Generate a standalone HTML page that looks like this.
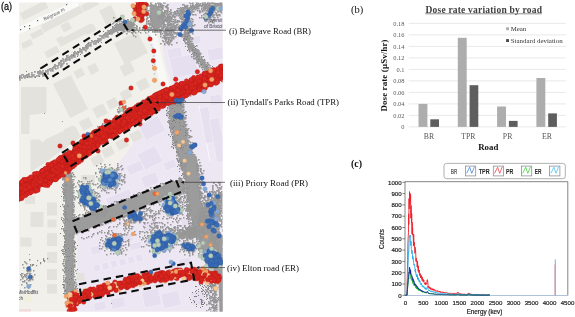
<!DOCTYPE html>
<html><head><meta charset="utf-8"><title>Figure</title><style>html,body{margin:0;padding:0;background:#fff}svg{display:block}</style></head><body>
<svg width="575" height="317" viewBox="0 0 575 317">
<rect width="575" height="317" fill="#fff"/>
<style>.r{fill:#d9251f;stroke:#b51a17}.b{fill:#3a6cb5;stroke:#2a569c}.m{fill:#5b89c6;stroke:#3f6fb0}.o{fill:#f2a36a;stroke:#dd874a}.p{fill:#f8c994;stroke:#e8ad72}.g{fill:#b8ccba;stroke:#9db3a3}.l{fill:#86a8d2;stroke:#6a8fc0}</style>
<defs><clipPath id="mc"><rect x="19" y="2.5" width="203.5" height="309.0"/></clipPath></defs>
<g clip-path="url(#mc)">
<rect x="18" y="2" width="206" height="311" fill="#f1f0eb"/>
<path d="M161 2L224 2L224 313L77 313L77 236L98 192L135 141L150 113L178 98L167 70L161 40Z" fill="#ece7f3"/>
<path d="M18 31L78 3" fill="none" stroke="#fafaf8" stroke-width="6.5" stroke-linecap="butt" stroke-linejoin="round"/>
<path d="M150 2L152 30L158 60L166 90" fill="none" stroke="#f8f8f6" stroke-width="8" stroke-linecap="butt" stroke-linejoin="round"/>
<path d="M199 106L210 161" fill="none" stroke="#f8f6fb" stroke-width="1.2" stroke-linecap="butt" stroke-linejoin="round"/>
<rect x="20" y="6.5" width="28" height="8" fill="#e3e2dc" transform="rotate(-27 34 10.5)"/>
<rect x="40" y="15" width="44" height="8" fill="#e3e2dc" transform="rotate(-27 62 19)"/>
<rect x="61.5" y="23" width="9" height="8" fill="#e3e2dc" transform="rotate(-27 66 27)"/>
<rect x="30.5" y="31" width="13" height="6" fill="#e3e2dc" transform="rotate(-27 37 34)"/>
<rect x="21.5" y="41" width="11" height="6" fill="#e3e2dc" transform="rotate(-27 27 44)"/>
<rect x="56.5" y="37" width="7" height="4" fill="#e3e2dc" transform="rotate(-27 60 39)"/>
<rect x="57" y="31.5" width="38" height="7" fill="#e3e2dc" transform="rotate(-27 76 35)"/>
<rect x="84.5" y="26" width="11" height="7" fill="#e3e2dc" transform="rotate(-27 90 29.5)"/>
<rect x="81.5" y="1.5" width="17" height="7" fill="#e3e2dc" transform="rotate(-27 90 5)"/>
<rect x="102" y="7" width="13" height="16" fill="#e3e2dc" transform="rotate(-27 108.5 15)"/>
<rect x="45" y="48.5" width="14" height="7" fill="#e3e2dc" transform="rotate(-27 52 52)"/>
<rect x="118" y="36" width="26" height="24" fill="#e3e2dc" transform="rotate(-27 131 48)"/>
<rect x="60.5" y="77.5" width="20" height="38" fill="#e3e2dc" transform="rotate(-27 70.5 96.5)"/>
<rect x="94" y="105.5" width="12" height="11" fill="#e3e2dc" transform="rotate(-27 100 111)"/>
<rect x="107.6" y="98.9" width="10" height="9" fill="#e3e2dc" transform="rotate(-27 112.6 103.4)"/>
<rect x="121" y="90.1" width="10" height="9" fill="#e3e2dc" transform="rotate(-27 126 94.6)"/>
<rect x="137.4" y="79.5" width="11" height="10" fill="#e3e2dc" transform="rotate(-27 142.9 84.5)"/>
<rect x="121.2" y="63.4" width="12" height="11" fill="#e3e2dc" transform="rotate(-27 127.2 68.9)"/>
<rect x="74.8" y="69.2" width="9" height="8" fill="#e3e2dc" transform="rotate(-27 79.3 73.2)"/>
<rect x="88.7" y="64.4" width="9" height="9" fill="#e3e2dc" transform="rotate(-27 93.2 68.9)"/>
<rect x="80.5" y="119" width="11" height="10" fill="#e3e2dc" transform="rotate(-27 86 124)"/>
<rect x="102.5" y="147.5" width="11" height="9" fill="#e3e2dc" transform="rotate(-27 108 152)"/>
<rect x="116.5" y="139.5" width="11" height="9" fill="#e3e2dc" transform="rotate(-27 122 144)"/>
<rect x="130.5" y="131.5" width="11" height="9" fill="#e3e2dc" transform="rotate(-27 136 136)"/>
<rect x="91.5" y="155.5" width="11" height="9" fill="#e3e2dc" transform="rotate(-27 97 160)"/>
<rect x="65" y="127" width="10" height="8" fill="#e3e2dc" transform="rotate(-27 70 131)"/>
<rect x="47" y="202.5" width="10" height="13" fill="#e3e2dc"/>
<rect x="47.5" y="219.5" width="9" height="8" fill="#e3e2dc"/>
<rect x="47" y="233" width="10" height="13" fill="#e3e2dc"/>
<rect x="47" y="252" width="10" height="11" fill="#e3e2dc"/>
<rect x="47" y="269" width="10" height="11" fill="#e3e2dc"/>
<rect x="47" y="284.2" width="10" height="9.5" fill="#e3e2dc"/>
<rect x="30.5" y="212" width="13" height="15" fill="#e3e2dc"/>
<rect x="20.5" y="237.5" width="11" height="9" fill="#e3e2dc"/>
<rect x="81" y="175" width="14" height="10" fill="#e3e2dc"/>
<rect x="79.5" y="288" width="9" height="8" fill="#e3e2dc"/>
<rect x="25" y="196" width="10" height="8" fill="#e3e2dc"/>
<rect x="18" y="309" width="13" height="4" fill="#f1dcdc"/><rect x="22.7" y="294.4" width="9.5" height="7.4" fill="#f1f0de"/>
<path d="M21 87L46.5 87L46.5 113L29.5 115L29.5 134L21 134ZM30.5 139.5L39.5 139.5L42.5 142.5L47 138.5L75 126L81 137L40 166L30.5 172Z" fill="#e3e2dc"/>
<rect x="168" y="48" width="14" height="12" fill="#e5dff0" transform="rotate(-10 175 54)" stroke="#f4f1f8" stroke-width="0.5"/>
<rect x="171" y="56" width="26" height="20" fill="#e5dff0" transform="rotate(-12 184 66)" stroke="#f4f1f8" stroke-width="0.5"/>
<rect x="208" y="48" width="16" height="12" fill="#e5dff0" transform="rotate(-10 216 54)" stroke="#f4f1f8" stroke-width="0.5"/>
<rect x="191" y="36" width="10" height="8" fill="#e5dff0" transform="rotate(-10 196 40)" stroke="#f4f1f8" stroke-width="0.5"/>
<rect x="141" y="119.5" width="22" height="17" fill="#e5dff0" transform="rotate(-27 152 128)" stroke="#f4f1f8" stroke-width="0.5"/>
<rect x="140" y="149" width="20" height="18" fill="#e5dff0" transform="rotate(-27 150 158)" stroke="#f4f1f8" stroke-width="0.5"/>
<rect x="202.5" y="107" width="9" height="36" fill="#e5dff0" transform="rotate(-10 207 125)" stroke="#f4f1f8" stroke-width="0.5"/>
<rect x="213" y="118" width="10" height="44" fill="#e5dff0" transform="rotate(-10 218 140)" stroke="#f4f1f8" stroke-width="0.5"/>
<rect x="210" y="95" width="12" height="10" fill="#e5dff0" transform="rotate(-10 216 100)" stroke="#f4f1f8" stroke-width="0.5"/>
<rect x="107" y="193" width="26" height="14" fill="#e5dff0" transform="rotate(-22 120 200)" stroke="#f4f1f8" stroke-width="0.5"/>
<rect x="142" y="174" width="16" height="12" fill="#e5dff0" transform="rotate(-22 150 180)" stroke="#f4f1f8" stroke-width="0.5"/>
<rect x="127" y="163" width="16" height="10" fill="#e5dff0" transform="rotate(-22 135 168)" stroke="#f4f1f8" stroke-width="0.5"/>
<rect x="164" y="161" width="12" height="8" fill="#e5dff0" transform="rotate(-22 170 165)" stroke="#f4f1f8" stroke-width="0.5"/>
<rect x="99" y="217.5" width="12" height="9" fill="#e5dff0" transform="rotate(-22 105 222)" stroke="#f4f1f8" stroke-width="0.5"/>
<rect x="93.8" y="264.5" width="6.5" height="7" fill="#e5dff0" transform="rotate(-14 97 268)" stroke="#f4f1f8" stroke-width="0.5"/>
<rect x="102.2" y="262.5" width="6.5" height="7" fill="#e5dff0" transform="rotate(-14 105.5 266)" stroke="#f4f1f8" stroke-width="0.5"/>
<rect x="110.8" y="260.5" width="6.5" height="7" fill="#e5dff0" transform="rotate(-14 114 264)" stroke="#f4f1f8" stroke-width="0.5"/>
<rect x="119.2" y="258.5" width="6.5" height="7" fill="#e5dff0" transform="rotate(-14 122.5 262)" stroke="#f4f1f8" stroke-width="0.5"/>
<rect x="127.8" y="256.5" width="6.5" height="7" fill="#e5dff0" transform="rotate(-14 131 260)" stroke="#f4f1f8" stroke-width="0.5"/>
<rect x="136.2" y="254.5" width="6.5" height="7" fill="#e5dff0" transform="rotate(-14 139.5 258)" stroke="#f4f1f8" stroke-width="0.5"/>
<rect x="130" y="242.5" width="12" height="7" fill="#e5dff0" transform="rotate(-14 136 246)" stroke="#f4f1f8" stroke-width="0.5"/>
<rect x="144" y="239.5" width="12" height="7" fill="#e5dff0" transform="rotate(-14 150 243)" stroke="#f4f1f8" stroke-width="0.5"/>
<rect x="91" y="246" width="10" height="8" fill="#e5dff0" transform="rotate(-14 96 250)" stroke="#f4f1f8" stroke-width="0.5"/>
<rect x="143" y="289.5" width="17" height="17" fill="#e5dff0" transform="rotate(-12 151.5 298)" stroke="#f4f1f8" stroke-width="0.5"/>
<rect x="162" y="292" width="18" height="15" fill="#e5dff0" transform="rotate(-12 171 299.5)" stroke="#f4f1f8" stroke-width="0.5"/>
<rect x="191" y="291" width="14" height="14" fill="#e5dff0" transform="rotate(-12 198 298)" stroke="#f4f1f8" stroke-width="0.5"/>
<rect x="111" y="298" width="14" height="10" fill="#e5dff0" transform="rotate(-12 118 303)" stroke="#f4f1f8" stroke-width="0.5"/>
<rect x="94" y="302" width="12" height="8" fill="#e5dff0" transform="rotate(-12 100 306)" stroke="#f4f1f8" stroke-width="0.5"/>
<rect x="142" y="221" width="16" height="10" fill="#e5dff0" transform="rotate(-20 150 226)" stroke="#f4f1f8" stroke-width="0.5"/>
<rect x="181" y="218" width="10" height="8" fill="#e5dff0" transform="rotate(-20 186 222)" stroke="#f4f1f8" stroke-width="0.5"/>
<rect x="123" y="234" width="10" height="8" fill="#e5dff0" transform="rotate(-20 128 238)" stroke="#f4f1f8" stroke-width="0.5"/>
<rect x="179" y="258" width="12" height="8" fill="#e5dff0" transform="rotate(-12 185 262)" stroke="#f4f1f8" stroke-width="0.5"/>
<path fill="#9e9e9e" d="M66 55h1.8v1.8h-1.8zM69 56h1.8v1.8h-1.8zM73 53h1.8v1.8h-1.8zM74 53h1.8v1.8h-1.8zM87 46h1.8v1.8h-1.8zM52 67h1.8v1.8h-1.8zM27 76h1.8v1.8h-1.8zM21 74h1.8v1.8h-1.8zM125 25h1.8v1.8h-1.8zM85 46h1.8v1.8h-1.8zM36 75h1.8v1.8h-1.8zM23 76h1.8v1.8h-1.8zM39 73h1.8v1.8h-1.8zM69 57h1.8v1.8h-1.8zM67 59h1.8v1.8h-1.8zM87 44h1.8v1.8h-1.8zM73 54h1.8v1.8h-1.8zM49 68h1.8v1.8h-1.8zM127 24h1.8v1.8h-1.8zM95 40h1.8v1.8h-1.8zM54 67h1.8v1.8h-1.8zM25 76h1.8v1.8h-1.8zM100 35h1.8v1.8h-1.8zM62 63h1.8v1.8h-1.8zM122 24h1.8v1.8h-1.8zM42 72h1.8v1.8h-1.8zM116 27h1.8v1.8h-1.8zM25 76h1.8v1.8h-1.8zM87 46h1.8v1.8h-1.8zM27 74h1.8v1.8h-1.8zM57 67h1.8v1.8h-1.8zM31 74h1.8v1.8h-1.8zM46 71h1.8v1.8h-1.8zM104 35h1.8v1.8h-1.8zM38 72h1.8v1.8h-1.8zM39 72h1.8v1.8h-1.8zM98 40h1.8v1.8h-1.8zM31 76h1.8v1.8h-1.8zM65 60h1.8v1.8h-1.8zM123 25h1.8v1.8h-1.8zM104 33h1.8v1.8h-1.8zM43 75h1.8v1.8h-1.8zM63 62h1.8v1.8h-1.8zM28 73h1.8v1.8h-1.8zM125 23h1.8v1.8h-1.8zM102 37h1.8v1.8h-1.8zM55 65h1.8v1.8h-1.8zM27 75h1.8v1.8h-1.8zM82 49h1.8v1.8h-1.8zM61 64h1.8v1.8h-1.8zM69 59h1.8v1.8h-1.8zM81 49h1.8v1.8h-1.8zM112 30h1.8v1.8h-1.8zM117 28h1.8v1.8h-1.8zM107 33h1.8v1.8h-1.8zM99 39h1.8v1.8h-1.8zM120 27h1.8v1.8h-1.8zM114 30h1.8v1.8h-1.8zM65 60h1.8v1.8h-1.8zM122 24h1.8v1.8h-1.8zM45 70h1.8v1.8h-1.8zM107 32h1.8v1.8h-1.8zM83 48h1.8v1.8h-1.8zM97 40h1.8v1.8h-1.8zM25 75h1.8v1.8h-1.8zM111 33h1.8v1.8h-1.8zM85 46h1.8v1.8h-1.8zM42 75h1.8v1.8h-1.8zM18 76h1.8v1.8h-1.8zM24 77h1.8v1.8h-1.8zM38 72h1.8v1.8h-1.8zM32 75h1.8v1.8h-1.8zM60 66h1.8v1.8h-1.8zM88 42h1.8v1.8h-1.8zM93 41h1.8v1.8h-1.8zM20 76h1.8v1.8h-1.8zM19 78h1.8v1.8h-1.8zM121 23h1.8v1.8h-1.8zM19 75h1.8v1.8h-1.8zM97 38h1.8v1.8h-1.8zM54 67h1.8v1.8h-1.8zM78 51h1.8v1.8h-1.8zM99 40h1.8v1.8h-1.8zM94 40h1.8v1.8h-1.8zM105 36h1.8v1.8h-1.8zM92 41h1.8v1.8h-1.8zM116 29h1.8v1.8h-1.8zM103 34h1.8v1.8h-1.8zM110 29h1.8v1.8h-1.8zM60 61h1.8v1.8h-1.8zM82 48h1.8v1.8h-1.8zM88 45h1.8v1.8h-1.8zM126 24h1.8v1.8h-1.8zM60 60h1.8v1.8h-1.8zM97 38h1.8v1.8h-1.8zM108 31h1.8v1.8h-1.8zM26 75h1.8v1.8h-1.8zM84 47h1.8v1.8h-1.8zM71 56h1.8v1.8h-1.8zM74 56h1.8v1.8h-1.8zM86 48h1.8v1.8h-1.8zM17 76h1.8v1.8h-1.8zM52 67h1.8v1.8h-1.8zM37 72h1.8v1.8h-1.8zM115 27h1.8v1.8h-1.8zM114 27h1.8v1.8h-1.8zM55 65h1.8v1.8h-1.8zM65 58h1.8v1.8h-1.8zM107 36h1.8v1.8h-1.8zM60 61h1.8v1.8h-1.8zM82 49h1.8v1.8h-1.8zM73 55h1.8v1.8h-1.8zM109 33h1.8v1.8h-1.8zM120 23h1.8v1.8h-1.8zM50 70h1.8v1.8h-1.8zM50 70h1.8v1.8h-1.8zM42 70h1.8v1.8h-1.8zM73 56h1.8v1.8h-1.8zM55 68h1.8v1.8h-1.8zM67 55h1.8v1.8h-1.8zM20 76h1.8v1.8h-1.8zM95 40h1.8v1.8h-1.8zM80 49h1.8v1.8h-1.8zM19 79h1.8v1.8h-1.8zM33 74h1.8v1.8h-1.8zM108 33h1.8v1.8h-1.8zM45 71h1.8v1.8h-1.8zM87 46h1.8v1.8h-1.8zM67 57h1.8v1.8h-1.8zM105 33h1.8v1.8h-1.8zM121 24h1.8v1.8h-1.8zM70 55h1.8v1.8h-1.8zM38 75h1.8v1.8h-1.8zM96 40h1.8v1.8h-1.8zM38 73h1.8v1.8h-1.8zM95 42h1.8v1.8h-1.8zM74 51h1.8v1.8h-1.8zM61 60h1.8v1.8h-1.8zM104 35h1.8v1.8h-1.8zM119 26h1.8v1.8h-1.8zM97 41h1.8v1.8h-1.8zM87 47h1.8v1.8h-1.8zM116 26h1.8v1.8h-1.8zM114 30h1.8v1.8h-1.8zM105 36h1.8v1.8h-1.8zM89 44h1.8v1.8h-1.8zM41 72h1.8v1.8h-1.8zM87 43h1.8v1.8h-1.8zM96 41h1.8v1.8h-1.8zM125 26h1.8v1.8h-1.8zM122 21h1.8v1.8h-1.8zM54 66h1.8v1.8h-1.8zM117 28h1.8v1.8h-1.8zM26 74h1.8v1.8h-1.8zM66 56h1.8v1.8h-1.8zM71 54h1.8v1.8h-1.8zM20 76h1.8v1.8h-1.8zM104 34h1.8v1.8h-1.8zM37 72h1.8v1.8h-1.8zM34 76h1.8v1.8h-1.8zM34 71h1.8v1.8h-1.8zM109 32h1.8v1.8h-1.8zM94 43h1.8v1.8h-1.8zM120 24h1.8v1.8h-1.8zM27 75h1.8v1.8h-1.8zM52 70h1.8v1.8h-1.8zM97 38h1.8v1.8h-1.8zM108 30h1.8v1.8h-1.8zM79 50h1.8v1.8h-1.8zM110 33h1.8v1.8h-1.8zM116 29h1.8v1.8h-1.8zM124 26h1.8v1.8h-1.8zM75 52h1.8v1.8h-1.8zM77 52h1.8v1.8h-1.8zM73 54h1.8v1.8h-1.8zM123 24h1.8v1.8h-1.8zM74 51h1.8v1.8h-1.8zM80 51h1.8v1.8h-1.8zM72 55h1.8v1.8h-1.8zM77 51h1.8v1.8h-1.8zM66 63h1.8v1.8h-1.8zM48 69h1.8v1.8h-1.8zM71 57h1.8v1.8h-1.8zM107 34h1.8v1.8h-1.8zM115 27h1.8v1.8h-1.8zM40 73h1.8v1.8h-1.8zM86 47h1.8v1.8h-1.8zM102 36h1.8v1.8h-1.8zM19 77h1.8v1.8h-1.8zM93 43h1.8v1.8h-1.8zM54 65h1.8v1.8h-1.8zM29 76h1.8v1.8h-1.8zM98 40h1.8v1.8h-1.8zM47 71h1.8v1.8h-1.8zM40 71h1.8v1.8h-1.8zM60 62h1.8v1.8h-1.8zM63 59h1.8v1.8h-1.8zM41 72h1.8v1.8h-1.8zM86 45h1.8v1.8h-1.8zM109 30h1.8v1.8h-1.8zM85 47h1.8v1.8h-1.8zM98 38h1.8v1.8h-1.8zM106 35h1.8v1.8h-1.8zM53 66h1.8v1.8h-1.8zM118 27h1.8v1.8h-1.8zM113 27h1.8v1.8h-1.8zM45 71h1.8v1.8h-1.8zM28 74h1.8v1.8h-1.8zM107 30h1.8v1.8h-1.8zM32 75h1.8v1.8h-1.8zM63 61h1.8v1.8h-1.8zM41 72h1.8v1.8h-1.8zM91 40h1.8v1.8h-1.8zM73 52h1.8v1.8h-1.8zM99 35h1.8v1.8h-1.8zM39 73h1.8v1.8h-1.8zM25 76h1.8v1.8h-1.8zM79 51h1.8v1.8h-1.8zM74 53h1.8v1.8h-1.8zM39 73h1.8v1.8h-1.8zM42 74h1.8v1.8h-1.8zM117 24h1.8v1.8h-1.8zM24 77h1.8v1.8h-1.8zM101 36h1.8v1.8h-1.8zM54 64h1.8v1.8h-1.8zM66 59h1.8v1.8h-1.8zM85 50h1.8v1.8h-1.8zM109 32h1.8v1.8h-1.8zM38 71h1.8v1.8h-1.8zM63 61h1.8v1.8h-1.8zM40 73h1.8v1.8h-1.8zM18 78h1.8v1.8h-1.8zM115 29h1.8v1.8h-1.8zM110 29h1.8v1.8h-1.8zM86 44h1.8v1.8h-1.8zM74 55h1.8v1.8h-1.8zM124 23h1.8v1.8h-1.8zM116 26h1.8v1.8h-1.8zM99 39h1.8v1.8h-1.8zM62 58h1.8v1.8h-1.8zM116 30h1.8v1.8h-1.8zM100 35h1.8v1.8h-1.8zM100 35h1.8v1.8h-1.8zM25 76h1.8v1.8h-1.8zM56 65h1.8v1.8h-1.8zM58 64h1.8v1.8h-1.8zM87 45h1.8v1.8h-1.8zM120 25h1.8v1.8h-1.8zM90 42h1.8v1.8h-1.8zM81 51h1.8v1.8h-1.8zM77 53h1.8v1.8h-1.8zM95 42h1.8v1.8h-1.8zM125 25h1.8v1.8h-1.8zM98 39h1.8v1.8h-1.8zM47 70h1.8v1.8h-1.8zM40 73h1.8v1.8h-1.8zM60 63h1.8v1.8h-1.8zM116 28h1.8v1.8h-1.8zM79 51h1.8v1.8h-1.8zM125 22h1.8v1.8h-1.8zM88 45h1.8v1.8h-1.8zM83 47h1.8v1.8h-1.8zM99 35h1.8v1.8h-1.8zM71 57h1.8v1.8h-1.8zM37 71h1.8v1.8h-1.8zM23 75h1.8v1.8h-1.8zM119 24h1.8v1.8h-1.8zM84 49h1.8v1.8h-1.8zM59 63h1.8v1.8h-1.8zM81 52h1.8v1.8h-1.8zM50 68h1.8v1.8h-1.8zM18 75h1.8v1.8h-1.8zM46 71h1.8v1.8h-1.8zM100 38h1.8v1.8h-1.8zM62 63h1.8v1.8h-1.8zM22 74h1.8v1.8h-1.8zM125 23h1.8v1.8h-1.8zM116 27h1.8v1.8h-1.8zM65 58h1.8v1.8h-1.8zM76 53h1.8v1.8h-1.8zM119 25h1.8v1.8h-1.8zM123 22h1.8v1.8h-1.8zM106 33h1.8v1.8h-1.8zM86 46h1.8v1.8h-1.8zM68 57h1.8v1.8h-1.8zM76 53h1.8v1.8h-1.8zM31 72h1.8v1.8h-1.8zM69 58h1.8v1.8h-1.8zM47 69h1.8v1.8h-1.8zM102 35h1.8v1.8h-1.8zM77 54h1.8v1.8h-1.8zM45 71h1.8v1.8h-1.8zM30 76h1.8v1.8h-1.8zM85 45h1.8v1.8h-1.8zM58 63h1.8v1.8h-1.8zM81 52h1.8v1.8h-1.8zM82 47h1.8v1.8h-1.8zM39 71h1.8v1.8h-1.8zM47 73h1.8v1.8h-1.8zM113 29h1.8v1.8h-1.8zM21 77h1.8v1.8h-1.8zM65 60h1.8v1.8h-1.8zM87 47h1.8v1.8h-1.8zM25 76h1.8v1.8h-1.8zM27 74h1.8v1.8h-1.8zM86 44h1.8v1.8h-1.8zM59 62h1.8v1.8h-1.8zM57 65h1.8v1.8h-1.8zM99 38h1.8v1.8h-1.8zM31 74h1.8v1.8h-1.8zM105 32h1.8v1.8h-1.8zM42 70h1.8v1.8h-1.8zM65 59h1.8v1.8h-1.8zM61 65h1.8v1.8h-1.8zM90 45h1.8v1.8h-1.8zM78 51h1.8v1.8h-1.8zM100 39h1.8v1.8h-1.8zM59 62h1.8v1.8h-1.8zM28 75h1.8v1.8h-1.8zM26 75h1.8v1.8h-1.8zM79 48h1.8v1.8h-1.8zM52 68h1.8v1.8h-1.8zM103 37h1.8v1.8h-1.8zM90 44h1.8v1.8h-1.8zM26 74h1.8v1.8h-1.8zM95 43h1.8v1.8h-1.8zM51 69h1.8v1.8h-1.8zM97 40h1.8v1.8h-1.8zM60 65h1.8v1.8h-1.8zM81 51h1.8v1.8h-1.8zM119 29h1.8v1.8h-1.8zM66 57h1.8v1.8h-1.8zM105 34h1.8v1.8h-1.8zM63 62h1.8v1.8h-1.8zM119 27h1.8v1.8h-1.8zM58 63h1.8v1.8h-1.8zM58 62h1.8v1.8h-1.8zM62 63h1.8v1.8h-1.8zM39 70h1.8v1.8h-1.8zM77 51h1.8v1.8h-1.8z"/>
<path fill="#7d7d7d" d="M109 33h1.0v1.0h-1.0zM39 76h1.0v1.0h-1.0zM112 28h1.0v1.0h-1.0zM19 77h1.0v1.0h-1.0zM78 52h1.0v1.0h-1.0zM124 26h1.0v1.0h-1.0zM103 31h1.0v1.0h-1.0zM80 54h1.0v1.0h-1.0zM26 71h1.0v1.0h-1.0zM101 42h1.0v1.0h-1.0zM27 77h1.0v1.0h-1.0zM35 77h1.0v1.0h-1.0zM88 43h1.0v1.0h-1.0zM44 74h1.0v1.0h-1.0zM77 56h1.0v1.0h-1.0zM61 60h1.0v1.0h-1.0zM124 26h1.0v1.0h-1.0zM73 55h1.0v1.0h-1.0zM98 42h1.0v1.0h-1.0zM117 27h1.0v1.0h-1.0z"/>
<path fill="#969696" d="M125 21h1.6v1.6h-1.6zM127 20h1.6v1.6h-1.6zM127 19h1.6v1.6h-1.6zM128 24h1.6v1.6h-1.6zM115 24h1.6v1.6h-1.6zM124 22h1.6v1.6h-1.6zM120 26h1.6v1.6h-1.6zM121 17h1.6v1.6h-1.6zM120 27h1.6v1.6h-1.6zM124 29h1.6v1.6h-1.6zM119 33h1.6v1.6h-1.6zM126 26h1.6v1.6h-1.6zM127 29h1.6v1.6h-1.6zM123 23h1.6v1.6h-1.6zM127 27h1.6v1.6h-1.6zM114 21h1.6v1.6h-1.6zM124 26h1.6v1.6h-1.6zM123 27h1.6v1.6h-1.6zM123 31h1.6v1.6h-1.6zM120 24h1.6v1.6h-1.6zM124 28h1.6v1.6h-1.6zM126 30h1.6v1.6h-1.6zM120 29h1.6v1.6h-1.6zM124 22h1.6v1.6h-1.6zM122 32h1.6v1.6h-1.6zM126 24h1.6v1.6h-1.6zM112 23h1.6v1.6h-1.6zM119 25h1.6v1.6h-1.6zM132 28h1.6v1.6h-1.6zM124 22h1.6v1.6h-1.6zM117 24h1.6v1.6h-1.6zM120 33h1.6v1.6h-1.6zM120 23h1.6v1.6h-1.6zM127 25h1.6v1.6h-1.6zM117 30h1.6v1.6h-1.6zM121 21h1.6v1.6h-1.6zM124 27h1.6v1.6h-1.6zM121 28h1.6v1.6h-1.6zM126 22h1.6v1.6h-1.6zM113 17h1.6v1.6h-1.6zM122 30h1.6v1.6h-1.6zM127 30h1.6v1.6h-1.6zM131 25h1.6v1.6h-1.6zM127 20h1.6v1.6h-1.6zM125 27h1.6v1.6h-1.6zM122 24h1.6v1.6h-1.6zM117 26h1.6v1.6h-1.6zM128 24h1.6v1.6h-1.6zM125 23h1.6v1.6h-1.6zM123 22h1.6v1.6h-1.6zM124 24h1.6v1.6h-1.6zM124 23h1.6v1.6h-1.6zM117 24h1.6v1.6h-1.6zM127 31h1.6v1.6h-1.6zM121 28h1.6v1.6h-1.6zM126 27h1.6v1.6h-1.6zM115 26h1.6v1.6h-1.6zM118 29h1.6v1.6h-1.6zM126 27h1.6v1.6h-1.6zM112 27h1.6v1.6h-1.6zM125 21h1.6v1.6h-1.6zM127 25h1.6v1.6h-1.6zM121 23h1.6v1.6h-1.6zM118 24h1.6v1.6h-1.6zM132 26h1.6v1.6h-1.6zM123 23h1.6v1.6h-1.6zM119 23h1.6v1.6h-1.6zM118 28h1.6v1.6h-1.6zM121 28h1.6v1.6h-1.6zM117 28h1.6v1.6h-1.6zM122 28h1.6v1.6h-1.6zM122 22h1.6v1.6h-1.6zM128 24h1.6v1.6h-1.6zM122 22h1.6v1.6h-1.6zM123 24h1.6v1.6h-1.6zM123 26h1.6v1.6h-1.6zM119 20h1.6v1.6h-1.6zM124 28h1.6v1.6h-1.6zM125 21h1.6v1.6h-1.6zM125 27h1.6v1.6h-1.6zM123 27h1.6v1.6h-1.6zM121 26h1.6v1.6h-1.6zM126 23h1.6v1.6h-1.6zM116 25h1.6v1.6h-1.6zM123 19h1.6v1.6h-1.6zM119 27h1.6v1.6h-1.6zM122 26h1.6v1.6h-1.6zM117 28h1.6v1.6h-1.6zM130 25h1.6v1.6h-1.6zM119 21h1.6v1.6h-1.6zM126 26h1.6v1.6h-1.6zM119 29h1.6v1.6h-1.6zM126 27h1.6v1.6h-1.6zM114 25h1.6v1.6h-1.6zM125 21h1.6v1.6h-1.6zM126 30h1.6v1.6h-1.6zM127 23h1.6v1.6h-1.6zM119 28h1.6v1.6h-1.6zM127 30h1.6v1.6h-1.6zM128 25h1.6v1.6h-1.6zM120 19h1.6v1.6h-1.6zM126 33h1.6v1.6h-1.6zM120 24h1.6v1.6h-1.6zM125 27h1.6v1.6h-1.6zM116 23h1.6v1.6h-1.6zM117 32h1.6v1.6h-1.6zM119 28h1.6v1.6h-1.6zM131 32h1.6v1.6h-1.6zM129 31h1.6v1.6h-1.6zM117 24h1.6v1.6h-1.6zM119 24h1.6v1.6h-1.6zM132 19h1.6v1.6h-1.6zM125 21h1.6v1.6h-1.6zM128 30h1.6v1.6h-1.6zM120 32h1.6v1.6h-1.6zM123 30h1.6v1.6h-1.6zM124 23h1.6v1.6h-1.6zM120 25h1.6v1.6h-1.6zM125 26h1.6v1.6h-1.6zM132 25h1.6v1.6h-1.6zM120 23h1.6v1.6h-1.6zM119 20h1.6v1.6h-1.6zM118 28h1.6v1.6h-1.6zM122 25h1.6v1.6h-1.6zM124 29h1.6v1.6h-1.6zM125 28h1.6v1.6h-1.6zM120 24h1.6v1.6h-1.6zM119 25h1.6v1.6h-1.6zM119 24h1.6v1.6h-1.6zM121 24h1.6v1.6h-1.6zM121 23h1.6v1.6h-1.6zM128 24h1.6v1.6h-1.6zM118 26h1.6v1.6h-1.6zM117 21h1.6v1.6h-1.6zM123 19h1.6v1.6h-1.6zM112 26h1.6v1.6h-1.6zM127 19h1.6v1.6h-1.6zM118 27h1.6v1.6h-1.6zM113 22h1.6v1.6h-1.6zM117 25h1.6v1.6h-1.6zM113 28h1.6v1.6h-1.6zM122 26h1.6v1.6h-1.6zM121 18h1.6v1.6h-1.6zM122 21h1.6v1.6h-1.6zM122 22h1.6v1.6h-1.6zM121 24h1.6v1.6h-1.6zM126 28h1.6v1.6h-1.6zM118 25h1.6v1.6h-1.6zM129 27h1.6v1.6h-1.6zM119 25h1.6v1.6h-1.6zM121 28h1.6v1.6h-1.6zM122 27h1.6v1.6h-1.6zM132 20h1.6v1.6h-1.6zM118 19h1.6v1.6h-1.6zM115 28h1.6v1.6h-1.6zM124 31h1.6v1.6h-1.6zM113 22h1.6v1.6h-1.6zM129 29h1.6v1.6h-1.6zM126 28h1.6v1.6h-1.6zM122 25h1.6v1.6h-1.6zM122 28h1.6v1.6h-1.6zM121 26h1.6v1.6h-1.6zM129 21h1.6v1.6h-1.6zM119 27h1.6v1.6h-1.6zM121 25h1.6v1.6h-1.6zM132 27h1.6v1.6h-1.6zM120 29h1.6v1.6h-1.6zM132 21h1.6v1.6h-1.6zM119 26h1.6v1.6h-1.6zM119 33h1.6v1.6h-1.6z"/>
<path d="M112 31.4L127.5 22.6" fill="none" stroke="#9c9c9c" stroke-width="5" stroke-linecap="round" stroke-linejoin="round"/>
<path d="M122 28L131 24" fill="none" stroke="#9c9c9c" stroke-width="6.5" stroke-linecap="round" stroke-linejoin="round"/>
<path fill="#969696" d="M131 23h1.6v1.6h-1.6zM131 22h1.6v1.6h-1.6zM127 24h1.6v1.6h-1.6zM136 19h1.6v1.6h-1.6zM130 28h1.6v1.6h-1.6zM131 29h1.6v1.6h-1.6zM131 25h1.6v1.6h-1.6zM129 22h1.6v1.6h-1.6zM134 21h1.6v1.6h-1.6zM129 23h1.6v1.6h-1.6zM127 19h1.6v1.6h-1.6zM128 25h1.6v1.6h-1.6zM130 26h1.6v1.6h-1.6zM129 23h1.6v1.6h-1.6zM130 26h1.6v1.6h-1.6zM126 20h1.6v1.6h-1.6zM126 27h1.6v1.6h-1.6zM132 22h1.6v1.6h-1.6zM130 26h1.6v1.6h-1.6zM133 23h1.6v1.6h-1.6zM128 28h1.6v1.6h-1.6zM136 28h1.6v1.6h-1.6zM126 25h1.6v1.6h-1.6zM128 24h1.6v1.6h-1.6zM127 23h1.6v1.6h-1.6zM129 29h1.6v1.6h-1.6zM131 25h1.6v1.6h-1.6zM129 22h1.6v1.6h-1.6zM129 27h1.6v1.6h-1.6zM132 29h1.6v1.6h-1.6zM130 24h1.6v1.6h-1.6zM124 25h1.6v1.6h-1.6zM124 28h1.6v1.6h-1.6zM127 24h1.6v1.6h-1.6zM125 23h1.6v1.6h-1.6zM126 27h1.6v1.6h-1.6zM130 21h1.6v1.6h-1.6zM123 24h1.6v1.6h-1.6zM128 21h1.6v1.6h-1.6zM131 24h1.6v1.6h-1.6zM130 23h1.6v1.6h-1.6zM127 23h1.6v1.6h-1.6zM124 26h1.6v1.6h-1.6zM130 20h1.6v1.6h-1.6zM130 27h1.6v1.6h-1.6zM130 27h1.6v1.6h-1.6zM128 24h1.6v1.6h-1.6zM125 22h1.6v1.6h-1.6zM124 22h1.6v1.6h-1.6zM130 25h1.6v1.6h-1.6zM133 25h1.6v1.6h-1.6zM126 25h1.6v1.6h-1.6zM129 29h1.6v1.6h-1.6zM135 27h1.6v1.6h-1.6zM126 23h1.6v1.6h-1.6zM130 22h1.6v1.6h-1.6zM131 26h1.6v1.6h-1.6zM132 25h1.6v1.6h-1.6zM127 22h1.6v1.6h-1.6zM129 28h1.6v1.6h-1.6zM134 27h1.6v1.6h-1.6zM130 26h1.6v1.6h-1.6zM132 27h1.6v1.6h-1.6zM132 20h1.6v1.6h-1.6zM132 25h1.6v1.6h-1.6zM128 26h1.6v1.6h-1.6zM130 24h1.6v1.6h-1.6zM124 24h1.6v1.6h-1.6zM131 24h1.6v1.6h-1.6zM124 25h1.6v1.6h-1.6zM131 25h1.6v1.6h-1.6zM130 23h1.6v1.6h-1.6zM127 26h1.6v1.6h-1.6zM128 25h1.6v1.6h-1.6zM136 26h1.6v1.6h-1.6zM130 20h1.6v1.6h-1.6zM129 26h1.6v1.6h-1.6zM127 24h1.6v1.6h-1.6zM123 26h1.6v1.6h-1.6zM127 26h1.6v1.6h-1.6zM133 24h1.6v1.6h-1.6zM132 25h1.6v1.6h-1.6zM129 23h1.6v1.6h-1.6zM127 27h1.6v1.6h-1.6zM132 22h1.6v1.6h-1.6zM132 22h1.6v1.6h-1.6zM125 27h1.6v1.6h-1.6zM125 27h1.6v1.6h-1.6zM130 26h1.6v1.6h-1.6zM131 27h1.6v1.6h-1.6zM130 26h1.6v1.6h-1.6zM130 27h1.6v1.6h-1.6zM128 27h1.6v1.6h-1.6zM134 24h1.6v1.6h-1.6zM131 23h1.6v1.6h-1.6zM128 25h1.6v1.6h-1.6zM128 22h1.6v1.6h-1.6zM129 25h1.6v1.6h-1.6zM130 26h1.6v1.6h-1.6zM124 28h1.6v1.6h-1.6zM129 22h1.6v1.6h-1.6zM128 25h1.6v1.6h-1.6zM132 23h1.6v1.6h-1.6zM130 20h1.6v1.6h-1.6zM130 24h1.6v1.6h-1.6zM128 26h1.6v1.6h-1.6zM135 27h1.6v1.6h-1.6zM127 28h1.6v1.6h-1.6zM128 24h1.6v1.6h-1.6zM127 25h1.6v1.6h-1.6z"/>
<path fill="#969696" d="M159 16h1.7v1.7h-1.7zM155 14h1.7v1.7h-1.7zM154 22h1.7v1.7h-1.7zM154 14h1.7v1.7h-1.7zM155 10h1.7v1.7h-1.7zM155 5h1.7v1.7h-1.7zM158 19h1.7v1.7h-1.7zM155 26h1.7v1.7h-1.7zM152 19h1.7v1.7h-1.7zM158 11h1.7v1.7h-1.7zM155 21h1.7v1.7h-1.7zM156 17h1.7v1.7h-1.7zM163 17h1.7v1.7h-1.7zM148 10h1.7v1.7h-1.7zM160 14h1.7v1.7h-1.7zM151 1h1.7v1.7h-1.7zM158 26h1.7v1.7h-1.7zM150 0h1.7v1.7h-1.7zM159 11h1.7v1.7h-1.7zM155 13h1.7v1.7h-1.7zM152 18h1.7v1.7h-1.7zM161 18h1.7v1.7h-1.7zM153 22h1.7v1.7h-1.7zM156 19h1.7v1.7h-1.7zM152 20h1.7v1.7h-1.7zM160 24h1.7v1.7h-1.7zM156 18h1.7v1.7h-1.7zM153 21h1.7v1.7h-1.7zM160 23h1.7v1.7h-1.7zM154 7h1.7v1.7h-1.7zM156 14h1.7v1.7h-1.7zM153 19h1.7v1.7h-1.7zM161 18h1.7v1.7h-1.7zM161 18h1.7v1.7h-1.7zM152 11h1.7v1.7h-1.7zM154 20h1.7v1.7h-1.7zM161 16h1.7v1.7h-1.7zM161 9h1.7v1.7h-1.7zM156 26h1.7v1.7h-1.7zM158 22h1.7v1.7h-1.7zM147 4h1.7v1.7h-1.7zM152 22h1.7v1.7h-1.7zM164 11h1.7v1.7h-1.7zM151 8h1.7v1.7h-1.7zM152 19h1.7v1.7h-1.7zM155 28h1.7v1.7h-1.7zM160 10h1.7v1.7h-1.7zM157 14h1.7v1.7h-1.7zM160 21h1.7v1.7h-1.7zM155 21h1.7v1.7h-1.7zM159 15h1.7v1.7h-1.7zM157 20h1.7v1.7h-1.7zM155 11h1.7v1.7h-1.7zM162 15h1.7v1.7h-1.7zM153 18h1.7v1.7h-1.7zM149 16h1.7v1.7h-1.7zM150 12h1.7v1.7h-1.7zM148 10h1.7v1.7h-1.7zM160 14h1.7v1.7h-1.7zM150 27h1.7v1.7h-1.7zM153 25h1.7v1.7h-1.7zM154 5h1.7v1.7h-1.7zM165 12h1.7v1.7h-1.7zM160 23h1.7v1.7h-1.7zM150 16h1.7v1.7h-1.7zM153 19h1.7v1.7h-1.7zM156 6h1.7v1.7h-1.7zM156 20h1.7v1.7h-1.7zM155 19h1.7v1.7h-1.7zM154 15h1.7v1.7h-1.7zM158 16h1.7v1.7h-1.7zM162 22h1.7v1.7h-1.7zM160 20h1.7v1.7h-1.7zM157 7h1.7v1.7h-1.7zM161 27h1.7v1.7h-1.7zM157 13h1.7v1.7h-1.7zM156 23h1.7v1.7h-1.7zM158 8h1.7v1.7h-1.7zM155 10h1.7v1.7h-1.7zM155 9h1.7v1.7h-1.7zM152 25h1.7v1.7h-1.7zM161 4h1.7v1.7h-1.7zM152 12h1.7v1.7h-1.7zM154 6h1.7v1.7h-1.7zM160 4h1.7v1.7h-1.7zM159 20h1.7v1.7h-1.7zM154 11h1.7v1.7h-1.7zM156 16h1.7v1.7h-1.7zM146 7h1.7v1.7h-1.7zM159 14h1.7v1.7h-1.7zM154 8h1.7v1.7h-1.7zM153 10h1.7v1.7h-1.7zM167 7h1.7v1.7h-1.7zM163 18h1.7v1.7h-1.7zM157 17h1.7v1.7h-1.7zM154 26h1.7v1.7h-1.7zM159 15h1.7v1.7h-1.7zM156 17h1.7v1.7h-1.7zM151 13h1.7v1.7h-1.7zM153 19h1.7v1.7h-1.7zM159 2h1.7v1.7h-1.7zM155 22h1.7v1.7h-1.7zM150 7h1.7v1.7h-1.7zM161 14h1.7v1.7h-1.7zM154 7h1.7v1.7h-1.7zM157 11h1.7v1.7h-1.7zM157 18h1.7v1.7h-1.7zM159 13h1.7v1.7h-1.7zM154 15h1.7v1.7h-1.7zM156 16h1.7v1.7h-1.7zM154 14h1.7v1.7h-1.7zM153 11h1.7v1.7h-1.7zM157 23h1.7v1.7h-1.7zM154 19h1.7v1.7h-1.7zM158 16h1.7v1.7h-1.7zM159 11h1.7v1.7h-1.7zM159 17h1.7v1.7h-1.7zM146 18h1.7v1.7h-1.7zM159 29h1.7v1.7h-1.7zM151 16h1.7v1.7h-1.7zM158 9h1.7v1.7h-1.7zM162 18h1.7v1.7h-1.7zM152 7h1.7v1.7h-1.7zM154 31h1.7v1.7h-1.7zM166 0h1.7v1.7h-1.7zM148 20h1.7v1.7h-1.7zM156 11h1.7v1.7h-1.7zM159 16h1.7v1.7h-1.7zM158 17h1.7v1.7h-1.7zM151 24h1.7v1.7h-1.7zM154 23h1.7v1.7h-1.7zM159 15h1.7v1.7h-1.7zM157 15h1.7v1.7h-1.7zM148 13h1.7v1.7h-1.7zM158 4h1.7v1.7h-1.7zM149 23h1.7v1.7h-1.7zM160 5h1.7v1.7h-1.7zM158 15h1.7v1.7h-1.7zM161 13h1.7v1.7h-1.7zM155 10h1.7v1.7h-1.7zM157 14h1.7v1.7h-1.7zM153 13h1.7v1.7h-1.7zM153 19h1.7v1.7h-1.7zM151 4h1.7v1.7h-1.7zM152 23h1.7v1.7h-1.7zM154 20h1.7v1.7h-1.7zM160 12h1.7v1.7h-1.7zM160 19h1.7v1.7h-1.7zM156 10h1.7v1.7h-1.7zM156 6h1.7v1.7h-1.7zM155 11h1.7v1.7h-1.7zM158 18h1.7v1.7h-1.7zM153 21h1.7v1.7h-1.7zM162 16h1.7v1.7h-1.7zM153 19h1.7v1.7h-1.7zM146 11h1.7v1.7h-1.7zM159 29h1.7v1.7h-1.7zM153 26h1.7v1.7h-1.7zM167 28h1.7v1.7h-1.7zM146 23h1.7v1.7h-1.7zM157 22h1.7v1.7h-1.7zM155 11h1.7v1.7h-1.7zM155 26h1.7v1.7h-1.7zM160 13h1.7v1.7h-1.7zM158 21h1.7v1.7h-1.7zM159 15h1.7v1.7h-1.7zM153 10h1.7v1.7h-1.7zM154 11h1.7v1.7h-1.7zM149 5h1.7v1.7h-1.7zM160 7h1.7v1.7h-1.7zM150 15h1.7v1.7h-1.7zM163 24h1.7v1.7h-1.7zM154 8h1.7v1.7h-1.7zM154 9h1.7v1.7h-1.7zM154 19h1.7v1.7h-1.7zM151 10h1.7v1.7h-1.7zM155 15h1.7v1.7h-1.7zM153 10h1.7v1.7h-1.7zM151 10h1.7v1.7h-1.7zM159 13h1.7v1.7h-1.7zM146 19h1.7v1.7h-1.7zM156 9h1.7v1.7h-1.7zM155 0h1.7v1.7h-1.7zM148 23h1.7v1.7h-1.7zM166 30h1.7v1.7h-1.7zM153 15h1.7v1.7h-1.7zM160 7h1.7v1.7h-1.7zM164 10h1.7v1.7h-1.7zM158 7h1.7v1.7h-1.7zM158 15h1.7v1.7h-1.7zM161 7h1.7v1.7h-1.7zM156 28h1.7v1.7h-1.7zM150 18h1.7v1.7h-1.7zM158 12h1.7v1.7h-1.7zM155 25h1.7v1.7h-1.7zM162 19h1.7v1.7h-1.7zM157 7h1.7v1.7h-1.7zM157 28h1.7v1.7h-1.7zM161 6h1.7v1.7h-1.7zM146 11h1.7v1.7h-1.7zM157 11h1.7v1.7h-1.7zM155 18h1.7v1.7h-1.7zM160 17h1.7v1.7h-1.7zM162 5h1.7v1.7h-1.7zM158 18h1.7v1.7h-1.7zM149 24h1.7v1.7h-1.7zM148 5h1.7v1.7h-1.7zM167 24h1.7v1.7h-1.7zM158 25h1.7v1.7h-1.7zM162 7h1.7v1.7h-1.7zM158 25h1.7v1.7h-1.7zM155 16h1.7v1.7h-1.7zM154 20h1.7v1.7h-1.7zM153 11h1.7v1.7h-1.7zM150 9h1.7v1.7h-1.7zM157 18h1.7v1.7h-1.7zM154 8h1.7v1.7h-1.7zM158 18h1.7v1.7h-1.7zM162 12h1.7v1.7h-1.7zM154 19h1.7v1.7h-1.7zM164 15h1.7v1.7h-1.7zM156 9h1.7v1.7h-1.7zM154 22h1.7v1.7h-1.7zM160 23h1.7v1.7h-1.7zM148 21h1.7v1.7h-1.7zM152 19h1.7v1.7h-1.7zM146 14h1.7v1.7h-1.7zM152 24h1.7v1.7h-1.7zM157 24h1.7v1.7h-1.7zM154 29h1.7v1.7h-1.7zM154 29h1.7v1.7h-1.7zM154 8h1.7v1.7h-1.7zM160 12h1.7v1.7h-1.7zM156 6h1.7v1.7h-1.7zM154 16h1.7v1.7h-1.7zM153 18h1.7v1.7h-1.7zM146 21h1.7v1.7h-1.7zM154 26h1.7v1.7h-1.7zM154 11h1.7v1.7h-1.7zM154 17h1.7v1.7h-1.7zM159 12h1.7v1.7h-1.7zM152 18h1.7v1.7h-1.7zM160 3h1.7v1.7h-1.7zM151 10h1.7v1.7h-1.7zM164 24h1.7v1.7h-1.7zM160 19h1.7v1.7h-1.7zM151 23h1.7v1.7h-1.7zM154 10h1.7v1.7h-1.7zM166 5h1.7v1.7h-1.7zM163 17h1.7v1.7h-1.7zM152 16h1.7v1.7h-1.7zM152 16h1.7v1.7h-1.7zM153 7h1.7v1.7h-1.7zM167 12h1.7v1.7h-1.7zM161 15h1.7v1.7h-1.7zM159 6h1.7v1.7h-1.7zM151 0h1.7v1.7h-1.7zM161 18h1.7v1.7h-1.7zM150 21h1.7v1.7h-1.7zM159 31h1.7v1.7h-1.7zM157 22h1.7v1.7h-1.7zM159 21h1.7v1.7h-1.7zM156 12h1.7v1.7h-1.7zM160 24h1.7v1.7h-1.7zM150 7h1.7v1.7h-1.7zM156 28h1.7v1.7h-1.7zM155 3h1.7v1.7h-1.7zM160 21h1.7v1.7h-1.7zM166 17h1.7v1.7h-1.7zM166 10h1.7v1.7h-1.7zM161 16h1.7v1.7h-1.7zM150 13h1.7v1.7h-1.7zM163 23h1.7v1.7h-1.7zM154 23h1.7v1.7h-1.7zM161 22h1.7v1.7h-1.7zM158 17h1.7v1.7h-1.7zM152 15h1.7v1.7h-1.7zM157 10h1.7v1.7h-1.7zM155 16h1.7v1.7h-1.7zM157 23h1.7v1.7h-1.7zM151 12h1.7v1.7h-1.7zM157 13h1.7v1.7h-1.7zM158 12h1.7v1.7h-1.7zM162 14h1.7v1.7h-1.7zM151 20h1.7v1.7h-1.7zM164 2h1.7v1.7h-1.7zM156 16h1.7v1.7h-1.7zM161 26h1.7v1.7h-1.7zM155 4h1.7v1.7h-1.7zM159 22h1.7v1.7h-1.7zM158 16h1.7v1.7h-1.7zM152 31h1.7v1.7h-1.7zM150 5h1.7v1.7h-1.7zM161 17h1.7v1.7h-1.7zM159 18h1.7v1.7h-1.7zM164 25h1.7v1.7h-1.7zM154 22h1.7v1.7h-1.7zM150 3h1.7v1.7h-1.7zM162 12h1.7v1.7h-1.7zM146 15h1.7v1.7h-1.7zM153 19h1.7v1.7h-1.7zM156 10h1.7v1.7h-1.7zM153 21h1.7v1.7h-1.7zM152 16h1.7v1.7h-1.7zM151 18h1.7v1.7h-1.7zM165 19h1.7v1.7h-1.7zM162 18h1.7v1.7h-1.7zM152 13h1.7v1.7h-1.7zM157 18h1.7v1.7h-1.7zM153 20h1.7v1.7h-1.7zM153 16h1.7v1.7h-1.7zM156 7h1.7v1.7h-1.7zM161 16h1.7v1.7h-1.7zM157 15h1.7v1.7h-1.7zM146 5h1.7v1.7h-1.7zM152 22h1.7v1.7h-1.7zM153 19h1.7v1.7h-1.7zM151 9h1.7v1.7h-1.7zM154 23h1.7v1.7h-1.7zM148 14h1.7v1.7h-1.7zM158 16h1.7v1.7h-1.7zM156 21h1.7v1.7h-1.7zM158 8h1.7v1.7h-1.7zM159 10h1.7v1.7h-1.7zM155 25h1.7v1.7h-1.7zM167 25h1.7v1.7h-1.7zM158 10h1.7v1.7h-1.7zM153 27h1.7v1.7h-1.7zM158 5h1.7v1.7h-1.7zM164 19h1.7v1.7h-1.7zM163 18h1.7v1.7h-1.7zM146 10h1.7v1.7h-1.7zM155 14h1.7v1.7h-1.7zM164 10h1.7v1.7h-1.7zM156 15h1.7v1.7h-1.7zM156 8h1.7v1.7h-1.7zM150 0h1.7v1.7h-1.7zM158 14h1.7v1.7h-1.7zM157 8h1.7v1.7h-1.7zM156 8h1.7v1.7h-1.7zM151 18h1.7v1.7h-1.7zM159 19h1.7v1.7h-1.7zM156 12h1.7v1.7h-1.7zM163 24h1.7v1.7h-1.7zM153 8h1.7v1.7h-1.7zM158 17h1.7v1.7h-1.7zM152 31h1.7v1.7h-1.7zM146 9h1.7v1.7h-1.7zM157 22h1.7v1.7h-1.7zM147 12h1.7v1.7h-1.7zM163 25h1.7v1.7h-1.7zM155 15h1.7v1.7h-1.7zM152 18h1.7v1.7h-1.7zM151 1h1.7v1.7h-1.7zM149 16h1.7v1.7h-1.7zM150 23h1.7v1.7h-1.7zM162 22h1.7v1.7h-1.7zM159 23h1.7v1.7h-1.7zM157 21h1.7v1.7h-1.7zM158 21h1.7v1.7h-1.7zM151 11h1.7v1.7h-1.7zM151 21h1.7v1.7h-1.7zM159 10h1.7v1.7h-1.7zM151 11h1.7v1.7h-1.7zM160 14h1.7v1.7h-1.7zM155 10h1.7v1.7h-1.7zM156 26h1.7v1.7h-1.7zM153 13h1.7v1.7h-1.7zM164 20h1.7v1.7h-1.7zM151 23h1.7v1.7h-1.7zM150 19h1.7v1.7h-1.7zM146 8h1.7v1.7h-1.7zM161 11h1.7v1.7h-1.7zM153 16h1.7v1.7h-1.7zM156 12h1.7v1.7h-1.7zM153 28h1.7v1.7h-1.7zM163 18h1.7v1.7h-1.7zM151 11h1.7v1.7h-1.7zM155 19h1.7v1.7h-1.7zM164 12h1.7v1.7h-1.7zM157 12h1.7v1.7h-1.7zM157 10h1.7v1.7h-1.7zM158 23h1.7v1.7h-1.7zM154 13h1.7v1.7h-1.7zM157 6h1.7v1.7h-1.7zM165 6h1.7v1.7h-1.7zM154 9h1.7v1.7h-1.7zM163 12h1.7v1.7h-1.7zM154 29h1.7v1.7h-1.7zM156 10h1.7v1.7h-1.7zM156 17h1.7v1.7h-1.7zM153 14h1.7v1.7h-1.7zM155 20h1.7v1.7h-1.7zM160 21h1.7v1.7h-1.7zM156 21h1.7v1.7h-1.7zM155 23h1.7v1.7h-1.7zM158 12h1.7v1.7h-1.7zM162 5h1.7v1.7h-1.7zM152 10h1.7v1.7h-1.7zM156 7h1.7v1.7h-1.7zM150 2h1.7v1.7h-1.7zM157 10h1.7v1.7h-1.7zM167 21h1.7v1.7h-1.7zM151 25h1.7v1.7h-1.7zM157 23h1.7v1.7h-1.7zM151 23h1.7v1.7h-1.7zM161 12h1.7v1.7h-1.7zM152 13h1.7v1.7h-1.7zM157 31h1.7v1.7h-1.7zM165 26h1.7v1.7h-1.7zM155 13h1.7v1.7h-1.7zM158 13h1.7v1.7h-1.7zM154 14h1.7v1.7h-1.7zM160 15h1.7v1.7h-1.7zM157 13h1.7v1.7h-1.7zM155 13h1.7v1.7h-1.7zM162 17h1.7v1.7h-1.7zM163 14h1.7v1.7h-1.7zM161 5h1.7v1.7h-1.7zM154 15h1.7v1.7h-1.7zM153 14h1.7v1.7h-1.7zM152 14h1.7v1.7h-1.7zM153 15h1.7v1.7h-1.7zM155 8h1.7v1.7h-1.7zM154 15h1.7v1.7h-1.7zM150 16h1.7v1.7h-1.7zM162 14h1.7v1.7h-1.7zM159 20h1.7v1.7h-1.7zM152 25h1.7v1.7h-1.7zM167 8h1.7v1.7h-1.7zM167 10h1.7v1.7h-1.7zM163 2h1.7v1.7h-1.7zM162 16h1.7v1.7h-1.7zM150 9h1.7v1.7h-1.7zM151 9h1.7v1.7h-1.7zM158 14h1.7v1.7h-1.7zM146 13h1.7v1.7h-1.7zM158 16h1.7v1.7h-1.7zM164 2h1.7v1.7h-1.7zM157 15h1.7v1.7h-1.7zM160 6h1.7v1.7h-1.7zM150 14h1.7v1.7h-1.7zM157 2h1.7v1.7h-1.7zM158 15h1.7v1.7h-1.7zM160 0h1.7v1.7h-1.7zM159 9h1.7v1.7h-1.7zM154 21h1.7v1.7h-1.7zM164 16h1.7v1.7h-1.7zM156 24h1.7v1.7h-1.7zM152 14h1.7v1.7h-1.7zM154 8h1.7v1.7h-1.7zM157 30h1.7v1.7h-1.7zM157 19h1.7v1.7h-1.7zM156 23h1.7v1.7h-1.7zM157 9h1.7v1.7h-1.7zM157 25h1.7v1.7h-1.7zM156 24h1.7v1.7h-1.7zM156 29h1.7v1.7h-1.7zM158 20h1.7v1.7h-1.7zM155 21h1.7v1.7h-1.7zM155 5h1.7v1.7h-1.7zM158 7h1.7v1.7h-1.7zM163 21h1.7v1.7h-1.7zM156 20h1.7v1.7h-1.7zM146 26h1.7v1.7h-1.7zM153 20h1.7v1.7h-1.7zM167 4h1.7v1.7h-1.7zM154 18h1.7v1.7h-1.7zM158 3h1.7v1.7h-1.7zM152 26h1.7v1.7h-1.7zM153 19h1.7v1.7h-1.7zM150 9h1.7v1.7h-1.7zM147 17h1.7v1.7h-1.7zM162 16h1.7v1.7h-1.7zM155 17h1.7v1.7h-1.7zM158 13h1.7v1.7h-1.7zM159 29h1.7v1.7h-1.7zM167 11h1.7v1.7h-1.7zM150 29h1.7v1.7h-1.7zM161 24h1.7v1.7h-1.7zM159 14h1.7v1.7h-1.7zM161 23h1.7v1.7h-1.7zM162 8h1.7v1.7h-1.7zM161 13h1.7v1.7h-1.7zM154 18h1.7v1.7h-1.7zM155 31h1.7v1.7h-1.7zM159 17h1.7v1.7h-1.7zM155 17h1.7v1.7h-1.7zM155 19h1.7v1.7h-1.7zM160 21h1.7v1.7h-1.7zM150 13h1.7v1.7h-1.7zM157 7h1.7v1.7h-1.7zM158 14h1.7v1.7h-1.7zM156 18h1.7v1.7h-1.7zM153 26h1.7v1.7h-1.7zM161 11h1.7v1.7h-1.7zM158 20h1.7v1.7h-1.7zM153 13h1.7v1.7h-1.7zM160 0h1.7v1.7h-1.7zM150 18h1.7v1.7h-1.7zM159 9h1.7v1.7h-1.7zM160 31h1.7v1.7h-1.7zM157 15h1.7v1.7h-1.7zM157 8h1.7v1.7h-1.7zM159 16h1.7v1.7h-1.7zM160 25h1.7v1.7h-1.7zM156 17h1.7v1.7h-1.7zM158 27h1.7v1.7h-1.7zM149 15h1.7v1.7h-1.7zM153 16h1.7v1.7h-1.7zM160 16h1.7v1.7h-1.7zM160 17h1.7v1.7h-1.7zM153 11h1.7v1.7h-1.7zM150 17h1.7v1.7h-1.7zM154 21h1.7v1.7h-1.7zM161 9h1.7v1.7h-1.7zM151 19h1.7v1.7h-1.7zM152 17h1.7v1.7h-1.7zM159 13h1.7v1.7h-1.7zM165 10h1.7v1.7h-1.7z"/>
<path d="M154 9L158 24" fill="none" stroke="#9c9c9c" stroke-width="9" stroke-linecap="round" stroke-linejoin="round"/>
<path fill="#969696" d="M170 32h1.6v1.6h-1.6zM160 33h1.6v1.6h-1.6zM168 37h1.6v1.6h-1.6zM168 31h1.6v1.6h-1.6zM166 33h1.6v1.6h-1.6zM171 33h1.6v1.6h-1.6zM173 38h1.6v1.6h-1.6zM166 39h1.6v1.6h-1.6zM160 34h1.6v1.6h-1.6zM165 34h1.6v1.6h-1.6zM172 34h1.6v1.6h-1.6zM168 40h1.6v1.6h-1.6zM166 31h1.6v1.6h-1.6zM172 37h1.6v1.6h-1.6zM163 35h1.6v1.6h-1.6zM171 34h1.6v1.6h-1.6zM167 35h1.6v1.6h-1.6zM169 31h1.6v1.6h-1.6zM171 27h1.6v1.6h-1.6zM168 44h1.6v1.6h-1.6zM165 34h1.6v1.6h-1.6zM160 31h1.6v1.6h-1.6zM164 35h1.6v1.6h-1.6zM167 43h1.6v1.6h-1.6zM165 34h1.6v1.6h-1.6zM169 37h1.6v1.6h-1.6zM171 27h1.6v1.6h-1.6zM176 33h1.6v1.6h-1.6zM166 27h1.6v1.6h-1.6zM167 26h1.6v1.6h-1.6zM169 32h1.6v1.6h-1.6zM169 31h1.6v1.6h-1.6zM168 44h1.6v1.6h-1.6zM172 35h1.6v1.6h-1.6zM165 41h1.6v1.6h-1.6zM162 28h1.6v1.6h-1.6zM173 32h1.6v1.6h-1.6zM173 37h1.6v1.6h-1.6zM176 42h1.6v1.6h-1.6zM170 31h1.6v1.6h-1.6zM170 41h1.6v1.6h-1.6zM169 24h1.6v1.6h-1.6zM167 33h1.6v1.6h-1.6zM168 33h1.6v1.6h-1.6zM172 29h1.6v1.6h-1.6zM170 25h1.6v1.6h-1.6zM161 30h1.6v1.6h-1.6zM166 30h1.6v1.6h-1.6zM166 37h1.6v1.6h-1.6zM170 35h1.6v1.6h-1.6zM169 31h1.6v1.6h-1.6zM165 28h1.6v1.6h-1.6zM167 29h1.6v1.6h-1.6zM167 37h1.6v1.6h-1.6zM170 40h1.6v1.6h-1.6zM165 24h1.6v1.6h-1.6zM164 43h1.6v1.6h-1.6zM171 32h1.6v1.6h-1.6zM173 32h1.6v1.6h-1.6zM174 32h1.6v1.6h-1.6zM167 37h1.6v1.6h-1.6zM164 33h1.6v1.6h-1.6zM175 36h1.6v1.6h-1.6zM164 33h1.6v1.6h-1.6zM168 31h1.6v1.6h-1.6zM170 40h1.6v1.6h-1.6zM168 38h1.6v1.6h-1.6zM169 35h1.6v1.6h-1.6zM166 39h1.6v1.6h-1.6zM173 32h1.6v1.6h-1.6zM165 37h1.6v1.6h-1.6zM169 39h1.6v1.6h-1.6zM170 34h1.6v1.6h-1.6zM163 37h1.6v1.6h-1.6zM169 28h1.6v1.6h-1.6zM163 26h1.6v1.6h-1.6zM170 32h1.6v1.6h-1.6zM160 30h1.6v1.6h-1.6zM166 34h1.6v1.6h-1.6zM168 33h1.6v1.6h-1.6zM171 39h1.6v1.6h-1.6zM167 41h1.6v1.6h-1.6zM168 30h1.6v1.6h-1.6zM169 28h1.6v1.6h-1.6zM167 29h1.6v1.6h-1.6zM167 35h1.6v1.6h-1.6zM160 36h1.6v1.6h-1.6zM169 33h1.6v1.6h-1.6zM171 36h1.6v1.6h-1.6zM167 30h1.6v1.6h-1.6zM171 38h1.6v1.6h-1.6zM163 31h1.6v1.6h-1.6zM164 38h1.6v1.6h-1.6zM166 29h1.6v1.6h-1.6zM173 36h1.6v1.6h-1.6zM169 35h1.6v1.6h-1.6zM168 34h1.6v1.6h-1.6zM171 36h1.6v1.6h-1.6zM167 35h1.6v1.6h-1.6zM175 32h1.6v1.6h-1.6zM164 35h1.6v1.6h-1.6zM164 44h1.6v1.6h-1.6zM170 37h1.6v1.6h-1.6zM169 43h1.6v1.6h-1.6zM165 34h1.6v1.6h-1.6zM162 40h1.6v1.6h-1.6zM168 42h1.6v1.6h-1.6zM167 29h1.6v1.6h-1.6zM166 38h1.6v1.6h-1.6zM165 35h1.6v1.6h-1.6zM166 31h1.6v1.6h-1.6zM166 42h1.6v1.6h-1.6zM164 36h1.6v1.6h-1.6zM171 31h1.6v1.6h-1.6zM163 41h1.6v1.6h-1.6zM174 33h1.6v1.6h-1.6zM164 38h1.6v1.6h-1.6zM168 30h1.6v1.6h-1.6zM167 24h1.6v1.6h-1.6zM165 29h1.6v1.6h-1.6zM164 37h1.6v1.6h-1.6zM169 42h1.6v1.6h-1.6zM160 31h1.6v1.6h-1.6zM165 40h1.6v1.6h-1.6zM172 35h1.6v1.6h-1.6zM168 31h1.6v1.6h-1.6zM166 32h1.6v1.6h-1.6zM160 43h1.6v1.6h-1.6zM171 44h1.6v1.6h-1.6zM173 36h1.6v1.6h-1.6zM171 26h1.6v1.6h-1.6zM165 38h1.6v1.6h-1.6zM167 27h1.6v1.6h-1.6zM168 28h1.6v1.6h-1.6zM168 41h1.6v1.6h-1.6zM164 32h1.6v1.6h-1.6zM170 34h1.6v1.6h-1.6zM169 30h1.6v1.6h-1.6zM167 24h1.6v1.6h-1.6zM168 40h1.6v1.6h-1.6zM164 33h1.6v1.6h-1.6zM171 40h1.6v1.6h-1.6zM172 30h1.6v1.6h-1.6zM167 42h1.6v1.6h-1.6zM166 35h1.6v1.6h-1.6zM165 31h1.6v1.6h-1.6zM160 32h1.6v1.6h-1.6zM160 29h1.6v1.6h-1.6zM165 40h1.6v1.6h-1.6zM171 36h1.6v1.6h-1.6zM166 28h1.6v1.6h-1.6zM170 30h1.6v1.6h-1.6zM168 38h1.6v1.6h-1.6zM167 34h1.6v1.6h-1.6zM165 39h1.6v1.6h-1.6zM170 37h1.6v1.6h-1.6zM174 27h1.6v1.6h-1.6zM168 37h1.6v1.6h-1.6zM169 35h1.6v1.6h-1.6zM170 27h1.6v1.6h-1.6zM168 39h1.6v1.6h-1.6zM168 33h1.6v1.6h-1.6zM171 26h1.6v1.6h-1.6zM170 41h1.6v1.6h-1.6zM167 30h1.6v1.6h-1.6zM170 32h1.6v1.6h-1.6zM165 35h1.6v1.6h-1.6zM162 37h1.6v1.6h-1.6zM164 32h1.6v1.6h-1.6zM171 34h1.6v1.6h-1.6z"/>
<path fill="#969696" d="M173 31h1.6v1.6h-1.6zM178 34h1.6v1.6h-1.6zM170 29h1.6v1.6h-1.6zM165 28h1.6v1.6h-1.6zM177 22h1.6v1.6h-1.6zM174 28h1.6v1.6h-1.6zM171 23h1.6v1.6h-1.6zM178 20h1.6v1.6h-1.6zM173 29h1.6v1.6h-1.6zM173 32h1.6v1.6h-1.6zM178 27h1.6v1.6h-1.6zM179 28h1.6v1.6h-1.6zM167 24h1.6v1.6h-1.6zM173 26h1.6v1.6h-1.6zM165 34h1.6v1.6h-1.6zM166 21h1.6v1.6h-1.6zM174 26h1.6v1.6h-1.6zM178 26h1.6v1.6h-1.6zM174 28h1.6v1.6h-1.6zM169 20h1.6v1.6h-1.6zM170 29h1.6v1.6h-1.6zM171 30h1.6v1.6h-1.6zM170 28h1.6v1.6h-1.6zM172 29h1.6v1.6h-1.6zM172 26h1.6v1.6h-1.6zM170 30h1.6v1.6h-1.6zM172 27h1.6v1.6h-1.6zM175 21h1.6v1.6h-1.6zM169 25h1.6v1.6h-1.6zM177 21h1.6v1.6h-1.6zM168 21h1.6v1.6h-1.6zM171 21h1.6v1.6h-1.6zM169 27h1.6v1.6h-1.6zM168 25h1.6v1.6h-1.6zM167 24h1.6v1.6h-1.6zM174 17h1.6v1.6h-1.6zM172 26h1.6v1.6h-1.6zM172 26h1.6v1.6h-1.6zM174 20h1.6v1.6h-1.6zM172 28h1.6v1.6h-1.6zM177 20h1.6v1.6h-1.6zM170 20h1.6v1.6h-1.6zM172 21h1.6v1.6h-1.6zM168 28h1.6v1.6h-1.6zM181 17h1.6v1.6h-1.6zM179 21h1.6v1.6h-1.6zM175 27h1.6v1.6h-1.6zM177 24h1.6v1.6h-1.6zM169 25h1.6v1.6h-1.6zM175 22h1.6v1.6h-1.6zM174 25h1.6v1.6h-1.6zM173 25h1.6v1.6h-1.6zM175 28h1.6v1.6h-1.6zM171 24h1.6v1.6h-1.6zM163 22h1.6v1.6h-1.6zM166 28h1.6v1.6h-1.6zM168 22h1.6v1.6h-1.6zM174 29h1.6v1.6h-1.6zM177 22h1.6v1.6h-1.6zM173 29h1.6v1.6h-1.6zM169 24h1.6v1.6h-1.6zM167 23h1.6v1.6h-1.6zM175 26h1.6v1.6h-1.6zM171 23h1.6v1.6h-1.6zM178 28h1.6v1.6h-1.6zM167 34h1.6v1.6h-1.6zM170 25h1.6v1.6h-1.6zM170 23h1.6v1.6h-1.6zM175 19h1.6v1.6h-1.6zM172 24h1.6v1.6h-1.6zM179 27h1.6v1.6h-1.6zM174 27h1.6v1.6h-1.6zM175 26h1.6v1.6h-1.6zM163 27h1.6v1.6h-1.6zM171 28h1.6v1.6h-1.6zM173 23h1.6v1.6h-1.6zM169 21h1.6v1.6h-1.6zM173 25h1.6v1.6h-1.6zM169 24h1.6v1.6h-1.6zM174 22h1.6v1.6h-1.6z"/>
<path fill="#969696" d="M166 13h1.6v1.6h-1.6zM157 17h1.6v1.6h-1.6zM166 20h1.6v1.6h-1.6zM171 12h1.6v1.6h-1.6zM169 17h1.6v1.6h-1.6zM166 20h1.6v1.6h-1.6zM170 10h1.6v1.6h-1.6zM172 15h1.6v1.6h-1.6zM163 13h1.6v1.6h-1.6zM165 10h1.6v1.6h-1.6zM171 18h1.6v1.6h-1.6zM163 20h1.6v1.6h-1.6zM167 17h1.6v1.6h-1.6zM170 16h1.6v1.6h-1.6zM165 19h1.6v1.6h-1.6zM159 10h1.6v1.6h-1.6zM168 22h1.6v1.6h-1.6zM159 16h1.6v1.6h-1.6zM163 15h1.6v1.6h-1.6zM169 24h1.6v1.6h-1.6zM173 21h1.6v1.6h-1.6zM169 17h1.6v1.6h-1.6zM159 18h1.6v1.6h-1.6zM161 11h1.6v1.6h-1.6zM167 8h1.6v1.6h-1.6zM173 19h1.6v1.6h-1.6zM168 19h1.6v1.6h-1.6zM167 16h1.6v1.6h-1.6zM169 13h1.6v1.6h-1.6zM167 17h1.6v1.6h-1.6zM169 11h1.6v1.6h-1.6zM167 16h1.6v1.6h-1.6zM169 19h1.6v1.6h-1.6zM167 18h1.6v1.6h-1.6zM168 23h1.6v1.6h-1.6zM167 19h1.6v1.6h-1.6zM162 15h1.6v1.6h-1.6zM169 21h1.6v1.6h-1.6zM162 16h1.6v1.6h-1.6zM165 16h1.6v1.6h-1.6zM164 14h1.6v1.6h-1.6zM166 17h1.6v1.6h-1.6zM170 12h1.6v1.6h-1.6zM162 20h1.6v1.6h-1.6zM168 15h1.6v1.6h-1.6zM162 21h1.6v1.6h-1.6zM162 22h1.6v1.6h-1.6zM167 15h1.6v1.6h-1.6zM165 20h1.6v1.6h-1.6zM166 7h1.6v1.6h-1.6zM163 5h1.6v1.6h-1.6zM168 21h1.6v1.6h-1.6zM170 9h1.6v1.6h-1.6zM175 25h1.6v1.6h-1.6zM166 6h1.6v1.6h-1.6zM163 21h1.6v1.6h-1.6zM174 13h1.6v1.6h-1.6zM159 11h1.6v1.6h-1.6zM174 16h1.6v1.6h-1.6zM161 6h1.6v1.6h-1.6z"/>
<path fill="#969696" d="M167 16h1.6v1.6h-1.6zM169 18h1.6v1.6h-1.6zM183 11h1.6v1.6h-1.6zM172 16h1.6v1.6h-1.6zM171 14h1.6v1.6h-1.6zM174 12h1.6v1.6h-1.6zM184 10h1.6v1.6h-1.6zM173 14h1.6v1.6h-1.6zM181 11h1.6v1.6h-1.6zM171 19h1.6v1.6h-1.6zM177 11h1.6v1.6h-1.6zM165 19h1.6v1.6h-1.6zM165 19h1.6v1.6h-1.6zM187 8h1.6v1.6h-1.6zM180 13h1.6v1.6h-1.6zM171 17h1.6v1.6h-1.6zM175 12h1.6v1.6h-1.6zM184 5h1.6v1.6h-1.6zM174 13h1.6v1.6h-1.6zM173 16h1.6v1.6h-1.6zM180 7h1.6v1.6h-1.6zM169 18h1.6v1.6h-1.6zM183 10h1.6v1.6h-1.6zM178 11h1.6v1.6h-1.6zM170 18h1.6v1.6h-1.6zM169 17h1.6v1.6h-1.6zM180 7h1.6v1.6h-1.6zM186 6h1.6v1.6h-1.6zM167 19h1.6v1.6h-1.6zM175 13h1.6v1.6h-1.6zM183 8h1.6v1.6h-1.6zM183 7h1.6v1.6h-1.6zM174 16h1.6v1.6h-1.6zM167 20h1.6v1.6h-1.6zM171 17h1.6v1.6h-1.6zM167 18h1.6v1.6h-1.6zM177 13h1.6v1.6h-1.6zM184 10h1.6v1.6h-1.6zM174 16h1.6v1.6h-1.6zM182 11h1.6v1.6h-1.6zM184 6h1.6v1.6h-1.6zM184 8h1.6v1.6h-1.6zM180 12h1.6v1.6h-1.6zM182 9h1.6v1.6h-1.6zM179 10h1.6v1.6h-1.6zM175 13h1.6v1.6h-1.6zM170 14h1.6v1.6h-1.6zM175 11h1.6v1.6h-1.6zM167 20h1.6v1.6h-1.6zM180 12h1.6v1.6h-1.6zM187 8h1.6v1.6h-1.6zM174 12h1.6v1.6h-1.6zM176 13h1.6v1.6h-1.6zM185 6h1.6v1.6h-1.6zM174 11h1.6v1.6h-1.6zM173 15h1.6v1.6h-1.6zM188 9h1.6v1.6h-1.6zM167 19h1.6v1.6h-1.6zM180 11h1.6v1.6h-1.6zM175 14h1.6v1.6h-1.6zM178 11h1.6v1.6h-1.6zM170 13h1.6v1.6h-1.6zM173 15h1.6v1.6h-1.6zM165 18h1.6v1.6h-1.6zM184 7h1.6v1.6h-1.6zM168 17h1.6v1.6h-1.6zM185 8h1.6v1.6h-1.6zM179 10h1.6v1.6h-1.6zM168 14h1.6v1.6h-1.6zM167 19h1.6v1.6h-1.6zM186 7h1.6v1.6h-1.6zM182 10h1.6v1.6h-1.6zM169 20h1.6v1.6h-1.6zM175 13h1.6v1.6h-1.6zM185 8h1.6v1.6h-1.6zM165 18h1.6v1.6h-1.6zM177 10h1.6v1.6h-1.6zM185 8h1.6v1.6h-1.6zM169 16h1.6v1.6h-1.6zM185 7h1.6v1.6h-1.6zM186 7h1.6v1.6h-1.6zM180 9h1.6v1.6h-1.6zM185 8h1.6v1.6h-1.6zM175 12h1.6v1.6h-1.6zM166 14h1.6v1.6h-1.6zM184 7h1.6v1.6h-1.6zM170 14h1.6v1.6h-1.6zM168 16h1.6v1.6h-1.6zM181 10h1.6v1.6h-1.6zM173 12h1.6v1.6h-1.6z"/>
<path fill="#969696" d="M208 5h1.6v1.6h-1.6zM181 8h1.6v1.6h-1.6zM182 13h1.6v1.6h-1.6zM199 10h1.6v1.6h-1.6zM206 4h1.6v1.6h-1.6zM185 11h1.6v1.6h-1.6zM221 3h1.6v1.6h-1.6zM208 4h1.6v1.6h-1.6zM203 2h1.6v1.6h-1.6zM204 2h1.6v1.6h-1.6zM217 7h1.6v1.6h-1.6zM206 5h1.6v1.6h-1.6zM193 5h1.6v1.6h-1.6zM206 6h1.6v1.6h-1.6zM192 4h1.6v1.6h-1.6zM213 9h1.6v1.6h-1.6zM207 6h1.6v1.6h-1.6zM205 3h1.6v1.6h-1.6zM187 8h1.6v1.6h-1.6zM213 6h1.6v1.6h-1.6zM218 4h1.6v1.6h-1.6zM183 13h1.6v1.6h-1.6zM182 7h1.6v1.6h-1.6zM179 8h1.6v1.6h-1.6zM188 8h1.6v1.6h-1.6zM216 3h1.6v1.6h-1.6zM192 5h1.6v1.6h-1.6zM189 7h1.6v1.6h-1.6zM195 6h1.6v1.6h-1.6zM180 16h1.6v1.6h-1.6zM205 6h1.6v1.6h-1.6zM184 7h1.6v1.6h-1.6zM184 14h1.6v1.6h-1.6zM204 7h1.6v1.6h-1.6zM176 10h1.6v1.6h-1.6zM191 8h1.6v1.6h-1.6zM178 11h1.6v1.6h-1.6zM221 5h1.6v1.6h-1.6zM193 11h1.6v1.6h-1.6zM202 3h1.6v1.6h-1.6zM183 11h1.6v1.6h-1.6zM201 5h1.6v1.6h-1.6zM182 13h1.6v1.6h-1.6zM184 11h1.6v1.6h-1.6zM222 0h1.6v1.6h-1.6zM220 2h1.6v1.6h-1.6zM211 3h1.6v1.6h-1.6zM212 3h1.6v1.6h-1.6zM207 7h1.6v1.6h-1.6zM195 9h1.6v1.6h-1.6zM200 5h1.6v1.6h-1.6zM202 2h1.6v1.6h-1.6zM212 5h1.6v1.6h-1.6zM183 9h1.6v1.6h-1.6zM181 15h1.6v1.6h-1.6zM191 12h1.6v1.6h-1.6zM196 3h1.6v1.6h-1.6zM189 8h1.6v1.6h-1.6zM212 2h1.6v1.6h-1.6zM213 9h1.6v1.6h-1.6zM177 12h1.6v1.6h-1.6zM217 4h1.6v1.6h-1.6zM180 11h1.6v1.6h-1.6zM204 10h1.6v1.6h-1.6zM207 2h1.6v1.6h-1.6zM186 10h1.6v1.6h-1.6zM197 6h1.6v1.6h-1.6zM183 14h1.6v1.6h-1.6zM183 11h1.6v1.6h-1.6zM203 8h1.6v1.6h-1.6zM179 17h1.6v1.6h-1.6zM193 6h1.6v1.6h-1.6zM185 13h1.6v1.6h-1.6zM182 4h1.6v1.6h-1.6zM211 7h1.6v1.6h-1.6zM183 4h1.6v1.6h-1.6zM183 12h1.6v1.6h-1.6zM218 6h1.6v1.6h-1.6zM218 3h1.6v1.6h-1.6zM192 7h1.6v1.6h-1.6zM186 6h1.6v1.6h-1.6zM212 2h1.6v1.6h-1.6zM196 4h1.6v1.6h-1.6zM193 7h1.6v1.6h-1.6zM197 5h1.6v1.6h-1.6zM190 3h1.6v1.6h-1.6zM202 6h1.6v1.6h-1.6zM194 7h1.6v1.6h-1.6zM193 8h1.6v1.6h-1.6zM196 7h1.6v1.6h-1.6zM220 5h1.6v1.6h-1.6zM190 7h1.6v1.6h-1.6zM193 6h1.6v1.6h-1.6zM203 7h1.6v1.6h-1.6zM215 3h1.6v1.6h-1.6zM182 12h1.6v1.6h-1.6zM178 13h1.6v1.6h-1.6zM209 3h1.6v1.6h-1.6zM213 6h1.6v1.6h-1.6zM191 8h1.6v1.6h-1.6zM211 5h1.6v1.6h-1.6zM196 4h1.6v1.6h-1.6zM192 2h1.6v1.6h-1.6zM188 8h1.6v1.6h-1.6zM214 8h1.6v1.6h-1.6zM220 3h1.6v1.6h-1.6zM220 8h1.6v1.6h-1.6zM189 15h1.6v1.6h-1.6zM213 6h1.6v1.6h-1.6zM197 8h1.6v1.6h-1.6zM215 4h1.6v1.6h-1.6zM217 3h1.6v1.6h-1.6zM216 4h1.6v1.6h-1.6zM189 7h1.6v1.6h-1.6zM189 2h1.6v1.6h-1.6zM204 8h1.6v1.6h-1.6zM214 6h1.6v1.6h-1.6zM210 6h1.6v1.6h-1.6zM192 7h1.6v1.6h-1.6zM180 13h1.6v1.6h-1.6zM195 4h1.6v1.6h-1.6zM202 5h1.6v1.6h-1.6zM190 11h1.6v1.6h-1.6zM191 7h1.6v1.6h-1.6zM198 5h1.6v1.6h-1.6zM180 13h1.6v1.6h-1.6zM190 7h1.6v1.6h-1.6zM179 14h1.6v1.6h-1.6zM199 11h1.6v1.6h-1.6zM193 7h1.6v1.6h-1.6zM196 6h1.6v1.6h-1.6zM181 11h1.6v1.6h-1.6zM212 2h1.6v1.6h-1.6zM192 6h1.6v1.6h-1.6zM210 0h1.6v1.6h-1.6zM215 5h1.6v1.6h-1.6zM217 4h1.6v1.6h-1.6zM197 2h1.6v1.6h-1.6zM200 3h1.6v1.6h-1.6zM214 3h1.6v1.6h-1.6zM216 9h1.6v1.6h-1.6zM204 7h1.6v1.6h-1.6zM204 6h1.6v1.6h-1.6zM198 6h1.6v1.6h-1.6zM193 8h1.6v1.6h-1.6zM202 5h1.6v1.6h-1.6zM183 10h1.6v1.6h-1.6zM210 2h1.6v1.6h-1.6zM190 7h1.6v1.6h-1.6zM186 8h1.6v1.6h-1.6zM210 8h1.6v1.6h-1.6zM187 5h1.6v1.6h-1.6zM180 11h1.6v1.6h-1.6zM178 8h1.6v1.6h-1.6zM219 4h1.6v1.6h-1.6zM198 6h1.6v1.6h-1.6zM192 11h1.6v1.6h-1.6zM219 8h1.6v1.6h-1.6zM182 9h1.6v1.6h-1.6zM207 6h1.6v1.6h-1.6zM181 10h1.6v1.6h-1.6zM198 8h1.6v1.6h-1.6zM195 1h1.6v1.6h-1.6zM219 1h1.6v1.6h-1.6zM218 5h1.6v1.6h-1.6zM187 7h1.6v1.6h-1.6zM197 4h1.6v1.6h-1.6zM192 4h1.6v1.6h-1.6zM222 4h1.6v1.6h-1.6zM181 12h1.6v1.6h-1.6zM186 8h1.6v1.6h-1.6zM177 8h1.6v1.6h-1.6zM187 8h1.6v1.6h-1.6zM218 9h1.6v1.6h-1.6zM191 12h1.6v1.6h-1.6zM221 8h1.6v1.6h-1.6zM209 1h1.6v1.6h-1.6zM211 6h1.6v1.6h-1.6zM199 5h1.6v1.6h-1.6zM207 8h1.6v1.6h-1.6zM191 6h1.6v1.6h-1.6zM221 3h1.6v1.6h-1.6zM186 10h1.6v1.6h-1.6zM220 11h1.6v1.6h-1.6zM219 7h1.6v1.6h-1.6zM214 1h1.6v1.6h-1.6zM203 9h1.6v1.6h-1.6zM215 6h1.6v1.6h-1.6zM215 5h1.6v1.6h-1.6zM210 5h1.6v1.6h-1.6zM199 12h1.6v1.6h-1.6zM196 2h1.6v1.6h-1.6zM207 3h1.6v1.6h-1.6zM192 3h1.6v1.6h-1.6zM206 10h1.6v1.6h-1.6zM209 7h1.6v1.6h-1.6zM213 3h1.6v1.6h-1.6zM197 7h1.6v1.6h-1.6zM207 4h1.6v1.6h-1.6zM177 13h1.6v1.6h-1.6zM194 7h1.6v1.6h-1.6zM187 10h1.6v1.6h-1.6zM195 5h1.6v1.6h-1.6zM207 0h1.6v1.6h-1.6zM179 15h1.6v1.6h-1.6zM210 2h1.6v1.6h-1.6zM204 4h1.6v1.6h-1.6zM181 13h1.6v1.6h-1.6zM207 9h1.6v1.6h-1.6zM218 6h1.6v1.6h-1.6zM207 1h1.6v1.6h-1.6zM220 1h1.6v1.6h-1.6zM214 7h1.6v1.6h-1.6zM178 13h1.6v1.6h-1.6zM204 2h1.6v1.6h-1.6zM204 1h1.6v1.6h-1.6zM193 11h1.6v1.6h-1.6zM205 5h1.6v1.6h-1.6zM221 0h1.6v1.6h-1.6zM211 2h1.6v1.6h-1.6zM221 -1h1.6v1.6h-1.6zM194 8h1.6v1.6h-1.6zM177 12h1.6v1.6h-1.6zM222 6h1.6v1.6h-1.6zM194 6h1.6v1.6h-1.6zM183 15h1.6v1.6h-1.6zM190 6h1.6v1.6h-1.6zM204 6h1.6v1.6h-1.6zM196 7h1.6v1.6h-1.6zM221 2h1.6v1.6h-1.6zM185 8h1.6v1.6h-1.6zM178 13h1.6v1.6h-1.6zM190 9h1.6v1.6h-1.6zM198 5h1.6v1.6h-1.6zM200 5h1.6v1.6h-1.6zM181 15h1.6v1.6h-1.6zM192 6h1.6v1.6h-1.6zM212 9h1.6v1.6h-1.6zM208 1h1.6v1.6h-1.6zM210 2h1.6v1.6h-1.6zM181 15h1.6v1.6h-1.6zM215 8h1.6v1.6h-1.6zM222 4h1.6v1.6h-1.6zM202 4h1.6v1.6h-1.6zM205 4h1.6v1.6h-1.6zM221 3h1.6v1.6h-1.6zM199 5h1.6v1.6h-1.6zM195 14h1.6v1.6h-1.6zM180 11h1.6v1.6h-1.6zM186 7h1.6v1.6h-1.6zM190 5h1.6v1.6h-1.6zM207 4h1.6v1.6h-1.6zM218 10h1.6v1.6h-1.6zM219 4h1.6v1.6h-1.6zM188 8h1.6v1.6h-1.6zM203 4h1.6v1.6h-1.6zM183 16h1.6v1.6h-1.6zM184 14h1.6v1.6h-1.6zM209 5h1.6v1.6h-1.6zM213 5h1.6v1.6h-1.6zM181 15h1.6v1.6h-1.6zM198 3h1.6v1.6h-1.6zM197 10h1.6v1.6h-1.6zM179 13h1.6v1.6h-1.6zM201 9h1.6v1.6h-1.6zM181 9h1.6v1.6h-1.6zM209 4h1.6v1.6h-1.6zM211 3h1.6v1.6h-1.6zM202 3h1.6v1.6h-1.6zM189 9h1.6v1.6h-1.6zM190 9h1.6v1.6h-1.6zM211 3h1.6v1.6h-1.6zM193 7h1.6v1.6h-1.6zM221 4h1.6v1.6h-1.6zM211 8h1.6v1.6h-1.6zM180 12h1.6v1.6h-1.6zM185 13h1.6v1.6h-1.6zM205 6h1.6v1.6h-1.6zM220 4h1.6v1.6h-1.6zM187 10h1.6v1.6h-1.6zM185 13h1.6v1.6h-1.6zM195 7h1.6v1.6h-1.6zM193 9h1.6v1.6h-1.6zM214 4h1.6v1.6h-1.6zM201 6h1.6v1.6h-1.6zM204 6h1.6v1.6h-1.6zM217 8h1.6v1.6h-1.6zM187 9h1.6v1.6h-1.6zM208 7h1.6v1.6h-1.6zM186 5h1.6v1.6h-1.6zM186 15h1.6v1.6h-1.6zM219 3h1.6v1.6h-1.6zM201 8h1.6v1.6h-1.6zM218 5h1.6v1.6h-1.6zM180 12h1.6v1.6h-1.6zM217 5h1.6v1.6h-1.6zM192 9h1.6v1.6h-1.6zM186 10h1.6v1.6h-1.6zM196 4h1.6v1.6h-1.6zM180 9h1.6v1.6h-1.6z"/>
<path fill="#969696" d="M184 23h1.6v1.6h-1.6zM178 27h1.6v1.6h-1.6zM185 34h1.6v1.6h-1.6zM185 29h1.6v1.6h-1.6zM185 23h1.6v1.6h-1.6zM181 21h1.6v1.6h-1.6zM183 10h1.6v1.6h-1.6zM184 19h1.6v1.6h-1.6zM187 30h1.6v1.6h-1.6zM184 31h1.6v1.6h-1.6zM190 28h1.6v1.6h-1.6zM184 24h1.6v1.6h-1.6zM192 33h1.6v1.6h-1.6zM190 13h1.6v1.6h-1.6zM176 34h1.6v1.6h-1.6zM188 32h1.6v1.6h-1.6zM188 22h1.6v1.6h-1.6zM187 23h1.6v1.6h-1.6zM191 29h1.6v1.6h-1.6zM182 19h1.6v1.6h-1.6zM190 29h1.6v1.6h-1.6zM187 26h1.6v1.6h-1.6zM180 18h1.6v1.6h-1.6zM188 13h1.6v1.6h-1.6zM187 27h1.6v1.6h-1.6zM188 29h1.6v1.6h-1.6zM193 25h1.6v1.6h-1.6zM182 13h1.6v1.6h-1.6zM176 24h1.6v1.6h-1.6zM189 13h1.6v1.6h-1.6zM186 19h1.6v1.6h-1.6zM184 25h1.6v1.6h-1.6zM186 16h1.6v1.6h-1.6zM188 23h1.6v1.6h-1.6zM178 28h1.6v1.6h-1.6zM192 21h1.6v1.6h-1.6zM192 14h1.6v1.6h-1.6zM184 31h1.6v1.6h-1.6zM191 27h1.6v1.6h-1.6zM190 21h1.6v1.6h-1.6zM188 29h1.6v1.6h-1.6zM189 26h1.6v1.6h-1.6zM189 26h1.6v1.6h-1.6zM188 14h1.6v1.6h-1.6zM188 18h1.6v1.6h-1.6zM184 24h1.6v1.6h-1.6zM186 16h1.6v1.6h-1.6zM183 25h1.6v1.6h-1.6zM184 24h1.6v1.6h-1.6zM186 25h1.6v1.6h-1.6zM183 25h1.6v1.6h-1.6zM188 16h1.6v1.6h-1.6zM189 18h1.6v1.6h-1.6zM187 27h1.6v1.6h-1.6zM188 16h1.6v1.6h-1.6zM182 16h1.6v1.6h-1.6zM188 24h1.6v1.6h-1.6zM178 28h1.6v1.6h-1.6zM190 20h1.6v1.6h-1.6zM185 25h1.6v1.6h-1.6zM181 21h1.6v1.6h-1.6zM188 21h1.6v1.6h-1.6zM185 24h1.6v1.6h-1.6zM192 25h1.6v1.6h-1.6zM187 21h1.6v1.6h-1.6zM190 24h1.6v1.6h-1.6zM185 31h1.6v1.6h-1.6zM191 18h1.6v1.6h-1.6zM184 31h1.6v1.6h-1.6zM184 33h1.6v1.6h-1.6zM185 35h1.6v1.6h-1.6zM182 12h1.6v1.6h-1.6zM180 35h1.6v1.6h-1.6zM183 21h1.6v1.6h-1.6zM183 19h1.6v1.6h-1.6zM186 24h1.6v1.6h-1.6zM183 20h1.6v1.6h-1.6zM191 29h1.6v1.6h-1.6zM189 31h1.6v1.6h-1.6zM185 29h1.6v1.6h-1.6zM192 19h1.6v1.6h-1.6zM191 10h1.6v1.6h-1.6zM178 15h1.6v1.6h-1.6zM181 18h1.6v1.6h-1.6zM183 28h1.6v1.6h-1.6zM182 21h1.6v1.6h-1.6zM180 14h1.6v1.6h-1.6zM185 19h1.6v1.6h-1.6zM189 24h1.6v1.6h-1.6zM178 28h1.6v1.6h-1.6zM181 21h1.6v1.6h-1.6zM181 19h1.6v1.6h-1.6zM183 16h1.6v1.6h-1.6zM182 22h1.6v1.6h-1.6zM188 28h1.6v1.6h-1.6zM193 14h1.6v1.6h-1.6zM184 31h1.6v1.6h-1.6zM181 22h1.6v1.6h-1.6zM188 33h1.6v1.6h-1.6zM188 25h1.6v1.6h-1.6zM185 27h1.6v1.6h-1.6zM186 25h1.6v1.6h-1.6zM183 23h1.6v1.6h-1.6zM182 17h1.6v1.6h-1.6zM182 18h1.6v1.6h-1.6zM183 20h1.6v1.6h-1.6zM179 25h1.6v1.6h-1.6zM187 33h1.6v1.6h-1.6zM176 15h1.6v1.6h-1.6zM181 18h1.6v1.6h-1.6zM186 18h1.6v1.6h-1.6zM182 28h1.6v1.6h-1.6zM185 14h1.6v1.6h-1.6zM189 36h1.6v1.6h-1.6zM190 22h1.6v1.6h-1.6zM191 23h1.6v1.6h-1.6zM184 25h1.6v1.6h-1.6zM191 24h1.6v1.6h-1.6zM184 15h1.6v1.6h-1.6zM186 17h1.6v1.6h-1.6zM185 15h1.6v1.6h-1.6zM182 18h1.6v1.6h-1.6zM183 17h1.6v1.6h-1.6zM190 28h1.6v1.6h-1.6zM184 17h1.6v1.6h-1.6zM190 22h1.6v1.6h-1.6zM188 29h1.6v1.6h-1.6zM184 26h1.6v1.6h-1.6zM187 21h1.6v1.6h-1.6zM185 20h1.6v1.6h-1.6zM176 21h1.6v1.6h-1.6zM192 29h1.6v1.6h-1.6zM194 24h1.6v1.6h-1.6zM189 20h1.6v1.6h-1.6zM182 18h1.6v1.6h-1.6zM187 28h1.6v1.6h-1.6zM178 28h1.6v1.6h-1.6zM189 28h1.6v1.6h-1.6zM180 25h1.6v1.6h-1.6zM187 15h1.6v1.6h-1.6zM181 36h1.6v1.6h-1.6zM183 20h1.6v1.6h-1.6zM178 20h1.6v1.6h-1.6zM191 26h1.6v1.6h-1.6zM182 24h1.6v1.6h-1.6zM187 27h1.6v1.6h-1.6zM181 26h1.6v1.6h-1.6zM183 20h1.6v1.6h-1.6zM182 19h1.6v1.6h-1.6zM187 13h1.6v1.6h-1.6z"/>
<path fill="#969696" d="M213 22h1.6v1.6h-1.6zM206 10h1.6v1.6h-1.6zM211 19h1.6v1.6h-1.6zM203 14h1.6v1.6h-1.6zM211 21h1.6v1.6h-1.6zM210 21h1.6v1.6h-1.6zM206 13h1.6v1.6h-1.6zM205 8h1.6v1.6h-1.6zM204 9h1.6v1.6h-1.6zM221 9h1.6v1.6h-1.6zM224 19h1.6v1.6h-1.6zM213 11h1.6v1.6h-1.6zM213 8h1.6v1.6h-1.6zM215 12h1.6v1.6h-1.6zM200 11h1.6v1.6h-1.6zM215 12h1.6v1.6h-1.6zM213 11h1.6v1.6h-1.6zM208 17h1.6v1.6h-1.6zM220 10h1.6v1.6h-1.6zM216 6h1.6v1.6h-1.6zM219 7h1.6v1.6h-1.6zM212 16h1.6v1.6h-1.6zM208 12h1.6v1.6h-1.6zM217 9h1.6v1.6h-1.6zM213 17h1.6v1.6h-1.6zM213 7h1.6v1.6h-1.6zM209 10h1.6v1.6h-1.6zM211 14h1.6v1.6h-1.6zM202 11h1.6v1.6h-1.6zM213 19h1.6v1.6h-1.6zM203 7h1.6v1.6h-1.6zM217 11h1.6v1.6h-1.6zM218 11h1.6v1.6h-1.6zM207 11h1.6v1.6h-1.6zM219 15h1.6v1.6h-1.6zM212 12h1.6v1.6h-1.6zM218 14h1.6v1.6h-1.6zM213 15h1.6v1.6h-1.6zM212 6h1.6v1.6h-1.6zM217 17h1.6v1.6h-1.6zM220 11h1.6v1.6h-1.6zM204 13h1.6v1.6h-1.6zM208 2h1.6v1.6h-1.6zM212 8h1.6v1.6h-1.6zM212 9h1.6v1.6h-1.6zM216 15h1.6v1.6h-1.6zM214 17h1.6v1.6h-1.6zM208 22h1.6v1.6h-1.6zM201 15h1.6v1.6h-1.6zM217 9h1.6v1.6h-1.6zM212 5h1.6v1.6h-1.6zM209 13h1.6v1.6h-1.6zM204 2h1.6v1.6h-1.6zM209 7h1.6v1.6h-1.6zM206 10h1.6v1.6h-1.6zM203 17h1.6v1.6h-1.6zM218 11h1.6v1.6h-1.6zM208 11h1.6v1.6h-1.6zM211 7h1.6v1.6h-1.6zM207 13h1.6v1.6h-1.6zM206 8h1.6v1.6h-1.6zM209 6h1.6v1.6h-1.6zM213 5h1.6v1.6h-1.6zM217 15h1.6v1.6h-1.6zM211 15h1.6v1.6h-1.6zM218 9h1.6v1.6h-1.6zM211 8h1.6v1.6h-1.6zM209 9h1.6v1.6h-1.6zM212 14h1.6v1.6h-1.6zM224 13h1.6v1.6h-1.6zM217 10h1.6v1.6h-1.6zM221 12h1.6v1.6h-1.6zM210 10h1.6v1.6h-1.6zM211 9h1.6v1.6h-1.6zM212 20h1.6v1.6h-1.6zM212 8h1.6v1.6h-1.6zM200 11h1.6v1.6h-1.6zM205 8h1.6v1.6h-1.6zM212 13h1.6v1.6h-1.6zM214 17h1.6v1.6h-1.6zM206 8h1.6v1.6h-1.6zM206 6h1.6v1.6h-1.6zM207 7h1.6v1.6h-1.6zM215 6h1.6v1.6h-1.6zM224 1h1.6v1.6h-1.6zM216 4h1.6v1.6h-1.6zM208 5h1.6v1.6h-1.6zM211 14h1.6v1.6h-1.6zM209 8h1.6v1.6h-1.6zM205 7h1.6v1.6h-1.6zM206 8h1.6v1.6h-1.6zM212 15h1.6v1.6h-1.6zM207 1h1.6v1.6h-1.6zM209 15h1.6v1.6h-1.6zM205 13h1.6v1.6h-1.6zM204 5h1.6v1.6h-1.6zM212 2h1.6v1.6h-1.6zM209 0h1.6v1.6h-1.6zM205 13h1.6v1.6h-1.6zM208 8h1.6v1.6h-1.6zM214 7h1.6v1.6h-1.6zM204 9h1.6v1.6h-1.6zM211 12h1.6v1.6h-1.6zM210 17h1.6v1.6h-1.6zM214 10h1.6v1.6h-1.6zM224 4h1.6v1.6h-1.6zM212 7h1.6v1.6h-1.6zM223 12h1.6v1.6h-1.6zM216 13h1.6v1.6h-1.6zM220 8h1.6v1.6h-1.6zM216 3h1.6v1.6h-1.6zM214 17h1.6v1.6h-1.6zM216 14h1.6v1.6h-1.6zM200 11h1.6v1.6h-1.6zM209 18h1.6v1.6h-1.6zM214 14h1.6v1.6h-1.6zM219 14h1.6v1.6h-1.6zM203 7h1.6v1.6h-1.6zM199 17h1.6v1.6h-1.6zM210 5h1.6v1.6h-1.6zM214 9h1.6v1.6h-1.6zM209 17h1.6v1.6h-1.6zM199 4h1.6v1.6h-1.6zM210 10h1.6v1.6h-1.6zM218 9h1.6v1.6h-1.6zM214 19h1.6v1.6h-1.6zM203 4h1.6v1.6h-1.6zM207 10h1.6v1.6h-1.6zM205 12h1.6v1.6h-1.6zM206 16h1.6v1.6h-1.6zM214 14h1.6v1.6h-1.6zM212 12h1.6v1.6h-1.6zM202 10h1.6v1.6h-1.6zM201 17h1.6v1.6h-1.6zM204 7h1.6v1.6h-1.6zM208 22h1.6v1.6h-1.6zM205 19h1.6v1.6h-1.6zM212 22h1.6v1.6h-1.6zM210 8h1.6v1.6h-1.6zM211 8h1.6v1.6h-1.6z"/>
<path fill="#969696" d="M149 27h1.4v1.4h-1.4zM148 31h1.4v1.4h-1.4zM139 28h1.4v1.4h-1.4zM168 30h1.4v1.4h-1.4zM148 29h1.4v1.4h-1.4zM176 26h1.4v1.4h-1.4zM172 28h1.4v1.4h-1.4zM173 24h1.4v1.4h-1.4zM174 26h1.4v1.4h-1.4zM134 31h1.4v1.4h-1.4zM148 27h1.4v1.4h-1.4zM132 33h1.4v1.4h-1.4zM166 32h1.4v1.4h-1.4zM154 31h1.4v1.4h-1.4zM170 28h1.4v1.4h-1.4zM162 28h1.4v1.4h-1.4zM142 27h1.4v1.4h-1.4zM175 27h1.4v1.4h-1.4zM152 29h1.4v1.4h-1.4zM175 32h1.4v1.4h-1.4zM147 29h1.4v1.4h-1.4zM162 33h1.4v1.4h-1.4zM175 32h1.4v1.4h-1.4zM165 31h1.4v1.4h-1.4zM154 28h1.4v1.4h-1.4zM136 25h1.4v1.4h-1.4zM134 30h1.4v1.4h-1.4zM140 32h1.4v1.4h-1.4zM144 30h1.4v1.4h-1.4zM155 30h1.4v1.4h-1.4zM166 30h1.4v1.4h-1.4zM165 30h1.4v1.4h-1.4zM135 32h1.4v1.4h-1.4zM145 32h1.4v1.4h-1.4zM167 26h1.4v1.4h-1.4zM149 29h1.4v1.4h-1.4zM133 31h1.4v1.4h-1.4zM169 27h1.4v1.4h-1.4zM136 26h1.4v1.4h-1.4zM138 31h1.4v1.4h-1.4zM135 36h1.4v1.4h-1.4zM177 27h1.4v1.4h-1.4zM156 29h1.4v1.4h-1.4zM153 25h1.4v1.4h-1.4zM139 27h1.4v1.4h-1.4zM163 27h1.4v1.4h-1.4zM133 29h1.4v1.4h-1.4zM166 31h1.4v1.4h-1.4zM153 28h1.4v1.4h-1.4zM155 34h1.4v1.4h-1.4zM145 29h1.4v1.4h-1.4zM134 29h1.4v1.4h-1.4zM133 35h1.4v1.4h-1.4zM156 28h1.4v1.4h-1.4zM175 25h1.4v1.4h-1.4zM136 28h1.4v1.4h-1.4zM151 27h1.4v1.4h-1.4zM161 27h1.4v1.4h-1.4zM147 28h1.4v1.4h-1.4zM154 28h1.4v1.4h-1.4zM151 28h1.4v1.4h-1.4zM142 29h1.4v1.4h-1.4zM164 31h1.4v1.4h-1.4zM177 32h1.4v1.4h-1.4zM159 29h1.4v1.4h-1.4zM176 24h1.4v1.4h-1.4zM149 25h1.4v1.4h-1.4zM132 32h1.4v1.4h-1.4zM153 29h1.4v1.4h-1.4zM165 33h1.4v1.4h-1.4z"/>
<path d="M185 33L190.5 45L198.5 58L206 66.5L211 74" fill="none" stroke="#9c9c9c" stroke-width="3" stroke-linecap="round" stroke-linejoin="round"/>
<path fill="#969696" d="M204 69h1.6v1.6h-1.6zM207 71h1.6v1.6h-1.6zM192 44h1.6v1.6h-1.6zM187 42h1.6v1.6h-1.6zM198 53h1.6v1.6h-1.6zM195 48h1.6v1.6h-1.6zM196 52h1.6v1.6h-1.6zM197 51h1.6v1.6h-1.6zM193 53h1.6v1.6h-1.6zM187 33h1.6v1.6h-1.6zM199 61h1.6v1.6h-1.6zM211 68h1.6v1.6h-1.6zM205 72h1.6v1.6h-1.6zM206 64h1.6v1.6h-1.6zM191 44h1.6v1.6h-1.6zM184 39h1.6v1.6h-1.6zM189 39h1.6v1.6h-1.6zM193 47h1.6v1.6h-1.6zM197 61h1.6v1.6h-1.6zM201 57h1.6v1.6h-1.6zM188 44h1.6v1.6h-1.6zM205 62h1.6v1.6h-1.6zM202 69h1.6v1.6h-1.6zM202 64h1.6v1.6h-1.6zM202 63h1.6v1.6h-1.6zM205 68h1.6v1.6h-1.6zM210 68h1.6v1.6h-1.6zM195 58h1.6v1.6h-1.6zM198 53h1.6v1.6h-1.6zM198 60h1.6v1.6h-1.6zM199 56h1.6v1.6h-1.6zM203 71h1.6v1.6h-1.6zM202 66h1.6v1.6h-1.6zM211 70h1.6v1.6h-1.6zM184 41h1.6v1.6h-1.6zM208 73h1.6v1.6h-1.6zM193 58h1.6v1.6h-1.6zM202 59h1.6v1.6h-1.6zM207 62h1.6v1.6h-1.6zM181 35h1.6v1.6h-1.6zM207 65h1.6v1.6h-1.6zM196 50h1.6v1.6h-1.6zM187 32h1.6v1.6h-1.6zM187 36h1.6v1.6h-1.6zM191 41h1.6v1.6h-1.6zM194 54h1.6v1.6h-1.6zM187 41h1.6v1.6h-1.6zM185 43h1.6v1.6h-1.6zM204 66h1.6v1.6h-1.6zM192 43h1.6v1.6h-1.6zM190 37h1.6v1.6h-1.6zM207 72h1.6v1.6h-1.6zM190 48h1.6v1.6h-1.6zM192 49h1.6v1.6h-1.6zM192 44h1.6v1.6h-1.6zM198 55h1.6v1.6h-1.6zM195 51h1.6v1.6h-1.6zM189 46h1.6v1.6h-1.6zM189 35h1.6v1.6h-1.6zM197 51h1.6v1.6h-1.6zM206 73h1.6v1.6h-1.6zM198 53h1.6v1.6h-1.6zM201 57h1.6v1.6h-1.6zM191 50h1.6v1.6h-1.6zM191 44h1.6v1.6h-1.6zM184 36h1.6v1.6h-1.6zM209 69h1.6v1.6h-1.6zM191 41h1.6v1.6h-1.6zM196 45h1.6v1.6h-1.6zM182 34h1.6v1.6h-1.6zM208 64h1.6v1.6h-1.6zM184 36h1.6v1.6h-1.6zM186 42h1.6v1.6h-1.6zM189 49h1.6v1.6h-1.6zM190 37h1.6v1.6h-1.6zM194 49h1.6v1.6h-1.6zM193 54h1.6v1.6h-1.6zM211 70h1.6v1.6h-1.6zM185 37h1.6v1.6h-1.6zM183 36h1.6v1.6h-1.6zM192 38h1.6v1.6h-1.6zM191 43h1.6v1.6h-1.6zM199 56h1.6v1.6h-1.6zM186 33h1.6v1.6h-1.6zM208 67h1.6v1.6h-1.6zM194 58h1.6v1.6h-1.6zM199 55h1.6v1.6h-1.6zM188 44h1.6v1.6h-1.6zM199 56h1.6v1.6h-1.6zM189 45h1.6v1.6h-1.6zM211 70h1.6v1.6h-1.6zM189 40h1.6v1.6h-1.6zM204 68h1.6v1.6h-1.6zM196 52h1.6v1.6h-1.6zM201 64h1.6v1.6h-1.6zM203 67h1.6v1.6h-1.6zM207 70h1.6v1.6h-1.6zM201 65h1.6v1.6h-1.6zM203 67h1.6v1.6h-1.6zM183 34h1.6v1.6h-1.6zM199 52h1.6v1.6h-1.6zM200 64h1.6v1.6h-1.6zM201 65h1.6v1.6h-1.6zM199 61h1.6v1.6h-1.6zM196 56h1.6v1.6h-1.6zM199 56h1.6v1.6h-1.6zM200 63h1.6v1.6h-1.6zM198 59h1.6v1.6h-1.6zM193 55h1.6v1.6h-1.6zM189 51h1.6v1.6h-1.6zM184 37h1.6v1.6h-1.6zM194 55h1.6v1.6h-1.6zM209 73h1.6v1.6h-1.6zM198 50h1.6v1.6h-1.6zM211 72h1.6v1.6h-1.6zM211 68h1.6v1.6h-1.6zM199 57h1.6v1.6h-1.6zM210 67h1.6v1.6h-1.6zM187 35h1.6v1.6h-1.6zM201 65h1.6v1.6h-1.6zM193 56h1.6v1.6h-1.6zM212 71h1.6v1.6h-1.6zM205 67h1.6v1.6h-1.6zM199 66h1.6v1.6h-1.6zM192 45h1.6v1.6h-1.6zM196 60h1.6v1.6h-1.6zM189 38h1.6v1.6h-1.6zM190 41h1.6v1.6h-1.6zM207 74h1.6v1.6h-1.6zM184 37h1.6v1.6h-1.6zM191 37h1.6v1.6h-1.6zM209 70h1.6v1.6h-1.6zM195 57h1.6v1.6h-1.6zM191 45h1.6v1.6h-1.6zM201 56h1.6v1.6h-1.6zM188 35h1.6v1.6h-1.6zM187 34h1.6v1.6h-1.6zM189 39h1.6v1.6h-1.6zM187 31h1.6v1.6h-1.6zM209 69h1.6v1.6h-1.6zM194 55h1.6v1.6h-1.6zM209 65h1.6v1.6h-1.6zM210 71h1.6v1.6h-1.6zM212 72h1.6v1.6h-1.6zM183 34h1.6v1.6h-1.6zM199 56h1.6v1.6h-1.6zM187 46h1.6v1.6h-1.6zM203 61h1.6v1.6h-1.6zM208 74h1.6v1.6h-1.6zM184 37h1.6v1.6h-1.6zM205 71h1.6v1.6h-1.6zM188 49h1.6v1.6h-1.6zM197 53h1.6v1.6h-1.6zM191 41h1.6v1.6h-1.6zM190 48h1.6v1.6h-1.6zM203 67h1.6v1.6h-1.6zM187 43h1.6v1.6h-1.6zM187 44h1.6v1.6h-1.6zM190 41h1.6v1.6h-1.6zM186 42h1.6v1.6h-1.6zM187 33h1.6v1.6h-1.6zM205 62h1.6v1.6h-1.6zM202 60h1.6v1.6h-1.6zM189 47h1.6v1.6h-1.6zM207 66h1.6v1.6h-1.6zM191 47h1.6v1.6h-1.6zM190 47h1.6v1.6h-1.6zM208 67h1.6v1.6h-1.6zM195 49h1.6v1.6h-1.6zM183 39h1.6v1.6h-1.6zM192 45h1.6v1.6h-1.6zM190 47h1.6v1.6h-1.6zM188 34h1.6v1.6h-1.6zM185 38h1.6v1.6h-1.6zM207 67h1.6v1.6h-1.6zM187 36h1.6v1.6h-1.6zM199 61h1.6v1.6h-1.6zM207 71h1.6v1.6h-1.6zM188 48h1.6v1.6h-1.6zM209 69h1.6v1.6h-1.6zM194 49h1.6v1.6h-1.6zM193 45h1.6v1.6h-1.6zM205 64h1.6v1.6h-1.6zM207 63h1.6v1.6h-1.6zM184 35h1.6v1.6h-1.6zM204 71h1.6v1.6h-1.6zM197 49h1.6v1.6h-1.6zM191 47h1.6v1.6h-1.6zM193 52h1.6v1.6h-1.6zM203 67h1.6v1.6h-1.6zM199 54h1.6v1.6h-1.6zM186 42h1.6v1.6h-1.6zM205 70h1.6v1.6h-1.6zM208 71h1.6v1.6h-1.6zM200 62h1.6v1.6h-1.6zM212 69h1.6v1.6h-1.6zM211 72h1.6v1.6h-1.6zM183 34h1.6v1.6h-1.6zM201 67h1.6v1.6h-1.6zM207 63h1.6v1.6h-1.6zM199 65h1.6v1.6h-1.6zM198 60h1.6v1.6h-1.6zM185 42h1.6v1.6h-1.6zM203 60h1.6v1.6h-1.6zM205 68h1.6v1.6h-1.6zM183 38h1.6v1.6h-1.6zM187 34h1.6v1.6h-1.6zM187 36h1.6v1.6h-1.6zM188 33h1.6v1.6h-1.6zM196 62h1.6v1.6h-1.6zM205 71h1.6v1.6h-1.6zM197 59h1.6v1.6h-1.6zM191 39h1.6v1.6h-1.6zM188 34h1.6v1.6h-1.6zM193 53h1.6v1.6h-1.6zM203 61h1.6v1.6h-1.6zM191 44h1.6v1.6h-1.6zM201 64h1.6v1.6h-1.6zM203 62h1.6v1.6h-1.6zM191 50h1.6v1.6h-1.6zM197 62h1.6v1.6h-1.6zM191 43h1.6v1.6h-1.6zM198 55h1.6v1.6h-1.6zM207 70h1.6v1.6h-1.6zM203 65h1.6v1.6h-1.6zM192 50h1.6v1.6h-1.6zM196 62h1.6v1.6h-1.6zM182 36h1.6v1.6h-1.6zM201 57h1.6v1.6h-1.6zM189 39h1.6v1.6h-1.6zM206 71h1.6v1.6h-1.6zM210 68h1.6v1.6h-1.6zM204 66h1.6v1.6h-1.6zM211 71h1.6v1.6h-1.6zM182 35h1.6v1.6h-1.6zM210 70h1.6v1.6h-1.6zM194 54h1.6v1.6h-1.6zM192 44h1.6v1.6h-1.6zM205 68h1.6v1.6h-1.6zM197 53h1.6v1.6h-1.6zM204 62h1.6v1.6h-1.6zM206 64h1.6v1.6h-1.6zM204 67h1.6v1.6h-1.6zM197 52h1.6v1.6h-1.6zM200 53h1.6v1.6h-1.6zM213 71h1.6v1.6h-1.6zM198 55h1.6v1.6h-1.6zM186 39h1.6v1.6h-1.6zM207 73h1.6v1.6h-1.6zM193 46h1.6v1.6h-1.6zM212 70h1.6v1.6h-1.6zM210 69h1.6v1.6h-1.6zM183 34h1.6v1.6h-1.6zM188 47h1.6v1.6h-1.6zM209 70h1.6v1.6h-1.6zM203 71h1.6v1.6h-1.6zM207 71h1.6v1.6h-1.6zM185 38h1.6v1.6h-1.6zM190 41h1.6v1.6h-1.6zM210 68h1.6v1.6h-1.6zM202 67h1.6v1.6h-1.6zM195 50h1.6v1.6h-1.6zM206 69h1.6v1.6h-1.6zM199 53h1.6v1.6h-1.6zM205 68h1.6v1.6h-1.6zM203 61h1.6v1.6h-1.6zM187 41h1.6v1.6h-1.6zM201 59h1.6v1.6h-1.6zM198 51h1.6v1.6h-1.6zM184 33h1.6v1.6h-1.6zM200 63h1.6v1.6h-1.6zM195 49h1.6v1.6h-1.6zM210 69h1.6v1.6h-1.6zM189 32h1.6v1.6h-1.6zM186 32h1.6v1.6h-1.6zM196 49h1.6v1.6h-1.6zM194 58h1.6v1.6h-1.6zM186 33h1.6v1.6h-1.6zM187 35h1.6v1.6h-1.6zM184 34h1.6v1.6h-1.6zM188 37h1.6v1.6h-1.6zM201 64h1.6v1.6h-1.6zM192 51h1.6v1.6h-1.6zM194 53h1.6v1.6h-1.6zM198 63h1.6v1.6h-1.6zM192 51h1.6v1.6h-1.6zM205 67h1.6v1.6h-1.6zM188 45h1.6v1.6h-1.6zM196 60h1.6v1.6h-1.6zM191 49h1.6v1.6h-1.6zM197 53h1.6v1.6h-1.6zM198 55h1.6v1.6h-1.6zM205 64h1.6v1.6h-1.6zM191 56h1.6v1.6h-1.6zM192 44h1.6v1.6h-1.6zM185 39h1.6v1.6h-1.6zM192 53h1.6v1.6h-1.6zM193 54h1.6v1.6h-1.6zM198 54h1.6v1.6h-1.6zM197 61h1.6v1.6h-1.6zM204 68h1.6v1.6h-1.6zM185 32h1.6v1.6h-1.6zM194 54h1.6v1.6h-1.6zM201 64h1.6v1.6h-1.6zM198 53h1.6v1.6h-1.6zM200 63h1.6v1.6h-1.6zM196 59h1.6v1.6h-1.6zM196 54h1.6v1.6h-1.6zM188 46h1.6v1.6h-1.6zM198 61h1.6v1.6h-1.6zM206 72h1.6v1.6h-1.6zM198 60h1.6v1.6h-1.6zM202 59h1.6v1.6h-1.6zM204 60h1.6v1.6h-1.6zM204 69h1.6v1.6h-1.6zM192 44h1.6v1.6h-1.6zM184 36h1.6v1.6h-1.6zM207 74h1.6v1.6h-1.6zM196 59h1.6v1.6h-1.6zM201 65h1.6v1.6h-1.6zM189 50h1.6v1.6h-1.6zM194 55h1.6v1.6h-1.6zM206 71h1.6v1.6h-1.6zM203 61h1.6v1.6h-1.6zM185 37h1.6v1.6h-1.6zM196 57h1.6v1.6h-1.6zM184 40h1.6v1.6h-1.6zM201 58h1.6v1.6h-1.6zM192 50h1.6v1.6h-1.6zM186 32h1.6v1.6h-1.6z"/>
<path fill="#7d7d7d" d="M212 66h1.0v1.0h-1.0zM211 68h1.0v1.0h-1.0zM186 39h1.0v1.0h-1.0zM195 46h1.0v1.0h-1.0zM198 59h1.0v1.0h-1.0zM197 56h1.0v1.0h-1.0zM197 61h1.0v1.0h-1.0zM201 64h1.0v1.0h-1.0zM206 66h1.0v1.0h-1.0zM203 56h1.0v1.0h-1.0zM187 36h1.0v1.0h-1.0zM204 59h1.0v1.0h-1.0zM212 70h1.0v1.0h-1.0zM196 53h1.0v1.0h-1.0zM213 70h1.0v1.0h-1.0zM188 44h1.0v1.0h-1.0zM194 47h1.0v1.0h-1.0zM183 40h1.0v1.0h-1.0zM194 52h1.0v1.0h-1.0zM185 46h1.0v1.0h-1.0zM184 38h1.0v1.0h-1.0zM185 36h1.0v1.0h-1.0zM187 50h1.0v1.0h-1.0zM191 54h1.0v1.0h-1.0zM188 32h1.0v1.0h-1.0zM211 72h1.0v1.0h-1.0zM188 33h1.0v1.0h-1.0zM192 49h1.0v1.0h-1.0zM195 48h1.0v1.0h-1.0zM196 53h1.0v1.0h-1.0z"/>
<path d="M175.5 100L176.5 117L181 139L187 161L190.5 173" fill="none" stroke="#9c9c9c" stroke-width="13" stroke-linecap="round" stroke-linejoin="round"/>
<path fill="#969696" d="M183 112h1.5v1.5h-1.5zM178 155h1.5v1.5h-1.5zM183 107h1.5v1.5h-1.5zM196 164h1.5v1.5h-1.5zM169 115h1.5v1.5h-1.5zM196 171h1.5v1.5h-1.5zM187 130h1.5v1.5h-1.5zM186 134h1.5v1.5h-1.5zM195 166h1.5v1.5h-1.5zM182 170h1.5v1.5h-1.5zM170 123h1.5v1.5h-1.5zM190 149h1.5v1.5h-1.5zM174 137h1.5v1.5h-1.5zM191 149h1.5v1.5h-1.5zM170 128h1.5v1.5h-1.5zM185 115h1.5v1.5h-1.5zM167 121h1.5v1.5h-1.5zM186 129h1.5v1.5h-1.5zM185 130h1.5v1.5h-1.5zM183 114h1.5v1.5h-1.5zM178 154h1.5v1.5h-1.5zM174 140h1.5v1.5h-1.5zM171 124h1.5v1.5h-1.5zM188 144h1.5v1.5h-1.5zM172 136h1.5v1.5h-1.5zM183 173h1.5v1.5h-1.5zM185 124h1.5v1.5h-1.5zM195 167h1.5v1.5h-1.5zM171 127h1.5v1.5h-1.5zM174 143h1.5v1.5h-1.5zM177 159h1.5v1.5h-1.5zM186 134h1.5v1.5h-1.5zM173 136h1.5v1.5h-1.5zM171 125h1.5v1.5h-1.5zM192 152h1.5v1.5h-1.5zM195 161h1.5v1.5h-1.5zM183 109h1.5v1.5h-1.5zM172 131h1.5v1.5h-1.5zM175 145h1.5v1.5h-1.5zM180 166h1.5v1.5h-1.5zM183 106h1.5v1.5h-1.5zM165 100h1.5v1.5h-1.5zM168 122h1.5v1.5h-1.5zM170 120h1.5v1.5h-1.5zM187 130h1.5v1.5h-1.5zM171 128h1.5v1.5h-1.5zM167 101h1.5v1.5h-1.5zM184 117h1.5v1.5h-1.5zM177 160h1.5v1.5h-1.5zM169 124h1.5v1.5h-1.5zM177 148h1.5v1.5h-1.5zM186 134h1.5v1.5h-1.5zM182 115h1.5v1.5h-1.5zM176 148h1.5v1.5h-1.5zM186 136h1.5v1.5h-1.5zM190 145h1.5v1.5h-1.5zM185 117h1.5v1.5h-1.5zM172 136h1.5v1.5h-1.5zM167 107h1.5v1.5h-1.5zM170 120h1.5v1.5h-1.5zM191 151h1.5v1.5h-1.5zM197 168h1.5v1.5h-1.5zM191 153h1.5v1.5h-1.5zM193 162h1.5v1.5h-1.5zM173 143h1.5v1.5h-1.5zM169 114h1.5v1.5h-1.5zM191 136h1.5v1.5h-1.5zM192 152h1.5v1.5h-1.5zM191 150h1.5v1.5h-1.5zM183 114h1.5v1.5h-1.5zM191 154h1.5v1.5h-1.5zM178 161h1.5v1.5h-1.5zM180 164h1.5v1.5h-1.5zM176 149h1.5v1.5h-1.5zM188 135h1.5v1.5h-1.5zM194 158h1.5v1.5h-1.5zM186 131h1.5v1.5h-1.5zM182 168h1.5v1.5h-1.5zM187 139h1.5v1.5h-1.5zM192 155h1.5v1.5h-1.5zM185 121h1.5v1.5h-1.5zM182 115h1.5v1.5h-1.5zM169 110h1.5v1.5h-1.5zM170 131h1.5v1.5h-1.5zM178 160h1.5v1.5h-1.5zM171 132h1.5v1.5h-1.5zM182 105h1.5v1.5h-1.5zM179 161h1.5v1.5h-1.5zM182 103h1.5v1.5h-1.5zM191 148h1.5v1.5h-1.5zM184 124h1.5v1.5h-1.5zM192 152h1.5v1.5h-1.5zM193 161h1.5v1.5h-1.5zM169 126h1.5v1.5h-1.5zM183 172h1.5v1.5h-1.5zM177 154h1.5v1.5h-1.5zM179 161h1.5v1.5h-1.5zM192 157h1.5v1.5h-1.5zM198 170h1.5v1.5h-1.5zM183 173h1.5v1.5h-1.5zM185 133h1.5v1.5h-1.5zM185 130h1.5v1.5h-1.5zM173 138h1.5v1.5h-1.5zM186 137h1.5v1.5h-1.5zM194 164h1.5v1.5h-1.5zM181 164h1.5v1.5h-1.5zM180 162h1.5v1.5h-1.5zM194 154h1.5v1.5h-1.5zM191 150h1.5v1.5h-1.5zM185 111h1.5v1.5h-1.5zM183 110h1.5v1.5h-1.5zM197 164h1.5v1.5h-1.5zM188 135h1.5v1.5h-1.5zM173 135h1.5v1.5h-1.5zM166 104h1.5v1.5h-1.5zM185 126h1.5v1.5h-1.5zM168 113h1.5v1.5h-1.5zM170 125h1.5v1.5h-1.5zM184 100h1.5v1.5h-1.5zM167 112h1.5v1.5h-1.5zM175 147h1.5v1.5h-1.5zM173 138h1.5v1.5h-1.5zM169 104h1.5v1.5h-1.5zM180 160h1.5v1.5h-1.5zM194 166h1.5v1.5h-1.5zM192 142h1.5v1.5h-1.5zM193 162h1.5v1.5h-1.5zM179 165h1.5v1.5h-1.5zM193 154h1.5v1.5h-1.5zM172 132h1.5v1.5h-1.5zM185 125h1.5v1.5h-1.5zM176 155h1.5v1.5h-1.5zM190 136h1.5v1.5h-1.5zM172 133h1.5v1.5h-1.5zM178 161h1.5v1.5h-1.5zM184 112h1.5v1.5h-1.5zM172 140h1.5v1.5h-1.5zM193 154h1.5v1.5h-1.5zM169 106h1.5v1.5h-1.5zM167 102h1.5v1.5h-1.5zM172 128h1.5v1.5h-1.5zM168 103h1.5v1.5h-1.5zM169 118h1.5v1.5h-1.5zM182 103h1.5v1.5h-1.5zM196 165h1.5v1.5h-1.5zM177 152h1.5v1.5h-1.5zM175 142h1.5v1.5h-1.5zM182 111h1.5v1.5h-1.5zM193 158h1.5v1.5h-1.5zM185 126h1.5v1.5h-1.5zM169 118h1.5v1.5h-1.5zM189 135h1.5v1.5h-1.5zM196 168h1.5v1.5h-1.5zM169 113h1.5v1.5h-1.5zM190 150h1.5v1.5h-1.5zM187 133h1.5v1.5h-1.5zM182 112h1.5v1.5h-1.5zM178 164h1.5v1.5h-1.5zM169 123h1.5v1.5h-1.5zM177 148h1.5v1.5h-1.5zM195 169h1.5v1.5h-1.5zM180 163h1.5v1.5h-1.5zM174 141h1.5v1.5h-1.5zM195 165h1.5v1.5h-1.5zM168 105h1.5v1.5h-1.5zM171 126h1.5v1.5h-1.5zM189 148h1.5v1.5h-1.5zM168 111h1.5v1.5h-1.5zM168 111h1.5v1.5h-1.5zM179 159h1.5v1.5h-1.5zM167 115h1.5v1.5h-1.5zM176 145h1.5v1.5h-1.5zM182 107h1.5v1.5h-1.5zM171 123h1.5v1.5h-1.5zM174 145h1.5v1.5h-1.5zM196 169h1.5v1.5h-1.5zM178 156h1.5v1.5h-1.5zM184 112h1.5v1.5h-1.5zM171 128h1.5v1.5h-1.5zM167 101h1.5v1.5h-1.5zM182 107h1.5v1.5h-1.5zM193 161h1.5v1.5h-1.5zM182 113h1.5v1.5h-1.5zM181 165h1.5v1.5h-1.5zM190 144h1.5v1.5h-1.5zM174 139h1.5v1.5h-1.5zM185 118h1.5v1.5h-1.5zM167 101h1.5v1.5h-1.5zM183 120h1.5v1.5h-1.5zM185 128h1.5v1.5h-1.5zM170 115h1.5v1.5h-1.5zM182 106h1.5v1.5h-1.5zM175 142h1.5v1.5h-1.5zM182 173h1.5v1.5h-1.5zM166 110h1.5v1.5h-1.5zM179 168h1.5v1.5h-1.5zM187 132h1.5v1.5h-1.5zM169 121h1.5v1.5h-1.5zM189 146h1.5v1.5h-1.5zM182 102h1.5v1.5h-1.5zM194 159h1.5v1.5h-1.5zM185 117h1.5v1.5h-1.5zM171 127h1.5v1.5h-1.5zM187 134h1.5v1.5h-1.5zM182 107h1.5v1.5h-1.5zM193 161h1.5v1.5h-1.5zM193 145h1.5v1.5h-1.5zM189 144h1.5v1.5h-1.5zM177 158h1.5v1.5h-1.5zM197 167h1.5v1.5h-1.5zM177 149h1.5v1.5h-1.5zM195 168h1.5v1.5h-1.5zM170 121h1.5v1.5h-1.5zM167 108h1.5v1.5h-1.5zM186 130h1.5v1.5h-1.5zM183 118h1.5v1.5h-1.5zM184 123h1.5v1.5h-1.5zM194 165h1.5v1.5h-1.5zM187 129h1.5v1.5h-1.5zM168 134h1.5v1.5h-1.5zM182 117h1.5v1.5h-1.5zM170 124h1.5v1.5h-1.5zM184 124h1.5v1.5h-1.5zM173 140h1.5v1.5h-1.5zM184 118h1.5v1.5h-1.5zM181 104h1.5v1.5h-1.5zM167 101h1.5v1.5h-1.5zM195 168h1.5v1.5h-1.5zM196 169h1.5v1.5h-1.5zM169 121h1.5v1.5h-1.5zM190 150h1.5v1.5h-1.5zM190 145h1.5v1.5h-1.5zM196 167h1.5v1.5h-1.5zM169 122h1.5v1.5h-1.5zM190 142h1.5v1.5h-1.5zM171 124h1.5v1.5h-1.5zM190 145h1.5v1.5h-1.5zM186 124h1.5v1.5h-1.5zM186 132h1.5v1.5h-1.5zM187 141h1.5v1.5h-1.5zM190 130h1.5v1.5h-1.5zM169 104h1.5v1.5h-1.5zM170 127h1.5v1.5h-1.5zM200 168h1.5v1.5h-1.5zM191 151h1.5v1.5h-1.5zM172 138h1.5v1.5h-1.5zM168 103h1.5v1.5h-1.5zM176 158h1.5v1.5h-1.5zM183 104h1.5v1.5h-1.5zM179 158h1.5v1.5h-1.5zM177 150h1.5v1.5h-1.5zM182 114h1.5v1.5h-1.5zM181 166h1.5v1.5h-1.5zM173 137h1.5v1.5h-1.5zM170 121h1.5v1.5h-1.5zM166 113h1.5v1.5h-1.5zM192 155h1.5v1.5h-1.5zM168 117h1.5v1.5h-1.5zM195 162h1.5v1.5h-1.5zM175 144h1.5v1.5h-1.5zM194 163h1.5v1.5h-1.5zM181 168h1.5v1.5h-1.5zM184 122h1.5v1.5h-1.5zM182 174h1.5v1.5h-1.5zM169 120h1.5v1.5h-1.5zM170 130h1.5v1.5h-1.5zM189 145h1.5v1.5h-1.5zM192 155h1.5v1.5h-1.5zM183 100h1.5v1.5h-1.5zM177 160h1.5v1.5h-1.5zM182 106h1.5v1.5h-1.5zM168 100h1.5v1.5h-1.5zM183 101h1.5v1.5h-1.5zM186 134h1.5v1.5h-1.5zM183 109h1.5v1.5h-1.5zM182 110h1.5v1.5h-1.5zM175 142h1.5v1.5h-1.5zM168 120h1.5v1.5h-1.5zM189 136h1.5v1.5h-1.5zM172 133h1.5v1.5h-1.5zM169 108h1.5v1.5h-1.5zM191 155h1.5v1.5h-1.5zM169 122h1.5v1.5h-1.5zM178 153h1.5v1.5h-1.5zM190 149h1.5v1.5h-1.5zM192 157h1.5v1.5h-1.5zM188 128h1.5v1.5h-1.5zM175 141h1.5v1.5h-1.5zM183 172h1.5v1.5h-1.5zM172 137h1.5v1.5h-1.5zM174 137h1.5v1.5h-1.5zM182 102h1.5v1.5h-1.5zM177 151h1.5v1.5h-1.5zM182 116h1.5v1.5h-1.5zM169 127h1.5v1.5h-1.5zM191 153h1.5v1.5h-1.5zM169 108h1.5v1.5h-1.5zM176 146h1.5v1.5h-1.5zM183 120h1.5v1.5h-1.5zM192 157h1.5v1.5h-1.5zM194 165h1.5v1.5h-1.5zM191 152h1.5v1.5h-1.5zM171 134h1.5v1.5h-1.5zM189 141h1.5v1.5h-1.5zM174 141h1.5v1.5h-1.5zM191 147h1.5v1.5h-1.5zM172 128h1.5v1.5h-1.5zM179 159h1.5v1.5h-1.5zM191 147h1.5v1.5h-1.5zM170 129h1.5v1.5h-1.5zM195 156h1.5v1.5h-1.5zM186 135h1.5v1.5h-1.5zM192 158h1.5v1.5h-1.5zM170 124h1.5v1.5h-1.5zM181 166h1.5v1.5h-1.5zM174 143h1.5v1.5h-1.5zM169 102h1.5v1.5h-1.5zM186 129h1.5v1.5h-1.5zM181 166h1.5v1.5h-1.5zM186 135h1.5v1.5h-1.5zM182 173h1.5v1.5h-1.5zM184 121h1.5v1.5h-1.5zM188 137h1.5v1.5h-1.5zM172 128h1.5v1.5h-1.5zM175 144h1.5v1.5h-1.5zM191 152h1.5v1.5h-1.5zM183 122h1.5v1.5h-1.5zM181 106h1.5v1.5h-1.5zM183 116h1.5v1.5h-1.5zM181 101h1.5v1.5h-1.5zM176 149h1.5v1.5h-1.5zM190 152h1.5v1.5h-1.5zM176 152h1.5v1.5h-1.5zM168 100h1.5v1.5h-1.5zM194 157h1.5v1.5h-1.5zM190 153h1.5v1.5h-1.5zM180 163h1.5v1.5h-1.5zM197 168h1.5v1.5h-1.5zM170 121h1.5v1.5h-1.5zM187 135h1.5v1.5h-1.5zM193 157h1.5v1.5h-1.5zM189 145h1.5v1.5h-1.5zM186 133h1.5v1.5h-1.5zM173 139h1.5v1.5h-1.5zM174 142h1.5v1.5h-1.5zM183 173h1.5v1.5h-1.5zM171 129h1.5v1.5h-1.5zM169 115h1.5v1.5h-1.5zM186 128h1.5v1.5h-1.5zM183 119h1.5v1.5h-1.5zM171 146h1.5v1.5h-1.5zM195 160h1.5v1.5h-1.5zM191 154h1.5v1.5h-1.5zM197 166h1.5v1.5h-1.5zM185 118h1.5v1.5h-1.5zM182 166h1.5v1.5h-1.5zM189 137h1.5v1.5h-1.5zM169 111h1.5v1.5h-1.5zM176 152h1.5v1.5h-1.5zM195 164h1.5v1.5h-1.5zM180 164h1.5v1.5h-1.5zM172 136h1.5v1.5h-1.5zM183 110h1.5v1.5h-1.5zM172 142h1.5v1.5h-1.5zM170 124h1.5v1.5h-1.5zM195 157h1.5v1.5h-1.5zM190 149h1.5v1.5h-1.5zM186 135h1.5v1.5h-1.5zM182 167h1.5v1.5h-1.5zM180 165h1.5v1.5h-1.5zM180 160h1.5v1.5h-1.5zM188 140h1.5v1.5h-1.5zM182 169h1.5v1.5h-1.5zM198 168h1.5v1.5h-1.5zM168 120h1.5v1.5h-1.5zM179 159h1.5v1.5h-1.5zM189 146h1.5v1.5h-1.5zM196 170h1.5v1.5h-1.5zM183 172h1.5v1.5h-1.5zM169 123h1.5v1.5h-1.5z"/>
<path fill="#7d7d7d" d="M180 125h1.0v1.0h-1.0zM183 147h1.0v1.0h-1.0zM172 108h1.0v1.0h-1.0zM180 148h1.0v1.0h-1.0zM175 104h1.0v1.0h-1.0zM174 111h1.0v1.0h-1.0zM175 118h1.0v1.0h-1.0zM189 147h1.0v1.0h-1.0zM189 155h1.0v1.0h-1.0zM175 103h1.0v1.0h-1.0zM189 162h1.0v1.0h-1.0zM176 119h1.0v1.0h-1.0zM185 135h1.0v1.0h-1.0zM176 119h1.0v1.0h-1.0zM195 161h1.0v1.0h-1.0zM169 127h1.0v1.0h-1.0zM172 103h1.0v1.0h-1.0zM173 148h1.0v1.0h-1.0zM185 159h1.0v1.0h-1.0zM182 119h1.0v1.0h-1.0zM169 116h1.0v1.0h-1.0zM174 101h1.0v1.0h-1.0zM195 169h1.0v1.0h-1.0zM185 132h1.0v1.0h-1.0zM172 116h1.0v1.0h-1.0zM180 104h1.0v1.0h-1.0zM180 105h1.0v1.0h-1.0zM190 145h1.0v1.0h-1.0zM183 116h1.0v1.0h-1.0zM197 163h1.0v1.0h-1.0zM178 143h1.0v1.0h-1.0zM182 149h1.0v1.0h-1.0zM176 141h1.0v1.0h-1.0zM172 121h1.0v1.0h-1.0zM193 161h1.0v1.0h-1.0zM166 115h1.0v1.0h-1.0zM175 142h1.0v1.0h-1.0zM195 156h1.0v1.0h-1.0zM175 102h1.0v1.0h-1.0zM177 135h1.0v1.0h-1.0zM175 145h1.0v1.0h-1.0zM181 163h1.0v1.0h-1.0zM197 168h1.0v1.0h-1.0zM177 166h1.0v1.0h-1.0zM186 115h1.0v1.0h-1.0zM194 155h1.0v1.0h-1.0zM180 129h1.0v1.0h-1.0zM171 101h1.0v1.0h-1.0zM177 152h1.0v1.0h-1.0zM173 120h1.0v1.0h-1.0zM183 126h1.0v1.0h-1.0zM189 170h1.0v1.0h-1.0zM176 151h1.0v1.0h-1.0zM181 147h1.0v1.0h-1.0zM175 122h1.0v1.0h-1.0zM174 126h1.0v1.0h-1.0zM185 160h1.0v1.0h-1.0zM173 127h1.0v1.0h-1.0zM180 104h1.0v1.0h-1.0zM185 101h1.0v1.0h-1.0zM193 157h1.0v1.0h-1.0zM198 166h1.0v1.0h-1.0zM179 171h1.0v1.0h-1.0zM180 162h1.0v1.0h-1.0zM185 153h1.0v1.0h-1.0zM164 105h1.0v1.0h-1.0zM172 128h1.0v1.0h-1.0zM178 162h1.0v1.0h-1.0zM177 105h1.0v1.0h-1.0zM185 130h1.0v1.0h-1.0zM166 110h1.0v1.0h-1.0zM172 144h1.0v1.0h-1.0zM181 175h1.0v1.0h-1.0zM179 122h1.0v1.0h-1.0zM173 147h1.0v1.0h-1.0zM172 136h1.0v1.0h-1.0zM188 170h1.0v1.0h-1.0zM174 120h1.0v1.0h-1.0zM181 145h1.0v1.0h-1.0zM192 144h1.0v1.0h-1.0zM181 142h1.0v1.0h-1.0zM173 145h1.0v1.0h-1.0zM190 156h1.0v1.0h-1.0zM173 119h1.0v1.0h-1.0zM188 172h1.0v1.0h-1.0zM185 145h1.0v1.0h-1.0zM190 157h1.0v1.0h-1.0zM170 136h1.0v1.0h-1.0zM176 113h1.0v1.0h-1.0zM184 112h1.0v1.0h-1.0z"/>
<path fill="#969696" d="M195 92h1.5v1.5h-1.5zM197 89h1.5v1.5h-1.5zM190 91h1.5v1.5h-1.5zM187 91h1.5v1.5h-1.5zM191 93h1.5v1.5h-1.5zM197 89h1.5v1.5h-1.5zM195 88h1.5v1.5h-1.5zM198 90h1.5v1.5h-1.5zM196 89h1.5v1.5h-1.5zM184 88h1.5v1.5h-1.5zM184 92h1.5v1.5h-1.5zM199 90h1.5v1.5h-1.5zM197 89h1.5v1.5h-1.5zM195 87h1.5v1.5h-1.5zM185 89h1.5v1.5h-1.5zM186 92h1.5v1.5h-1.5zM191 91h1.5v1.5h-1.5zM186 91h1.5v1.5h-1.5zM195 89h1.5v1.5h-1.5zM192 93h1.5v1.5h-1.5zM193 90h1.5v1.5h-1.5zM190 89h1.5v1.5h-1.5zM191 92h1.5v1.5h-1.5zM195 91h1.5v1.5h-1.5zM198 87h1.5v1.5h-1.5zM188 93h1.5v1.5h-1.5zM189 90h1.5v1.5h-1.5zM186 89h1.5v1.5h-1.5zM190 88h1.5v1.5h-1.5zM193 93h1.5v1.5h-1.5zM197 86h1.5v1.5h-1.5zM194 91h1.5v1.5h-1.5zM194 88h1.5v1.5h-1.5zM197 89h1.5v1.5h-1.5zM187 90h1.5v1.5h-1.5zM193 88h1.5v1.5h-1.5zM194 88h1.5v1.5h-1.5zM197 90h1.5v1.5h-1.5zM188 92h1.5v1.5h-1.5zM191 91h1.5v1.5h-1.5zM190 87h1.5v1.5h-1.5zM190 91h1.5v1.5h-1.5zM193 92h1.5v1.5h-1.5zM192 93h1.5v1.5h-1.5zM184 90h1.5v1.5h-1.5zM191 90h1.5v1.5h-1.5zM199 88h1.5v1.5h-1.5zM190 95h1.5v1.5h-1.5zM185 90h1.5v1.5h-1.5zM186 94h1.5v1.5h-1.5zM187 89h1.5v1.5h-1.5zM196 91h1.5v1.5h-1.5zM190 90h1.5v1.5h-1.5zM188 95h1.5v1.5h-1.5zM196 90h1.5v1.5h-1.5zM195 91h1.5v1.5h-1.5zM190 91h1.5v1.5h-1.5zM196 89h1.5v1.5h-1.5zM199 89h1.5v1.5h-1.5zM196 91h1.5v1.5h-1.5zM190 92h1.5v1.5h-1.5zM184 91h1.5v1.5h-1.5zM192 93h1.5v1.5h-1.5zM197 91h1.5v1.5h-1.5zM197 90h1.5v1.5h-1.5zM193 90h1.5v1.5h-1.5zM191 91h1.5v1.5h-1.5zM190 92h1.5v1.5h-1.5zM185 92h1.5v1.5h-1.5zM192 93h1.5v1.5h-1.5z"/>
<path d="M67.5 173L69 190L69 210L69.5 250L70 296" fill="none" stroke="#9c9c9c" stroke-width="8" stroke-linecap="round" stroke-linejoin="round"/>
<path fill="#969696" d="M65 200h1.5v1.5h-1.5zM63 229h1.5v1.5h-1.5zM64 287h1.5v1.5h-1.5zM63 218h1.5v1.5h-1.5zM65 206h1.5v1.5h-1.5zM73 225h1.5v1.5h-1.5zM72 176h1.5v1.5h-1.5zM72 211h1.5v1.5h-1.5zM72 248h1.5v1.5h-1.5zM65 235h1.5v1.5h-1.5zM72 200h1.5v1.5h-1.5zM65 240h1.5v1.5h-1.5zM64 256h1.5v1.5h-1.5zM63 277h1.5v1.5h-1.5zM65 289h1.5v1.5h-1.5zM65 280h1.5v1.5h-1.5zM64 225h1.5v1.5h-1.5zM62 179h1.5v1.5h-1.5zM63 186h1.5v1.5h-1.5zM74 264h1.5v1.5h-1.5zM73 174h1.5v1.5h-1.5zM64 176h1.5v1.5h-1.5zM74 233h1.5v1.5h-1.5zM64 288h1.5v1.5h-1.5zM75 282h1.5v1.5h-1.5zM64 196h1.5v1.5h-1.5zM74 226h1.5v1.5h-1.5zM73 256h1.5v1.5h-1.5zM63 214h1.5v1.5h-1.5zM72 250h1.5v1.5h-1.5zM73 179h1.5v1.5h-1.5zM65 282h1.5v1.5h-1.5zM72 199h1.5v1.5h-1.5zM65 272h1.5v1.5h-1.5zM65 201h1.5v1.5h-1.5zM64 207h1.5v1.5h-1.5zM74 282h1.5v1.5h-1.5zM63 178h1.5v1.5h-1.5zM73 202h1.5v1.5h-1.5zM63 213h1.5v1.5h-1.5zM65 217h1.5v1.5h-1.5zM62 184h1.5v1.5h-1.5zM63 178h1.5v1.5h-1.5zM65 256h1.5v1.5h-1.5zM65 230h1.5v1.5h-1.5zM73 250h1.5v1.5h-1.5zM66 281h1.5v1.5h-1.5zM73 207h1.5v1.5h-1.5zM73 233h1.5v1.5h-1.5zM65 280h1.5v1.5h-1.5zM72 235h1.5v1.5h-1.5zM65 245h1.5v1.5h-1.5zM63 206h1.5v1.5h-1.5zM74 241h1.5v1.5h-1.5zM74 246h1.5v1.5h-1.5zM64 214h1.5v1.5h-1.5zM65 252h1.5v1.5h-1.5zM65 239h1.5v1.5h-1.5zM72 203h1.5v1.5h-1.5zM64 200h1.5v1.5h-1.5zM65 238h1.5v1.5h-1.5zM62 185h1.5v1.5h-1.5zM65 249h1.5v1.5h-1.5zM73 217h1.5v1.5h-1.5zM63 210h1.5v1.5h-1.5zM72 245h1.5v1.5h-1.5zM62 176h1.5v1.5h-1.5zM73 225h1.5v1.5h-1.5zM62 269h1.5v1.5h-1.5zM75 288h1.5v1.5h-1.5zM73 235h1.5v1.5h-1.5zM65 268h1.5v1.5h-1.5zM64 192h1.5v1.5h-1.5zM62 204h1.5v1.5h-1.5zM72 217h1.5v1.5h-1.5zM74 288h1.5v1.5h-1.5zM64 284h1.5v1.5h-1.5zM73 215h1.5v1.5h-1.5zM64 223h1.5v1.5h-1.5zM73 204h1.5v1.5h-1.5zM64 216h1.5v1.5h-1.5zM65 246h1.5v1.5h-1.5zM65 278h1.5v1.5h-1.5zM62 188h1.5v1.5h-1.5zM73 187h1.5v1.5h-1.5zM72 179h1.5v1.5h-1.5zM64 189h1.5v1.5h-1.5zM62 174h1.5v1.5h-1.5zM73 283h1.5v1.5h-1.5zM65 291h1.5v1.5h-1.5zM65 263h1.5v1.5h-1.5zM63 193h1.5v1.5h-1.5zM64 242h1.5v1.5h-1.5zM64 190h1.5v1.5h-1.5zM64 193h1.5v1.5h-1.5zM65 249h1.5v1.5h-1.5zM65 234h1.5v1.5h-1.5zM74 217h1.5v1.5h-1.5zM73 285h1.5v1.5h-1.5zM63 251h1.5v1.5h-1.5zM73 245h1.5v1.5h-1.5zM61 228h1.5v1.5h-1.5zM64 205h1.5v1.5h-1.5zM64 287h1.5v1.5h-1.5zM65 214h1.5v1.5h-1.5zM63 190h1.5v1.5h-1.5zM65 189h1.5v1.5h-1.5zM72 172h1.5v1.5h-1.5zM65 190h1.5v1.5h-1.5zM72 224h1.5v1.5h-1.5zM72 214h1.5v1.5h-1.5zM73 197h1.5v1.5h-1.5zM74 276h1.5v1.5h-1.5zM65 234h1.5v1.5h-1.5zM74 290h1.5v1.5h-1.5zM64 195h1.5v1.5h-1.5zM73 276h1.5v1.5h-1.5zM72 188h1.5v1.5h-1.5zM75 196h1.5v1.5h-1.5zM64 271h1.5v1.5h-1.5zM64 194h1.5v1.5h-1.5zM74 265h1.5v1.5h-1.5zM64 196h1.5v1.5h-1.5zM64 251h1.5v1.5h-1.5zM63 230h1.5v1.5h-1.5zM72 225h1.5v1.5h-1.5zM64 285h1.5v1.5h-1.5zM64 290h1.5v1.5h-1.5zM64 184h1.5v1.5h-1.5zM63 196h1.5v1.5h-1.5zM73 243h1.5v1.5h-1.5zM74 262h1.5v1.5h-1.5zM64 211h1.5v1.5h-1.5zM66 291h1.5v1.5h-1.5zM74 265h1.5v1.5h-1.5zM63 197h1.5v1.5h-1.5zM72 198h1.5v1.5h-1.5zM73 235h1.5v1.5h-1.5zM74 261h1.5v1.5h-1.5zM62 191h1.5v1.5h-1.5zM64 191h1.5v1.5h-1.5zM65 213h1.5v1.5h-1.5zM65 264h1.5v1.5h-1.5zM65 190h1.5v1.5h-1.5zM64 242h1.5v1.5h-1.5zM64 238h1.5v1.5h-1.5zM72 181h1.5v1.5h-1.5zM65 256h1.5v1.5h-1.5zM63 281h1.5v1.5h-1.5zM72 186h1.5v1.5h-1.5zM73 226h1.5v1.5h-1.5zM65 290h1.5v1.5h-1.5zM73 251h1.5v1.5h-1.5zM73 219h1.5v1.5h-1.5zM63 175h1.5v1.5h-1.5zM64 293h1.5v1.5h-1.5zM65 238h1.5v1.5h-1.5zM75 287h1.5v1.5h-1.5zM65 190h1.5v1.5h-1.5zM74 285h1.5v1.5h-1.5zM64 259h1.5v1.5h-1.5zM65 280h1.5v1.5h-1.5zM63 259h1.5v1.5h-1.5zM72 263h1.5v1.5h-1.5zM71 187h1.5v1.5h-1.5zM73 240h1.5v1.5h-1.5zM65 294h1.5v1.5h-1.5zM64 246h1.5v1.5h-1.5zM74 242h1.5v1.5h-1.5zM72 238h1.5v1.5h-1.5zM64 206h1.5v1.5h-1.5zM63 196h1.5v1.5h-1.5zM75 248h1.5v1.5h-1.5zM65 260h1.5v1.5h-1.5zM65 190h1.5v1.5h-1.5zM64 257h1.5v1.5h-1.5zM65 278h1.5v1.5h-1.5zM65 279h1.5v1.5h-1.5zM64 193h1.5v1.5h-1.5zM72 222h1.5v1.5h-1.5zM74 265h1.5v1.5h-1.5zM73 233h1.5v1.5h-1.5zM63 189h1.5v1.5h-1.5zM71 182h1.5v1.5h-1.5zM73 287h1.5v1.5h-1.5zM73 266h1.5v1.5h-1.5zM64 225h1.5v1.5h-1.5zM63 287h1.5v1.5h-1.5zM66 288h1.5v1.5h-1.5zM63 235h1.5v1.5h-1.5zM62 178h1.5v1.5h-1.5zM74 281h1.5v1.5h-1.5zM73 255h1.5v1.5h-1.5zM74 266h1.5v1.5h-1.5zM75 295h1.5v1.5h-1.5zM65 289h1.5v1.5h-1.5zM64 245h1.5v1.5h-1.5zM72 213h1.5v1.5h-1.5zM73 228h1.5v1.5h-1.5zM76 284h1.5v1.5h-1.5zM73 197h1.5v1.5h-1.5zM64 208h1.5v1.5h-1.5zM72 212h1.5v1.5h-1.5zM65 254h1.5v1.5h-1.5zM65 233h1.5v1.5h-1.5zM73 237h1.5v1.5h-1.5zM65 231h1.5v1.5h-1.5zM73 183h1.5v1.5h-1.5zM75 286h1.5v1.5h-1.5zM64 236h1.5v1.5h-1.5zM65 262h1.5v1.5h-1.5zM75 270h1.5v1.5h-1.5zM74 290h1.5v1.5h-1.5zM72 185h1.5v1.5h-1.5zM71 173h1.5v1.5h-1.5zM72 210h1.5v1.5h-1.5zM64 187h1.5v1.5h-1.5zM73 230h1.5v1.5h-1.5zM65 249h1.5v1.5h-1.5zM72 205h1.5v1.5h-1.5zM72 227h1.5v1.5h-1.5zM66 289h1.5v1.5h-1.5zM65 252h1.5v1.5h-1.5zM64 284h1.5v1.5h-1.5zM64 206h1.5v1.5h-1.5zM64 179h1.5v1.5h-1.5zM64 229h1.5v1.5h-1.5zM63 192h1.5v1.5h-1.5zM74 247h1.5v1.5h-1.5zM73 240h1.5v1.5h-1.5zM74 288h1.5v1.5h-1.5zM64 198h1.5v1.5h-1.5zM63 222h1.5v1.5h-1.5zM65 293h1.5v1.5h-1.5zM65 226h1.5v1.5h-1.5zM76 284h1.5v1.5h-1.5zM74 265h1.5v1.5h-1.5zM63 192h1.5v1.5h-1.5zM73 289h1.5v1.5h-1.5zM71 185h1.5v1.5h-1.5zM64 212h1.5v1.5h-1.5zM73 250h1.5v1.5h-1.5zM64 220h1.5v1.5h-1.5zM71 175h1.5v1.5h-1.5zM64 280h1.5v1.5h-1.5zM64 246h1.5v1.5h-1.5zM64 248h1.5v1.5h-1.5zM73 272h1.5v1.5h-1.5zM64 182h1.5v1.5h-1.5zM73 258h1.5v1.5h-1.5zM72 192h1.5v1.5h-1.5zM63 249h1.5v1.5h-1.5zM65 218h1.5v1.5h-1.5zM74 176h1.5v1.5h-1.5zM73 274h1.5v1.5h-1.5zM63 198h1.5v1.5h-1.5zM73 269h1.5v1.5h-1.5zM73 192h1.5v1.5h-1.5zM62 263h1.5v1.5h-1.5zM64 253h1.5v1.5h-1.5zM65 261h1.5v1.5h-1.5zM63 179h1.5v1.5h-1.5zM65 272h1.5v1.5h-1.5zM73 255h1.5v1.5h-1.5zM73 265h1.5v1.5h-1.5zM63 263h1.5v1.5h-1.5zM74 260h1.5v1.5h-1.5zM65 217h1.5v1.5h-1.5zM74 253h1.5v1.5h-1.5zM65 274h1.5v1.5h-1.5zM63 189h1.5v1.5h-1.5zM73 249h1.5v1.5h-1.5zM65 254h1.5v1.5h-1.5zM64 176h1.5v1.5h-1.5zM73 205h1.5v1.5h-1.5zM74 214h1.5v1.5h-1.5zM72 203h1.5v1.5h-1.5zM64 215h1.5v1.5h-1.5zM73 210h1.5v1.5h-1.5zM72 248h1.5v1.5h-1.5zM64 230h1.5v1.5h-1.5zM73 247h1.5v1.5h-1.5zM64 179h1.5v1.5h-1.5zM74 259h1.5v1.5h-1.5zM74 256h1.5v1.5h-1.5zM64 286h1.5v1.5h-1.5zM65 234h1.5v1.5h-1.5zM64 205h1.5v1.5h-1.5zM63 229h1.5v1.5h-1.5zM73 242h1.5v1.5h-1.5zM73 276h1.5v1.5h-1.5zM65 227h1.5v1.5h-1.5zM72 209h1.5v1.5h-1.5zM73 195h1.5v1.5h-1.5zM65 269h1.5v1.5h-1.5zM72 193h1.5v1.5h-1.5zM65 217h1.5v1.5h-1.5zM73 284h1.5v1.5h-1.5zM72 251h1.5v1.5h-1.5zM64 227h1.5v1.5h-1.5zM73 233h1.5v1.5h-1.5zM72 221h1.5v1.5h-1.5zM65 271h1.5v1.5h-1.5zM72 240h1.5v1.5h-1.5zM61 217h1.5v1.5h-1.5zM65 270h1.5v1.5h-1.5zM65 274h1.5v1.5h-1.5zM63 254h1.5v1.5h-1.5zM65 226h1.5v1.5h-1.5zM66 293h1.5v1.5h-1.5zM64 291h1.5v1.5h-1.5zM64 198h1.5v1.5h-1.5zM73 205h1.5v1.5h-1.5zM74 247h1.5v1.5h-1.5zM73 190h1.5v1.5h-1.5zM73 234h1.5v1.5h-1.5zM73 222h1.5v1.5h-1.5zM72 181h1.5v1.5h-1.5zM73 247h1.5v1.5h-1.5zM73 251h1.5v1.5h-1.5zM63 228h1.5v1.5h-1.5zM63 186h1.5v1.5h-1.5zM73 197h1.5v1.5h-1.5zM65 189h1.5v1.5h-1.5zM72 226h1.5v1.5h-1.5zM73 195h1.5v1.5h-1.5zM73 211h1.5v1.5h-1.5zM66 266h1.5v1.5h-1.5zM74 247h1.5v1.5h-1.5zM63 265h1.5v1.5h-1.5zM74 283h1.5v1.5h-1.5zM72 204h1.5v1.5h-1.5zM64 266h1.5v1.5h-1.5zM65 295h1.5v1.5h-1.5zM64 280h1.5v1.5h-1.5zM73 258h1.5v1.5h-1.5zM62 179h1.5v1.5h-1.5zM73 187h1.5v1.5h-1.5zM64 268h1.5v1.5h-1.5zM63 253h1.5v1.5h-1.5zM64 248h1.5v1.5h-1.5zM72 188h1.5v1.5h-1.5zM74 199h1.5v1.5h-1.5zM64 272h1.5v1.5h-1.5zM65 242h1.5v1.5h-1.5zM63 188h1.5v1.5h-1.5zM73 267h1.5v1.5h-1.5zM72 222h1.5v1.5h-1.5zM72 210h1.5v1.5h-1.5zM73 260h1.5v1.5h-1.5zM64 214h1.5v1.5h-1.5zM65 252h1.5v1.5h-1.5zM65 250h1.5v1.5h-1.5zM73 214h1.5v1.5h-1.5zM73 231h1.5v1.5h-1.5zM64 241h1.5v1.5h-1.5zM63 220h1.5v1.5h-1.5zM73 196h1.5v1.5h-1.5zM65 241h1.5v1.5h-1.5zM65 250h1.5v1.5h-1.5zM73 246h1.5v1.5h-1.5zM72 198h1.5v1.5h-1.5zM75 248h1.5v1.5h-1.5zM72 237h1.5v1.5h-1.5zM73 289h1.5v1.5h-1.5zM73 240h1.5v1.5h-1.5zM64 231h1.5v1.5h-1.5zM72 265h1.5v1.5h-1.5zM74 241h1.5v1.5h-1.5zM64 177h1.5v1.5h-1.5zM65 279h1.5v1.5h-1.5zM74 227h1.5v1.5h-1.5zM74 228h1.5v1.5h-1.5zM64 281h1.5v1.5h-1.5zM63 285h1.5v1.5h-1.5zM64 200h1.5v1.5h-1.5zM65 215h1.5v1.5h-1.5zM64 219h1.5v1.5h-1.5zM75 289h1.5v1.5h-1.5zM73 209h1.5v1.5h-1.5zM63 198h1.5v1.5h-1.5zM73 279h1.5v1.5h-1.5zM73 261h1.5v1.5h-1.5zM73 204h1.5v1.5h-1.5zM64 198h1.5v1.5h-1.5zM65 280h1.5v1.5h-1.5zM74 260h1.5v1.5h-1.5zM63 275h1.5v1.5h-1.5zM73 236h1.5v1.5h-1.5zM72 240h1.5v1.5h-1.5zM63 200h1.5v1.5h-1.5zM66 290h1.5v1.5h-1.5zM65 277h1.5v1.5h-1.5zM64 235h1.5v1.5h-1.5zM72 200h1.5v1.5h-1.5zM64 176h1.5v1.5h-1.5zM63 261h1.5v1.5h-1.5zM64 209h1.5v1.5h-1.5zM73 261h1.5v1.5h-1.5zM73 261h1.5v1.5h-1.5zM65 270h1.5v1.5h-1.5zM63 176h1.5v1.5h-1.5zM73 256h1.5v1.5h-1.5zM74 247h1.5v1.5h-1.5zM70 175h1.5v1.5h-1.5zM72 179h1.5v1.5h-1.5zM63 246h1.5v1.5h-1.5zM65 244h1.5v1.5h-1.5zM63 192h1.5v1.5h-1.5zM64 182h1.5v1.5h-1.5zM65 233h1.5v1.5h-1.5zM72 185h1.5v1.5h-1.5zM63 270h1.5v1.5h-1.5zM64 185h1.5v1.5h-1.5zM72 184h1.5v1.5h-1.5zM72 235h1.5v1.5h-1.5zM64 232h1.5v1.5h-1.5zM64 237h1.5v1.5h-1.5zM65 293h1.5v1.5h-1.5zM73 222h1.5v1.5h-1.5zM72 211h1.5v1.5h-1.5zM75 279h1.5v1.5h-1.5zM73 242h1.5v1.5h-1.5zM74 198h1.5v1.5h-1.5zM64 265h1.5v1.5h-1.5zM72 196h1.5v1.5h-1.5zM63 279h1.5v1.5h-1.5zM72 255h1.5v1.5h-1.5zM74 259h1.5v1.5h-1.5zM74 266h1.5v1.5h-1.5zM72 204h1.5v1.5h-1.5zM73 229h1.5v1.5h-1.5zM65 277h1.5v1.5h-1.5zM72 260h1.5v1.5h-1.5zM62 249h1.5v1.5h-1.5zM63 183h1.5v1.5h-1.5zM64 247h1.5v1.5h-1.5zM64 178h1.5v1.5h-1.5zM75 294h1.5v1.5h-1.5zM62 220h1.5v1.5h-1.5z"/>
<path fill="#7d7d7d" d="M61 250h1.0v1.0h-1.0zM66 185h1.0v1.0h-1.0zM68 248h1.0v1.0h-1.0zM65 267h1.0v1.0h-1.0zM68 270h1.0v1.0h-1.0zM60 206h1.0v1.0h-1.0zM77 217h1.0v1.0h-1.0zM75 254h1.0v1.0h-1.0zM66 230h1.0v1.0h-1.0zM61 196h1.0v1.0h-1.0zM67 205h1.0v1.0h-1.0zM61 187h1.0v1.0h-1.0zM65 212h1.0v1.0h-1.0zM70 291h1.0v1.0h-1.0zM74 206h1.0v1.0h-1.0zM63 284h1.0v1.0h-1.0zM70 222h1.0v1.0h-1.0zM71 223h1.0v1.0h-1.0zM64 222h1.0v1.0h-1.0zM73 250h1.0v1.0h-1.0zM74 253h1.0v1.0h-1.0zM65 218h1.0v1.0h-1.0zM69 279h1.0v1.0h-1.0zM76 286h1.0v1.0h-1.0zM63 287h1.0v1.0h-1.0zM59 177h1.0v1.0h-1.0zM75 249h1.0v1.0h-1.0zM71 176h1.0v1.0h-1.0zM68 234h1.0v1.0h-1.0zM77 269h1.0v1.0h-1.0zM60 233h1.0v1.0h-1.0zM76 273h1.0v1.0h-1.0zM72 226h1.0v1.0h-1.0zM65 290h1.0v1.0h-1.0zM71 278h1.0v1.0h-1.0zM69 256h1.0v1.0h-1.0zM74 243h1.0v1.0h-1.0zM71 228h1.0v1.0h-1.0zM73 271h1.0v1.0h-1.0zM77 288h1.0v1.0h-1.0zM75 242h1.0v1.0h-1.0zM63 194h1.0v1.0h-1.0zM73 294h1.0v1.0h-1.0zM73 174h1.0v1.0h-1.0zM73 185h1.0v1.0h-1.0zM71 268h1.0v1.0h-1.0zM71 274h1.0v1.0h-1.0zM65 250h1.0v1.0h-1.0zM62 284h1.0v1.0h-1.0zM61 219h1.0v1.0h-1.0zM67 282h1.0v1.0h-1.0zM67 256h1.0v1.0h-1.0zM74 244h1.0v1.0h-1.0zM76 261h1.0v1.0h-1.0zM62 253h1.0v1.0h-1.0zM63 293h1.0v1.0h-1.0zM76 216h1.0v1.0h-1.0zM69 284h1.0v1.0h-1.0zM62 251h1.0v1.0h-1.0zM64 244h1.0v1.0h-1.0zM65 221h1.0v1.0h-1.0zM72 220h1.0v1.0h-1.0zM68 260h1.0v1.0h-1.0zM68 206h1.0v1.0h-1.0zM65 249h1.0v1.0h-1.0zM65 176h1.0v1.0h-1.0zM77 245h1.0v1.0h-1.0zM67 219h1.0v1.0h-1.0zM71 271h1.0v1.0h-1.0zM62 226h1.0v1.0h-1.0z"/>
<path fill="#969696" d="M128 111h1.5v1.5h-1.5zM122 107h1.5v1.5h-1.5zM122 108h1.5v1.5h-1.5zM123 110h1.5v1.5h-1.5zM120 108h1.5v1.5h-1.5zM121 108h1.5v1.5h-1.5zM125 108h1.5v1.5h-1.5zM121 107h1.5v1.5h-1.5zM117 111h1.5v1.5h-1.5zM125 108h1.5v1.5h-1.5zM124 107h1.5v1.5h-1.5zM123 107h1.5v1.5h-1.5zM119 108h1.5v1.5h-1.5zM117 109h1.5v1.5h-1.5zM121 109h1.5v1.5h-1.5zM120 109h1.5v1.5h-1.5zM123 109h1.5v1.5h-1.5zM123 112h1.5v1.5h-1.5zM122 107h1.5v1.5h-1.5zM122 106h1.5v1.5h-1.5zM119 109h1.5v1.5h-1.5zM124 106h1.5v1.5h-1.5zM123 108h1.5v1.5h-1.5zM125 106h1.5v1.5h-1.5zM122 108h1.5v1.5h-1.5zM122 109h1.5v1.5h-1.5zM122 108h1.5v1.5h-1.5zM122 110h1.5v1.5h-1.5zM118 107h1.5v1.5h-1.5zM122 104h1.5v1.5h-1.5zM118 112h1.5v1.5h-1.5zM119 111h1.5v1.5h-1.5zM123 111h1.5v1.5h-1.5zM125 105h1.5v1.5h-1.5zM119 104h1.5v1.5h-1.5zM119 108h1.5v1.5h-1.5zM123 108h1.5v1.5h-1.5zM121 108h1.5v1.5h-1.5zM122 109h1.5v1.5h-1.5zM124 106h1.5v1.5h-1.5zM125 110h1.5v1.5h-1.5zM119 105h1.5v1.5h-1.5zM122 108h1.5v1.5h-1.5zM126 109h1.5v1.5h-1.5zM123 108h1.5v1.5h-1.5zM123 108h1.5v1.5h-1.5zM123 111h1.5v1.5h-1.5zM122 107h1.5v1.5h-1.5zM124 111h1.5v1.5h-1.5zM122 108h1.5v1.5h-1.5zM121 109h1.5v1.5h-1.5zM123 107h1.5v1.5h-1.5zM118 111h1.5v1.5h-1.5zM123 108h1.5v1.5h-1.5zM125 107h1.5v1.5h-1.5zM126 108h1.5v1.5h-1.5zM121 109h1.5v1.5h-1.5zM120 110h1.5v1.5h-1.5zM121 107h1.5v1.5h-1.5zM125 110h1.5v1.5h-1.5zM104 130h1.5v1.5h-1.5zM102 124h1.5v1.5h-1.5zM102 125h1.5v1.5h-1.5zM100 127h1.5v1.5h-1.5zM97 126h1.5v1.5h-1.5zM104 128h1.5v1.5h-1.5zM104 129h1.5v1.5h-1.5zM104 126h1.5v1.5h-1.5zM99 126h1.5v1.5h-1.5zM105 124h1.5v1.5h-1.5zM101 125h1.5v1.5h-1.5zM103 125h1.5v1.5h-1.5zM102 127h1.5v1.5h-1.5zM103 125h1.5v1.5h-1.5zM102 125h1.5v1.5h-1.5zM97 126h1.5v1.5h-1.5zM104 123h1.5v1.5h-1.5zM105 124h1.5v1.5h-1.5zM106 128h1.5v1.5h-1.5zM106 125h1.5v1.5h-1.5zM104 125h1.5v1.5h-1.5zM102 128h1.5v1.5h-1.5zM105 126h1.5v1.5h-1.5zM101 128h1.5v1.5h-1.5zM105 125h1.5v1.5h-1.5zM102 126h1.5v1.5h-1.5zM104 125h1.5v1.5h-1.5zM102 123h1.5v1.5h-1.5zM103 125h1.5v1.5h-1.5zM102 126h1.5v1.5h-1.5z"/>
<path d="M66 229.3L126.7 206.6L184 184.2" fill="none" stroke="#9c9c9c" stroke-width="12.5" stroke-linecap="butt" stroke-linejoin="round"/>
<path fill="#969696" d="M164 183h1.5v1.5h-1.5zM101 222h1.5v1.5h-1.5zM156 185h1.5v1.5h-1.5zM123 216h1.5v1.5h-1.5zM167 182h1.5v1.5h-1.5zM145 191h1.5v1.5h-1.5zM141 208h1.5v1.5h-1.5zM118 202h1.5v1.5h-1.5zM101 208h1.5v1.5h-1.5zM154 202h1.5v1.5h-1.5zM117 202h1.5v1.5h-1.5zM122 214h1.5v1.5h-1.5zM106 220h1.5v1.5h-1.5zM72 234h1.5v1.5h-1.5zM170 181h1.5v1.5h-1.5zM158 186h1.5v1.5h-1.5zM85 228h1.5v1.5h-1.5zM111 203h1.5v1.5h-1.5zM96 211h1.5v1.5h-1.5zM138 208h1.5v1.5h-1.5zM101 222h1.5v1.5h-1.5zM161 199h1.5v1.5h-1.5zM130 197h1.5v1.5h-1.5zM95 211h1.5v1.5h-1.5zM168 182h1.5v1.5h-1.5zM179 177h1.5v1.5h-1.5zM78 231h1.5v1.5h-1.5zM168 181h1.5v1.5h-1.5zM116 216h1.5v1.5h-1.5zM76 233h1.5v1.5h-1.5zM81 229h1.5v1.5h-1.5zM121 201h1.5v1.5h-1.5zM86 229h1.5v1.5h-1.5zM129 213h1.5v1.5h-1.5zM110 220h1.5v1.5h-1.5zM118 217h1.5v1.5h-1.5zM138 208h1.5v1.5h-1.5zM179 179h1.5v1.5h-1.5zM159 200h1.5v1.5h-1.5zM122 200h1.5v1.5h-1.5zM68 235h1.5v1.5h-1.5zM82 214h1.5v1.5h-1.5zM133 210h1.5v1.5h-1.5zM69 220h1.5v1.5h-1.5zM128 213h1.5v1.5h-1.5zM147 189h1.5v1.5h-1.5zM115 217h1.5v1.5h-1.5zM157 201h1.5v1.5h-1.5zM121 199h1.5v1.5h-1.5zM124 200h1.5v1.5h-1.5zM103 206h1.5v1.5h-1.5zM77 231h1.5v1.5h-1.5zM79 214h1.5v1.5h-1.5zM183 191h1.5v1.5h-1.5zM78 231h1.5v1.5h-1.5zM117 216h1.5v1.5h-1.5zM95 211h1.5v1.5h-1.5zM90 226h1.5v1.5h-1.5zM78 217h1.5v1.5h-1.5zM172 180h1.5v1.5h-1.5zM94 210h1.5v1.5h-1.5zM151 189h1.5v1.5h-1.5zM93 211h1.5v1.5h-1.5zM138 194h1.5v1.5h-1.5zM139 208h1.5v1.5h-1.5zM165 199h1.5v1.5h-1.5zM131 196h1.5v1.5h-1.5zM77 218h1.5v1.5h-1.5zM127 214h1.5v1.5h-1.5zM95 225h1.5v1.5h-1.5zM127 213h1.5v1.5h-1.5zM95 210h1.5v1.5h-1.5zM159 186h1.5v1.5h-1.5zM104 206h1.5v1.5h-1.5zM70 235h1.5v1.5h-1.5zM180 193h1.5v1.5h-1.5zM134 195h1.5v1.5h-1.5zM117 203h1.5v1.5h-1.5zM176 193h1.5v1.5h-1.5zM78 215h1.5v1.5h-1.5zM102 221h1.5v1.5h-1.5zM179 177h1.5v1.5h-1.5zM80 231h1.5v1.5h-1.5zM87 227h1.5v1.5h-1.5zM140 194h1.5v1.5h-1.5zM77 217h1.5v1.5h-1.5zM91 212h1.5v1.5h-1.5zM121 214h1.5v1.5h-1.5zM68 220h1.5v1.5h-1.5zM67 221h1.5v1.5h-1.5zM155 202h1.5v1.5h-1.5zM106 220h1.5v1.5h-1.5zM72 218h1.5v1.5h-1.5zM86 214h1.5v1.5h-1.5zM165 198h1.5v1.5h-1.5zM119 201h1.5v1.5h-1.5zM183 191h1.5v1.5h-1.5zM131 212h1.5v1.5h-1.5zM106 221h1.5v1.5h-1.5zM107 221h1.5v1.5h-1.5zM90 212h1.5v1.5h-1.5zM104 206h1.5v1.5h-1.5zM114 217h1.5v1.5h-1.5zM131 211h1.5v1.5h-1.5zM103 206h1.5v1.5h-1.5zM75 217h1.5v1.5h-1.5zM114 201h1.5v1.5h-1.5zM137 193h1.5v1.5h-1.5zM116 201h1.5v1.5h-1.5zM92 225h1.5v1.5h-1.5zM104 221h1.5v1.5h-1.5zM182 191h1.5v1.5h-1.5zM135 210h1.5v1.5h-1.5zM159 186h1.5v1.5h-1.5zM114 217h1.5v1.5h-1.5zM80 229h1.5v1.5h-1.5zM105 221h1.5v1.5h-1.5zM65 220h1.5v1.5h-1.5zM136 196h1.5v1.5h-1.5zM141 192h1.5v1.5h-1.5zM130 197h1.5v1.5h-1.5zM78 217h1.5v1.5h-1.5zM124 216h1.5v1.5h-1.5zM85 214h1.5v1.5h-1.5zM92 210h1.5v1.5h-1.5zM158 187h1.5v1.5h-1.5zM139 192h1.5v1.5h-1.5zM159 186h1.5v1.5h-1.5zM164 183h1.5v1.5h-1.5zM135 195h1.5v1.5h-1.5zM129 211h1.5v1.5h-1.5zM101 224h1.5v1.5h-1.5zM106 206h1.5v1.5h-1.5zM175 180h1.5v1.5h-1.5zM96 209h1.5v1.5h-1.5zM117 201h1.5v1.5h-1.5zM95 211h1.5v1.5h-1.5zM123 217h1.5v1.5h-1.5zM151 189h1.5v1.5h-1.5zM158 201h1.5v1.5h-1.5zM106 220h1.5v1.5h-1.5zM97 210h1.5v1.5h-1.5zM133 210h1.5v1.5h-1.5zM159 186h1.5v1.5h-1.5zM133 194h1.5v1.5h-1.5zM118 216h1.5v1.5h-1.5zM101 209h1.5v1.5h-1.5zM105 221h1.5v1.5h-1.5zM132 210h1.5v1.5h-1.5zM79 217h1.5v1.5h-1.5zM110 218h1.5v1.5h-1.5zM95 224h1.5v1.5h-1.5zM105 222h1.5v1.5h-1.5zM88 213h1.5v1.5h-1.5zM63 220h1.5v1.5h-1.5zM169 197h1.5v1.5h-1.5zM179 178h1.5v1.5h-1.5zM169 197h1.5v1.5h-1.5zM93 211h1.5v1.5h-1.5zM85 212h1.5v1.5h-1.5zM84 229h1.5v1.5h-1.5zM165 184h1.5v1.5h-1.5zM93 211h1.5v1.5h-1.5zM108 205h1.5v1.5h-1.5zM169 182h1.5v1.5h-1.5zM165 183h1.5v1.5h-1.5zM69 234h1.5v1.5h-1.5zM184 190h1.5v1.5h-1.5zM80 230h1.5v1.5h-1.5zM158 201h1.5v1.5h-1.5zM132 197h1.5v1.5h-1.5zM170 179h1.5v1.5h-1.5zM111 205h1.5v1.5h-1.5zM97 224h1.5v1.5h-1.5zM119 202h1.5v1.5h-1.5zM126 199h1.5v1.5h-1.5zM118 202h1.5v1.5h-1.5zM107 206h1.5v1.5h-1.5zM136 209h1.5v1.5h-1.5zM140 193h1.5v1.5h-1.5zM123 200h1.5v1.5h-1.5zM91 226h1.5v1.5h-1.5zM94 225h1.5v1.5h-1.5zM126 215h1.5v1.5h-1.5zM73 219h1.5v1.5h-1.5zM69 220h1.5v1.5h-1.5zM116 202h1.5v1.5h-1.5zM119 217h1.5v1.5h-1.5zM76 232h1.5v1.5h-1.5zM117 202h1.5v1.5h-1.5zM158 202h1.5v1.5h-1.5zM138 192h1.5v1.5h-1.5zM129 212h1.5v1.5h-1.5zM103 205h1.5v1.5h-1.5zM74 216h1.5v1.5h-1.5zM108 221h1.5v1.5h-1.5zM121 216h1.5v1.5h-1.5zM144 191h1.5v1.5h-1.5zM94 225h1.5v1.5h-1.5zM164 198h1.5v1.5h-1.5zM167 197h1.5v1.5h-1.5zM160 201h1.5v1.5h-1.5zM172 196h1.5v1.5h-1.5zM99 209h1.5v1.5h-1.5zM176 194h1.5v1.5h-1.5zM185 191h1.5v1.5h-1.5zM137 210h1.5v1.5h-1.5zM105 222h1.5v1.5h-1.5zM88 212h1.5v1.5h-1.5zM135 209h1.5v1.5h-1.5zM143 192h1.5v1.5h-1.5zM140 193h1.5v1.5h-1.5zM75 217h1.5v1.5h-1.5zM120 215h1.5v1.5h-1.5zM67 221h1.5v1.5h-1.5zM100 223h1.5v1.5h-1.5zM100 209h1.5v1.5h-1.5zM163 184h1.5v1.5h-1.5zM90 212h1.5v1.5h-1.5zM93 211h1.5v1.5h-1.5zM77 232h1.5v1.5h-1.5zM88 212h1.5v1.5h-1.5zM178 192h1.5v1.5h-1.5zM107 220h1.5v1.5h-1.5zM173 196h1.5v1.5h-1.5zM99 223h1.5v1.5h-1.5zM175 197h1.5v1.5h-1.5zM72 217h1.5v1.5h-1.5zM128 198h1.5v1.5h-1.5zM105 207h1.5v1.5h-1.5zM119 201h1.5v1.5h-1.5zM78 230h1.5v1.5h-1.5zM169 182h1.5v1.5h-1.5zM116 202h1.5v1.5h-1.5zM158 187h1.5v1.5h-1.5zM161 200h1.5v1.5h-1.5zM76 231h1.5v1.5h-1.5zM73 233h1.5v1.5h-1.5zM165 184h1.5v1.5h-1.5zM99 208h1.5v1.5h-1.5zM184 191h1.5v1.5h-1.5zM117 201h1.5v1.5h-1.5zM150 187h1.5v1.5h-1.5zM87 212h1.5v1.5h-1.5zM122 217h1.5v1.5h-1.5zM64 222h1.5v1.5h-1.5zM98 209h1.5v1.5h-1.5zM93 225h1.5v1.5h-1.5zM99 224h1.5v1.5h-1.5zM155 201h1.5v1.5h-1.5zM162 198h1.5v1.5h-1.5zM175 193h1.5v1.5h-1.5zM142 193h1.5v1.5h-1.5zM109 205h1.5v1.5h-1.5zM107 220h1.5v1.5h-1.5zM134 196h1.5v1.5h-1.5zM85 229h1.5v1.5h-1.5zM149 190h1.5v1.5h-1.5zM169 181h1.5v1.5h-1.5zM91 210h1.5v1.5h-1.5zM126 198h1.5v1.5h-1.5zM65 220h1.5v1.5h-1.5zM69 219h1.5v1.5h-1.5zM173 195h1.5v1.5h-1.5zM132 196h1.5v1.5h-1.5zM139 209h1.5v1.5h-1.5zM135 211h1.5v1.5h-1.5zM177 194h1.5v1.5h-1.5zM104 220h1.5v1.5h-1.5zM166 197h1.5v1.5h-1.5zM158 186h1.5v1.5h-1.5zM99 225h1.5v1.5h-1.5zM138 194h1.5v1.5h-1.5zM69 235h1.5v1.5h-1.5zM159 186h1.5v1.5h-1.5zM173 181h1.5v1.5h-1.5zM94 225h1.5v1.5h-1.5zM135 195h1.5v1.5h-1.5zM103 221h1.5v1.5h-1.5zM151 203h1.5v1.5h-1.5zM154 202h1.5v1.5h-1.5zM167 198h1.5v1.5h-1.5zM184 191h1.5v1.5h-1.5zM179 177h1.5v1.5h-1.5zM73 218h1.5v1.5h-1.5zM149 204h1.5v1.5h-1.5zM83 214h1.5v1.5h-1.5zM185 192h1.5v1.5h-1.5zM89 227h1.5v1.5h-1.5zM68 220h1.5v1.5h-1.5zM105 205h1.5v1.5h-1.5zM117 217h1.5v1.5h-1.5zM178 178h1.5v1.5h-1.5zM133 211h1.5v1.5h-1.5zM152 202h1.5v1.5h-1.5zM85 214h1.5v1.5h-1.5zM99 207h1.5v1.5h-1.5zM102 222h1.5v1.5h-1.5zM164 185h1.5v1.5h-1.5zM102 206h1.5v1.5h-1.5zM121 214h1.5v1.5h-1.5zM150 204h1.5v1.5h-1.5zM117 216h1.5v1.5h-1.5zM99 224h1.5v1.5h-1.5zM137 209h1.5v1.5h-1.5zM163 183h1.5v1.5h-1.5zM82 229h1.5v1.5h-1.5zM104 221h1.5v1.5h-1.5zM153 187h1.5v1.5h-1.5zM172 181h1.5v1.5h-1.5zM95 210h1.5v1.5h-1.5zM121 199h1.5v1.5h-1.5zM138 194h1.5v1.5h-1.5zM120 215h1.5v1.5h-1.5zM123 213h1.5v1.5h-1.5zM132 211h1.5v1.5h-1.5zM69 234h1.5v1.5h-1.5zM69 236h1.5v1.5h-1.5zM166 198h1.5v1.5h-1.5zM159 199h1.5v1.5h-1.5zM71 218h1.5v1.5h-1.5zM178 192h1.5v1.5h-1.5zM131 197h1.5v1.5h-1.5zM118 218h1.5v1.5h-1.5zM102 208h1.5v1.5h-1.5zM133 196h1.5v1.5h-1.5zM75 217h1.5v1.5h-1.5zM106 206h1.5v1.5h-1.5zM92 211h1.5v1.5h-1.5zM103 206h1.5v1.5h-1.5zM112 204h1.5v1.5h-1.5zM69 221h1.5v1.5h-1.5zM105 222h1.5v1.5h-1.5zM176 180h1.5v1.5h-1.5zM119 216h1.5v1.5h-1.5zM148 190h1.5v1.5h-1.5zM144 208h1.5v1.5h-1.5zM181 192h1.5v1.5h-1.5zM183 190h1.5v1.5h-1.5zM157 187h1.5v1.5h-1.5zM83 215h1.5v1.5h-1.5zM121 216h1.5v1.5h-1.5zM110 221h1.5v1.5h-1.5zM167 182h1.5v1.5h-1.5zM162 183h1.5v1.5h-1.5zM160 185h1.5v1.5h-1.5zM109 205h1.5v1.5h-1.5zM168 197h1.5v1.5h-1.5zM180 178h1.5v1.5h-1.5zM65 221h1.5v1.5h-1.5zM153 204h1.5v1.5h-1.5zM74 217h1.5v1.5h-1.5zM80 230h1.5v1.5h-1.5zM109 219h1.5v1.5h-1.5zM146 189h1.5v1.5h-1.5zM78 231h1.5v1.5h-1.5zM170 181h1.5v1.5h-1.5zM74 232h1.5v1.5h-1.5zM160 183h1.5v1.5h-1.5zM85 213h1.5v1.5h-1.5z"/>
<path fill="#969696" d="M99 225h1.5v1.5h-1.5zM120 216h1.5v1.5h-1.5zM109 220h1.5v1.5h-1.5zM87 229h1.5v1.5h-1.5zM119 223h1.5v1.5h-1.5zM101 232h1.5v1.5h-1.5zM112 220h1.5v1.5h-1.5zM113 219h1.5v1.5h-1.5zM110 221h1.5v1.5h-1.5zM125 220h1.5v1.5h-1.5zM119 223h1.5v1.5h-1.5zM125 213h1.5v1.5h-1.5zM123 214h1.5v1.5h-1.5zM95 227h1.5v1.5h-1.5zM121 216h1.5v1.5h-1.5zM114 220h1.5v1.5h-1.5zM126 211h1.5v1.5h-1.5zM98 224h1.5v1.5h-1.5zM124 220h1.5v1.5h-1.5zM82 232h1.5v1.5h-1.5zM125 223h1.5v1.5h-1.5zM97 233h1.5v1.5h-1.5zM93 233h1.5v1.5h-1.5zM88 230h1.5v1.5h-1.5zM124 221h1.5v1.5h-1.5zM113 226h1.5v1.5h-1.5zM97 232h1.5v1.5h-1.5zM114 217h1.5v1.5h-1.5zM130 220h1.5v1.5h-1.5zM86 237h1.5v1.5h-1.5zM125 220h1.5v1.5h-1.5zM86 230h1.5v1.5h-1.5zM79 231h1.5v1.5h-1.5zM109 216h1.5v1.5h-1.5zM88 228h1.5v1.5h-1.5zM92 234h1.5v1.5h-1.5zM128 222h1.5v1.5h-1.5zM102 224h1.5v1.5h-1.5zM83 238h1.5v1.5h-1.5zM129 219h1.5v1.5h-1.5zM85 229h1.5v1.5h-1.5zM105 223h1.5v1.5h-1.5zM128 219h1.5v1.5h-1.5zM118 217h1.5v1.5h-1.5zM126 223h1.5v1.5h-1.5zM109 226h1.5v1.5h-1.5zM108 227h1.5v1.5h-1.5zM116 226h1.5v1.5h-1.5zM91 236h1.5v1.5h-1.5zM81 237h1.5v1.5h-1.5zM101 230h1.5v1.5h-1.5zM124 220h1.5v1.5h-1.5zM99 231h1.5v1.5h-1.5zM119 222h1.5v1.5h-1.5zM107 222h1.5v1.5h-1.5zM125 215h1.5v1.5h-1.5zM119 218h1.5v1.5h-1.5zM82 232h1.5v1.5h-1.5zM100 224h1.5v1.5h-1.5zM95 225h1.5v1.5h-1.5zM103 221h1.5v1.5h-1.5zM92 234h1.5v1.5h-1.5zM88 236h1.5v1.5h-1.5zM124 215h1.5v1.5h-1.5zM101 230h1.5v1.5h-1.5zM83 228h1.5v1.5h-1.5zM124 216h1.5v1.5h-1.5zM115 219h1.5v1.5h-1.5zM94 227h1.5v1.5h-1.5zM117 224h1.5v1.5h-1.5z"/>
<path d="M191 160L192 185L196 210" fill="none" stroke="#9c9c9c" stroke-width="12.5" stroke-linecap="round" stroke-linejoin="round"/>
<path d="M196 210L205 235L215 262" fill="none" stroke="#9c9c9c" stroke-width="15" stroke-linecap="round" stroke-linejoin="round"/>
<path d="M215 262L222 285L223.5 313" fill="none" stroke="#9c9c9c" stroke-width="7" stroke-linecap="round" stroke-linejoin="round"/>
<path fill="#969696" d="M197 173h1.6v1.6h-1.6zM196 164h1.6v1.6h-1.6zM184 169h1.6v1.6h-1.6zM203 208h1.6v1.6h-1.6zM198 175h1.6v1.6h-1.6zM185 201h1.6v1.6h-1.6zM185 197h1.6v1.6h-1.6zM186 199h1.6v1.6h-1.6zM182 189h1.6v1.6h-1.6zM201 204h1.6v1.6h-1.6zM202 208h1.6v1.6h-1.6zM197 172h1.6v1.6h-1.6zM200 188h1.6v1.6h-1.6zM189 208h1.6v1.6h-1.6zM187 204h1.6v1.6h-1.6zM196 166h1.6v1.6h-1.6zM201 180h1.6v1.6h-1.6zM200 171h1.6v1.6h-1.6zM199 187h1.6v1.6h-1.6zM185 181h1.6v1.6h-1.6zM181 207h1.6v1.6h-1.6zM188 206h1.6v1.6h-1.6zM198 186h1.6v1.6h-1.6zM197 184h1.6v1.6h-1.6zM196 166h1.6v1.6h-1.6zM183 172h1.6v1.6h-1.6zM203 170h1.6v1.6h-1.6zM184 172h1.6v1.6h-1.6zM201 172h1.6v1.6h-1.6zM198 183h1.6v1.6h-1.6zM198 180h1.6v1.6h-1.6zM199 188h1.6v1.6h-1.6zM185 178h1.6v1.6h-1.6zM196 168h1.6v1.6h-1.6zM199 191h1.6v1.6h-1.6zM199 188h1.6v1.6h-1.6zM181 180h1.6v1.6h-1.6zM184 174h1.6v1.6h-1.6zM200 170h1.6v1.6h-1.6zM183 162h1.6v1.6h-1.6zM188 200h1.6v1.6h-1.6zM204 197h1.6v1.6h-1.6zM189 209h1.6v1.6h-1.6zM202 203h1.6v1.6h-1.6zM202 200h1.6v1.6h-1.6zM200 192h1.6v1.6h-1.6zM184 197h1.6v1.6h-1.6zM200 165h1.6v1.6h-1.6zM201 203h1.6v1.6h-1.6zM186 180h1.6v1.6h-1.6zM198 187h1.6v1.6h-1.6zM197 178h1.6v1.6h-1.6zM183 188h1.6v1.6h-1.6zM185 164h1.6v1.6h-1.6zM197 183h1.6v1.6h-1.6zM185 177h1.6v1.6h-1.6zM197 171h1.6v1.6h-1.6zM198 188h1.6v1.6h-1.6zM197 169h1.6v1.6h-1.6zM199 181h1.6v1.6h-1.6zM185 182h1.6v1.6h-1.6zM188 209h1.6v1.6h-1.6zM199 198h1.6v1.6h-1.6zM200 198h1.6v1.6h-1.6zM200 201h1.6v1.6h-1.6zM186 188h1.6v1.6h-1.6zM187 194h1.6v1.6h-1.6zM202 197h1.6v1.6h-1.6zM200 188h1.6v1.6h-1.6zM183 183h1.6v1.6h-1.6zM187 206h1.6v1.6h-1.6zM201 193h1.6v1.6h-1.6zM199 198h1.6v1.6h-1.6zM181 178h1.6v1.6h-1.6zM183 174h1.6v1.6h-1.6zM198 183h1.6v1.6h-1.6zM199 174h1.6v1.6h-1.6zM198 179h1.6v1.6h-1.6zM200 194h1.6v1.6h-1.6zM184 163h1.6v1.6h-1.6zM184 183h1.6v1.6h-1.6zM190 210h1.6v1.6h-1.6zM186 188h1.6v1.6h-1.6zM187 201h1.6v1.6h-1.6zM184 174h1.6v1.6h-1.6zM186 202h1.6v1.6h-1.6zM187 207h1.6v1.6h-1.6zM197 184h1.6v1.6h-1.6zM201 195h1.6v1.6h-1.6zM196 167h1.6v1.6h-1.6zM183 184h1.6v1.6h-1.6zM196 166h1.6v1.6h-1.6zM198 165h1.6v1.6h-1.6zM184 178h1.6v1.6h-1.6zM199 190h1.6v1.6h-1.6zM200 169h1.6v1.6h-1.6zM197 168h1.6v1.6h-1.6zM185 192h1.6v1.6h-1.6zM200 202h1.6v1.6h-1.6zM189 205h1.6v1.6h-1.6zM203 198h1.6v1.6h-1.6zM199 162h1.6v1.6h-1.6zM179 160h1.6v1.6h-1.6zM199 195h1.6v1.6h-1.6zM185 175h1.6v1.6h-1.6zM197 178h1.6v1.6h-1.6zM202 203h1.6v1.6h-1.6zM199 179h1.6v1.6h-1.6zM189 207h1.6v1.6h-1.6zM186 199h1.6v1.6h-1.6zM185 187h1.6v1.6h-1.6zM197 186h1.6v1.6h-1.6zM184 164h1.6v1.6h-1.6zM183 189h1.6v1.6h-1.6zM185 173h1.6v1.6h-1.6zM202 205h1.6v1.6h-1.6zM184 161h1.6v1.6h-1.6zM184 172h1.6v1.6h-1.6zM204 199h1.6v1.6h-1.6zM184 188h1.6v1.6h-1.6zM199 194h1.6v1.6h-1.6zM198 187h1.6v1.6h-1.6zM202 173h1.6v1.6h-1.6zM186 189h1.6v1.6h-1.6zM182 166h1.6v1.6h-1.6zM183 160h1.6v1.6h-1.6zM186 186h1.6v1.6h-1.6zM181 169h1.6v1.6h-1.6zM201 192h1.6v1.6h-1.6zM199 178h1.6v1.6h-1.6zM200 193h1.6v1.6h-1.6zM202 205h1.6v1.6h-1.6zM186 187h1.6v1.6h-1.6zM185 174h1.6v1.6h-1.6zM184 164h1.6v1.6h-1.6zM197 184h1.6v1.6h-1.6zM184 178h1.6v1.6h-1.6zM184 169h1.6v1.6h-1.6zM184 162h1.6v1.6h-1.6zM202 200h1.6v1.6h-1.6zM200 197h1.6v1.6h-1.6zM188 201h1.6v1.6h-1.6zM185 166h1.6v1.6h-1.6zM182 160h1.6v1.6h-1.6zM197 173h1.6v1.6h-1.6zM188 210h1.6v1.6h-1.6zM198 180h1.6v1.6h-1.6zM184 166h1.6v1.6h-1.6zM196 160h1.6v1.6h-1.6zM188 199h1.6v1.6h-1.6zM200 177h1.6v1.6h-1.6zM183 160h1.6v1.6h-1.6zM198 187h1.6v1.6h-1.6zM181 167h1.6v1.6h-1.6zM196 165h1.6v1.6h-1.6zM184 196h1.6v1.6h-1.6zM188 207h1.6v1.6h-1.6zM185 192h1.6v1.6h-1.6zM182 168h1.6v1.6h-1.6zM198 183h1.6v1.6h-1.6zM185 184h1.6v1.6h-1.6zM185 175h1.6v1.6h-1.6zM186 204h1.6v1.6h-1.6zM182 167h1.6v1.6h-1.6zM199 196h1.6v1.6h-1.6zM184 164h1.6v1.6h-1.6zM198 176h1.6v1.6h-1.6zM184 186h1.6v1.6h-1.6zM184 188h1.6v1.6h-1.6zM188 207h1.6v1.6h-1.6zM198 176h1.6v1.6h-1.6zM201 208h1.6v1.6h-1.6zM201 197h1.6v1.6h-1.6zM183 165h1.6v1.6h-1.6zM198 184h1.6v1.6h-1.6zM199 183h1.6v1.6h-1.6zM204 206h1.6v1.6h-1.6zM186 206h1.6v1.6h-1.6zM203 202h1.6v1.6h-1.6zM184 188h1.6v1.6h-1.6zM187 197h1.6v1.6h-1.6zM186 210h1.6v1.6h-1.6zM197 174h1.6v1.6h-1.6zM186 200h1.6v1.6h-1.6zM197 173h1.6v1.6h-1.6zM197 182h1.6v1.6h-1.6zM183 167h1.6v1.6h-1.6zM188 208h1.6v1.6h-1.6zM185 162h1.6v1.6h-1.6zM187 195h1.6v1.6h-1.6zM197 184h1.6v1.6h-1.6zM185 170h1.6v1.6h-1.6zM199 193h1.6v1.6h-1.6zM198 173h1.6v1.6h-1.6zM196 170h1.6v1.6h-1.6zM189 210h1.6v1.6h-1.6zM197 165h1.6v1.6h-1.6zM187 197h1.6v1.6h-1.6zM184 172h1.6v1.6h-1.6zM198 177h1.6v1.6h-1.6zM185 179h1.6v1.6h-1.6zM186 208h1.6v1.6h-1.6zM197 181h1.6v1.6h-1.6zM186 186h1.6v1.6h-1.6zM186 188h1.6v1.6h-1.6zM200 195h1.6v1.6h-1.6zM184 162h1.6v1.6h-1.6zM187 201h1.6v1.6h-1.6zM197 180h1.6v1.6h-1.6zM197 171h1.6v1.6h-1.6zM201 201h1.6v1.6h-1.6zM198 166h1.6v1.6h-1.6zM201 173h1.6v1.6h-1.6zM200 193h1.6v1.6h-1.6zM198 182h1.6v1.6h-1.6zM188 210h1.6v1.6h-1.6zM198 191h1.6v1.6h-1.6zM183 193h1.6v1.6h-1.6zM201 206h1.6v1.6h-1.6zM182 189h1.6v1.6h-1.6zM184 181h1.6v1.6h-1.6zM200 181h1.6v1.6h-1.6zM196 171h1.6v1.6h-1.6zM200 165h1.6v1.6h-1.6zM197 184h1.6v1.6h-1.6zM184 181h1.6v1.6h-1.6zM184 184h1.6v1.6h-1.6zM184 187h1.6v1.6h-1.6zM183 177h1.6v1.6h-1.6zM189 207h1.6v1.6h-1.6zM184 172h1.6v1.6h-1.6zM196 171h1.6v1.6h-1.6zM186 192h1.6v1.6h-1.6zM185 162h1.6v1.6h-1.6zM198 184h1.6v1.6h-1.6zM184 185h1.6v1.6h-1.6zM186 182h1.6v1.6h-1.6zM197 178h1.6v1.6h-1.6zM183 166h1.6v1.6h-1.6zM200 181h1.6v1.6h-1.6zM186 187h1.6v1.6h-1.6zM182 163h1.6v1.6h-1.6zM200 191h1.6v1.6h-1.6zM201 196h1.6v1.6h-1.6zM183 160h1.6v1.6h-1.6zM197 180h1.6v1.6h-1.6zM197 181h1.6v1.6h-1.6zM199 190h1.6v1.6h-1.6zM200 182h1.6v1.6h-1.6zM186 199h1.6v1.6h-1.6zM186 191h1.6v1.6h-1.6zM187 198h1.6v1.6h-1.6zM200 187h1.6v1.6h-1.6zM199 196h1.6v1.6h-1.6zM197 181h1.6v1.6h-1.6zM186 193h1.6v1.6h-1.6zM200 168h1.6v1.6h-1.6zM202 193h1.6v1.6h-1.6zM198 189h1.6v1.6h-1.6zM199 192h1.6v1.6h-1.6zM198 177h1.6v1.6h-1.6zM199 179h1.6v1.6h-1.6zM200 185h1.6v1.6h-1.6zM197 186h1.6v1.6h-1.6zM185 165h1.6v1.6h-1.6zM197 183h1.6v1.6h-1.6zM182 181h1.6v1.6h-1.6zM184 175h1.6v1.6h-1.6zM187 208h1.6v1.6h-1.6zM184 176h1.6v1.6h-1.6zM181 180h1.6v1.6h-1.6zM187 192h1.6v1.6h-1.6zM196 174h1.6v1.6h-1.6zM186 195h1.6v1.6h-1.6zM187 195h1.6v1.6h-1.6zM185 187h1.6v1.6h-1.6zM198 159h1.6v1.6h-1.6zM185 165h1.6v1.6h-1.6zM185 201h1.6v1.6h-1.6zM188 204h1.6v1.6h-1.6zM183 176h1.6v1.6h-1.6zM201 192h1.6v1.6h-1.6zM200 201h1.6v1.6h-1.6zM184 169h1.6v1.6h-1.6zM201 204h1.6v1.6h-1.6zM199 184h1.6v1.6h-1.6zM187 196h1.6v1.6h-1.6zM186 195h1.6v1.6h-1.6zM185 166h1.6v1.6h-1.6zM187 205h1.6v1.6h-1.6zM184 208h1.6v1.6h-1.6zM188 204h1.6v1.6h-1.6zM198 176h1.6v1.6h-1.6zM202 206h1.6v1.6h-1.6zM182 167h1.6v1.6h-1.6zM184 175h1.6v1.6h-1.6zM200 192h1.6v1.6h-1.6zM198 183h1.6v1.6h-1.6zM183 186h1.6v1.6h-1.6zM196 164h1.6v1.6h-1.6z"/>
<path fill="#969696" d="M232 306h1.6v1.6h-1.6zM194 226h1.6v1.6h-1.6zM212 279h1.6v1.6h-1.6zM215 290h1.6v1.6h-1.6zM187 214h1.6v1.6h-1.6zM215 286h1.6v1.6h-1.6zM204 258h1.6v1.6h-1.6zM192 223h1.6v1.6h-1.6zM209 227h1.6v1.6h-1.6zM232 308h1.6v1.6h-1.6zM228 276h1.6v1.6h-1.6zM226 272h1.6v1.6h-1.6zM212 286h1.6v1.6h-1.6zM203 207h1.6v1.6h-1.6zM191 219h1.6v1.6h-1.6zM230 307h1.6v1.6h-1.6zM197 237h1.6v1.6h-1.6zM220 250h1.6v1.6h-1.6zM210 277h1.6v1.6h-1.6zM196 238h1.6v1.6h-1.6zM211 221h1.6v1.6h-1.6zM215 237h1.6v1.6h-1.6zM188 216h1.6v1.6h-1.6zM228 282h1.6v1.6h-1.6zM213 307h1.6v1.6h-1.6zM189 213h1.6v1.6h-1.6zM232 285h1.6v1.6h-1.6zM198 237h1.6v1.6h-1.6zM222 261h1.6v1.6h-1.6zM206 257h1.6v1.6h-1.6zM214 241h1.6v1.6h-1.6zM233 308h1.6v1.6h-1.6zM215 299h1.6v1.6h-1.6zM229 297h1.6v1.6h-1.6zM207 271h1.6v1.6h-1.6zM213 307h1.6v1.6h-1.6zM210 274h1.6v1.6h-1.6zM208 267h1.6v1.6h-1.6zM199 240h1.6v1.6h-1.6zM229 284h1.6v1.6h-1.6zM205 212h1.6v1.6h-1.6zM210 271h1.6v1.6h-1.6zM196 232h1.6v1.6h-1.6zM222 261h1.6v1.6h-1.6zM228 276h1.6v1.6h-1.6zM223 261h1.6v1.6h-1.6zM206 212h1.6v1.6h-1.6zM204 257h1.6v1.6h-1.6zM204 257h1.6v1.6h-1.6zM215 297h1.6v1.6h-1.6zM229 274h1.6v1.6h-1.6zM214 242h1.6v1.6h-1.6zM211 286h1.6v1.6h-1.6zM196 232h1.6v1.6h-1.6zM198 244h1.6v1.6h-1.6zM203 256h1.6v1.6h-1.6zM223 250h1.6v1.6h-1.6zM193 227h1.6v1.6h-1.6zM203 213h1.6v1.6h-1.6zM214 238h1.6v1.6h-1.6zM227 275h1.6v1.6h-1.6zM230 284h1.6v1.6h-1.6zM226 272h1.6v1.6h-1.6zM201 258h1.6v1.6h-1.6zM218 249h1.6v1.6h-1.6zM215 239h1.6v1.6h-1.6zM226 274h1.6v1.6h-1.6zM208 278h1.6v1.6h-1.6zM196 237h1.6v1.6h-1.6zM213 234h1.6v1.6h-1.6zM213 286h1.6v1.6h-1.6zM230 310h1.6v1.6h-1.6zM226 275h1.6v1.6h-1.6zM226 272h1.6v1.6h-1.6zM215 244h1.6v1.6h-1.6zM208 266h1.6v1.6h-1.6zM229 277h1.6v1.6h-1.6zM225 270h1.6v1.6h-1.6zM192 232h1.6v1.6h-1.6zM203 207h1.6v1.6h-1.6zM193 236h1.6v1.6h-1.6zM222 261h1.6v1.6h-1.6zM221 257h1.6v1.6h-1.6zM228 292h1.6v1.6h-1.6zM225 269h1.6v1.6h-1.6zM225 275h1.6v1.6h-1.6zM199 240h1.6v1.6h-1.6zM224 261h1.6v1.6h-1.6zM192 220h1.6v1.6h-1.6zM194 228h1.6v1.6h-1.6zM222 260h1.6v1.6h-1.6zM215 301h1.6v1.6h-1.6zM225 270h1.6v1.6h-1.6zM200 245h1.6v1.6h-1.6zM230 301h1.6v1.6h-1.6zM194 235h1.6v1.6h-1.6zM216 236h1.6v1.6h-1.6zM228 292h1.6v1.6h-1.6zM213 285h1.6v1.6h-1.6zM230 306h1.6v1.6h-1.6zM230 287h1.6v1.6h-1.6zM206 263h1.6v1.6h-1.6zM208 217h1.6v1.6h-1.6zM210 230h1.6v1.6h-1.6zM200 250h1.6v1.6h-1.6zM212 237h1.6v1.6h-1.6zM207 218h1.6v1.6h-1.6zM229 295h1.6v1.6h-1.6zM230 281h1.6v1.6h-1.6zM212 293h1.6v1.6h-1.6zM213 304h1.6v1.6h-1.6zM212 280h1.6v1.6h-1.6zM230 304h1.6v1.6h-1.6zM209 267h1.6v1.6h-1.6zM187 213h1.6v1.6h-1.6zM228 281h1.6v1.6h-1.6zM208 266h1.6v1.6h-1.6zM226 276h1.6v1.6h-1.6zM229 279h1.6v1.6h-1.6zM213 299h1.6v1.6h-1.6zM230 292h1.6v1.6h-1.6zM194 233h1.6v1.6h-1.6zM215 306h1.6v1.6h-1.6zM189 218h1.6v1.6h-1.6zM199 248h1.6v1.6h-1.6zM227 280h1.6v1.6h-1.6zM222 263h1.6v1.6h-1.6zM211 230h1.6v1.6h-1.6zM220 251h1.6v1.6h-1.6zM230 288h1.6v1.6h-1.6zM199 245h1.6v1.6h-1.6zM188 219h1.6v1.6h-1.6zM194 242h1.6v1.6h-1.6zM198 248h1.6v1.6h-1.6zM207 222h1.6v1.6h-1.6zM203 211h1.6v1.6h-1.6zM212 306h1.6v1.6h-1.6zM198 241h1.6v1.6h-1.6zM213 293h1.6v1.6h-1.6zM219 255h1.6v1.6h-1.6zM194 227h1.6v1.6h-1.6zM213 234h1.6v1.6h-1.6zM211 290h1.6v1.6h-1.6zM229 281h1.6v1.6h-1.6zM215 237h1.6v1.6h-1.6zM214 308h1.6v1.6h-1.6zM215 302h1.6v1.6h-1.6zM228 281h1.6v1.6h-1.6zM196 237h1.6v1.6h-1.6zM211 304h1.6v1.6h-1.6zM231 303h1.6v1.6h-1.6zM211 287h1.6v1.6h-1.6zM214 291h1.6v1.6h-1.6zM213 308h1.6v1.6h-1.6zM214 241h1.6v1.6h-1.6zM194 229h1.6v1.6h-1.6zM206 270h1.6v1.6h-1.6zM218 253h1.6v1.6h-1.6zM230 294h1.6v1.6h-1.6zM197 243h1.6v1.6h-1.6zM196 248h1.6v1.6h-1.6zM232 309h1.6v1.6h-1.6zM193 223h1.6v1.6h-1.6zM214 299h1.6v1.6h-1.6zM229 286h1.6v1.6h-1.6zM228 273h1.6v1.6h-1.6zM211 279h1.6v1.6h-1.6zM201 254h1.6v1.6h-1.6zM215 243h1.6v1.6h-1.6zM230 305h1.6v1.6h-1.6zM214 292h1.6v1.6h-1.6zM214 290h1.6v1.6h-1.6zM225 274h1.6v1.6h-1.6zM215 238h1.6v1.6h-1.6zM210 275h1.6v1.6h-1.6zM230 294h1.6v1.6h-1.6zM195 235h1.6v1.6h-1.6zM197 235h1.6v1.6h-1.6zM202 248h1.6v1.6h-1.6zM203 210h1.6v1.6h-1.6zM224 267h1.6v1.6h-1.6zM202 258h1.6v1.6h-1.6zM214 300h1.6v1.6h-1.6zM215 243h1.6v1.6h-1.6zM231 291h1.6v1.6h-1.6zM232 305h1.6v1.6h-1.6zM216 311h1.6v1.6h-1.6zM196 241h1.6v1.6h-1.6zM192 230h1.6v1.6h-1.6zM213 235h1.6v1.6h-1.6zM210 290h1.6v1.6h-1.6zM203 259h1.6v1.6h-1.6zM213 310h1.6v1.6h-1.6zM212 237h1.6v1.6h-1.6zM215 286h1.6v1.6h-1.6zM231 289h1.6v1.6h-1.6zM206 272h1.6v1.6h-1.6zM207 223h1.6v1.6h-1.6zM190 219h1.6v1.6h-1.6zM208 273h1.6v1.6h-1.6zM206 207h1.6v1.6h-1.6zM225 269h1.6v1.6h-1.6zM217 244h1.6v1.6h-1.6zM198 255h1.6v1.6h-1.6zM225 266h1.6v1.6h-1.6zM219 246h1.6v1.6h-1.6zM228 282h1.6v1.6h-1.6zM200 246h1.6v1.6h-1.6zM213 235h1.6v1.6h-1.6zM229 303h1.6v1.6h-1.6zM232 305h1.6v1.6h-1.6zM215 307h1.6v1.6h-1.6zM216 309h1.6v1.6h-1.6zM214 282h1.6v1.6h-1.6zM202 251h1.6v1.6h-1.6zM224 263h1.6v1.6h-1.6zM213 297h1.6v1.6h-1.6zM215 244h1.6v1.6h-1.6zM219 246h1.6v1.6h-1.6zM190 223h1.6v1.6h-1.6zM214 295h1.6v1.6h-1.6zM206 216h1.6v1.6h-1.6zM216 302h1.6v1.6h-1.6zM193 234h1.6v1.6h-1.6zM224 267h1.6v1.6h-1.6zM207 266h1.6v1.6h-1.6zM214 299h1.6v1.6h-1.6zM228 280h1.6v1.6h-1.6zM209 272h1.6v1.6h-1.6zM206 207h1.6v1.6h-1.6zM187 215h1.6v1.6h-1.6zM231 298h1.6v1.6h-1.6zM211 275h1.6v1.6h-1.6zM214 296h1.6v1.6h-1.6zM192 231h1.6v1.6h-1.6zM204 260h1.6v1.6h-1.6zM203 210h1.6v1.6h-1.6zM213 227h1.6v1.6h-1.6zM229 287h1.6v1.6h-1.6zM206 261h1.6v1.6h-1.6zM230 285h1.6v1.6h-1.6zM230 273h1.6v1.6h-1.6zM214 241h1.6v1.6h-1.6zM223 262h1.6v1.6h-1.6zM230 294h1.6v1.6h-1.6zM224 270h1.6v1.6h-1.6zM213 313h1.6v1.6h-1.6zM203 266h1.6v1.6h-1.6zM211 226h1.6v1.6h-1.6zM200 248h1.6v1.6h-1.6zM233 311h1.6v1.6h-1.6zM212 299h1.6v1.6h-1.6zM221 254h1.6v1.6h-1.6zM232 289h1.6v1.6h-1.6zM223 254h1.6v1.6h-1.6zM206 258h1.6v1.6h-1.6zM231 304h1.6v1.6h-1.6zM230 288h1.6v1.6h-1.6zM210 225h1.6v1.6h-1.6zM231 284h1.6v1.6h-1.6zM214 288h1.6v1.6h-1.6zM203 269h1.6v1.6h-1.6zM189 223h1.6v1.6h-1.6zM230 305h1.6v1.6h-1.6zM229 278h1.6v1.6h-1.6zM229 303h1.6v1.6h-1.6zM229 312h1.6v1.6h-1.6zM214 299h1.6v1.6h-1.6zM233 307h1.6v1.6h-1.6zM229 284h1.6v1.6h-1.6zM216 242h1.6v1.6h-1.6zM202 252h1.6v1.6h-1.6zM223 252h1.6v1.6h-1.6zM219 249h1.6v1.6h-1.6zM211 279h1.6v1.6h-1.6zM211 232h1.6v1.6h-1.6zM226 271h1.6v1.6h-1.6zM205 209h1.6v1.6h-1.6zM229 278h1.6v1.6h-1.6zM193 225h1.6v1.6h-1.6zM215 294h1.6v1.6h-1.6zM226 275h1.6v1.6h-1.6zM193 227h1.6v1.6h-1.6zM200 245h1.6v1.6h-1.6zM213 235h1.6v1.6h-1.6zM228 293h1.6v1.6h-1.6zM196 239h1.6v1.6h-1.6zM201 248h1.6v1.6h-1.6zM234 289h1.6v1.6h-1.6zM188 221h1.6v1.6h-1.6zM232 300h1.6v1.6h-1.6zM194 233h1.6v1.6h-1.6zM194 233h1.6v1.6h-1.6zM187 217h1.6v1.6h-1.6zM213 305h1.6v1.6h-1.6zM217 245h1.6v1.6h-1.6zM205 207h1.6v1.6h-1.6zM209 210h1.6v1.6h-1.6zM207 266h1.6v1.6h-1.6zM213 236h1.6v1.6h-1.6zM204 210h1.6v1.6h-1.6zM232 303h1.6v1.6h-1.6zM193 223h1.6v1.6h-1.6zM210 280h1.6v1.6h-1.6zM205 212h1.6v1.6h-1.6zM217 243h1.6v1.6h-1.6zM207 218h1.6v1.6h-1.6zM214 308h1.6v1.6h-1.6zM210 303h1.6v1.6h-1.6zM203 212h1.6v1.6h-1.6zM208 225h1.6v1.6h-1.6zM196 245h1.6v1.6h-1.6zM216 227h1.6v1.6h-1.6zM196 230h1.6v1.6h-1.6zM212 286h1.6v1.6h-1.6zM205 215h1.6v1.6h-1.6zM212 228h1.6v1.6h-1.6zM217 248h1.6v1.6h-1.6zM211 229h1.6v1.6h-1.6zM217 249h1.6v1.6h-1.6zM213 280h1.6v1.6h-1.6zM219 246h1.6v1.6h-1.6zM210 214h1.6v1.6h-1.6zM230 304h1.6v1.6h-1.6zM204 256h1.6v1.6h-1.6zM224 269h1.6v1.6h-1.6zM201 248h1.6v1.6h-1.6zM197 239h1.6v1.6h-1.6zM212 230h1.6v1.6h-1.6zM231 307h1.6v1.6h-1.6zM211 232h1.6v1.6h-1.6zM203 256h1.6v1.6h-1.6zM213 237h1.6v1.6h-1.6zM211 282h1.6v1.6h-1.6zM215 292h1.6v1.6h-1.6zM229 286h1.6v1.6h-1.6zM214 292h1.6v1.6h-1.6zM192 229h1.6v1.6h-1.6zM192 224h1.6v1.6h-1.6zM218 248h1.6v1.6h-1.6zM214 310h1.6v1.6h-1.6zM188 217h1.6v1.6h-1.6zM188 214h1.6v1.6h-1.6zM215 305h1.6v1.6h-1.6zM211 232h1.6v1.6h-1.6zM213 302h1.6v1.6h-1.6zM208 270h1.6v1.6h-1.6zM206 216h1.6v1.6h-1.6zM200 249h1.6v1.6h-1.6zM228 280h1.6v1.6h-1.6zM213 290h1.6v1.6h-1.6zM213 280h1.6v1.6h-1.6zM213 306h1.6v1.6h-1.6zM209 268h1.6v1.6h-1.6zM205 214h1.6v1.6h-1.6zM210 228h1.6v1.6h-1.6zM209 283h1.6v1.6h-1.6zM211 274h1.6v1.6h-1.6zM206 218h1.6v1.6h-1.6zM210 227h1.6v1.6h-1.6zM228 278h1.6v1.6h-1.6zM205 216h1.6v1.6h-1.6zM213 297h1.6v1.6h-1.6zM228 275h1.6v1.6h-1.6zM209 226h1.6v1.6h-1.6zM200 247h1.6v1.6h-1.6zM216 243h1.6v1.6h-1.6zM226 271h1.6v1.6h-1.6zM215 313h1.6v1.6h-1.6zM187 218h1.6v1.6h-1.6zM197 233h1.6v1.6h-1.6zM203 210h1.6v1.6h-1.6zM214 287h1.6v1.6h-1.6zM214 302h1.6v1.6h-1.6zM201 248h1.6v1.6h-1.6zM205 258h1.6v1.6h-1.6zM222 261h1.6v1.6h-1.6zM196 236h1.6v1.6h-1.6zM215 299h1.6v1.6h-1.6zM215 312h1.6v1.6h-1.6zM209 215h1.6v1.6h-1.6zM214 286h1.6v1.6h-1.6zM209 279h1.6v1.6h-1.6zM213 284h1.6v1.6h-1.6zM227 274h1.6v1.6h-1.6zM227 273h1.6v1.6h-1.6zM214 311h1.6v1.6h-1.6zM199 247h1.6v1.6h-1.6zM231 311h1.6v1.6h-1.6zM207 223h1.6v1.6h-1.6zM204 253h1.6v1.6h-1.6zM196 238h1.6v1.6h-1.6zM214 236h1.6v1.6h-1.6zM232 288h1.6v1.6h-1.6zM196 238h1.6v1.6h-1.6zM210 229h1.6v1.6h-1.6zM209 281h1.6v1.6h-1.6zM211 286h1.6v1.6h-1.6zM213 312h1.6v1.6h-1.6zM226 271h1.6v1.6h-1.6zM208 215h1.6v1.6h-1.6zM208 271h1.6v1.6h-1.6zM205 217h1.6v1.6h-1.6zM215 239h1.6v1.6h-1.6zM208 274h1.6v1.6h-1.6zM218 244h1.6v1.6h-1.6zM202 248h1.6v1.6h-1.6zM212 234h1.6v1.6h-1.6zM213 298h1.6v1.6h-1.6zM217 244h1.6v1.6h-1.6zM206 213h1.6v1.6h-1.6zM201 246h1.6v1.6h-1.6zM219 241h1.6v1.6h-1.6zM224 269h1.6v1.6h-1.6zM192 221h1.6v1.6h-1.6zM215 307h1.6v1.6h-1.6zM231 306h1.6v1.6h-1.6zM219 243h1.6v1.6h-1.6zM209 270h1.6v1.6h-1.6zM224 267h1.6v1.6h-1.6zM209 222h1.6v1.6h-1.6zM191 234h1.6v1.6h-1.6zM228 282h1.6v1.6h-1.6zM197 239h1.6v1.6h-1.6zM206 272h1.6v1.6h-1.6zM213 289h1.6v1.6h-1.6zM215 308h1.6v1.6h-1.6zM234 301h1.6v1.6h-1.6zM231 293h1.6v1.6h-1.6zM223 262h1.6v1.6h-1.6zM233 306h1.6v1.6h-1.6zM214 309h1.6v1.6h-1.6zM226 277h1.6v1.6h-1.6zM223 256h1.6v1.6h-1.6zM210 279h1.6v1.6h-1.6zM230 294h1.6v1.6h-1.6zM231 301h1.6v1.6h-1.6zM233 306h1.6v1.6h-1.6zM229 288h1.6v1.6h-1.6zM193 223h1.6v1.6h-1.6zM228 286h1.6v1.6h-1.6zM231 306h1.6v1.6h-1.6zM231 285h1.6v1.6h-1.6zM204 257h1.6v1.6h-1.6zM202 250h1.6v1.6h-1.6zM229 304h1.6v1.6h-1.6zM209 269h1.6v1.6h-1.6zM192 227h1.6v1.6h-1.6zM228 281h1.6v1.6h-1.6zM199 249h1.6v1.6h-1.6zM203 254h1.6v1.6h-1.6zM229 298h1.6v1.6h-1.6zM235 304h1.6v1.6h-1.6zM225 259h1.6v1.6h-1.6zM207 260h1.6v1.6h-1.6zM192 225h1.6v1.6h-1.6zM229 291h1.6v1.6h-1.6zM214 283h1.6v1.6h-1.6zM198 237h1.6v1.6h-1.6zM211 274h1.6v1.6h-1.6zM206 263h1.6v1.6h-1.6zM192 223h1.6v1.6h-1.6zM215 241h1.6v1.6h-1.6zM205 262h1.6v1.6h-1.6zM212 286h1.6v1.6h-1.6zM211 228h1.6v1.6h-1.6zM196 248h1.6v1.6h-1.6zM214 310h1.6v1.6h-1.6zM208 218h1.6v1.6h-1.6zM205 211h1.6v1.6h-1.6zM191 232h1.6v1.6h-1.6zM194 232h1.6v1.6h-1.6zM208 269h1.6v1.6h-1.6zM200 249h1.6v1.6h-1.6zM215 241h1.6v1.6h-1.6zM213 239h1.6v1.6h-1.6zM229 287h1.6v1.6h-1.6zM227 275h1.6v1.6h-1.6zM223 266h1.6v1.6h-1.6zM214 297h1.6v1.6h-1.6zM231 292h1.6v1.6h-1.6zM215 300h1.6v1.6h-1.6zM230 298h1.6v1.6h-1.6zM206 216h1.6v1.6h-1.6zM212 236h1.6v1.6h-1.6zM189 215h1.6v1.6h-1.6zM199 241h1.6v1.6h-1.6zM221 257h1.6v1.6h-1.6zM229 300h1.6v1.6h-1.6zM206 208h1.6v1.6h-1.6zM228 290h1.6v1.6h-1.6zM230 287h1.6v1.6h-1.6zM215 244h1.6v1.6h-1.6zM209 281h1.6v1.6h-1.6zM210 276h1.6v1.6h-1.6zM192 230h1.6v1.6h-1.6zM209 270h1.6v1.6h-1.6zM216 302h1.6v1.6h-1.6zM209 223h1.6v1.6h-1.6zM214 284h1.6v1.6h-1.6zM211 274h1.6v1.6h-1.6zM204 252h1.6v1.6h-1.6zM212 294h1.6v1.6h-1.6zM229 302h1.6v1.6h-1.6zM191 223h1.6v1.6h-1.6zM230 293h1.6v1.6h-1.6zM213 288h1.6v1.6h-1.6zM211 232h1.6v1.6h-1.6zM208 221h1.6v1.6h-1.6zM214 285h1.6v1.6h-1.6zM208 267h1.6v1.6h-1.6zM229 300h1.6v1.6h-1.6zM209 226h1.6v1.6h-1.6zM195 232h1.6v1.6h-1.6zM194 228h1.6v1.6h-1.6zM211 277h1.6v1.6h-1.6zM199 251h1.6v1.6h-1.6zM208 214h1.6v1.6h-1.6zM222 248h1.6v1.6h-1.6zM222 240h1.6v1.6h-1.6zM211 275h1.6v1.6h-1.6zM213 230h1.6v1.6h-1.6zM199 239h1.6v1.6h-1.6zM200 256h1.6v1.6h-1.6zM221 262h1.6v1.6h-1.6zM224 269h1.6v1.6h-1.6zM223 250h1.6v1.6h-1.6zM210 286h1.6v1.6h-1.6zM205 206h1.6v1.6h-1.6zM231 310h1.6v1.6h-1.6zM198 253h1.6v1.6h-1.6zM210 227h1.6v1.6h-1.6zM190 222h1.6v1.6h-1.6zM229 291h1.6v1.6h-1.6zM224 263h1.6v1.6h-1.6zM210 229h1.6v1.6h-1.6zM210 230h1.6v1.6h-1.6zM207 278h1.6v1.6h-1.6zM197 239h1.6v1.6h-1.6zM229 297h1.6v1.6h-1.6zM220 257h1.6v1.6h-1.6zM211 290h1.6v1.6h-1.6zM219 243h1.6v1.6h-1.6zM192 225h1.6v1.6h-1.6zM196 233h1.6v1.6h-1.6zM212 222h1.6v1.6h-1.6zM205 254h1.6v1.6h-1.6zM210 223h1.6v1.6h-1.6zM189 213h1.6v1.6h-1.6zM208 266h1.6v1.6h-1.6zM188 226h1.6v1.6h-1.6zM202 251h1.6v1.6h-1.6zM214 240h1.6v1.6h-1.6zM225 268h1.6v1.6h-1.6zM216 301h1.6v1.6h-1.6zM217 249h1.6v1.6h-1.6zM223 263h1.6v1.6h-1.6zM212 290h1.6v1.6h-1.6zM226 273h1.6v1.6h-1.6zM215 291h1.6v1.6h-1.6zM217 244h1.6v1.6h-1.6zM208 224h1.6v1.6h-1.6zM200 242h1.6v1.6h-1.6zM186 218h1.6v1.6h-1.6zM227 274h1.6v1.6h-1.6zM205 258h1.6v1.6h-1.6zM228 291h1.6v1.6h-1.6zM231 300h1.6v1.6h-1.6zM233 308h1.6v1.6h-1.6zM199 250h1.6v1.6h-1.6zM217 243h1.6v1.6h-1.6zM207 217h1.6v1.6h-1.6zM187 216h1.6v1.6h-1.6zM207 219h1.6v1.6h-1.6zM211 224h1.6v1.6h-1.6zM215 232h1.6v1.6h-1.6zM231 310h1.6v1.6h-1.6zM201 250h1.6v1.6h-1.6zM205 210h1.6v1.6h-1.6zM211 284h1.6v1.6h-1.6zM204 207h1.6v1.6h-1.6zM222 260h1.6v1.6h-1.6zM229 291h1.6v1.6h-1.6zM222 257h1.6v1.6h-1.6zM213 304h1.6v1.6h-1.6zM186 215h1.6v1.6h-1.6zM204 213h1.6v1.6h-1.6zM231 308h1.6v1.6h-1.6zM198 249h1.6v1.6h-1.6zM221 255h1.6v1.6h-1.6zM215 243h1.6v1.6h-1.6zM209 275h1.6v1.6h-1.6zM213 286h1.6v1.6h-1.6zM215 240h1.6v1.6h-1.6zM231 284h1.6v1.6h-1.6zM218 250h1.6v1.6h-1.6zM223 259h1.6v1.6h-1.6zM210 218h1.6v1.6h-1.6zM216 307h1.6v1.6h-1.6zM213 235h1.6v1.6h-1.6zM192 228h1.6v1.6h-1.6zM227 277h1.6v1.6h-1.6zM205 276h1.6v1.6h-1.6zM211 228h1.6v1.6h-1.6zM205 216h1.6v1.6h-1.6zM188 223h1.6v1.6h-1.6zM201 246h1.6v1.6h-1.6zM207 272h1.6v1.6h-1.6zM214 288h1.6v1.6h-1.6zM206 264h1.6v1.6h-1.6zM192 222h1.6v1.6h-1.6zM211 233h1.6v1.6h-1.6zM229 293h1.6v1.6h-1.6zM217 242h1.6v1.6h-1.6zM217 240h1.6v1.6h-1.6zM225 268h1.6v1.6h-1.6zM212 279h1.6v1.6h-1.6zM211 230h1.6v1.6h-1.6zM206 215h1.6v1.6h-1.6zM226 277h1.6v1.6h-1.6zM230 292h1.6v1.6h-1.6zM226 262h1.6v1.6h-1.6zM210 228h1.6v1.6h-1.6zM210 228h1.6v1.6h-1.6zM212 312h1.6v1.6h-1.6zM195 235h1.6v1.6h-1.6zM226 267h1.6v1.6h-1.6zM214 292h1.6v1.6h-1.6zM224 266h1.6v1.6h-1.6zM219 248h1.6v1.6h-1.6zM225 271h1.6v1.6h-1.6zM197 245h1.6v1.6h-1.6zM211 228h1.6v1.6h-1.6zM206 218h1.6v1.6h-1.6zM208 225h1.6v1.6h-1.6zM206 211h1.6v1.6h-1.6zM202 250h1.6v1.6h-1.6zM230 303h1.6v1.6h-1.6zM228 290h1.6v1.6h-1.6zM224 255h1.6v1.6h-1.6zM192 219h1.6v1.6h-1.6zM211 277h1.6v1.6h-1.6zM210 276h1.6v1.6h-1.6zM202 210h1.6v1.6h-1.6zM201 258h1.6v1.6h-1.6zM211 234h1.6v1.6h-1.6zM213 298h1.6v1.6h-1.6zM192 220h1.6v1.6h-1.6zM216 305h1.6v1.6h-1.6zM211 232h1.6v1.6h-1.6z"/>
<path d="M179 235.5L203 233.5" fill="none" stroke="#9c9c9c" stroke-width="6.5" stroke-linecap="round" stroke-linejoin="round"/>
<path fill="#969696" d="M184 230h1.7v1.7h-1.7zM183 231h1.7v1.7h-1.7zM190 234h1.7v1.7h-1.7zM193 236h1.7v1.7h-1.7zM187 231h1.7v1.7h-1.7zM199 230h1.7v1.7h-1.7zM179 229h1.7v1.7h-1.7zM190 231h1.7v1.7h-1.7zM193 226h1.7v1.7h-1.7zM184 233h1.7v1.7h-1.7zM191 225h1.7v1.7h-1.7zM182 230h1.7v1.7h-1.7zM187 234h1.7v1.7h-1.7zM190 233h1.7v1.7h-1.7zM189 231h1.7v1.7h-1.7zM184 226h1.7v1.7h-1.7zM174 230h1.7v1.7h-1.7zM192 227h1.7v1.7h-1.7zM185 231h1.7v1.7h-1.7zM193 229h1.7v1.7h-1.7zM190 230h1.7v1.7h-1.7zM190 231h1.7v1.7h-1.7zM188 237h1.7v1.7h-1.7zM188 229h1.7v1.7h-1.7zM186 230h1.7v1.7h-1.7zM182 230h1.7v1.7h-1.7zM189 225h1.7v1.7h-1.7zM194 233h1.7v1.7h-1.7zM196 235h1.7v1.7h-1.7zM190 232h1.7v1.7h-1.7zM205 233h1.7v1.7h-1.7zM184 231h1.7v1.7h-1.7zM187 233h1.7v1.7h-1.7zM189 230h1.7v1.7h-1.7zM176 232h1.7v1.7h-1.7zM183 232h1.7v1.7h-1.7zM182 234h1.7v1.7h-1.7zM199 232h1.7v1.7h-1.7zM191 233h1.7v1.7h-1.7zM191 234h1.7v1.7h-1.7zM194 229h1.7v1.7h-1.7zM191 233h1.7v1.7h-1.7zM197 229h1.7v1.7h-1.7zM185 232h1.7v1.7h-1.7zM188 236h1.7v1.7h-1.7zM181 236h1.7v1.7h-1.7zM189 233h1.7v1.7h-1.7zM202 232h1.7v1.7h-1.7zM193 232h1.7v1.7h-1.7zM189 235h1.7v1.7h-1.7zM193 232h1.7v1.7h-1.7zM188 233h1.7v1.7h-1.7zM192 230h1.7v1.7h-1.7zM184 231h1.7v1.7h-1.7zM186 229h1.7v1.7h-1.7zM187 230h1.7v1.7h-1.7zM191 228h1.7v1.7h-1.7zM189 237h1.7v1.7h-1.7zM192 228h1.7v1.7h-1.7zM201 227h1.7v1.7h-1.7zM183 230h1.7v1.7h-1.7zM189 226h1.7v1.7h-1.7zM192 228h1.7v1.7h-1.7zM202 233h1.7v1.7h-1.7zM192 228h1.7v1.7h-1.7zM191 227h1.7v1.7h-1.7zM184 234h1.7v1.7h-1.7zM180 233h1.7v1.7h-1.7zM202 234h1.7v1.7h-1.7zM195 231h1.7v1.7h-1.7zM195 232h1.7v1.7h-1.7zM197 231h1.7v1.7h-1.7zM193 233h1.7v1.7h-1.7zM193 232h1.7v1.7h-1.7zM193 230h1.7v1.7h-1.7zM177 230h1.7v1.7h-1.7zM188 233h1.7v1.7h-1.7zM182 229h1.7v1.7h-1.7zM193 229h1.7v1.7h-1.7zM187 233h1.7v1.7h-1.7zM189 230h1.7v1.7h-1.7zM190 232h1.7v1.7h-1.7zM195 231h1.7v1.7h-1.7zM174 230h1.7v1.7h-1.7zM191 231h1.7v1.7h-1.7zM188 230h1.7v1.7h-1.7zM192 231h1.7v1.7h-1.7zM179 231h1.7v1.7h-1.7zM193 230h1.7v1.7h-1.7zM192 230h1.7v1.7h-1.7zM177 227h1.7v1.7h-1.7zM174 234h1.7v1.7h-1.7zM177 228h1.7v1.7h-1.7zM194 232h1.7v1.7h-1.7zM191 230h1.7v1.7h-1.7zM193 231h1.7v1.7h-1.7zM181 229h1.7v1.7h-1.7zM193 228h1.7v1.7h-1.7zM194 230h1.7v1.7h-1.7zM200 236h1.7v1.7h-1.7zM187 233h1.7v1.7h-1.7zM182 230h1.7v1.7h-1.7zM188 229h1.7v1.7h-1.7zM187 234h1.7v1.7h-1.7zM191 232h1.7v1.7h-1.7zM191 229h1.7v1.7h-1.7zM198 229h1.7v1.7h-1.7zM196 231h1.7v1.7h-1.7zM184 225h1.7v1.7h-1.7zM190 233h1.7v1.7h-1.7zM187 231h1.7v1.7h-1.7zM187 229h1.7v1.7h-1.7zM204 229h1.7v1.7h-1.7zM182 233h1.7v1.7h-1.7zM187 229h1.7v1.7h-1.7zM176 233h1.7v1.7h-1.7zM187 231h1.7v1.7h-1.7zM197 235h1.7v1.7h-1.7zM177 228h1.7v1.7h-1.7zM187 234h1.7v1.7h-1.7zM192 234h1.7v1.7h-1.7zM179 235h1.7v1.7h-1.7zM192 232h1.7v1.7h-1.7zM190 238h1.7v1.7h-1.7zM185 228h1.7v1.7h-1.7zM200 231h1.7v1.7h-1.7zM191 229h1.7v1.7h-1.7zM186 233h1.7v1.7h-1.7zM177 225h1.7v1.7h-1.7zM186 228h1.7v1.7h-1.7zM187 237h1.7v1.7h-1.7zM191 234h1.7v1.7h-1.7zM202 233h1.7v1.7h-1.7zM189 226h1.7v1.7h-1.7zM182 227h1.7v1.7h-1.7zM192 235h1.7v1.7h-1.7zM193 235h1.7v1.7h-1.7zM186 231h1.7v1.7h-1.7zM180 233h1.7v1.7h-1.7zM203 233h1.7v1.7h-1.7zM191 233h1.7v1.7h-1.7zM195 236h1.7v1.7h-1.7zM205 233h1.7v1.7h-1.7zM197 236h1.7v1.7h-1.7zM191 232h1.7v1.7h-1.7zM194 229h1.7v1.7h-1.7zM190 230h1.7v1.7h-1.7zM194 231h1.7v1.7h-1.7zM192 235h1.7v1.7h-1.7zM186 231h1.7v1.7h-1.7zM193 229h1.7v1.7h-1.7zM186 230h1.7v1.7h-1.7zM188 227h1.7v1.7h-1.7zM190 229h1.7v1.7h-1.7zM174 238h1.7v1.7h-1.7zM187 233h1.7v1.7h-1.7zM187 227h1.7v1.7h-1.7zM201 231h1.7v1.7h-1.7zM190 228h1.7v1.7h-1.7zM190 227h1.7v1.7h-1.7zM192 234h1.7v1.7h-1.7zM195 234h1.7v1.7h-1.7zM180 230h1.7v1.7h-1.7zM190 230h1.7v1.7h-1.7zM183 232h1.7v1.7h-1.7zM191 230h1.7v1.7h-1.7zM174 226h1.7v1.7h-1.7zM193 234h1.7v1.7h-1.7zM198 229h1.7v1.7h-1.7zM189 235h1.7v1.7h-1.7zM174 235h1.7v1.7h-1.7zM194 230h1.7v1.7h-1.7zM192 234h1.7v1.7h-1.7zM203 233h1.7v1.7h-1.7zM204 233h1.7v1.7h-1.7zM180 225h1.7v1.7h-1.7zM184 231h1.7v1.7h-1.7zM176 232h1.7v1.7h-1.7zM186 234h1.7v1.7h-1.7zM195 226h1.7v1.7h-1.7zM190 231h1.7v1.7h-1.7zM200 229h1.7v1.7h-1.7zM187 228h1.7v1.7h-1.7zM199 226h1.7v1.7h-1.7zM185 231h1.7v1.7h-1.7zM190 230h1.7v1.7h-1.7zM189 232h1.7v1.7h-1.7zM198 233h1.7v1.7h-1.7zM199 230h1.7v1.7h-1.7zM182 231h1.7v1.7h-1.7zM191 230h1.7v1.7h-1.7zM177 230h1.7v1.7h-1.7zM198 228h1.7v1.7h-1.7zM187 231h1.7v1.7h-1.7zM180 229h1.7v1.7h-1.7zM187 233h1.7v1.7h-1.7zM182 230h1.7v1.7h-1.7zM190 234h1.7v1.7h-1.7zM194 227h1.7v1.7h-1.7zM187 233h1.7v1.7h-1.7zM187 233h1.7v1.7h-1.7zM181 234h1.7v1.7h-1.7zM204 232h1.7v1.7h-1.7zM185 227h1.7v1.7h-1.7zM205 225h1.7v1.7h-1.7zM184 232h1.7v1.7h-1.7zM194 231h1.7v1.7h-1.7zM199 232h1.7v1.7h-1.7zM190 236h1.7v1.7h-1.7zM183 230h1.7v1.7h-1.7zM183 237h1.7v1.7h-1.7zM192 232h1.7v1.7h-1.7zM175 234h1.7v1.7h-1.7zM198 232h1.7v1.7h-1.7zM196 232h1.7v1.7h-1.7zM189 229h1.7v1.7h-1.7zM193 230h1.7v1.7h-1.7zM188 235h1.7v1.7h-1.7zM191 228h1.7v1.7h-1.7zM202 234h1.7v1.7h-1.7zM197 230h1.7v1.7h-1.7zM174 234h1.7v1.7h-1.7zM191 230h1.7v1.7h-1.7zM194 227h1.7v1.7h-1.7zM188 229h1.7v1.7h-1.7zM188 236h1.7v1.7h-1.7zM198 232h1.7v1.7h-1.7zM190 227h1.7v1.7h-1.7zM200 238h1.7v1.7h-1.7zM175 233h1.7v1.7h-1.7zM196 233h1.7v1.7h-1.7zM189 233h1.7v1.7h-1.7zM189 234h1.7v1.7h-1.7zM197 232h1.7v1.7h-1.7zM197 225h1.7v1.7h-1.7zM186 230h1.7v1.7h-1.7zM186 238h1.7v1.7h-1.7zM195 229h1.7v1.7h-1.7zM189 233h1.7v1.7h-1.7zM186 230h1.7v1.7h-1.7zM204 234h1.7v1.7h-1.7zM194 236h1.7v1.7h-1.7zM180 234h1.7v1.7h-1.7zM192 228h1.7v1.7h-1.7zM195 231h1.7v1.7h-1.7zM191 228h1.7v1.7h-1.7zM189 233h1.7v1.7h-1.7zM191 230h1.7v1.7h-1.7zM178 230h1.7v1.7h-1.7zM189 228h1.7v1.7h-1.7zM196 231h1.7v1.7h-1.7zM202 236h1.7v1.7h-1.7zM190 235h1.7v1.7h-1.7zM194 229h1.7v1.7h-1.7zM192 233h1.7v1.7h-1.7zM195 232h1.7v1.7h-1.7zM200 232h1.7v1.7h-1.7zM184 232h1.7v1.7h-1.7zM188 227h1.7v1.7h-1.7zM192 228h1.7v1.7h-1.7zM218 203h1.7v1.7h-1.7zM215 201h1.7v1.7h-1.7zM217 221h1.7v1.7h-1.7zM215 210h1.7v1.7h-1.7zM206 219h1.7v1.7h-1.7zM215 199h1.7v1.7h-1.7zM208 214h1.7v1.7h-1.7zM211 207h1.7v1.7h-1.7zM210 201h1.7v1.7h-1.7zM214 215h1.7v1.7h-1.7zM216 203h1.7v1.7h-1.7zM204 196h1.7v1.7h-1.7zM216 220h1.7v1.7h-1.7zM219 201h1.7v1.7h-1.7zM218 218h1.7v1.7h-1.7zM203 217h1.7v1.7h-1.7zM204 195h1.7v1.7h-1.7zM212 208h1.7v1.7h-1.7zM219 213h1.7v1.7h-1.7zM215 206h1.7v1.7h-1.7zM223 223h1.7v1.7h-1.7zM219 211h1.7v1.7h-1.7zM207 221h1.7v1.7h-1.7zM215 211h1.7v1.7h-1.7zM213 212h1.7v1.7h-1.7zM212 213h1.7v1.7h-1.7zM213 223h1.7v1.7h-1.7zM220 213h1.7v1.7h-1.7zM213 210h1.7v1.7h-1.7zM217 203h1.7v1.7h-1.7zM216 215h1.7v1.7h-1.7zM207 204h1.7v1.7h-1.7zM210 199h1.7v1.7h-1.7zM217 206h1.7v1.7h-1.7zM217 199h1.7v1.7h-1.7zM216 195h1.7v1.7h-1.7zM214 214h1.7v1.7h-1.7zM218 201h1.7v1.7h-1.7zM201 223h1.7v1.7h-1.7zM202 226h1.7v1.7h-1.7zM215 212h1.7v1.7h-1.7zM215 220h1.7v1.7h-1.7zM212 222h1.7v1.7h-1.7zM209 210h1.7v1.7h-1.7zM218 213h1.7v1.7h-1.7zM201 224h1.7v1.7h-1.7zM207 202h1.7v1.7h-1.7zM208 210h1.7v1.7h-1.7zM203 203h1.7v1.7h-1.7zM217 215h1.7v1.7h-1.7zM215 225h1.7v1.7h-1.7zM213 208h1.7v1.7h-1.7zM201 208h1.7v1.7h-1.7zM211 208h1.7v1.7h-1.7zM204 205h1.7v1.7h-1.7zM211 224h1.7v1.7h-1.7zM223 217h1.7v1.7h-1.7zM215 217h1.7v1.7h-1.7zM218 197h1.7v1.7h-1.7zM216 222h1.7v1.7h-1.7zM217 208h1.7v1.7h-1.7zM222 204h1.7v1.7h-1.7zM206 200h1.7v1.7h-1.7zM215 203h1.7v1.7h-1.7zM217 199h1.7v1.7h-1.7zM211 201h1.7v1.7h-1.7zM222 212h1.7v1.7h-1.7zM210 209h1.7v1.7h-1.7zM221 203h1.7v1.7h-1.7zM219 210h1.7v1.7h-1.7zM213 203h1.7v1.7h-1.7zM209 214h1.7v1.7h-1.7zM215 214h1.7v1.7h-1.7zM216 231h1.7v1.7h-1.7zM213 206h1.7v1.7h-1.7zM205 207h1.7v1.7h-1.7zM216 204h1.7v1.7h-1.7zM219 218h1.7v1.7h-1.7zM212 191h1.7v1.7h-1.7zM204 191h1.7v1.7h-1.7zM208 217h1.7v1.7h-1.7zM210 208h1.7v1.7h-1.7zM202 208h1.7v1.7h-1.7zM201 220h1.7v1.7h-1.7zM215 204h1.7v1.7h-1.7zM211 218h1.7v1.7h-1.7zM211 191h1.7v1.7h-1.7zM215 209h1.7v1.7h-1.7zM217 219h1.7v1.7h-1.7zM203 231h1.7v1.7h-1.7zM214 219h1.7v1.7h-1.7zM219 220h1.7v1.7h-1.7zM214 203h1.7v1.7h-1.7zM215 220h1.7v1.7h-1.7zM213 198h1.7v1.7h-1.7zM215 225h1.7v1.7h-1.7zM223 201h1.7v1.7h-1.7zM213 215h1.7v1.7h-1.7zM207 198h1.7v1.7h-1.7zM212 204h1.7v1.7h-1.7zM208 219h1.7v1.7h-1.7zM202 216h1.7v1.7h-1.7zM216 206h1.7v1.7h-1.7zM213 226h1.7v1.7h-1.7zM208 216h1.7v1.7h-1.7zM221 205h1.7v1.7h-1.7zM218 209h1.7v1.7h-1.7zM210 219h1.7v1.7h-1.7zM208 220h1.7v1.7h-1.7zM204 211h1.7v1.7h-1.7zM208 199h1.7v1.7h-1.7zM214 194h1.7v1.7h-1.7zM218 215h1.7v1.7h-1.7zM204 215h1.7v1.7h-1.7zM217 198h1.7v1.7h-1.7zM223 214h1.7v1.7h-1.7zM206 217h1.7v1.7h-1.7zM207 207h1.7v1.7h-1.7zM211 221h1.7v1.7h-1.7zM209 207h1.7v1.7h-1.7zM217 222h1.7v1.7h-1.7zM221 199h1.7v1.7h-1.7zM210 200h1.7v1.7h-1.7zM216 215h1.7v1.7h-1.7zM211 204h1.7v1.7h-1.7zM209 209h1.7v1.7h-1.7zM212 211h1.7v1.7h-1.7zM216 217h1.7v1.7h-1.7zM216 213h1.7v1.7h-1.7zM207 220h1.7v1.7h-1.7zM212 200h1.7v1.7h-1.7zM211 217h1.7v1.7h-1.7zM213 207h1.7v1.7h-1.7zM213 208h1.7v1.7h-1.7zM220 200h1.7v1.7h-1.7zM218 208h1.7v1.7h-1.7zM206 216h1.7v1.7h-1.7zM214 221h1.7v1.7h-1.7zM210 221h1.7v1.7h-1.7zM221 202h1.7v1.7h-1.7zM221 203h1.7v1.7h-1.7zM212 204h1.7v1.7h-1.7zM219 216h1.7v1.7h-1.7zM209 222h1.7v1.7h-1.7zM211 214h1.7v1.7h-1.7zM213 206h1.7v1.7h-1.7zM214 227h1.7v1.7h-1.7zM213 206h1.7v1.7h-1.7zM209 203h1.7v1.7h-1.7zM214 202h1.7v1.7h-1.7zM209 227h1.7v1.7h-1.7zM206 211h1.7v1.7h-1.7zM202 226h1.7v1.7h-1.7zM217 197h1.7v1.7h-1.7zM215 214h1.7v1.7h-1.7zM220 210h1.7v1.7h-1.7zM210 204h1.7v1.7h-1.7zM213 223h1.7v1.7h-1.7zM215 221h1.7v1.7h-1.7zM219 217h1.7v1.7h-1.7zM202 208h1.7v1.7h-1.7zM221 215h1.7v1.7h-1.7zM207 194h1.7v1.7h-1.7zM202 213h1.7v1.7h-1.7zM219 211h1.7v1.7h-1.7zM209 191h1.7v1.7h-1.7zM203 208h1.7v1.7h-1.7zM215 209h1.7v1.7h-1.7zM215 206h1.7v1.7h-1.7zM214 204h1.7v1.7h-1.7zM206 202h1.7v1.7h-1.7zM219 212h1.7v1.7h-1.7zM207 200h1.7v1.7h-1.7zM206 217h1.7v1.7h-1.7zM218 217h1.7v1.7h-1.7zM215 229h1.7v1.7h-1.7zM207 196h1.7v1.7h-1.7zM212 216h1.7v1.7h-1.7zM216 222h1.7v1.7h-1.7zM213 206h1.7v1.7h-1.7zM213 209h1.7v1.7h-1.7zM203 207h1.7v1.7h-1.7zM213 206h1.7v1.7h-1.7zM221 219h1.7v1.7h-1.7zM211 204h1.7v1.7h-1.7zM210 202h1.7v1.7h-1.7zM215 224h1.7v1.7h-1.7zM221 215h1.7v1.7h-1.7zM212 209h1.7v1.7h-1.7zM217 197h1.7v1.7h-1.7zM217 204h1.7v1.7h-1.7zM211 210h1.7v1.7h-1.7zM218 217h1.7v1.7h-1.7zM205 215h1.7v1.7h-1.7zM216 217h1.7v1.7h-1.7zM204 202h1.7v1.7h-1.7zM214 191h1.7v1.7h-1.7zM207 220h1.7v1.7h-1.7zM211 219h1.7v1.7h-1.7zM211 230h1.7v1.7h-1.7zM204 204h1.7v1.7h-1.7zM207 212h1.7v1.7h-1.7zM208 230h1.7v1.7h-1.7zM218 216h1.7v1.7h-1.7zM214 206h1.7v1.7h-1.7zM212 205h1.7v1.7h-1.7zM210 226h1.7v1.7h-1.7zM211 220h1.7v1.7h-1.7zM212 205h1.7v1.7h-1.7zM210 212h1.7v1.7h-1.7zM210 207h1.7v1.7h-1.7zM205 217h1.7v1.7h-1.7zM209 215h1.7v1.7h-1.7zM209 219h1.7v1.7h-1.7zM209 216h1.7v1.7h-1.7zM212 215h1.7v1.7h-1.7zM207 203h1.7v1.7h-1.7zM214 206h1.7v1.7h-1.7zM221 226h1.7v1.7h-1.7zM205 218h1.7v1.7h-1.7zM208 227h1.7v1.7h-1.7zM204 208h1.7v1.7h-1.7zM207 217h1.7v1.7h-1.7zM213 200h1.7v1.7h-1.7zM223 207h1.7v1.7h-1.7zM214 207h1.7v1.7h-1.7zM218 214h1.7v1.7h-1.7zM215 212h1.7v1.7h-1.7zM208 216h1.7v1.7h-1.7zM210 203h1.7v1.7h-1.7zM206 225h1.7v1.7h-1.7zM206 220h1.7v1.7h-1.7zM208 207h1.7v1.7h-1.7zM214 229h1.7v1.7h-1.7zM211 213h1.7v1.7h-1.7zM205 200h1.7v1.7h-1.7zM214 213h1.7v1.7h-1.7zM210 213h1.7v1.7h-1.7zM203 222h1.7v1.7h-1.7zM215 227h1.7v1.7h-1.7zM213 211h1.7v1.7h-1.7zM207 206h1.7v1.7h-1.7zM206 211h1.7v1.7h-1.7zM214 210h1.7v1.7h-1.7zM213 220h1.7v1.7h-1.7zM218 231h1.7v1.7h-1.7zM208 209h1.7v1.7h-1.7zM211 217h1.7v1.7h-1.7zM207 223h1.7v1.7h-1.7zM209 229h1.7v1.7h-1.7zM216 215h1.7v1.7h-1.7zM213 211h1.7v1.7h-1.7zM211 208h1.7v1.7h-1.7zM210 207h1.7v1.7h-1.7zM214 215h1.7v1.7h-1.7zM206 212h1.7v1.7h-1.7zM210 220h1.7v1.7h-1.7zM219 210h1.7v1.7h-1.7zM207 218h1.7v1.7h-1.7zM206 211h1.7v1.7h-1.7zM217 214h1.7v1.7h-1.7zM218 214h1.7v1.7h-1.7zM214 209h1.7v1.7h-1.7zM206 218h1.7v1.7h-1.7zM208 222h1.7v1.7h-1.7zM217 206h1.7v1.7h-1.7zM218 207h1.7v1.7h-1.7zM209 230h1.7v1.7h-1.7zM209 204h1.7v1.7h-1.7zM213 199h1.7v1.7h-1.7zM212 218h1.7v1.7h-1.7zM212 201h1.7v1.7h-1.7zM215 198h1.7v1.7h-1.7zM216 223h1.7v1.7h-1.7zM209 229h1.7v1.7h-1.7zM205 210h1.7v1.7h-1.7zM209 229h1.7v1.7h-1.7zM210 229h1.7v1.7h-1.7zM213 204h1.7v1.7h-1.7zM217 212h1.7v1.7h-1.7zM217 213h1.7v1.7h-1.7zM214 219h1.7v1.7h-1.7zM207 218h1.7v1.7h-1.7zM213 215h1.7v1.7h-1.7zM219 212h1.7v1.7h-1.7zM218 208h1.7v1.7h-1.7zM211 197h1.7v1.7h-1.7zM204 225h1.7v1.7h-1.7zM208 199h1.7v1.7h-1.7zM210 211h1.7v1.7h-1.7zM214 221h1.7v1.7h-1.7zM207 211h1.7v1.7h-1.7zM215 209h1.7v1.7h-1.7zM210 222h1.7v1.7h-1.7zM213 218h1.7v1.7h-1.7zM216 203h1.7v1.7h-1.7zM205 217h1.7v1.7h-1.7zM211 213h1.7v1.7h-1.7zM223 210h1.7v1.7h-1.7zM218 200h1.7v1.7h-1.7zM210 199h1.7v1.7h-1.7zM212 216h1.7v1.7h-1.7zM212 226h1.7v1.7h-1.7zM205 215h1.7v1.7h-1.7zM213 208h1.7v1.7h-1.7zM216 213h1.7v1.7h-1.7zM208 195h1.7v1.7h-1.7zM201 216h1.7v1.7h-1.7zM211 199h1.7v1.7h-1.7zM212 226h1.7v1.7h-1.7zM215 199h1.7v1.7h-1.7zM205 218h1.7v1.7h-1.7zM218 205h1.7v1.7h-1.7zM216 212h1.7v1.7h-1.7zM203 197h1.7v1.7h-1.7zM201 231h1.7v1.7h-1.7zM213 205h1.7v1.7h-1.7zM216 199h1.7v1.7h-1.7zM216 208h1.7v1.7h-1.7zM209 229h1.7v1.7h-1.7zM215 217h1.7v1.7h-1.7zM218 193h1.7v1.7h-1.7zM213 224h1.7v1.7h-1.7zM208 203h1.7v1.7h-1.7zM207 224h1.7v1.7h-1.7zM212 210h1.7v1.7h-1.7zM203 217h1.7v1.7h-1.7zM211 214h1.7v1.7h-1.7zM221 210h1.7v1.7h-1.7zM216 223h1.7v1.7h-1.7zM223 218h1.7v1.7h-1.7zM220 210h1.7v1.7h-1.7zM211 208h1.7v1.7h-1.7zM214 217h1.7v1.7h-1.7zM206 212h1.7v1.7h-1.7zM219 210h1.7v1.7h-1.7zM213 211h1.7v1.7h-1.7zM212 214h1.7v1.7h-1.7zM217 202h1.7v1.7h-1.7zM216 226h1.7v1.7h-1.7zM216 196h1.7v1.7h-1.7zM207 221h1.7v1.7h-1.7zM207 211h1.7v1.7h-1.7zM215 214h1.7v1.7h-1.7zM205 209h1.7v1.7h-1.7zM210 213h1.7v1.7h-1.7zM210 218h1.7v1.7h-1.7zM217 205h1.7v1.7h-1.7zM210 208h1.7v1.7h-1.7zM215 206h1.7v1.7h-1.7zM216 203h1.7v1.7h-1.7zM213 224h1.7v1.7h-1.7zM216 224h1.7v1.7h-1.7zM218 213h1.7v1.7h-1.7zM211 207h1.7v1.7h-1.7zM214 208h1.7v1.7h-1.7zM214 195h1.7v1.7h-1.7zM208 198h1.7v1.7h-1.7zM210 219h1.7v1.7h-1.7zM215 218h1.7v1.7h-1.7zM206 218h1.7v1.7h-1.7zM211 198h1.7v1.7h-1.7zM210 204h1.7v1.7h-1.7zM212 219h1.7v1.7h-1.7zM215 216h1.7v1.7h-1.7zM209 202h1.7v1.7h-1.7zM214 203h1.7v1.7h-1.7zM208 198h1.7v1.7h-1.7zM203 216h1.7v1.7h-1.7zM223 195h1.7v1.7h-1.7zM214 215h1.7v1.7h-1.7zM217 210h1.7v1.7h-1.7zM210 218h1.7v1.7h-1.7zM207 211h1.7v1.7h-1.7zM210 222h1.7v1.7h-1.7zM207 210h1.7v1.7h-1.7zM212 206h1.7v1.7h-1.7zM216 211h1.7v1.7h-1.7zM211 204h1.7v1.7h-1.7zM217 224h1.7v1.7h-1.7zM201 209h1.7v1.7h-1.7zM213 218h1.7v1.7h-1.7zM219 212h1.7v1.7h-1.7zM220 219h1.7v1.7h-1.7zM215 211h1.7v1.7h-1.7zM210 214h1.7v1.7h-1.7zM215 211h1.7v1.7h-1.7zM214 221h1.7v1.7h-1.7zM208 195h1.7v1.7h-1.7zM210 211h1.7v1.7h-1.7zM218 218h1.7v1.7h-1.7zM207 220h1.7v1.7h-1.7zM223 209h1.7v1.7h-1.7zM213 224h1.7v1.7h-1.7zM206 218h1.7v1.7h-1.7zM214 203h1.7v1.7h-1.7zM206 221h1.7v1.7h-1.7zM216 205h1.7v1.7h-1.7zM215 203h1.7v1.7h-1.7zM216 222h1.7v1.7h-1.7zM218 217h1.7v1.7h-1.7zM221 215h1.7v1.7h-1.7zM223 210h1.7v1.7h-1.7zM219 214h1.7v1.7h-1.7zM210 195h1.7v1.7h-1.7zM211 229h1.7v1.7h-1.7zM212 203h1.7v1.7h-1.7zM213 228h1.7v1.7h-1.7zM208 214h1.7v1.7h-1.7zM209 215h1.7v1.7h-1.7zM213 211h1.7v1.7h-1.7zM210 222h1.7v1.7h-1.7zM222 207h1.7v1.7h-1.7zM206 225h1.7v1.7h-1.7zM207 217h1.7v1.7h-1.7zM216 218h1.7v1.7h-1.7zM211 214h1.7v1.7h-1.7zM211 224h1.7v1.7h-1.7zM210 209h1.7v1.7h-1.7zM216 203h1.7v1.7h-1.7zM213 216h1.7v1.7h-1.7zM214 207h1.7v1.7h-1.7zM210 205h1.7v1.7h-1.7zM213 216h1.7v1.7h-1.7zM215 201h1.7v1.7h-1.7zM212 210h1.7v1.7h-1.7zM219 219h1.7v1.7h-1.7zM201 212h1.7v1.7h-1.7zM210 194h1.7v1.7h-1.7zM216 210h1.7v1.7h-1.7zM215 195h1.7v1.7h-1.7zM212 205h1.7v1.7h-1.7zM217 214h1.7v1.7h-1.7zM223 231h1.7v1.7h-1.7zM204 203h1.7v1.7h-1.7zM214 209h1.7v1.7h-1.7zM208 216h1.7v1.7h-1.7zM208 203h1.7v1.7h-1.7zM219 206h1.7v1.7h-1.7zM215 209h1.7v1.7h-1.7zM211 211h1.7v1.7h-1.7zM208 223h1.7v1.7h-1.7zM215 204h1.7v1.7h-1.7zM207 216h1.7v1.7h-1.7zM215 202h1.7v1.7h-1.7zM214 203h1.7v1.7h-1.7zM202 211h1.7v1.7h-1.7zM212 223h1.7v1.7h-1.7zM208 196h1.7v1.7h-1.7zM207 210h1.7v1.7h-1.7zM219 204h1.7v1.7h-1.7zM215 198h1.7v1.7h-1.7zM212 215h1.7v1.7h-1.7zM210 206h1.7v1.7h-1.7zM213 209h1.7v1.7h-1.7zM209 212h1.7v1.7h-1.7zM214 209h1.7v1.7h-1.7zM209 194h1.7v1.7h-1.7zM216 208h1.7v1.7h-1.7zM216 209h1.7v1.7h-1.7zM211 214h1.7v1.7h-1.7zM213 211h1.7v1.7h-1.7zM213 217h1.7v1.7h-1.7zM212 203h1.7v1.7h-1.7zM214 217h1.7v1.7h-1.7zM205 196h1.7v1.7h-1.7zM211 230h1.7v1.7h-1.7zM213 211h1.7v1.7h-1.7zM212 192h1.7v1.7h-1.7zM210 209h1.7v1.7h-1.7zM212 205h1.7v1.7h-1.7zM222 218h1.7v1.7h-1.7zM212 197h1.7v1.7h-1.7zM216 219h1.7v1.7h-1.7zM219 210h1.7v1.7h-1.7zM204 226h1.7v1.7h-1.7zM205 225h1.7v1.7h-1.7zM206 207h1.7v1.7h-1.7zM218 228h1.7v1.7h-1.7zM214 215h1.7v1.7h-1.7zM213 222h1.7v1.7h-1.7zM202 217h1.7v1.7h-1.7zM217 231h1.7v1.7h-1.7zM212 216h1.7v1.7h-1.7zM217 216h1.7v1.7h-1.7zM218 197h1.7v1.7h-1.7zM221 205h1.7v1.7h-1.7zM218 204h1.7v1.7h-1.7zM217 214h1.7v1.7h-1.7zM214 209h1.7v1.7h-1.7zM208 212h1.7v1.7h-1.7zM203 211h1.7v1.7h-1.7zM223 209h1.7v1.7h-1.7zM204 218h1.7v1.7h-1.7zM215 200h1.7v1.7h-1.7zM213 210h1.7v1.7h-1.7zM212 220h1.7v1.7h-1.7zM219 213h1.7v1.7h-1.7zM208 215h1.7v1.7h-1.7zM214 212h1.7v1.7h-1.7zM214 199h1.7v1.7h-1.7zM209 222h1.7v1.7h-1.7zM207 200h1.7v1.7h-1.7zM205 203h1.7v1.7h-1.7zM211 196h1.7v1.7h-1.7zM217 196h1.7v1.7h-1.7zM211 204h1.7v1.7h-1.7zM209 217h1.7v1.7h-1.7zM216 216h1.7v1.7h-1.7zM203 213h1.7v1.7h-1.7zM206 191h1.7v1.7h-1.7zM210 228h1.7v1.7h-1.7zM205 206h1.7v1.7h-1.7zM208 214h1.7v1.7h-1.7zM219 220h1.7v1.7h-1.7zM208 202h1.7v1.7h-1.7zM210 215h1.7v1.7h-1.7zM214 220h1.7v1.7h-1.7zM214 218h1.7v1.7h-1.7zM211 198h1.7v1.7h-1.7zM214 240h1.7v1.7h-1.7zM221 255h1.7v1.7h-1.7zM214 250h1.7v1.7h-1.7zM216 234h1.7v1.7h-1.7zM213 241h1.7v1.7h-1.7zM216 248h1.7v1.7h-1.7zM218 247h1.7v1.7h-1.7zM220 242h1.7v1.7h-1.7zM219 238h1.7v1.7h-1.7zM215 251h1.7v1.7h-1.7zM211 238h1.7v1.7h-1.7zM216 234h1.7v1.7h-1.7zM217 243h1.7v1.7h-1.7zM215 237h1.7v1.7h-1.7zM216 242h1.7v1.7h-1.7zM212 254h1.7v1.7h-1.7zM214 257h1.7v1.7h-1.7zM210 230h1.7v1.7h-1.7zM210 231h1.7v1.7h-1.7zM223 256h1.7v1.7h-1.7zM218 247h1.7v1.7h-1.7zM212 231h1.7v1.7h-1.7zM221 237h1.7v1.7h-1.7zM215 228h1.7v1.7h-1.7zM214 233h1.7v1.7h-1.7zM218 249h1.7v1.7h-1.7zM220 259h1.7v1.7h-1.7zM211 245h1.7v1.7h-1.7zM209 229h1.7v1.7h-1.7zM216 241h1.7v1.7h-1.7zM212 230h1.7v1.7h-1.7zM223 235h1.7v1.7h-1.7zM214 250h1.7v1.7h-1.7zM212 237h1.7v1.7h-1.7zM218 248h1.7v1.7h-1.7zM225 252h1.7v1.7h-1.7zM221 226h1.7v1.7h-1.7zM218 253h1.7v1.7h-1.7zM211 244h1.7v1.7h-1.7zM215 232h1.7v1.7h-1.7zM214 238h1.7v1.7h-1.7zM219 246h1.7v1.7h-1.7zM218 240h1.7v1.7h-1.7zM218 238h1.7v1.7h-1.7zM217 259h1.7v1.7h-1.7zM221 243h1.7v1.7h-1.7zM214 224h1.7v1.7h-1.7zM218 246h1.7v1.7h-1.7zM220 224h1.7v1.7h-1.7zM217 232h1.7v1.7h-1.7zM223 233h1.7v1.7h-1.7zM209 234h1.7v1.7h-1.7zM220 234h1.7v1.7h-1.7zM212 248h1.7v1.7h-1.7zM218 247h1.7v1.7h-1.7zM213 236h1.7v1.7h-1.7zM217 247h1.7v1.7h-1.7zM218 229h1.7v1.7h-1.7zM217 229h1.7v1.7h-1.7zM211 227h1.7v1.7h-1.7zM218 244h1.7v1.7h-1.7zM222 235h1.7v1.7h-1.7zM208 245h1.7v1.7h-1.7zM215 220h1.7v1.7h-1.7zM219 238h1.7v1.7h-1.7zM219 232h1.7v1.7h-1.7zM223 227h1.7v1.7h-1.7zM215 235h1.7v1.7h-1.7zM216 231h1.7v1.7h-1.7zM215 248h1.7v1.7h-1.7zM216 236h1.7v1.7h-1.7zM220 220h1.7v1.7h-1.7zM214 246h1.7v1.7h-1.7zM217 241h1.7v1.7h-1.7zM216 236h1.7v1.7h-1.7zM217 239h1.7v1.7h-1.7zM211 232h1.7v1.7h-1.7zM216 253h1.7v1.7h-1.7zM215 236h1.7v1.7h-1.7zM221 250h1.7v1.7h-1.7zM215 237h1.7v1.7h-1.7zM218 250h1.7v1.7h-1.7zM213 225h1.7v1.7h-1.7zM216 227h1.7v1.7h-1.7zM211 240h1.7v1.7h-1.7zM209 251h1.7v1.7h-1.7zM214 232h1.7v1.7h-1.7zM221 244h1.7v1.7h-1.7zM212 243h1.7v1.7h-1.7zM221 223h1.7v1.7h-1.7zM219 237h1.7v1.7h-1.7zM211 250h1.7v1.7h-1.7zM213 245h1.7v1.7h-1.7zM212 226h1.7v1.7h-1.7zM216 259h1.7v1.7h-1.7zM220 240h1.7v1.7h-1.7zM213 244h1.7v1.7h-1.7zM215 225h1.7v1.7h-1.7zM222 230h1.7v1.7h-1.7zM213 227h1.7v1.7h-1.7zM219 243h1.7v1.7h-1.7zM213 226h1.7v1.7h-1.7zM216 243h1.7v1.7h-1.7zM217 231h1.7v1.7h-1.7zM216 237h1.7v1.7h-1.7zM211 231h1.7v1.7h-1.7zM214 223h1.7v1.7h-1.7zM214 223h1.7v1.7h-1.7zM218 233h1.7v1.7h-1.7zM207 236h1.7v1.7h-1.7zM210 228h1.7v1.7h-1.7zM213 231h1.7v1.7h-1.7zM213 229h1.7v1.7h-1.7zM214 239h1.7v1.7h-1.7zM215 219h1.7v1.7h-1.7zM220 240h1.7v1.7h-1.7zM211 254h1.7v1.7h-1.7zM225 254h1.7v1.7h-1.7zM225 233h1.7v1.7h-1.7zM215 219h1.7v1.7h-1.7zM221 239h1.7v1.7h-1.7zM222 221h1.7v1.7h-1.7zM218 238h1.7v1.7h-1.7zM218 256h1.7v1.7h-1.7zM214 236h1.7v1.7h-1.7zM213 247h1.7v1.7h-1.7zM217 234h1.7v1.7h-1.7zM219 243h1.7v1.7h-1.7zM213 235h1.7v1.7h-1.7zM215 233h1.7v1.7h-1.7zM223 231h1.7v1.7h-1.7zM217 248h1.7v1.7h-1.7zM217 244h1.7v1.7h-1.7zM212 238h1.7v1.7h-1.7zM214 240h1.7v1.7h-1.7zM211 225h1.7v1.7h-1.7zM215 240h1.7v1.7h-1.7zM217 256h1.7v1.7h-1.7zM214 253h1.7v1.7h-1.7zM218 251h1.7v1.7h-1.7zM215 247h1.7v1.7h-1.7zM213 239h1.7v1.7h-1.7zM217 242h1.7v1.7h-1.7zM217 245h1.7v1.7h-1.7zM218 252h1.7v1.7h-1.7zM215 241h1.7v1.7h-1.7zM218 234h1.7v1.7h-1.7zM224 252h1.7v1.7h-1.7zM212 248h1.7v1.7h-1.7zM221 235h1.7v1.7h-1.7zM208 225h1.7v1.7h-1.7zM213 235h1.7v1.7h-1.7zM218 245h1.7v1.7h-1.7zM217 245h1.7v1.7h-1.7zM216 233h1.7v1.7h-1.7zM218 238h1.7v1.7h-1.7zM221 243h1.7v1.7h-1.7zM209 240h1.7v1.7h-1.7zM219 236h1.7v1.7h-1.7zM211 233h1.7v1.7h-1.7zM209 243h1.7v1.7h-1.7zM223 234h1.7v1.7h-1.7zM220 241h1.7v1.7h-1.7zM216 234h1.7v1.7h-1.7zM219 248h1.7v1.7h-1.7zM216 232h1.7v1.7h-1.7zM219 240h1.7v1.7h-1.7zM213 244h1.7v1.7h-1.7zM209 244h1.7v1.7h-1.7zM217 258h1.7v1.7h-1.7zM213 243h1.7v1.7h-1.7zM214 229h1.7v1.7h-1.7zM217 232h1.7v1.7h-1.7zM217 226h1.7v1.7h-1.7zM219 240h1.7v1.7h-1.7zM217 239h1.7v1.7h-1.7zM219 245h1.7v1.7h-1.7zM209 238h1.7v1.7h-1.7zM220 251h1.7v1.7h-1.7zM216 248h1.7v1.7h-1.7zM213 244h1.7v1.7h-1.7zM219 246h1.7v1.7h-1.7zM217 240h1.7v1.7h-1.7zM216 233h1.7v1.7h-1.7zM225 223h1.7v1.7h-1.7zM216 244h1.7v1.7h-1.7zM219 238h1.7v1.7h-1.7zM223 229h1.7v1.7h-1.7zM213 237h1.7v1.7h-1.7zM215 259h1.7v1.7h-1.7zM216 231h1.7v1.7h-1.7zM222 229h1.7v1.7h-1.7zM218 224h1.7v1.7h-1.7zM225 248h1.7v1.7h-1.7zM207 230h1.7v1.7h-1.7zM218 243h1.7v1.7h-1.7zM216 233h1.7v1.7h-1.7zM218 232h1.7v1.7h-1.7zM221 251h1.7v1.7h-1.7zM215 239h1.7v1.7h-1.7zM216 247h1.7v1.7h-1.7zM218 245h1.7v1.7h-1.7zM217 251h1.7v1.7h-1.7zM209 239h1.7v1.7h-1.7zM219 259h1.7v1.7h-1.7zM216 229h1.7v1.7h-1.7zM212 238h1.7v1.7h-1.7zM210 240h1.7v1.7h-1.7zM212 232h1.7v1.7h-1.7zM221 248h1.7v1.7h-1.7zM217 246h1.7v1.7h-1.7zM209 244h1.7v1.7h-1.7zM213 220h1.7v1.7h-1.7zM223 241h1.7v1.7h-1.7zM210 237h1.7v1.7h-1.7zM220 259h1.7v1.7h-1.7zM214 243h1.7v1.7h-1.7zM219 236h1.7v1.7h-1.7zM218 252h1.7v1.7h-1.7zM214 238h1.7v1.7h-1.7zM218 234h1.7v1.7h-1.7zM221 221h1.7v1.7h-1.7zM218 234h1.7v1.7h-1.7zM217 237h1.7v1.7h-1.7zM218 234h1.7v1.7h-1.7zM217 242h1.7v1.7h-1.7zM220 248h1.7v1.7h-1.7zM214 229h1.7v1.7h-1.7zM212 247h1.7v1.7h-1.7zM221 242h1.7v1.7h-1.7zM217 236h1.7v1.7h-1.7zM215 242h1.7v1.7h-1.7zM218 223h1.7v1.7h-1.7zM221 242h1.7v1.7h-1.7zM217 243h1.7v1.7h-1.7zM222 241h1.7v1.7h-1.7zM219 242h1.7v1.7h-1.7zM215 248h1.7v1.7h-1.7zM211 235h1.7v1.7h-1.7zM216 238h1.7v1.7h-1.7zM218 232h1.7v1.7h-1.7zM217 236h1.7v1.7h-1.7zM209 244h1.7v1.7h-1.7zM214 232h1.7v1.7h-1.7zM212 219h1.7v1.7h-1.7zM210 239h1.7v1.7h-1.7zM212 247h1.7v1.7h-1.7zM219 248h1.7v1.7h-1.7zM215 243h1.7v1.7h-1.7zM213 259h1.7v1.7h-1.7zM208 240h1.7v1.7h-1.7zM214 223h1.7v1.7h-1.7zM217 242h1.7v1.7h-1.7zM213 223h1.7v1.7h-1.7zM213 241h1.7v1.7h-1.7zM219 233h1.7v1.7h-1.7zM215 231h1.7v1.7h-1.7zM216 223h1.7v1.7h-1.7zM213 249h1.7v1.7h-1.7zM217 241h1.7v1.7h-1.7zM213 248h1.7v1.7h-1.7zM219 240h1.7v1.7h-1.7zM217 239h1.7v1.7h-1.7zM220 245h1.7v1.7h-1.7zM216 257h1.7v1.7h-1.7zM213 244h1.7v1.7h-1.7zM216 242h1.7v1.7h-1.7zM223 224h1.7v1.7h-1.7zM220 251h1.7v1.7h-1.7zM213 238h1.7v1.7h-1.7zM220 238h1.7v1.7h-1.7zM225 234h1.7v1.7h-1.7zM218 250h1.7v1.7h-1.7zM211 249h1.7v1.7h-1.7zM212 232h1.7v1.7h-1.7zM217 241h1.7v1.7h-1.7zM208 243h1.7v1.7h-1.7zM209 246h1.7v1.7h-1.7zM212 223h1.7v1.7h-1.7zM211 219h1.7v1.7h-1.7zM212 232h1.7v1.7h-1.7zM220 225h1.7v1.7h-1.7zM222 242h1.7v1.7h-1.7zM211 249h1.7v1.7h-1.7zM216 237h1.7v1.7h-1.7zM217 253h1.7v1.7h-1.7zM215 240h1.7v1.7h-1.7zM212 251h1.7v1.7h-1.7zM215 244h1.7v1.7h-1.7zM215 249h1.7v1.7h-1.7zM213 252h1.7v1.7h-1.7zM216 245h1.7v1.7h-1.7zM218 233h1.7v1.7h-1.7zM214 240h1.7v1.7h-1.7zM217 241h1.7v1.7h-1.7zM219 232h1.7v1.7h-1.7zM215 243h1.7v1.7h-1.7zM215 230h1.7v1.7h-1.7zM214 248h1.7v1.7h-1.7zM217 248h1.7v1.7h-1.7zM203 221h1.7v1.7h-1.7zM204 218h1.7v1.7h-1.7zM205 217h1.7v1.7h-1.7zM203 212h1.7v1.7h-1.7zM202 220h1.7v1.7h-1.7zM208 226h1.7v1.7h-1.7zM206 228h1.7v1.7h-1.7zM206 216h1.7v1.7h-1.7zM207 225h1.7v1.7h-1.7zM196 226h1.7v1.7h-1.7zM207 225h1.7v1.7h-1.7zM200 220h1.7v1.7h-1.7zM212 213h1.7v1.7h-1.7zM207 227h1.7v1.7h-1.7zM207 223h1.7v1.7h-1.7zM203 218h1.7v1.7h-1.7zM200 213h1.7v1.7h-1.7zM202 217h1.7v1.7h-1.7zM210 223h1.7v1.7h-1.7zM207 215h1.7v1.7h-1.7zM199 234h1.7v1.7h-1.7zM202 221h1.7v1.7h-1.7zM205 217h1.7v1.7h-1.7zM198 216h1.7v1.7h-1.7zM212 222h1.7v1.7h-1.7zM199 208h1.7v1.7h-1.7zM205 221h1.7v1.7h-1.7zM204 216h1.7v1.7h-1.7zM203 218h1.7v1.7h-1.7zM207 208h1.7v1.7h-1.7zM200 229h1.7v1.7h-1.7zM209 217h1.7v1.7h-1.7zM203 223h1.7v1.7h-1.7zM199 211h1.7v1.7h-1.7zM203 227h1.7v1.7h-1.7zM204 221h1.7v1.7h-1.7zM203 228h1.7v1.7h-1.7zM198 224h1.7v1.7h-1.7zM197 222h1.7v1.7h-1.7zM200 220h1.7v1.7h-1.7zM203 217h1.7v1.7h-1.7zM198 220h1.7v1.7h-1.7zM211 226h1.7v1.7h-1.7zM202 230h1.7v1.7h-1.7zM203 226h1.7v1.7h-1.7zM211 224h1.7v1.7h-1.7zM209 214h1.7v1.7h-1.7zM204 218h1.7v1.7h-1.7zM198 225h1.7v1.7h-1.7zM204 225h1.7v1.7h-1.7zM195 217h1.7v1.7h-1.7zM206 208h1.7v1.7h-1.7zM202 224h1.7v1.7h-1.7zM200 220h1.7v1.7h-1.7zM205 232h1.7v1.7h-1.7zM202 233h1.7v1.7h-1.7zM204 222h1.7v1.7h-1.7zM205 218h1.7v1.7h-1.7zM202 215h1.7v1.7h-1.7zM211 229h1.7v1.7h-1.7zM211 226h1.7v1.7h-1.7zM202 217h1.7v1.7h-1.7zM201 218h1.7v1.7h-1.7zM206 224h1.7v1.7h-1.7zM209 228h1.7v1.7h-1.7zM199 221h1.7v1.7h-1.7zM207 211h1.7v1.7h-1.7zM206 219h1.7v1.7h-1.7zM205 217h1.7v1.7h-1.7zM206 225h1.7v1.7h-1.7zM202 212h1.7v1.7h-1.7zM203 221h1.7v1.7h-1.7zM209 215h1.7v1.7h-1.7zM202 232h1.7v1.7h-1.7zM207 217h1.7v1.7h-1.7zM202 218h1.7v1.7h-1.7zM200 214h1.7v1.7h-1.7zM198 225h1.7v1.7h-1.7zM208 223h1.7v1.7h-1.7zM207 212h1.7v1.7h-1.7zM209 222h1.7v1.7h-1.7zM205 215h1.7v1.7h-1.7zM202 221h1.7v1.7h-1.7zM213 227h1.7v1.7h-1.7zM207 225h1.7v1.7h-1.7zM198 219h1.7v1.7h-1.7zM201 216h1.7v1.7h-1.7zM204 225h1.7v1.7h-1.7zM197 218h1.7v1.7h-1.7zM203 227h1.7v1.7h-1.7zM195 216h1.7v1.7h-1.7zM207 223h1.7v1.7h-1.7zM204 223h1.7v1.7h-1.7zM209 234h1.7v1.7h-1.7zM206 225h1.7v1.7h-1.7zM200 229h1.7v1.7h-1.7zM198 225h1.7v1.7h-1.7zM195 216h1.7v1.7h-1.7zM199 219h1.7v1.7h-1.7zM212 219h1.7v1.7h-1.7zM200 220h1.7v1.7h-1.7zM206 224h1.7v1.7h-1.7zM210 219h1.7v1.7h-1.7zM209 220h1.7v1.7h-1.7zM200 223h1.7v1.7h-1.7zM200 211h1.7v1.7h-1.7zM199 217h1.7v1.7h-1.7zM204 214h1.7v1.7h-1.7zM197 213h1.7v1.7h-1.7zM203 210h1.7v1.7h-1.7zM196 221h1.7v1.7h-1.7zM205 223h1.7v1.7h-1.7zM207 214h1.7v1.7h-1.7zM208 230h1.7v1.7h-1.7zM202 216h1.7v1.7h-1.7zM200 220h1.7v1.7h-1.7zM199 221h1.7v1.7h-1.7zM211 215h1.7v1.7h-1.7zM201 223h1.7v1.7h-1.7zM209 230h1.7v1.7h-1.7zM198 223h1.7v1.7h-1.7zM203 228h1.7v1.7h-1.7zM209 222h1.7v1.7h-1.7zM204 220h1.7v1.7h-1.7zM213 212h1.7v1.7h-1.7zM208 215h1.7v1.7h-1.7zM201 224h1.7v1.7h-1.7zM201 222h1.7v1.7h-1.7zM203 226h1.7v1.7h-1.7zM204 220h1.7v1.7h-1.7zM201 212h1.7v1.7h-1.7zM212 222h1.7v1.7h-1.7zM208 229h1.7v1.7h-1.7zM202 228h1.7v1.7h-1.7zM200 224h1.7v1.7h-1.7zM206 220h1.7v1.7h-1.7zM199 218h1.7v1.7h-1.7zM205 223h1.7v1.7h-1.7zM200 217h1.7v1.7h-1.7zM205 225h1.7v1.7h-1.7zM207 211h1.7v1.7h-1.7zM203 227h1.7v1.7h-1.7zM204 217h1.7v1.7h-1.7zM203 228h1.7v1.7h-1.7zM202 208h1.7v1.7h-1.7zM201 229h1.7v1.7h-1.7zM208 232h1.7v1.7h-1.7zM211 226h1.7v1.7h-1.7zM205 225h1.7v1.7h-1.7zM204 218h1.7v1.7h-1.7zM207 221h1.7v1.7h-1.7zM202 221h1.7v1.7h-1.7zM201 227h1.7v1.7h-1.7zM210 232h1.7v1.7h-1.7zM202 224h1.7v1.7h-1.7zM200 219h1.7v1.7h-1.7zM202 217h1.7v1.7h-1.7zM212 218h1.7v1.7h-1.7zM203 217h1.7v1.7h-1.7zM212 228h1.7v1.7h-1.7zM199 216h1.7v1.7h-1.7zM207 218h1.7v1.7h-1.7zM198 225h1.7v1.7h-1.7zM195 229h1.7v1.7h-1.7zM212 215h1.7v1.7h-1.7zM205 224h1.7v1.7h-1.7zM205 214h1.7v1.7h-1.7zM200 223h1.7v1.7h-1.7zM203 218h1.7v1.7h-1.7zM199 224h1.7v1.7h-1.7zM206 227h1.7v1.7h-1.7zM205 232h1.7v1.7h-1.7zM207 219h1.7v1.7h-1.7zM204 225h1.7v1.7h-1.7zM203 226h1.7v1.7h-1.7zM202 217h1.7v1.7h-1.7zM206 231h1.7v1.7h-1.7zM202 222h1.7v1.7h-1.7zM206 221h1.7v1.7h-1.7zM205 221h1.7v1.7h-1.7zM198 215h1.7v1.7h-1.7zM207 226h1.7v1.7h-1.7zM211 221h1.7v1.7h-1.7zM202 217h1.7v1.7h-1.7zM198 221h1.7v1.7h-1.7zM204 234h1.7v1.7h-1.7zM206 217h1.7v1.7h-1.7zM204 222h1.7v1.7h-1.7zM200 215h1.7v1.7h-1.7zM204 219h1.7v1.7h-1.7zM207 228h1.7v1.7h-1.7zM212 218h1.7v1.7h-1.7zM206 225h1.7v1.7h-1.7zM202 221h1.7v1.7h-1.7zM208 227h1.7v1.7h-1.7zM205 218h1.7v1.7h-1.7zM212 218h1.7v1.7h-1.7zM208 224h1.7v1.7h-1.7zM203 215h1.7v1.7h-1.7zM207 221h1.7v1.7h-1.7zM216 201h1.7v1.7h-1.7zM218 199h1.7v1.7h-1.7zM219 184h1.7v1.7h-1.7zM221 194h1.7v1.7h-1.7zM218 196h1.7v1.7h-1.7zM214 197h1.7v1.7h-1.7zM214 206h1.7v1.7h-1.7zM215 193h1.7v1.7h-1.7zM219 213h1.7v1.7h-1.7zM220 194h1.7v1.7h-1.7zM213 182h1.7v1.7h-1.7zM218 198h1.7v1.7h-1.7zM211 198h1.7v1.7h-1.7zM216 199h1.7v1.7h-1.7zM212 202h1.7v1.7h-1.7zM218 202h1.7v1.7h-1.7zM222 196h1.7v1.7h-1.7zM213 207h1.7v1.7h-1.7zM222 216h1.7v1.7h-1.7zM217 196h1.7v1.7h-1.7zM220 196h1.7v1.7h-1.7zM214 197h1.7v1.7h-1.7zM221 201h1.7v1.7h-1.7zM218 197h1.7v1.7h-1.7zM213 208h1.7v1.7h-1.7zM220 211h1.7v1.7h-1.7zM215 202h1.7v1.7h-1.7zM219 182h1.7v1.7h-1.7zM219 200h1.7v1.7h-1.7zM215 184h1.7v1.7h-1.7zM216 195h1.7v1.7h-1.7zM219 208h1.7v1.7h-1.7zM218 195h1.7v1.7h-1.7zM218 211h1.7v1.7h-1.7zM213 202h1.7v1.7h-1.7zM218 210h1.7v1.7h-1.7zM218 211h1.7v1.7h-1.7zM217 200h1.7v1.7h-1.7zM214 203h1.7v1.7h-1.7zM216 205h1.7v1.7h-1.7zM219 196h1.7v1.7h-1.7zM218 205h1.7v1.7h-1.7zM217 217h1.7v1.7h-1.7zM223 194h1.7v1.7h-1.7zM214 205h1.7v1.7h-1.7zM214 209h1.7v1.7h-1.7zM218 191h1.7v1.7h-1.7zM223 190h1.7v1.7h-1.7zM213 207h1.7v1.7h-1.7zM215 207h1.7v1.7h-1.7zM215 202h1.7v1.7h-1.7zM219 205h1.7v1.7h-1.7zM218 192h1.7v1.7h-1.7zM220 197h1.7v1.7h-1.7zM212 207h1.7v1.7h-1.7zM218 190h1.7v1.7h-1.7zM219 192h1.7v1.7h-1.7zM218 210h1.7v1.7h-1.7zM218 194h1.7v1.7h-1.7zM218 193h1.7v1.7h-1.7zM218 182h1.7v1.7h-1.7zM220 202h1.7v1.7h-1.7zM220 197h1.7v1.7h-1.7zM218 201h1.7v1.7h-1.7zM220 192h1.7v1.7h-1.7zM218 191h1.7v1.7h-1.7zM215 192h1.7v1.7h-1.7zM221 191h1.7v1.7h-1.7zM217 200h1.7v1.7h-1.7zM217 187h1.7v1.7h-1.7zM218 204h1.7v1.7h-1.7zM223 197h1.7v1.7h-1.7zM217 190h1.7v1.7h-1.7zM224 184h1.7v1.7h-1.7zM216 196h1.7v1.7h-1.7zM215 197h1.7v1.7h-1.7zM213 207h1.7v1.7h-1.7zM218 205h1.7v1.7h-1.7zM213 202h1.7v1.7h-1.7zM221 186h1.7v1.7h-1.7zM221 200h1.7v1.7h-1.7zM218 193h1.7v1.7h-1.7zM215 201h1.7v1.7h-1.7zM216 207h1.7v1.7h-1.7zM221 208h1.7v1.7h-1.7zM213 206h1.7v1.7h-1.7zM215 203h1.7v1.7h-1.7zM219 200h1.7v1.7h-1.7zM223 199h1.7v1.7h-1.7zM215 211h1.7v1.7h-1.7zM212 189h1.7v1.7h-1.7zM219 199h1.7v1.7h-1.7zM216 195h1.7v1.7h-1.7zM222 193h1.7v1.7h-1.7zM218 195h1.7v1.7h-1.7zM211 197h1.7v1.7h-1.7zM215 210h1.7v1.7h-1.7zM212 206h1.7v1.7h-1.7zM216 185h1.7v1.7h-1.7zM218 205h1.7v1.7h-1.7zM215 196h1.7v1.7h-1.7zM219 205h1.7v1.7h-1.7zM218 182h1.7v1.7h-1.7zM218 209h1.7v1.7h-1.7zM222 195h1.7v1.7h-1.7zM212 194h1.7v1.7h-1.7zM216 198h1.7v1.7h-1.7zM217 195h1.7v1.7h-1.7zM219 210h1.7v1.7h-1.7zM220 195h1.7v1.7h-1.7zM219 210h1.7v1.7h-1.7zM220 205h1.7v1.7h-1.7zM216 207h1.7v1.7h-1.7zM216 197h1.7v1.7h-1.7zM215 201h1.7v1.7h-1.7zM218 191h1.7v1.7h-1.7zM220 196h1.7v1.7h-1.7zM218 206h1.7v1.7h-1.7zM219 187h1.7v1.7h-1.7zM221 196h1.7v1.7h-1.7zM213 206h1.7v1.7h-1.7zM216 206h1.7v1.7h-1.7zM220 207h1.7v1.7h-1.7zM216 208h1.7v1.7h-1.7zM219 206h1.7v1.7h-1.7zM216 205h1.7v1.7h-1.7zM216 202h1.7v1.7h-1.7zM218 194h1.7v1.7h-1.7zM218 203h1.7v1.7h-1.7zM218 196h1.7v1.7h-1.7zM220 208h1.7v1.7h-1.7zM218 199h1.7v1.7h-1.7zM216 198h1.7v1.7h-1.7zM222 204h1.7v1.7h-1.7zM218 195h1.7v1.7h-1.7zM219 206h1.7v1.7h-1.7zM221 198h1.7v1.7h-1.7zM214 195h1.7v1.7h-1.7zM214 207h1.7v1.7h-1.7zM218 197h1.7v1.7h-1.7zM216 190h1.7v1.7h-1.7zM218 189h1.7v1.7h-1.7zM214 217h1.7v1.7h-1.7zM213 192h1.7v1.7h-1.7zM211 191h1.7v1.7h-1.7zM216 202h1.7v1.7h-1.7zM220 188h1.7v1.7h-1.7zM217 197h1.7v1.7h-1.7zM219 201h1.7v1.7h-1.7zM216 215h1.7v1.7h-1.7zM218 201h1.7v1.7h-1.7zM212 185h1.7v1.7h-1.7zM218 200h1.7v1.7h-1.7zM219 198h1.7v1.7h-1.7zM215 209h1.7v1.7h-1.7zM212 187h1.7v1.7h-1.7zM216 196h1.7v1.7h-1.7zM219 199h1.7v1.7h-1.7zM220 193h1.7v1.7h-1.7zM216 195h1.7v1.7h-1.7z"/>
<rect x="219.5" y="236" width="5" height="78" fill="#9c9c9c"/>
<path fill="#7d7d7d" d="M201 302h1.0v1.0h-1.0zM206 299h1.0v1.0h-1.0zM205 293h1.0v1.0h-1.0zM212 280h1.0v1.0h-1.0zM200 307h1.0v1.0h-1.0zM209 273h1.0v1.0h-1.0zM198 289h1.0v1.0h-1.0zM208 289h1.0v1.0h-1.0zM199 280h1.0v1.0h-1.0zM194 296h1.0v1.0h-1.0zM210 292h1.0v1.0h-1.0zM202 304h1.0v1.0h-1.0zM215 280h1.0v1.0h-1.0zM196 290h1.0v1.0h-1.0zM212 284h1.0v1.0h-1.0zM202 286h1.0v1.0h-1.0zM211 286h1.0v1.0h-1.0zM204 303h1.0v1.0h-1.0zM204 280h1.0v1.0h-1.0zM219 281h1.0v1.0h-1.0zM195 291h1.0v1.0h-1.0zM213 279h1.0v1.0h-1.0zM194 301h1.0v1.0h-1.0zM213 282h1.0v1.0h-1.0zM206 290h1.0v1.0h-1.0zM196 304h1.0v1.0h-1.0zM192 292h1.0v1.0h-1.0zM208 280h1.0v1.0h-1.0zM193 300h1.0v1.0h-1.0zM206 287h1.0v1.0h-1.0zM201 301h1.0v1.0h-1.0zM214 277h1.0v1.0h-1.0zM200 299h1.0v1.0h-1.0zM196 293h1.0v1.0h-1.0zM202 286h1.0v1.0h-1.0zM198 291h1.0v1.0h-1.0zM208 293h1.0v1.0h-1.0zM201 299h1.0v1.0h-1.0zM209 278h1.0v1.0h-1.0zM207 276h1.0v1.0h-1.0zM203 304h1.0v1.0h-1.0zM206 290h1.0v1.0h-1.0zM218 281h1.0v1.0h-1.0zM198 295h1.0v1.0h-1.0zM207 272h1.0v1.0h-1.0zM216 282h1.0v1.0h-1.0zM202 284h1.0v1.0h-1.0zM211 292h1.0v1.0h-1.0zM213 281h1.0v1.0h-1.0zM215 279h1.0v1.0h-1.0zM207 298h1.0v1.0h-1.0zM201 301h1.0v1.0h-1.0zM208 283h1.0v1.0h-1.0zM201 281h1.0v1.0h-1.0zM199 284h1.0v1.0h-1.0zM196 296h1.0v1.0h-1.0zM201 283h1.0v1.0h-1.0zM201 300h1.0v1.0h-1.0zM203 290h1.0v1.0h-1.0zM214 287h1.0v1.0h-1.0zM201 277h1.0v1.0h-1.0zM204 291h1.0v1.0h-1.0zM213 288h1.0v1.0h-1.0zM200 285h1.0v1.0h-1.0zM204 302h1.0v1.0h-1.0zM204 294h1.0v1.0h-1.0zM207 283h1.0v1.0h-1.0zM204 296h1.0v1.0h-1.0zM203 276h1.0v1.0h-1.0zM200 282h1.0v1.0h-1.0zM218 282h1.0v1.0h-1.0zM202 302h1.0v1.0h-1.0zM209 275h1.0v1.0h-1.0zM204 285h1.0v1.0h-1.0zM201 303h1.0v1.0h-1.0zM207 271h1.0v1.0h-1.0zM201 288h1.0v1.0h-1.0zM202 306h1.0v1.0h-1.0zM204 277h1.0v1.0h-1.0zM210 285h1.0v1.0h-1.0zM189 297h1.0v1.0h-1.0zM202 281h1.0v1.0h-1.0zM194 302h1.0v1.0h-1.0zM207 283h1.0v1.0h-1.0zM209 286h1.0v1.0h-1.0zM205 292h1.0v1.0h-1.0zM195 286h1.0v1.0h-1.0zM191 302h1.0v1.0h-1.0zM206 278h1.0v1.0h-1.0zM210 285h1.0v1.0h-1.0zM196 286h1.0v1.0h-1.0zM196 306h1.0v1.0h-1.0zM195 296h1.0v1.0h-1.0zM202 291h1.0v1.0h-1.0zM199 280h1.0v1.0h-1.0zM203 274h1.0v1.0h-1.0zM198 295h1.0v1.0h-1.0zM202 281h1.0v1.0h-1.0zM205 293h1.0v1.0h-1.0zM200 280h1.0v1.0h-1.0zM216 280h1.0v1.0h-1.0zM203 287h1.0v1.0h-1.0zM201 291h1.0v1.0h-1.0zM202 291h1.0v1.0h-1.0zM216 282h1.0v1.0h-1.0zM190 299h1.0v1.0h-1.0zM217 283h1.0v1.0h-1.0zM201 304h1.0v1.0h-1.0zM212 285h1.0v1.0h-1.0zM208 287h1.0v1.0h-1.0z"/>
<path fill="#969696" d="M208 315h1.4v1.4h-1.4zM212 304h1.4v1.4h-1.4zM209 283h1.4v1.4h-1.4zM212 295h1.4v1.4h-1.4zM202 293h1.4v1.4h-1.4zM216 301h1.4v1.4h-1.4zM207 289h1.4v1.4h-1.4zM208 293h1.4v1.4h-1.4zM220 299h1.4v1.4h-1.4zM214 273h1.4v1.4h-1.4zM216 304h1.4v1.4h-1.4zM211 312h1.4v1.4h-1.4zM215 297h1.4v1.4h-1.4zM209 303h1.4v1.4h-1.4zM214 293h1.4v1.4h-1.4zM220 309h1.4v1.4h-1.4zM212 271h1.4v1.4h-1.4zM211 300h1.4v1.4h-1.4zM206 296h1.4v1.4h-1.4zM207 294h1.4v1.4h-1.4zM217 300h1.4v1.4h-1.4zM218 297h1.4v1.4h-1.4zM211 284h1.4v1.4h-1.4zM214 291h1.4v1.4h-1.4zM211 282h1.4v1.4h-1.4zM208 285h1.4v1.4h-1.4zM208 301h1.4v1.4h-1.4zM215 292h1.4v1.4h-1.4zM211 307h1.4v1.4h-1.4zM210 296h1.4v1.4h-1.4zM210 298h1.4v1.4h-1.4zM212 281h1.4v1.4h-1.4zM217 298h1.4v1.4h-1.4zM205 275h1.4v1.4h-1.4zM208 303h1.4v1.4h-1.4zM216 294h1.4v1.4h-1.4zM206 295h1.4v1.4h-1.4zM215 271h1.4v1.4h-1.4zM210 276h1.4v1.4h-1.4zM212 297h1.4v1.4h-1.4zM210 298h1.4v1.4h-1.4zM208 288h1.4v1.4h-1.4zM212 285h1.4v1.4h-1.4zM213 301h1.4v1.4h-1.4zM213 298h1.4v1.4h-1.4zM220 306h1.4v1.4h-1.4zM218 299h1.4v1.4h-1.4zM209 290h1.4v1.4h-1.4zM209 295h1.4v1.4h-1.4zM208 288h1.4v1.4h-1.4zM213 278h1.4v1.4h-1.4zM217 276h1.4v1.4h-1.4zM210 300h1.4v1.4h-1.4zM210 271h1.4v1.4h-1.4zM215 297h1.4v1.4h-1.4zM214 282h1.4v1.4h-1.4zM210 298h1.4v1.4h-1.4zM206 290h1.4v1.4h-1.4zM207 288h1.4v1.4h-1.4zM202 289h1.4v1.4h-1.4zM209 283h1.4v1.4h-1.4zM210 290h1.4v1.4h-1.4zM212 277h1.4v1.4h-1.4zM211 278h1.4v1.4h-1.4zM212 307h1.4v1.4h-1.4zM205 289h1.4v1.4h-1.4zM214 307h1.4v1.4h-1.4zM212 299h1.4v1.4h-1.4zM208 292h1.4v1.4h-1.4zM206 304h1.4v1.4h-1.4zM215 285h1.4v1.4h-1.4zM217 283h1.4v1.4h-1.4zM202 300h1.4v1.4h-1.4zM208 309h1.4v1.4h-1.4zM212 271h1.4v1.4h-1.4zM218 281h1.4v1.4h-1.4zM217 287h1.4v1.4h-1.4zM210 309h1.4v1.4h-1.4zM206 291h1.4v1.4h-1.4zM209 277h1.4v1.4h-1.4zM216 300h1.4v1.4h-1.4zM210 271h1.4v1.4h-1.4zM212 273h1.4v1.4h-1.4zM217 282h1.4v1.4h-1.4zM216 289h1.4v1.4h-1.4zM208 301h1.4v1.4h-1.4zM203 276h1.4v1.4h-1.4zM208 271h1.4v1.4h-1.4zM209 307h1.4v1.4h-1.4zM216 288h1.4v1.4h-1.4zM214 275h1.4v1.4h-1.4zM206 294h1.4v1.4h-1.4zM214 293h1.4v1.4h-1.4zM211 297h1.4v1.4h-1.4zM211 284h1.4v1.4h-1.4zM220 289h1.4v1.4h-1.4zM211 296h1.4v1.4h-1.4zM215 275h1.4v1.4h-1.4zM217 315h1.4v1.4h-1.4zM209 302h1.4v1.4h-1.4zM213 299h1.4v1.4h-1.4zM212 300h1.4v1.4h-1.4zM214 315h1.4v1.4h-1.4zM210 291h1.4v1.4h-1.4zM209 308h1.4v1.4h-1.4zM214 295h1.4v1.4h-1.4zM207 291h1.4v1.4h-1.4zM215 283h1.4v1.4h-1.4zM210 301h1.4v1.4h-1.4zM210 283h1.4v1.4h-1.4zM215 290h1.4v1.4h-1.4zM210 274h1.4v1.4h-1.4zM209 298h1.4v1.4h-1.4zM205 281h1.4v1.4h-1.4zM207 285h1.4v1.4h-1.4zM215 284h1.4v1.4h-1.4zM210 290h1.4v1.4h-1.4zM205 286h1.4v1.4h-1.4zM214 310h1.4v1.4h-1.4zM212 311h1.4v1.4h-1.4zM210 311h1.4v1.4h-1.4zM209 297h1.4v1.4h-1.4zM206 310h1.4v1.4h-1.4zM208 292h1.4v1.4h-1.4zM209 275h1.4v1.4h-1.4zM213 299h1.4v1.4h-1.4zM211 288h1.4v1.4h-1.4zM214 301h1.4v1.4h-1.4zM206 278h1.4v1.4h-1.4zM210 298h1.4v1.4h-1.4z"/>
<path fill="#969696" d="M90 198h1.5v1.5h-1.5zM94 193h1.5v1.5h-1.5zM85 194h1.5v1.5h-1.5zM86 199h1.5v1.5h-1.5zM75 186h1.5v1.5h-1.5zM102 212h1.5v1.5h-1.5zM79 201h1.5v1.5h-1.5zM83 192h1.5v1.5h-1.5zM102 212h1.5v1.5h-1.5zM97 206h1.5v1.5h-1.5zM85 186h1.5v1.5h-1.5zM85 193h1.5v1.5h-1.5zM97 209h1.5v1.5h-1.5zM90 202h1.5v1.5h-1.5zM78 196h1.5v1.5h-1.5zM84 207h1.5v1.5h-1.5zM93 201h1.5v1.5h-1.5zM83 191h1.5v1.5h-1.5zM100 206h1.5v1.5h-1.5zM84 209h1.5v1.5h-1.5zM83 193h1.5v1.5h-1.5zM94 203h1.5v1.5h-1.5zM93 215h1.5v1.5h-1.5zM73 183h1.5v1.5h-1.5zM85 186h1.5v1.5h-1.5zM97 215h1.5v1.5h-1.5zM83 177h1.5v1.5h-1.5zM92 202h1.5v1.5h-1.5zM97 193h1.5v1.5h-1.5zM82 189h1.5v1.5h-1.5zM93 197h1.5v1.5h-1.5zM87 199h1.5v1.5h-1.5zM84 194h1.5v1.5h-1.5zM84 192h1.5v1.5h-1.5zM93 184h1.5v1.5h-1.5zM85 197h1.5v1.5h-1.5zM88 197h1.5v1.5h-1.5zM77 191h1.5v1.5h-1.5zM93 189h1.5v1.5h-1.5zM84 208h1.5v1.5h-1.5zM88 188h1.5v1.5h-1.5zM82 192h1.5v1.5h-1.5zM79 199h1.5v1.5h-1.5zM105 210h1.5v1.5h-1.5zM84 207h1.5v1.5h-1.5zM96 200h1.5v1.5h-1.5zM86 195h1.5v1.5h-1.5zM86 189h1.5v1.5h-1.5zM89 208h1.5v1.5h-1.5zM86 196h1.5v1.5h-1.5zM88 199h1.5v1.5h-1.5zM85 196h1.5v1.5h-1.5zM82 188h1.5v1.5h-1.5zM92 195h1.5v1.5h-1.5zM98 212h1.5v1.5h-1.5zM93 196h1.5v1.5h-1.5zM90 195h1.5v1.5h-1.5zM85 195h1.5v1.5h-1.5zM82 192h1.5v1.5h-1.5zM88 214h1.5v1.5h-1.5zM81 184h1.5v1.5h-1.5zM80 199h1.5v1.5h-1.5zM101 206h1.5v1.5h-1.5zM83 202h1.5v1.5h-1.5zM83 188h1.5v1.5h-1.5zM87 198h1.5v1.5h-1.5zM92 214h1.5v1.5h-1.5zM99 206h1.5v1.5h-1.5zM82 186h1.5v1.5h-1.5zM80 185h1.5v1.5h-1.5zM82 183h1.5v1.5h-1.5zM85 193h1.5v1.5h-1.5zM85 177h1.5v1.5h-1.5zM97 210h1.5v1.5h-1.5zM82 192h1.5v1.5h-1.5zM79 185h1.5v1.5h-1.5zM86 186h1.5v1.5h-1.5zM79 190h1.5v1.5h-1.5zM85 191h1.5v1.5h-1.5zM91 210h1.5v1.5h-1.5zM84 207h1.5v1.5h-1.5zM93 195h1.5v1.5h-1.5zM84 194h1.5v1.5h-1.5zM91 202h1.5v1.5h-1.5zM83 199h1.5v1.5h-1.5zM88 192h1.5v1.5h-1.5zM84 199h1.5v1.5h-1.5zM90 198h1.5v1.5h-1.5zM84 195h1.5v1.5h-1.5zM80 205h1.5v1.5h-1.5zM91 180h1.5v1.5h-1.5zM90 210h1.5v1.5h-1.5zM84 190h1.5v1.5h-1.5zM89 201h1.5v1.5h-1.5zM73 184h1.5v1.5h-1.5zM92 198h1.5v1.5h-1.5zM98 196h1.5v1.5h-1.5zM85 194h1.5v1.5h-1.5zM83 177h1.5v1.5h-1.5zM90 195h1.5v1.5h-1.5zM99 200h1.5v1.5h-1.5zM88 203h1.5v1.5h-1.5zM80 191h1.5v1.5h-1.5zM78 196h1.5v1.5h-1.5zM90 196h1.5v1.5h-1.5zM101 210h1.5v1.5h-1.5zM84 205h1.5v1.5h-1.5zM82 188h1.5v1.5h-1.5zM89 200h1.5v1.5h-1.5zM85 200h1.5v1.5h-1.5zM78 184h1.5v1.5h-1.5zM85 196h1.5v1.5h-1.5zM86 199h1.5v1.5h-1.5zM81 197h1.5v1.5h-1.5zM82 197h1.5v1.5h-1.5zM91 193h1.5v1.5h-1.5zM92 206h1.5v1.5h-1.5zM82 188h1.5v1.5h-1.5zM83 183h1.5v1.5h-1.5zM86 201h1.5v1.5h-1.5zM83 191h1.5v1.5h-1.5zM87 201h1.5v1.5h-1.5zM97 203h1.5v1.5h-1.5zM77 197h1.5v1.5h-1.5zM86 196h1.5v1.5h-1.5zM95 206h1.5v1.5h-1.5zM81 189h1.5v1.5h-1.5zM84 195h1.5v1.5h-1.5zM93 199h1.5v1.5h-1.5zM86 201h1.5v1.5h-1.5zM92 190h1.5v1.5h-1.5zM90 189h1.5v1.5h-1.5zM89 181h1.5v1.5h-1.5zM91 198h1.5v1.5h-1.5zM91 200h1.5v1.5h-1.5zM81 191h1.5v1.5h-1.5zM78 196h1.5v1.5h-1.5zM94 197h1.5v1.5h-1.5zM72 184h1.5v1.5h-1.5zM95 212h1.5v1.5h-1.5zM83 188h1.5v1.5h-1.5zM93 207h1.5v1.5h-1.5zM87 197h1.5v1.5h-1.5zM82 186h1.5v1.5h-1.5zM95 205h1.5v1.5h-1.5zM85 195h1.5v1.5h-1.5zM98 204h1.5v1.5h-1.5zM87 192h1.5v1.5h-1.5zM85 198h1.5v1.5h-1.5zM89 185h1.5v1.5h-1.5zM92 203h1.5v1.5h-1.5zM83 191h1.5v1.5h-1.5zM79 196h1.5v1.5h-1.5zM86 202h1.5v1.5h-1.5zM87 206h1.5v1.5h-1.5zM99 196h1.5v1.5h-1.5zM92 196h1.5v1.5h-1.5zM87 191h1.5v1.5h-1.5zM88 206h1.5v1.5h-1.5zM88 211h1.5v1.5h-1.5zM95 198h1.5v1.5h-1.5zM84 202h1.5v1.5h-1.5zM88 193h1.5v1.5h-1.5zM85 196h1.5v1.5h-1.5zM78 194h1.5v1.5h-1.5zM98 199h1.5v1.5h-1.5zM86 210h1.5v1.5h-1.5zM91 195h1.5v1.5h-1.5zM92 207h1.5v1.5h-1.5zM88 205h1.5v1.5h-1.5zM88 200h1.5v1.5h-1.5zM86 193h1.5v1.5h-1.5zM89 199h1.5v1.5h-1.5zM91 194h1.5v1.5h-1.5zM87 181h1.5v1.5h-1.5zM89 192h1.5v1.5h-1.5zM79 189h1.5v1.5h-1.5zM88 183h1.5v1.5h-1.5zM89 199h1.5v1.5h-1.5zM96 197h1.5v1.5h-1.5zM85 205h1.5v1.5h-1.5zM85 196h1.5v1.5h-1.5zM94 191h1.5v1.5h-1.5zM93 208h1.5v1.5h-1.5zM78 202h1.5v1.5h-1.5zM90 204h1.5v1.5h-1.5zM99 195h1.5v1.5h-1.5zM75 196h1.5v1.5h-1.5zM81 199h1.5v1.5h-1.5zM92 183h1.5v1.5h-1.5zM87 203h1.5v1.5h-1.5zM93 202h1.5v1.5h-1.5zM87 187h1.5v1.5h-1.5zM88 196h1.5v1.5h-1.5zM89 200h1.5v1.5h-1.5zM90 204h1.5v1.5h-1.5zM92 218h1.5v1.5h-1.5zM78 194h1.5v1.5h-1.5zM90 195h1.5v1.5h-1.5zM96 195h1.5v1.5h-1.5zM87 190h1.5v1.5h-1.5zM90 202h1.5v1.5h-1.5zM83 198h1.5v1.5h-1.5zM87 197h1.5v1.5h-1.5zM81 181h1.5v1.5h-1.5zM84 194h1.5v1.5h-1.5zM94 200h1.5v1.5h-1.5zM80 198h1.5v1.5h-1.5zM87 193h1.5v1.5h-1.5zM91 211h1.5v1.5h-1.5zM94 199h1.5v1.5h-1.5zM93 203h1.5v1.5h-1.5zM91 213h1.5v1.5h-1.5zM89 207h1.5v1.5h-1.5zM91 201h1.5v1.5h-1.5zM92 192h1.5v1.5h-1.5zM82 185h1.5v1.5h-1.5zM83 205h1.5v1.5h-1.5zM97 206h1.5v1.5h-1.5zM98 199h1.5v1.5h-1.5zM95 192h1.5v1.5h-1.5zM87 185h1.5v1.5h-1.5zM85 192h1.5v1.5h-1.5zM85 202h1.5v1.5h-1.5zM93 189h1.5v1.5h-1.5zM86 198h1.5v1.5h-1.5zM88 187h1.5v1.5h-1.5zM91 207h1.5v1.5h-1.5zM91 197h1.5v1.5h-1.5zM83 198h1.5v1.5h-1.5zM83 186h1.5v1.5h-1.5zM98 193h1.5v1.5h-1.5zM83 206h1.5v1.5h-1.5zM85 190h1.5v1.5h-1.5zM88 200h1.5v1.5h-1.5zM88 201h1.5v1.5h-1.5zM97 200h1.5v1.5h-1.5zM95 205h1.5v1.5h-1.5zM77 182h1.5v1.5h-1.5zM85 190h1.5v1.5h-1.5zM87 185h1.5v1.5h-1.5zM85 188h1.5v1.5h-1.5zM78 194h1.5v1.5h-1.5zM78 195h1.5v1.5h-1.5zM97 206h1.5v1.5h-1.5zM85 195h1.5v1.5h-1.5zM79 181h1.5v1.5h-1.5zM96 192h1.5v1.5h-1.5zM90 197h1.5v1.5h-1.5zM79 186h1.5v1.5h-1.5zM95 206h1.5v1.5h-1.5zM89 183h1.5v1.5h-1.5zM91 194h1.5v1.5h-1.5zM99 195h1.5v1.5h-1.5zM86 183h1.5v1.5h-1.5zM87 202h1.5v1.5h-1.5zM82 190h1.5v1.5h-1.5zM89 201h1.5v1.5h-1.5zM88 196h1.5v1.5h-1.5zM76 190h1.5v1.5h-1.5zM92 206h1.5v1.5h-1.5zM88 197h1.5v1.5h-1.5zM88 195h1.5v1.5h-1.5zM88 197h1.5v1.5h-1.5zM79 199h1.5v1.5h-1.5zM86 200h1.5v1.5h-1.5zM85 203h1.5v1.5h-1.5zM84 198h1.5v1.5h-1.5zM85 178h1.5v1.5h-1.5zM93 210h1.5v1.5h-1.5zM93 210h1.5v1.5h-1.5zM87 202h1.5v1.5h-1.5zM93 203h1.5v1.5h-1.5zM87 183h1.5v1.5h-1.5zM86 214h1.5v1.5h-1.5zM70 187h1.5v1.5h-1.5zM77 191h1.5v1.5h-1.5zM98 214h1.5v1.5h-1.5zM82 187h1.5v1.5h-1.5zM91 208h1.5v1.5h-1.5zM101 210h1.5v1.5h-1.5zM98 207h1.5v1.5h-1.5zM90 193h1.5v1.5h-1.5zM85 193h1.5v1.5h-1.5zM88 186h1.5v1.5h-1.5zM92 212h1.5v1.5h-1.5zM78 180h1.5v1.5h-1.5zM82 204h1.5v1.5h-1.5zM91 200h1.5v1.5h-1.5zM85 189h1.5v1.5h-1.5zM88 192h1.5v1.5h-1.5zM96 198h1.5v1.5h-1.5zM85 199h1.5v1.5h-1.5zM87 196h1.5v1.5h-1.5zM97 206h1.5v1.5h-1.5zM96 211h1.5v1.5h-1.5zM84 206h1.5v1.5h-1.5zM96 200h1.5v1.5h-1.5zM91 200h1.5v1.5h-1.5zM79 203h1.5v1.5h-1.5z"/>
<path fill="#969696" d="M121 180h1.5v1.5h-1.5zM103 179h1.5v1.5h-1.5zM113 176h1.5v1.5h-1.5zM100 175h1.5v1.5h-1.5zM120 173h1.5v1.5h-1.5zM107 182h1.5v1.5h-1.5zM117 163h1.5v1.5h-1.5zM105 172h1.5v1.5h-1.5zM115 185h1.5v1.5h-1.5zM111 188h1.5v1.5h-1.5zM108 184h1.5v1.5h-1.5zM110 183h1.5v1.5h-1.5zM118 183h1.5v1.5h-1.5zM117 176h1.5v1.5h-1.5zM109 176h1.5v1.5h-1.5zM114 186h1.5v1.5h-1.5zM115 170h1.5v1.5h-1.5zM108 172h1.5v1.5h-1.5zM96 165h1.5v1.5h-1.5zM107 186h1.5v1.5h-1.5zM104 190h1.5v1.5h-1.5zM101 173h1.5v1.5h-1.5zM114 177h1.5v1.5h-1.5zM102 171h1.5v1.5h-1.5zM118 167h1.5v1.5h-1.5zM120 166h1.5v1.5h-1.5zM122 180h1.5v1.5h-1.5zM119 188h1.5v1.5h-1.5zM113 172h1.5v1.5h-1.5zM105 170h1.5v1.5h-1.5zM115 176h1.5v1.5h-1.5zM112 171h1.5v1.5h-1.5zM110 174h1.5v1.5h-1.5zM103 176h1.5v1.5h-1.5zM112 171h1.5v1.5h-1.5zM116 179h1.5v1.5h-1.5zM109 169h1.5v1.5h-1.5zM114 176h1.5v1.5h-1.5zM109 184h1.5v1.5h-1.5zM106 173h1.5v1.5h-1.5zM101 171h1.5v1.5h-1.5zM106 187h1.5v1.5h-1.5zM99 172h1.5v1.5h-1.5zM116 180h1.5v1.5h-1.5zM101 173h1.5v1.5h-1.5zM108 171h1.5v1.5h-1.5zM112 180h1.5v1.5h-1.5zM115 190h1.5v1.5h-1.5zM108 192h1.5v1.5h-1.5zM110 176h1.5v1.5h-1.5zM123 179h1.5v1.5h-1.5zM102 178h1.5v1.5h-1.5zM106 177h1.5v1.5h-1.5zM107 182h1.5v1.5h-1.5zM104 184h1.5v1.5h-1.5zM100 171h1.5v1.5h-1.5zM110 175h1.5v1.5h-1.5zM100 184h1.5v1.5h-1.5zM107 188h1.5v1.5h-1.5zM115 176h1.5v1.5h-1.5zM103 183h1.5v1.5h-1.5zM99 185h1.5v1.5h-1.5zM119 176h1.5v1.5h-1.5zM109 173h1.5v1.5h-1.5zM117 167h1.5v1.5h-1.5zM110 173h1.5v1.5h-1.5zM113 171h1.5v1.5h-1.5zM106 184h1.5v1.5h-1.5zM119 173h1.5v1.5h-1.5zM102 176h1.5v1.5h-1.5zM114 184h1.5v1.5h-1.5zM95 184h1.5v1.5h-1.5zM104 175h1.5v1.5h-1.5zM110 179h1.5v1.5h-1.5zM109 173h1.5v1.5h-1.5zM116 172h1.5v1.5h-1.5zM107 178h1.5v1.5h-1.5zM113 179h1.5v1.5h-1.5zM108 184h1.5v1.5h-1.5zM116 168h1.5v1.5h-1.5zM121 165h1.5v1.5h-1.5zM102 176h1.5v1.5h-1.5zM111 179h1.5v1.5h-1.5zM106 170h1.5v1.5h-1.5zM111 186h1.5v1.5h-1.5zM104 164h1.5v1.5h-1.5zM103 169h1.5v1.5h-1.5zM102 188h1.5v1.5h-1.5zM111 181h1.5v1.5h-1.5zM107 179h1.5v1.5h-1.5zM107 170h1.5v1.5h-1.5zM109 171h1.5v1.5h-1.5zM107 182h1.5v1.5h-1.5zM100 185h1.5v1.5h-1.5zM109 186h1.5v1.5h-1.5zM110 170h1.5v1.5h-1.5zM117 169h1.5v1.5h-1.5zM110 180h1.5v1.5h-1.5zM109 169h1.5v1.5h-1.5zM109 187h1.5v1.5h-1.5zM122 181h1.5v1.5h-1.5zM99 171h1.5v1.5h-1.5zM115 171h1.5v1.5h-1.5zM112 176h1.5v1.5h-1.5zM101 176h1.5v1.5h-1.5zM101 176h1.5v1.5h-1.5zM103 177h1.5v1.5h-1.5zM107 187h1.5v1.5h-1.5zM103 178h1.5v1.5h-1.5zM105 177h1.5v1.5h-1.5zM109 188h1.5v1.5h-1.5zM108 179h1.5v1.5h-1.5zM118 169h1.5v1.5h-1.5zM114 172h1.5v1.5h-1.5zM105 175h1.5v1.5h-1.5zM113 173h1.5v1.5h-1.5zM108 173h1.5v1.5h-1.5zM102 180h1.5v1.5h-1.5zM111 169h1.5v1.5h-1.5zM109 174h1.5v1.5h-1.5zM116 176h1.5v1.5h-1.5zM104 188h1.5v1.5h-1.5zM106 192h1.5v1.5h-1.5zM115 170h1.5v1.5h-1.5zM108 192h1.5v1.5h-1.5zM111 168h1.5v1.5h-1.5zM107 169h1.5v1.5h-1.5zM110 175h1.5v1.5h-1.5zM106 179h1.5v1.5h-1.5zM113 179h1.5v1.5h-1.5zM107 182h1.5v1.5h-1.5zM114 184h1.5v1.5h-1.5zM107 183h1.5v1.5h-1.5zM106 180h1.5v1.5h-1.5zM108 169h1.5v1.5h-1.5zM113 173h1.5v1.5h-1.5zM110 187h1.5v1.5h-1.5zM102 172h1.5v1.5h-1.5zM114 181h1.5v1.5h-1.5zM118 173h1.5v1.5h-1.5zM123 176h1.5v1.5h-1.5zM111 182h1.5v1.5h-1.5zM108 179h1.5v1.5h-1.5zM100 171h1.5v1.5h-1.5zM116 170h1.5v1.5h-1.5zM108 174h1.5v1.5h-1.5zM117 185h1.5v1.5h-1.5zM111 178h1.5v1.5h-1.5zM109 184h1.5v1.5h-1.5zM113 181h1.5v1.5h-1.5zM112 168h1.5v1.5h-1.5zM101 190h1.5v1.5h-1.5zM107 184h1.5v1.5h-1.5zM112 174h1.5v1.5h-1.5zM115 184h1.5v1.5h-1.5zM117 185h1.5v1.5h-1.5zM108 172h1.5v1.5h-1.5zM113 171h1.5v1.5h-1.5zM109 175h1.5v1.5h-1.5zM109 180h1.5v1.5h-1.5zM105 190h1.5v1.5h-1.5zM95 172h1.5v1.5h-1.5zM108 171h1.5v1.5h-1.5zM103 181h1.5v1.5h-1.5zM108 175h1.5v1.5h-1.5zM107 175h1.5v1.5h-1.5zM116 175h1.5v1.5h-1.5zM98 186h1.5v1.5h-1.5zM104 183h1.5v1.5h-1.5zM107 174h1.5v1.5h-1.5zM113 172h1.5v1.5h-1.5zM95 173h1.5v1.5h-1.5zM112 175h1.5v1.5h-1.5zM115 176h1.5v1.5h-1.5zM109 175h1.5v1.5h-1.5zM119 175h1.5v1.5h-1.5zM124 182h1.5v1.5h-1.5zM97 187h1.5v1.5h-1.5zM100 187h1.5v1.5h-1.5zM122 168h1.5v1.5h-1.5zM104 167h1.5v1.5h-1.5zM112 179h1.5v1.5h-1.5zM113 170h1.5v1.5h-1.5zM108 184h1.5v1.5h-1.5zM104 170h1.5v1.5h-1.5zM105 166h1.5v1.5h-1.5zM105 184h1.5v1.5h-1.5zM124 181h1.5v1.5h-1.5zM119 175h1.5v1.5h-1.5zM102 180h1.5v1.5h-1.5zM110 172h1.5v1.5h-1.5zM104 183h1.5v1.5h-1.5zM115 192h1.5v1.5h-1.5zM107 185h1.5v1.5h-1.5zM117 177h1.5v1.5h-1.5zM109 179h1.5v1.5h-1.5zM109 164h1.5v1.5h-1.5zM118 178h1.5v1.5h-1.5zM104 172h1.5v1.5h-1.5zM100 178h1.5v1.5h-1.5zM116 177h1.5v1.5h-1.5zM117 165h1.5v1.5h-1.5zM103 177h1.5v1.5h-1.5zM115 173h1.5v1.5h-1.5zM107 179h1.5v1.5h-1.5zM108 169h1.5v1.5h-1.5zM116 178h1.5v1.5h-1.5zM97 183h1.5v1.5h-1.5zM109 181h1.5v1.5h-1.5zM114 169h1.5v1.5h-1.5zM117 163h1.5v1.5h-1.5zM110 175h1.5v1.5h-1.5zM124 175h1.5v1.5h-1.5zM106 173h1.5v1.5h-1.5zM101 177h1.5v1.5h-1.5zM112 188h1.5v1.5h-1.5zM117 182h1.5v1.5h-1.5zM105 174h1.5v1.5h-1.5zM108 180h1.5v1.5h-1.5zM101 181h1.5v1.5h-1.5zM124 177h1.5v1.5h-1.5zM124 174h1.5v1.5h-1.5zM113 181h1.5v1.5h-1.5zM101 182h1.5v1.5h-1.5zM100 163h1.5v1.5h-1.5zM106 174h1.5v1.5h-1.5zM105 177h1.5v1.5h-1.5zM117 178h1.5v1.5h-1.5zM98 178h1.5v1.5h-1.5zM104 179h1.5v1.5h-1.5zM107 188h1.5v1.5h-1.5zM113 186h1.5v1.5h-1.5zM105 174h1.5v1.5h-1.5zM113 182h1.5v1.5h-1.5zM121 179h1.5v1.5h-1.5zM111 173h1.5v1.5h-1.5zM109 180h1.5v1.5h-1.5zM108 168h1.5v1.5h-1.5zM96 176h1.5v1.5h-1.5zM106 176h1.5v1.5h-1.5zM109 179h1.5v1.5h-1.5zM116 172h1.5v1.5h-1.5zM114 175h1.5v1.5h-1.5zM103 175h1.5v1.5h-1.5zM111 167h1.5v1.5h-1.5zM108 179h1.5v1.5h-1.5zM116 187h1.5v1.5h-1.5zM99 179h1.5v1.5h-1.5zM111 179h1.5v1.5h-1.5zM109 177h1.5v1.5h-1.5zM103 177h1.5v1.5h-1.5zM106 186h1.5v1.5h-1.5zM119 179h1.5v1.5h-1.5zM113 173h1.5v1.5h-1.5zM108 177h1.5v1.5h-1.5zM107 175h1.5v1.5h-1.5zM109 178h1.5v1.5h-1.5zM114 179h1.5v1.5h-1.5zM102 172h1.5v1.5h-1.5zM102 185h1.5v1.5h-1.5zM121 184h1.5v1.5h-1.5zM114 183h1.5v1.5h-1.5zM121 169h1.5v1.5h-1.5zM112 179h1.5v1.5h-1.5zM115 188h1.5v1.5h-1.5zM111 180h1.5v1.5h-1.5zM111 182h1.5v1.5h-1.5zM100 178h1.5v1.5h-1.5zM106 180h1.5v1.5h-1.5zM115 178h1.5v1.5h-1.5zM119 180h1.5v1.5h-1.5zM108 179h1.5v1.5h-1.5zM109 184h1.5v1.5h-1.5zM116 174h1.5v1.5h-1.5zM101 181h1.5v1.5h-1.5zM107 177h1.5v1.5h-1.5zM119 174h1.5v1.5h-1.5zM104 177h1.5v1.5h-1.5zM112 177h1.5v1.5h-1.5zM112 183h1.5v1.5h-1.5zM101 166h1.5v1.5h-1.5zM118 177h1.5v1.5h-1.5zM105 179h1.5v1.5h-1.5zM103 189h1.5v1.5h-1.5zM113 170h1.5v1.5h-1.5zM112 174h1.5v1.5h-1.5zM113 171h1.5v1.5h-1.5zM119 183h1.5v1.5h-1.5zM103 180h1.5v1.5h-1.5zM103 175h1.5v1.5h-1.5zM121 175h1.5v1.5h-1.5zM108 185h1.5v1.5h-1.5zM114 178h1.5v1.5h-1.5zM110 178h1.5v1.5h-1.5zM114 189h1.5v1.5h-1.5zM110 184h1.5v1.5h-1.5zM111 178h1.5v1.5h-1.5zM100 168h1.5v1.5h-1.5zM112 175h1.5v1.5h-1.5zM98 168h1.5v1.5h-1.5z"/>
<path fill="#969696" d="M167 201h1.5v1.5h-1.5zM178 209h1.5v1.5h-1.5zM179 201h1.5v1.5h-1.5zM180 199h1.5v1.5h-1.5zM174 210h1.5v1.5h-1.5zM170 200h1.5v1.5h-1.5zM165 200h1.5v1.5h-1.5zM167 203h1.5v1.5h-1.5zM174 206h1.5v1.5h-1.5zM184 205h1.5v1.5h-1.5zM174 195h1.5v1.5h-1.5zM171 215h1.5v1.5h-1.5zM170 206h1.5v1.5h-1.5zM176 200h1.5v1.5h-1.5zM166 204h1.5v1.5h-1.5zM165 196h1.5v1.5h-1.5zM162 210h1.5v1.5h-1.5zM159 204h1.5v1.5h-1.5zM179 195h1.5v1.5h-1.5zM168 206h1.5v1.5h-1.5zM161 199h1.5v1.5h-1.5zM163 200h1.5v1.5h-1.5zM173 213h1.5v1.5h-1.5zM169 199h1.5v1.5h-1.5zM166 192h1.5v1.5h-1.5zM181 201h1.5v1.5h-1.5zM170 202h1.5v1.5h-1.5zM169 205h1.5v1.5h-1.5zM171 211h1.5v1.5h-1.5zM169 203h1.5v1.5h-1.5zM177 200h1.5v1.5h-1.5zM169 206h1.5v1.5h-1.5zM176 205h1.5v1.5h-1.5zM166 197h1.5v1.5h-1.5zM161 195h1.5v1.5h-1.5zM173 202h1.5v1.5h-1.5zM168 199h1.5v1.5h-1.5zM182 204h1.5v1.5h-1.5zM181 193h1.5v1.5h-1.5zM159 199h1.5v1.5h-1.5zM187 214h1.5v1.5h-1.5zM176 196h1.5v1.5h-1.5zM182 206h1.5v1.5h-1.5zM167 204h1.5v1.5h-1.5zM178 209h1.5v1.5h-1.5zM177 215h1.5v1.5h-1.5zM166 201h1.5v1.5h-1.5zM165 206h1.5v1.5h-1.5zM178 201h1.5v1.5h-1.5zM178 199h1.5v1.5h-1.5zM179 218h1.5v1.5h-1.5zM173 198h1.5v1.5h-1.5zM168 194h1.5v1.5h-1.5zM179 194h1.5v1.5h-1.5zM180 205h1.5v1.5h-1.5zM167 211h1.5v1.5h-1.5zM176 208h1.5v1.5h-1.5zM172 201h1.5v1.5h-1.5zM168 199h1.5v1.5h-1.5zM163 186h1.5v1.5h-1.5zM175 186h1.5v1.5h-1.5zM167 200h1.5v1.5h-1.5zM170 206h1.5v1.5h-1.5zM180 197h1.5v1.5h-1.5zM168 213h1.5v1.5h-1.5zM174 206h1.5v1.5h-1.5zM167 215h1.5v1.5h-1.5zM172 193h1.5v1.5h-1.5zM180 198h1.5v1.5h-1.5zM164 191h1.5v1.5h-1.5zM169 210h1.5v1.5h-1.5zM180 213h1.5v1.5h-1.5zM173 198h1.5v1.5h-1.5zM175 208h1.5v1.5h-1.5zM158 197h1.5v1.5h-1.5zM175 219h1.5v1.5h-1.5zM178 204h1.5v1.5h-1.5zM162 199h1.5v1.5h-1.5zM186 209h1.5v1.5h-1.5zM173 209h1.5v1.5h-1.5zM187 201h1.5v1.5h-1.5zM170 208h1.5v1.5h-1.5zM173 196h1.5v1.5h-1.5zM168 210h1.5v1.5h-1.5zM168 198h1.5v1.5h-1.5zM179 193h1.5v1.5h-1.5zM171 190h1.5v1.5h-1.5zM175 197h1.5v1.5h-1.5zM163 216h1.5v1.5h-1.5zM172 207h1.5v1.5h-1.5zM179 202h1.5v1.5h-1.5zM175 205h1.5v1.5h-1.5zM175 205h1.5v1.5h-1.5zM166 195h1.5v1.5h-1.5zM168 211h1.5v1.5h-1.5zM173 197h1.5v1.5h-1.5zM181 209h1.5v1.5h-1.5zM164 205h1.5v1.5h-1.5zM174 200h1.5v1.5h-1.5zM172 188h1.5v1.5h-1.5zM166 201h1.5v1.5h-1.5zM175 192h1.5v1.5h-1.5zM169 186h1.5v1.5h-1.5zM182 202h1.5v1.5h-1.5zM180 202h1.5v1.5h-1.5zM170 213h1.5v1.5h-1.5zM182 207h1.5v1.5h-1.5zM187 208h1.5v1.5h-1.5zM175 201h1.5v1.5h-1.5zM176 221h1.5v1.5h-1.5zM168 207h1.5v1.5h-1.5zM169 197h1.5v1.5h-1.5zM167 218h1.5v1.5h-1.5zM187 213h1.5v1.5h-1.5zM171 214h1.5v1.5h-1.5zM187 204h1.5v1.5h-1.5zM179 213h1.5v1.5h-1.5zM170 204h1.5v1.5h-1.5zM170 196h1.5v1.5h-1.5zM183 200h1.5v1.5h-1.5zM179 186h1.5v1.5h-1.5zM183 217h1.5v1.5h-1.5zM172 214h1.5v1.5h-1.5zM175 198h1.5v1.5h-1.5zM166 193h1.5v1.5h-1.5zM158 196h1.5v1.5h-1.5zM173 201h1.5v1.5h-1.5zM176 197h1.5v1.5h-1.5zM175 208h1.5v1.5h-1.5zM162 218h1.5v1.5h-1.5zM169 210h1.5v1.5h-1.5zM178 220h1.5v1.5h-1.5zM181 213h1.5v1.5h-1.5zM174 200h1.5v1.5h-1.5zM178 204h1.5v1.5h-1.5zM174 208h1.5v1.5h-1.5zM165 204h1.5v1.5h-1.5zM170 206h1.5v1.5h-1.5zM167 206h1.5v1.5h-1.5zM168 200h1.5v1.5h-1.5zM179 208h1.5v1.5h-1.5zM182 214h1.5v1.5h-1.5zM170 198h1.5v1.5h-1.5zM168 207h1.5v1.5h-1.5zM178 208h1.5v1.5h-1.5zM174 199h1.5v1.5h-1.5zM172 209h1.5v1.5h-1.5zM173 202h1.5v1.5h-1.5zM168 202h1.5v1.5h-1.5zM164 191h1.5v1.5h-1.5zM176 210h1.5v1.5h-1.5zM163 206h1.5v1.5h-1.5zM180 211h1.5v1.5h-1.5zM169 211h1.5v1.5h-1.5zM172 205h1.5v1.5h-1.5zM174 196h1.5v1.5h-1.5zM165 204h1.5v1.5h-1.5zM168 207h1.5v1.5h-1.5zM177 186h1.5v1.5h-1.5zM171 217h1.5v1.5h-1.5zM187 210h1.5v1.5h-1.5zM167 199h1.5v1.5h-1.5zM169 193h1.5v1.5h-1.5zM167 208h1.5v1.5h-1.5zM160 208h1.5v1.5h-1.5zM176 218h1.5v1.5h-1.5zM172 209h1.5v1.5h-1.5zM158 193h1.5v1.5h-1.5zM161 206h1.5v1.5h-1.5zM183 198h1.5v1.5h-1.5zM173 197h1.5v1.5h-1.5zM164 207h1.5v1.5h-1.5zM173 200h1.5v1.5h-1.5zM172 199h1.5v1.5h-1.5zM164 203h1.5v1.5h-1.5zM179 186h1.5v1.5h-1.5zM187 211h1.5v1.5h-1.5zM166 218h1.5v1.5h-1.5zM169 201h1.5v1.5h-1.5zM170 206h1.5v1.5h-1.5zM170 209h1.5v1.5h-1.5zM187 199h1.5v1.5h-1.5zM176 201h1.5v1.5h-1.5zM167 214h1.5v1.5h-1.5zM165 195h1.5v1.5h-1.5zM167 203h1.5v1.5h-1.5zM164 207h1.5v1.5h-1.5zM166 211h1.5v1.5h-1.5zM178 209h1.5v1.5h-1.5zM166 201h1.5v1.5h-1.5zM163 211h1.5v1.5h-1.5zM174 199h1.5v1.5h-1.5zM180 208h1.5v1.5h-1.5zM187 187h1.5v1.5h-1.5zM166 206h1.5v1.5h-1.5zM174 206h1.5v1.5h-1.5zM173 198h1.5v1.5h-1.5zM172 205h1.5v1.5h-1.5zM172 201h1.5v1.5h-1.5zM178 194h1.5v1.5h-1.5zM178 206h1.5v1.5h-1.5zM175 193h1.5v1.5h-1.5zM173 200h1.5v1.5h-1.5zM180 202h1.5v1.5h-1.5zM172 188h1.5v1.5h-1.5zM160 186h1.5v1.5h-1.5zM177 186h1.5v1.5h-1.5zM175 213h1.5v1.5h-1.5zM170 212h1.5v1.5h-1.5zM158 211h1.5v1.5h-1.5zM169 209h1.5v1.5h-1.5zM174 197h1.5v1.5h-1.5zM172 213h1.5v1.5h-1.5zM176 217h1.5v1.5h-1.5zM160 210h1.5v1.5h-1.5zM169 217h1.5v1.5h-1.5zM170 203h1.5v1.5h-1.5zM177 187h1.5v1.5h-1.5zM163 208h1.5v1.5h-1.5zM176 212h1.5v1.5h-1.5zM184 202h1.5v1.5h-1.5zM177 207h1.5v1.5h-1.5zM173 208h1.5v1.5h-1.5zM165 200h1.5v1.5h-1.5zM179 199h1.5v1.5h-1.5zM182 196h1.5v1.5h-1.5zM165 207h1.5v1.5h-1.5zM172 221h1.5v1.5h-1.5zM165 199h1.5v1.5h-1.5zM176 187h1.5v1.5h-1.5zM163 206h1.5v1.5h-1.5zM173 208h1.5v1.5h-1.5zM178 194h1.5v1.5h-1.5zM169 207h1.5v1.5h-1.5zM168 196h1.5v1.5h-1.5zM176 186h1.5v1.5h-1.5zM171 203h1.5v1.5h-1.5zM166 194h1.5v1.5h-1.5zM185 205h1.5v1.5h-1.5zM177 192h1.5v1.5h-1.5zM164 211h1.5v1.5h-1.5zM178 204h1.5v1.5h-1.5zM181 196h1.5v1.5h-1.5zM171 197h1.5v1.5h-1.5zM177 197h1.5v1.5h-1.5zM187 205h1.5v1.5h-1.5zM174 196h1.5v1.5h-1.5zM165 205h1.5v1.5h-1.5zM171 188h1.5v1.5h-1.5zM183 192h1.5v1.5h-1.5zM185 210h1.5v1.5h-1.5zM187 190h1.5v1.5h-1.5zM170 215h1.5v1.5h-1.5zM179 200h1.5v1.5h-1.5zM167 199h1.5v1.5h-1.5zM175 210h1.5v1.5h-1.5zM167 187h1.5v1.5h-1.5zM175 198h1.5v1.5h-1.5zM182 209h1.5v1.5h-1.5zM184 195h1.5v1.5h-1.5zM168 203h1.5v1.5h-1.5zM170 199h1.5v1.5h-1.5zM167 201h1.5v1.5h-1.5zM166 208h1.5v1.5h-1.5zM173 203h1.5v1.5h-1.5zM180 218h1.5v1.5h-1.5zM171 195h1.5v1.5h-1.5zM170 212h1.5v1.5h-1.5zM166 208h1.5v1.5h-1.5zM169 204h1.5v1.5h-1.5zM187 211h1.5v1.5h-1.5zM172 215h1.5v1.5h-1.5zM162 210h1.5v1.5h-1.5zM187 208h1.5v1.5h-1.5zM162 199h1.5v1.5h-1.5zM170 206h1.5v1.5h-1.5zM173 207h1.5v1.5h-1.5zM168 210h1.5v1.5h-1.5zM165 199h1.5v1.5h-1.5zM163 188h1.5v1.5h-1.5zM170 190h1.5v1.5h-1.5zM164 204h1.5v1.5h-1.5zM176 201h1.5v1.5h-1.5zM177 203h1.5v1.5h-1.5zM162 205h1.5v1.5h-1.5zM170 207h1.5v1.5h-1.5zM169 200h1.5v1.5h-1.5zM168 215h1.5v1.5h-1.5zM165 205h1.5v1.5h-1.5zM176 198h1.5v1.5h-1.5zM171 188h1.5v1.5h-1.5zM170 206h1.5v1.5h-1.5zM170 209h1.5v1.5h-1.5zM179 198h1.5v1.5h-1.5zM169 192h1.5v1.5h-1.5zM173 218h1.5v1.5h-1.5zM172 199h1.5v1.5h-1.5zM174 196h1.5v1.5h-1.5zM177 208h1.5v1.5h-1.5zM182 196h1.5v1.5h-1.5z"/>
<path fill="#969696" d="M165 241h1.5v1.5h-1.5zM170 234h1.5v1.5h-1.5zM174 242h1.5v1.5h-1.5zM178 232h1.5v1.5h-1.5zM157 240h1.5v1.5h-1.5zM164 249h1.5v1.5h-1.5zM153 228h1.5v1.5h-1.5zM163 244h1.5v1.5h-1.5zM167 237h1.5v1.5h-1.5zM173 241h1.5v1.5h-1.5zM168 237h1.5v1.5h-1.5zM167 226h1.5v1.5h-1.5zM160 239h1.5v1.5h-1.5zM170 240h1.5v1.5h-1.5zM154 223h1.5v1.5h-1.5zM165 246h1.5v1.5h-1.5zM166 240h1.5v1.5h-1.5zM170 239h1.5v1.5h-1.5zM151 245h1.5v1.5h-1.5zM161 235h1.5v1.5h-1.5zM183 248h1.5v1.5h-1.5zM151 227h1.5v1.5h-1.5zM151 247h1.5v1.5h-1.5zM166 231h1.5v1.5h-1.5zM163 231h1.5v1.5h-1.5zM144 241h1.5v1.5h-1.5zM156 225h1.5v1.5h-1.5zM158 242h1.5v1.5h-1.5zM164 243h1.5v1.5h-1.5zM179 240h1.5v1.5h-1.5zM155 247h1.5v1.5h-1.5zM156 243h1.5v1.5h-1.5zM154 235h1.5v1.5h-1.5zM155 231h1.5v1.5h-1.5zM164 242h1.5v1.5h-1.5zM149 251h1.5v1.5h-1.5zM165 234h1.5v1.5h-1.5zM165 228h1.5v1.5h-1.5zM147 222h1.5v1.5h-1.5zM165 238h1.5v1.5h-1.5zM158 230h1.5v1.5h-1.5zM148 235h1.5v1.5h-1.5zM174 244h1.5v1.5h-1.5zM163 240h1.5v1.5h-1.5zM167 244h1.5v1.5h-1.5zM167 238h1.5v1.5h-1.5zM170 238h1.5v1.5h-1.5zM180 249h1.5v1.5h-1.5zM153 242h1.5v1.5h-1.5zM162 239h1.5v1.5h-1.5zM170 235h1.5v1.5h-1.5zM166 237h1.5v1.5h-1.5zM152 240h1.5v1.5h-1.5zM149 238h1.5v1.5h-1.5zM154 225h1.5v1.5h-1.5zM161 240h1.5v1.5h-1.5zM174 231h1.5v1.5h-1.5zM159 237h1.5v1.5h-1.5zM146 231h1.5v1.5h-1.5zM160 247h1.5v1.5h-1.5zM168 235h1.5v1.5h-1.5zM179 251h1.5v1.5h-1.5zM172 247h1.5v1.5h-1.5zM158 237h1.5v1.5h-1.5zM177 222h1.5v1.5h-1.5zM179 225h1.5v1.5h-1.5zM166 247h1.5v1.5h-1.5zM144 235h1.5v1.5h-1.5zM145 240h1.5v1.5h-1.5zM165 232h1.5v1.5h-1.5zM150 240h1.5v1.5h-1.5zM162 232h1.5v1.5h-1.5zM158 235h1.5v1.5h-1.5zM173 241h1.5v1.5h-1.5zM163 233h1.5v1.5h-1.5zM149 239h1.5v1.5h-1.5zM155 222h1.5v1.5h-1.5zM166 233h1.5v1.5h-1.5zM146 244h1.5v1.5h-1.5zM152 229h1.5v1.5h-1.5zM171 244h1.5v1.5h-1.5zM156 240h1.5v1.5h-1.5zM161 235h1.5v1.5h-1.5zM153 222h1.5v1.5h-1.5zM164 238h1.5v1.5h-1.5zM169 234h1.5v1.5h-1.5zM176 232h1.5v1.5h-1.5zM164 235h1.5v1.5h-1.5zM152 241h1.5v1.5h-1.5zM165 236h1.5v1.5h-1.5zM152 229h1.5v1.5h-1.5zM172 246h1.5v1.5h-1.5zM152 244h1.5v1.5h-1.5zM172 239h1.5v1.5h-1.5zM173 247h1.5v1.5h-1.5zM143 246h1.5v1.5h-1.5zM158 240h1.5v1.5h-1.5zM155 240h1.5v1.5h-1.5zM183 241h1.5v1.5h-1.5zM152 233h1.5v1.5h-1.5zM159 247h1.5v1.5h-1.5zM173 227h1.5v1.5h-1.5zM156 231h1.5v1.5h-1.5zM151 243h1.5v1.5h-1.5zM172 241h1.5v1.5h-1.5zM159 239h1.5v1.5h-1.5zM163 251h1.5v1.5h-1.5zM163 241h1.5v1.5h-1.5zM177 239h1.5v1.5h-1.5zM156 234h1.5v1.5h-1.5zM162 243h1.5v1.5h-1.5zM169 231h1.5v1.5h-1.5zM163 231h1.5v1.5h-1.5zM161 222h1.5v1.5h-1.5zM172 232h1.5v1.5h-1.5zM141 239h1.5v1.5h-1.5zM165 238h1.5v1.5h-1.5zM163 229h1.5v1.5h-1.5zM166 242h1.5v1.5h-1.5zM156 236h1.5v1.5h-1.5zM183 242h1.5v1.5h-1.5zM183 240h1.5v1.5h-1.5zM149 245h1.5v1.5h-1.5zM163 241h1.5v1.5h-1.5zM166 245h1.5v1.5h-1.5zM175 229h1.5v1.5h-1.5zM153 236h1.5v1.5h-1.5zM171 242h1.5v1.5h-1.5zM166 244h1.5v1.5h-1.5zM157 237h1.5v1.5h-1.5zM157 237h1.5v1.5h-1.5zM160 235h1.5v1.5h-1.5zM143 226h1.5v1.5h-1.5zM163 241h1.5v1.5h-1.5zM156 244h1.5v1.5h-1.5zM163 241h1.5v1.5h-1.5zM161 236h1.5v1.5h-1.5zM164 242h1.5v1.5h-1.5zM172 229h1.5v1.5h-1.5zM169 228h1.5v1.5h-1.5zM176 242h1.5v1.5h-1.5zM167 247h1.5v1.5h-1.5zM155 242h1.5v1.5h-1.5zM160 242h1.5v1.5h-1.5zM155 226h1.5v1.5h-1.5zM156 227h1.5v1.5h-1.5zM160 226h1.5v1.5h-1.5zM163 237h1.5v1.5h-1.5zM181 238h1.5v1.5h-1.5zM159 230h1.5v1.5h-1.5zM157 227h1.5v1.5h-1.5zM155 244h1.5v1.5h-1.5zM156 240h1.5v1.5h-1.5zM162 234h1.5v1.5h-1.5zM183 230h1.5v1.5h-1.5zM160 243h1.5v1.5h-1.5zM147 236h1.5v1.5h-1.5zM178 239h1.5v1.5h-1.5zM171 228h1.5v1.5h-1.5zM155 236h1.5v1.5h-1.5zM148 245h1.5v1.5h-1.5zM163 238h1.5v1.5h-1.5zM149 250h1.5v1.5h-1.5zM164 247h1.5v1.5h-1.5zM182 238h1.5v1.5h-1.5zM153 236h1.5v1.5h-1.5zM183 240h1.5v1.5h-1.5zM149 239h1.5v1.5h-1.5zM167 238h1.5v1.5h-1.5zM159 245h1.5v1.5h-1.5zM179 236h1.5v1.5h-1.5zM170 233h1.5v1.5h-1.5zM157 233h1.5v1.5h-1.5zM172 245h1.5v1.5h-1.5zM169 249h1.5v1.5h-1.5zM164 225h1.5v1.5h-1.5zM158 240h1.5v1.5h-1.5zM151 223h1.5v1.5h-1.5zM183 232h1.5v1.5h-1.5zM159 247h1.5v1.5h-1.5zM180 236h1.5v1.5h-1.5zM148 237h1.5v1.5h-1.5zM154 233h1.5v1.5h-1.5zM177 233h1.5v1.5h-1.5zM170 239h1.5v1.5h-1.5zM139 231h1.5v1.5h-1.5zM154 238h1.5v1.5h-1.5zM164 244h1.5v1.5h-1.5zM170 231h1.5v1.5h-1.5zM152 229h1.5v1.5h-1.5zM182 247h1.5v1.5h-1.5zM167 236h1.5v1.5h-1.5zM150 226h1.5v1.5h-1.5zM142 237h1.5v1.5h-1.5zM151 235h1.5v1.5h-1.5zM142 237h1.5v1.5h-1.5zM158 237h1.5v1.5h-1.5zM160 245h1.5v1.5h-1.5zM167 222h1.5v1.5h-1.5zM139 222h1.5v1.5h-1.5zM169 251h1.5v1.5h-1.5zM162 240h1.5v1.5h-1.5zM160 227h1.5v1.5h-1.5zM176 237h1.5v1.5h-1.5zM139 233h1.5v1.5h-1.5zM161 233h1.5v1.5h-1.5zM162 226h1.5v1.5h-1.5zM163 241h1.5v1.5h-1.5zM140 231h1.5v1.5h-1.5zM149 239h1.5v1.5h-1.5zM165 237h1.5v1.5h-1.5zM171 233h1.5v1.5h-1.5zM169 229h1.5v1.5h-1.5zM175 227h1.5v1.5h-1.5zM153 232h1.5v1.5h-1.5zM162 227h1.5v1.5h-1.5zM169 239h1.5v1.5h-1.5zM157 238h1.5v1.5h-1.5zM159 229h1.5v1.5h-1.5zM154 240h1.5v1.5h-1.5zM163 251h1.5v1.5h-1.5zM153 233h1.5v1.5h-1.5zM150 239h1.5v1.5h-1.5zM175 237h1.5v1.5h-1.5zM155 230h1.5v1.5h-1.5zM157 235h1.5v1.5h-1.5zM154 231h1.5v1.5h-1.5zM156 235h1.5v1.5h-1.5zM161 242h1.5v1.5h-1.5zM144 232h1.5v1.5h-1.5zM156 230h1.5v1.5h-1.5zM177 238h1.5v1.5h-1.5zM143 238h1.5v1.5h-1.5zM154 230h1.5v1.5h-1.5zM149 229h1.5v1.5h-1.5zM149 225h1.5v1.5h-1.5zM169 233h1.5v1.5h-1.5zM166 232h1.5v1.5h-1.5zM165 229h1.5v1.5h-1.5zM167 222h1.5v1.5h-1.5zM151 237h1.5v1.5h-1.5zM159 222h1.5v1.5h-1.5zM164 224h1.5v1.5h-1.5zM173 232h1.5v1.5h-1.5zM166 233h1.5v1.5h-1.5zM155 244h1.5v1.5h-1.5zM150 235h1.5v1.5h-1.5zM152 229h1.5v1.5h-1.5zM158 240h1.5v1.5h-1.5zM170 235h1.5v1.5h-1.5zM156 237h1.5v1.5h-1.5zM157 244h1.5v1.5h-1.5zM167 248h1.5v1.5h-1.5zM174 235h1.5v1.5h-1.5zM165 238h1.5v1.5h-1.5zM157 226h1.5v1.5h-1.5zM150 231h1.5v1.5h-1.5zM171 237h1.5v1.5h-1.5zM170 224h1.5v1.5h-1.5zM171 237h1.5v1.5h-1.5zM151 230h1.5v1.5h-1.5zM167 241h1.5v1.5h-1.5zM172 241h1.5v1.5h-1.5zM169 237h1.5v1.5h-1.5zM144 227h1.5v1.5h-1.5zM152 234h1.5v1.5h-1.5zM157 222h1.5v1.5h-1.5zM156 222h1.5v1.5h-1.5zM170 235h1.5v1.5h-1.5zM156 230h1.5v1.5h-1.5zM166 233h1.5v1.5h-1.5zM168 228h1.5v1.5h-1.5zM162 231h1.5v1.5h-1.5zM169 240h1.5v1.5h-1.5zM164 234h1.5v1.5h-1.5zM166 244h1.5v1.5h-1.5zM145 237h1.5v1.5h-1.5zM160 240h1.5v1.5h-1.5zM152 237h1.5v1.5h-1.5zM163 235h1.5v1.5h-1.5zM178 244h1.5v1.5h-1.5zM155 237h1.5v1.5h-1.5zM154 227h1.5v1.5h-1.5zM155 246h1.5v1.5h-1.5zM163 230h1.5v1.5h-1.5zM158 247h1.5v1.5h-1.5zM151 243h1.5v1.5h-1.5zM169 246h1.5v1.5h-1.5zM143 238h1.5v1.5h-1.5zM181 238h1.5v1.5h-1.5zM154 239h1.5v1.5h-1.5zM183 241h1.5v1.5h-1.5zM151 232h1.5v1.5h-1.5zM175 238h1.5v1.5h-1.5zM167 232h1.5v1.5h-1.5zM162 238h1.5v1.5h-1.5zM147 232h1.5v1.5h-1.5zM168 246h1.5v1.5h-1.5zM152 227h1.5v1.5h-1.5zM145 240h1.5v1.5h-1.5zM165 249h1.5v1.5h-1.5zM182 249h1.5v1.5h-1.5zM142 231h1.5v1.5h-1.5zM175 234h1.5v1.5h-1.5zM169 238h1.5v1.5h-1.5zM161 234h1.5v1.5h-1.5zM151 236h1.5v1.5h-1.5zM163 239h1.5v1.5h-1.5zM165 231h1.5v1.5h-1.5zM183 237h1.5v1.5h-1.5zM155 226h1.5v1.5h-1.5zM152 244h1.5v1.5h-1.5zM147 235h1.5v1.5h-1.5zM168 239h1.5v1.5h-1.5zM162 230h1.5v1.5h-1.5zM168 227h1.5v1.5h-1.5zM166 227h1.5v1.5h-1.5zM164 238h1.5v1.5h-1.5zM166 234h1.5v1.5h-1.5zM164 234h1.5v1.5h-1.5zM172 234h1.5v1.5h-1.5zM151 227h1.5v1.5h-1.5zM169 232h1.5v1.5h-1.5zM162 236h1.5v1.5h-1.5zM169 234h1.5v1.5h-1.5zM152 242h1.5v1.5h-1.5zM176 234h1.5v1.5h-1.5zM183 242h1.5v1.5h-1.5zM170 242h1.5v1.5h-1.5zM139 236h1.5v1.5h-1.5zM172 235h1.5v1.5h-1.5zM150 239h1.5v1.5h-1.5zM146 238h1.5v1.5h-1.5zM173 230h1.5v1.5h-1.5zM170 228h1.5v1.5h-1.5zM183 247h1.5v1.5h-1.5zM155 241h1.5v1.5h-1.5zM166 234h1.5v1.5h-1.5zM154 248h1.5v1.5h-1.5zM150 232h1.5v1.5h-1.5zM170 237h1.5v1.5h-1.5zM179 235h1.5v1.5h-1.5zM171 229h1.5v1.5h-1.5zM157 225h1.5v1.5h-1.5zM161 250h1.5v1.5h-1.5zM169 240h1.5v1.5h-1.5zM148 235h1.5v1.5h-1.5zM158 242h1.5v1.5h-1.5zM172 233h1.5v1.5h-1.5zM158 233h1.5v1.5h-1.5zM164 236h1.5v1.5h-1.5zM160 240h1.5v1.5h-1.5zM176 244h1.5v1.5h-1.5zM179 231h1.5v1.5h-1.5zM167 241h1.5v1.5h-1.5zM158 251h1.5v1.5h-1.5zM141 246h1.5v1.5h-1.5zM160 250h1.5v1.5h-1.5zM160 232h1.5v1.5h-1.5zM176 235h1.5v1.5h-1.5zM159 251h1.5v1.5h-1.5zM171 233h1.5v1.5h-1.5zM152 240h1.5v1.5h-1.5zM160 245h1.5v1.5h-1.5zM167 241h1.5v1.5h-1.5zM148 237h1.5v1.5h-1.5zM168 232h1.5v1.5h-1.5zM167 241h1.5v1.5h-1.5zM164 240h1.5v1.5h-1.5zM160 249h1.5v1.5h-1.5zM172 230h1.5v1.5h-1.5zM152 238h1.5v1.5h-1.5zM168 248h1.5v1.5h-1.5zM162 223h1.5v1.5h-1.5zM164 239h1.5v1.5h-1.5zM157 228h1.5v1.5h-1.5zM163 244h1.5v1.5h-1.5zM171 230h1.5v1.5h-1.5zM174 228h1.5v1.5h-1.5zM170 230h1.5v1.5h-1.5z"/>
<path fill="#969696" d="M104 241h1.5v1.5h-1.5zM118 234h1.5v1.5h-1.5zM114 238h1.5v1.5h-1.5zM123 241h1.5v1.5h-1.5zM107 233h1.5v1.5h-1.5zM107 244h1.5v1.5h-1.5zM113 253h1.5v1.5h-1.5zM110 238h1.5v1.5h-1.5zM128 239h1.5v1.5h-1.5zM108 239h1.5v1.5h-1.5zM116 251h1.5v1.5h-1.5zM110 238h1.5v1.5h-1.5zM113 236h1.5v1.5h-1.5zM108 243h1.5v1.5h-1.5zM113 247h1.5v1.5h-1.5zM116 251h1.5v1.5h-1.5zM104 232h1.5v1.5h-1.5zM107 247h1.5v1.5h-1.5zM111 241h1.5v1.5h-1.5zM125 244h1.5v1.5h-1.5zM111 243h1.5v1.5h-1.5zM112 235h1.5v1.5h-1.5zM121 241h1.5v1.5h-1.5zM109 244h1.5v1.5h-1.5zM109 239h1.5v1.5h-1.5zM116 238h1.5v1.5h-1.5zM109 237h1.5v1.5h-1.5zM110 248h1.5v1.5h-1.5zM121 241h1.5v1.5h-1.5zM128 245h1.5v1.5h-1.5zM117 239h1.5v1.5h-1.5zM108 233h1.5v1.5h-1.5zM107 243h1.5v1.5h-1.5zM113 244h1.5v1.5h-1.5zM120 235h1.5v1.5h-1.5zM115 244h1.5v1.5h-1.5zM120 237h1.5v1.5h-1.5zM111 230h1.5v1.5h-1.5zM121 252h1.5v1.5h-1.5zM99 248h1.5v1.5h-1.5zM107 241h1.5v1.5h-1.5zM111 247h1.5v1.5h-1.5zM112 238h1.5v1.5h-1.5zM112 244h1.5v1.5h-1.5zM113 242h1.5v1.5h-1.5zM112 242h1.5v1.5h-1.5zM109 242h1.5v1.5h-1.5zM112 240h1.5v1.5h-1.5zM114 244h1.5v1.5h-1.5zM111 245h1.5v1.5h-1.5zM104 250h1.5v1.5h-1.5zM102 246h1.5v1.5h-1.5zM112 239h1.5v1.5h-1.5zM114 237h1.5v1.5h-1.5zM112 244h1.5v1.5h-1.5zM116 243h1.5v1.5h-1.5zM124 233h1.5v1.5h-1.5zM112 242h1.5v1.5h-1.5zM115 241h1.5v1.5h-1.5zM113 239h1.5v1.5h-1.5zM118 246h1.5v1.5h-1.5zM109 240h1.5v1.5h-1.5zM117 245h1.5v1.5h-1.5zM110 250h1.5v1.5h-1.5zM106 236h1.5v1.5h-1.5zM108 243h1.5v1.5h-1.5zM110 240h1.5v1.5h-1.5zM104 241h1.5v1.5h-1.5zM128 244h1.5v1.5h-1.5zM113 238h1.5v1.5h-1.5zM118 233h1.5v1.5h-1.5zM109 247h1.5v1.5h-1.5zM107 232h1.5v1.5h-1.5zM116 240h1.5v1.5h-1.5zM114 243h1.5v1.5h-1.5zM108 241h1.5v1.5h-1.5zM121 241h1.5v1.5h-1.5zM105 235h1.5v1.5h-1.5zM106 246h1.5v1.5h-1.5zM116 239h1.5v1.5h-1.5zM105 242h1.5v1.5h-1.5zM118 236h1.5v1.5h-1.5zM101 248h1.5v1.5h-1.5zM110 237h1.5v1.5h-1.5zM121 253h1.5v1.5h-1.5zM108 230h1.5v1.5h-1.5zM112 242h1.5v1.5h-1.5zM126 249h1.5v1.5h-1.5zM99 242h1.5v1.5h-1.5zM128 243h1.5v1.5h-1.5zM118 253h1.5v1.5h-1.5zM112 243h1.5v1.5h-1.5zM105 238h1.5v1.5h-1.5zM112 244h1.5v1.5h-1.5zM117 246h1.5v1.5h-1.5zM113 249h1.5v1.5h-1.5zM109 244h1.5v1.5h-1.5zM113 247h1.5v1.5h-1.5zM112 244h1.5v1.5h-1.5zM111 248h1.5v1.5h-1.5zM112 245h1.5v1.5h-1.5zM113 244h1.5v1.5h-1.5zM113 242h1.5v1.5h-1.5zM119 239h1.5v1.5h-1.5zM112 232h1.5v1.5h-1.5zM108 239h1.5v1.5h-1.5zM107 238h1.5v1.5h-1.5zM119 239h1.5v1.5h-1.5zM121 241h1.5v1.5h-1.5zM116 251h1.5v1.5h-1.5zM117 242h1.5v1.5h-1.5zM110 241h1.5v1.5h-1.5zM120 247h1.5v1.5h-1.5zM122 240h1.5v1.5h-1.5zM116 252h1.5v1.5h-1.5zM117 238h1.5v1.5h-1.5zM125 241h1.5v1.5h-1.5zM117 254h1.5v1.5h-1.5zM109 238h1.5v1.5h-1.5zM120 245h1.5v1.5h-1.5zM120 249h1.5v1.5h-1.5zM106 254h1.5v1.5h-1.5zM121 251h1.5v1.5h-1.5zM117 243h1.5v1.5h-1.5zM108 241h1.5v1.5h-1.5zM117 235h1.5v1.5h-1.5zM110 246h1.5v1.5h-1.5zM124 234h1.5v1.5h-1.5zM113 239h1.5v1.5h-1.5zM115 237h1.5v1.5h-1.5zM121 243h1.5v1.5h-1.5zM121 239h1.5v1.5h-1.5zM116 245h1.5v1.5h-1.5zM119 235h1.5v1.5h-1.5zM121 245h1.5v1.5h-1.5zM114 234h1.5v1.5h-1.5zM119 243h1.5v1.5h-1.5zM114 250h1.5v1.5h-1.5zM107 242h1.5v1.5h-1.5zM118 240h1.5v1.5h-1.5zM116 245h1.5v1.5h-1.5zM117 242h1.5v1.5h-1.5zM115 246h1.5v1.5h-1.5zM113 241h1.5v1.5h-1.5zM128 239h1.5v1.5h-1.5zM116 248h1.5v1.5h-1.5zM119 237h1.5v1.5h-1.5zM122 248h1.5v1.5h-1.5zM116 239h1.5v1.5h-1.5zM109 245h1.5v1.5h-1.5zM100 239h1.5v1.5h-1.5zM114 234h1.5v1.5h-1.5zM122 239h1.5v1.5h-1.5zM114 241h1.5v1.5h-1.5zM112 246h1.5v1.5h-1.5zM120 250h1.5v1.5h-1.5zM119 235h1.5v1.5h-1.5zM106 248h1.5v1.5h-1.5zM112 245h1.5v1.5h-1.5zM112 245h1.5v1.5h-1.5zM108 243h1.5v1.5h-1.5zM112 241h1.5v1.5h-1.5zM101 237h1.5v1.5h-1.5zM113 241h1.5v1.5h-1.5zM123 245h1.5v1.5h-1.5zM113 237h1.5v1.5h-1.5zM118 249h1.5v1.5h-1.5zM119 252h1.5v1.5h-1.5zM110 234h1.5v1.5h-1.5zM128 241h1.5v1.5h-1.5zM118 234h1.5v1.5h-1.5zM110 249h1.5v1.5h-1.5zM117 245h1.5v1.5h-1.5zM122 248h1.5v1.5h-1.5zM114 236h1.5v1.5h-1.5zM107 244h1.5v1.5h-1.5zM102 240h1.5v1.5h-1.5zM117 238h1.5v1.5h-1.5zM116 233h1.5v1.5h-1.5zM113 239h1.5v1.5h-1.5zM108 244h1.5v1.5h-1.5zM114 235h1.5v1.5h-1.5zM110 243h1.5v1.5h-1.5zM117 241h1.5v1.5h-1.5zM109 240h1.5v1.5h-1.5zM120 247h1.5v1.5h-1.5zM109 238h1.5v1.5h-1.5zM119 253h1.5v1.5h-1.5zM112 237h1.5v1.5h-1.5zM125 254h1.5v1.5h-1.5zM108 231h1.5v1.5h-1.5zM109 243h1.5v1.5h-1.5zM125 247h1.5v1.5h-1.5zM127 240h1.5v1.5h-1.5zM119 236h1.5v1.5h-1.5zM113 243h1.5v1.5h-1.5zM119 244h1.5v1.5h-1.5zM121 240h1.5v1.5h-1.5zM119 246h1.5v1.5h-1.5zM115 238h1.5v1.5h-1.5zM99 245h1.5v1.5h-1.5zM116 248h1.5v1.5h-1.5zM106 246h1.5v1.5h-1.5zM120 237h1.5v1.5h-1.5zM113 237h1.5v1.5h-1.5zM117 242h1.5v1.5h-1.5zM116 243h1.5v1.5h-1.5zM110 247h1.5v1.5h-1.5zM110 246h1.5v1.5h-1.5zM103 243h1.5v1.5h-1.5zM112 241h1.5v1.5h-1.5zM110 253h1.5v1.5h-1.5zM117 248h1.5v1.5h-1.5zM120 246h1.5v1.5h-1.5zM107 238h1.5v1.5h-1.5zM108 247h1.5v1.5h-1.5zM110 243h1.5v1.5h-1.5zM106 242h1.5v1.5h-1.5zM116 242h1.5v1.5h-1.5zM119 243h1.5v1.5h-1.5zM110 243h1.5v1.5h-1.5zM117 237h1.5v1.5h-1.5zM113 233h1.5v1.5h-1.5zM121 235h1.5v1.5h-1.5zM105 239h1.5v1.5h-1.5zM105 235h1.5v1.5h-1.5zM105 235h1.5v1.5h-1.5zM119 242h1.5v1.5h-1.5zM113 245h1.5v1.5h-1.5zM111 250h1.5v1.5h-1.5zM114 244h1.5v1.5h-1.5zM119 239h1.5v1.5h-1.5zM107 246h1.5v1.5h-1.5zM120 233h1.5v1.5h-1.5zM115 247h1.5v1.5h-1.5zM116 245h1.5v1.5h-1.5zM123 250h1.5v1.5h-1.5zM109 245h1.5v1.5h-1.5zM107 245h1.5v1.5h-1.5zM113 248h1.5v1.5h-1.5z"/>
<path fill="#969696" d="M132 217h1.5v1.5h-1.5zM135 220h1.5v1.5h-1.5zM142 218h1.5v1.5h-1.5zM135 217h1.5v1.5h-1.5zM132 216h1.5v1.5h-1.5zM129 215h1.5v1.5h-1.5zM137 220h1.5v1.5h-1.5zM132 213h1.5v1.5h-1.5zM130 213h1.5v1.5h-1.5zM139 219h1.5v1.5h-1.5zM128 214h1.5v1.5h-1.5zM134 218h1.5v1.5h-1.5zM138 218h1.5v1.5h-1.5zM141 214h1.5v1.5h-1.5zM137 217h1.5v1.5h-1.5zM145 219h1.5v1.5h-1.5zM126 214h1.5v1.5h-1.5zM135 215h1.5v1.5h-1.5zM135 221h1.5v1.5h-1.5zM134 214h1.5v1.5h-1.5zM133 219h1.5v1.5h-1.5zM137 215h1.5v1.5h-1.5zM136 215h1.5v1.5h-1.5zM133 221h1.5v1.5h-1.5zM132 215h1.5v1.5h-1.5zM132 217h1.5v1.5h-1.5zM139 210h1.5v1.5h-1.5zM137 215h1.5v1.5h-1.5zM126 219h1.5v1.5h-1.5zM132 218h1.5v1.5h-1.5zM142 219h1.5v1.5h-1.5zM129 217h1.5v1.5h-1.5zM133 217h1.5v1.5h-1.5zM130 214h1.5v1.5h-1.5zM142 211h1.5v1.5h-1.5zM133 219h1.5v1.5h-1.5zM136 219h1.5v1.5h-1.5zM128 217h1.5v1.5h-1.5zM129 212h1.5v1.5h-1.5zM137 219h1.5v1.5h-1.5zM134 214h1.5v1.5h-1.5zM139 221h1.5v1.5h-1.5zM129 216h1.5v1.5h-1.5zM131 216h1.5v1.5h-1.5zM136 214h1.5v1.5h-1.5zM137 217h1.5v1.5h-1.5zM134 220h1.5v1.5h-1.5zM143 217h1.5v1.5h-1.5zM141 215h1.5v1.5h-1.5zM131 222h1.5v1.5h-1.5zM131 219h1.5v1.5h-1.5zM134 221h1.5v1.5h-1.5zM145 214h1.5v1.5h-1.5zM129 216h1.5v1.5h-1.5zM125 215h1.5v1.5h-1.5zM133 215h1.5v1.5h-1.5zM129 214h1.5v1.5h-1.5zM134 215h1.5v1.5h-1.5zM137 220h1.5v1.5h-1.5zM134 216h1.5v1.5h-1.5zM136 218h1.5v1.5h-1.5zM140 218h1.5v1.5h-1.5zM137 217h1.5v1.5h-1.5zM128 218h1.5v1.5h-1.5zM141 215h1.5v1.5h-1.5zM134 217h1.5v1.5h-1.5zM129 215h1.5v1.5h-1.5zM139 220h1.5v1.5h-1.5zM132 216h1.5v1.5h-1.5zM138 214h1.5v1.5h-1.5zM133 220h1.5v1.5h-1.5zM141 218h1.5v1.5h-1.5zM137 218h1.5v1.5h-1.5zM130 215h1.5v1.5h-1.5zM125 211h1.5v1.5h-1.5zM134 220h1.5v1.5h-1.5zM128 212h1.5v1.5h-1.5zM133 214h1.5v1.5h-1.5zM137 217h1.5v1.5h-1.5zM141 213h1.5v1.5h-1.5zM139 210h1.5v1.5h-1.5zM135 219h1.5v1.5h-1.5zM134 222h1.5v1.5h-1.5zM136 210h1.5v1.5h-1.5zM131 217h1.5v1.5h-1.5zM142 216h1.5v1.5h-1.5zM128 219h1.5v1.5h-1.5zM140 220h1.5v1.5h-1.5zM143 222h1.5v1.5h-1.5zM132 219h1.5v1.5h-1.5zM133 214h1.5v1.5h-1.5zM131 218h1.5v1.5h-1.5zM139 214h1.5v1.5h-1.5zM133 220h1.5v1.5h-1.5zM143 218h1.5v1.5h-1.5zM137 217h1.5v1.5h-1.5zM144 218h1.5v1.5h-1.5zM130 220h1.5v1.5h-1.5zM145 218h1.5v1.5h-1.5zM137 216h1.5v1.5h-1.5zM144 223h1.5v1.5h-1.5zM131 215h1.5v1.5h-1.5zM123 219h1.5v1.5h-1.5zM139 212h1.5v1.5h-1.5zM127 214h1.5v1.5h-1.5zM136 210h1.5v1.5h-1.5zM135 212h1.5v1.5h-1.5zM134 218h1.5v1.5h-1.5zM128 217h1.5v1.5h-1.5zM134 218h1.5v1.5h-1.5z"/>
<path fill="#969696" d="M152 215h1.5v1.5h-1.5zM147 215h1.5v1.5h-1.5zM146 214h1.5v1.5h-1.5zM147 209h1.5v1.5h-1.5zM151 216h1.5v1.5h-1.5zM154 218h1.5v1.5h-1.5zM146 210h1.5v1.5h-1.5zM147 215h1.5v1.5h-1.5zM144 216h1.5v1.5h-1.5zM149 215h1.5v1.5h-1.5zM150 211h1.5v1.5h-1.5zM154 223h1.5v1.5h-1.5zM146 219h1.5v1.5h-1.5zM144 213h1.5v1.5h-1.5zM138 220h1.5v1.5h-1.5zM149 217h1.5v1.5h-1.5zM149 210h1.5v1.5h-1.5zM156 213h1.5v1.5h-1.5zM149 207h1.5v1.5h-1.5zM144 222h1.5v1.5h-1.5zM158 212h1.5v1.5h-1.5zM149 210h1.5v1.5h-1.5zM151 216h1.5v1.5h-1.5zM146 208h1.5v1.5h-1.5zM150 209h1.5v1.5h-1.5zM140 221h1.5v1.5h-1.5zM155 211h1.5v1.5h-1.5zM153 220h1.5v1.5h-1.5zM140 215h1.5v1.5h-1.5zM143 217h1.5v1.5h-1.5zM154 215h1.5v1.5h-1.5zM143 208h1.5v1.5h-1.5zM152 219h1.5v1.5h-1.5zM149 216h1.5v1.5h-1.5zM155 217h1.5v1.5h-1.5zM139 219h1.5v1.5h-1.5zM158 210h1.5v1.5h-1.5zM154 219h1.5v1.5h-1.5zM153 213h1.5v1.5h-1.5zM144 215h1.5v1.5h-1.5zM158 217h1.5v1.5h-1.5zM159 213h1.5v1.5h-1.5zM143 216h1.5v1.5h-1.5zM155 214h1.5v1.5h-1.5zM158 213h1.5v1.5h-1.5zM151 210h1.5v1.5h-1.5zM152 217h1.5v1.5h-1.5zM148 208h1.5v1.5h-1.5zM150 211h1.5v1.5h-1.5zM150 212h1.5v1.5h-1.5zM151 223h1.5v1.5h-1.5zM144 211h1.5v1.5h-1.5zM146 213h1.5v1.5h-1.5zM147 215h1.5v1.5h-1.5zM152 210h1.5v1.5h-1.5zM143 211h1.5v1.5h-1.5zM142 207h1.5v1.5h-1.5zM150 215h1.5v1.5h-1.5zM152 216h1.5v1.5h-1.5zM154 213h1.5v1.5h-1.5z"/>
<path fill="#969696" d="M127 224h1.5v1.5h-1.5zM123 225h1.5v1.5h-1.5zM135 234h1.5v1.5h-1.5zM125 226h1.5v1.5h-1.5zM123 223h1.5v1.5h-1.5zM132 226h1.5v1.5h-1.5zM129 221h1.5v1.5h-1.5zM134 231h1.5v1.5h-1.5zM132 226h1.5v1.5h-1.5zM125 227h1.5v1.5h-1.5zM122 234h1.5v1.5h-1.5zM128 223h1.5v1.5h-1.5zM135 221h1.5v1.5h-1.5zM124 224h1.5v1.5h-1.5zM126 228h1.5v1.5h-1.5zM124 223h1.5v1.5h-1.5zM128 230h1.5v1.5h-1.5zM129 228h1.5v1.5h-1.5zM130 221h1.5v1.5h-1.5zM127 222h1.5v1.5h-1.5zM128 226h1.5v1.5h-1.5zM127 224h1.5v1.5h-1.5zM125 227h1.5v1.5h-1.5zM131 226h1.5v1.5h-1.5zM126 224h1.5v1.5h-1.5zM129 225h1.5v1.5h-1.5zM129 228h1.5v1.5h-1.5zM128 230h1.5v1.5h-1.5zM133 234h1.5v1.5h-1.5zM135 221h1.5v1.5h-1.5zM124 230h1.5v1.5h-1.5zM131 220h1.5v1.5h-1.5zM126 220h1.5v1.5h-1.5zM128 222h1.5v1.5h-1.5zM119 219h1.5v1.5h-1.5zM126 234h1.5v1.5h-1.5zM125 228h1.5v1.5h-1.5zM131 228h1.5v1.5h-1.5zM133 222h1.5v1.5h-1.5zM123 228h1.5v1.5h-1.5zM125 221h1.5v1.5h-1.5zM127 232h1.5v1.5h-1.5zM128 227h1.5v1.5h-1.5zM124 225h1.5v1.5h-1.5zM125 221h1.5v1.5h-1.5zM128 221h1.5v1.5h-1.5zM123 234h1.5v1.5h-1.5zM125 226h1.5v1.5h-1.5zM121 234h1.5v1.5h-1.5zM130 222h1.5v1.5h-1.5z"/>
<path fill="#969696" d="M24 280h1.5v1.5h-1.5zM28 271h1.5v1.5h-1.5zM24 281h1.5v1.5h-1.5zM23 281h1.5v1.5h-1.5zM34 274h1.5v1.5h-1.5zM30 284h1.5v1.5h-1.5zM29 274h1.5v1.5h-1.5zM32 264h1.5v1.5h-1.5zM31 276h1.5v1.5h-1.5zM33 270h1.5v1.5h-1.5zM28 277h1.5v1.5h-1.5zM27 290h1.5v1.5h-1.5zM32 290h1.5v1.5h-1.5zM24 274h1.5v1.5h-1.5zM26 273h1.5v1.5h-1.5zM24 281h1.5v1.5h-1.5zM31 275h1.5v1.5h-1.5zM27 278h1.5v1.5h-1.5zM26 282h1.5v1.5h-1.5zM20 274h1.5v1.5h-1.5zM22 281h1.5v1.5h-1.5zM29 274h1.5v1.5h-1.5zM30 273h1.5v1.5h-1.5zM26 277h1.5v1.5h-1.5zM26 270h1.5v1.5h-1.5zM32 279h1.5v1.5h-1.5zM23 267h1.5v1.5h-1.5zM22 278h1.5v1.5h-1.5zM28 280h1.5v1.5h-1.5zM22 273h1.5v1.5h-1.5zM30 269h1.5v1.5h-1.5zM27 271h1.5v1.5h-1.5zM26 263h1.5v1.5h-1.5zM21 273h1.5v1.5h-1.5zM27 273h1.5v1.5h-1.5zM24 274h1.5v1.5h-1.5zM31 276h1.5v1.5h-1.5zM26 283h1.5v1.5h-1.5zM27 270h1.5v1.5h-1.5zM21 275h1.5v1.5h-1.5zM21 276h1.5v1.5h-1.5zM30 270h1.5v1.5h-1.5zM29 271h1.5v1.5h-1.5zM25 262h1.5v1.5h-1.5zM34 290h1.5v1.5h-1.5zM28 285h1.5v1.5h-1.5zM24 261h1.5v1.5h-1.5zM20 279h1.5v1.5h-1.5zM27 270h1.5v1.5h-1.5zM29 279h1.5v1.5h-1.5zM20 290h1.5v1.5h-1.5zM21 284h1.5v1.5h-1.5zM25 274h1.5v1.5h-1.5zM28 287h1.5v1.5h-1.5zM26 273h1.5v1.5h-1.5zM29 266h1.5v1.5h-1.5zM30 265h1.5v1.5h-1.5zM23 276h1.5v1.5h-1.5zM25 275h1.5v1.5h-1.5zM31 278h1.5v1.5h-1.5zM22 264h1.5v1.5h-1.5zM32 276h1.5v1.5h-1.5zM26 277h1.5v1.5h-1.5zM29 270h1.5v1.5h-1.5zM26 279h1.5v1.5h-1.5zM29 276h1.5v1.5h-1.5zM28 270h1.5v1.5h-1.5zM29 280h1.5v1.5h-1.5zM31 277h1.5v1.5h-1.5zM24 275h1.5v1.5h-1.5zM29 259h1.5v1.5h-1.5zM27 267h1.5v1.5h-1.5zM30 279h1.5v1.5h-1.5zM22 277h1.5v1.5h-1.5zM26 275h1.5v1.5h-1.5zM32 277h1.5v1.5h-1.5zM25 276h1.5v1.5h-1.5zM29 273h1.5v1.5h-1.5zM24 287h1.5v1.5h-1.5zM32 277h1.5v1.5h-1.5z"/>
<path fill="#969696" d="M184 250h1.5v1.5h-1.5zM194 248h1.5v1.5h-1.5zM192 252h1.5v1.5h-1.5zM187 240h1.5v1.5h-1.5zM188 251h1.5v1.5h-1.5zM187 245h1.5v1.5h-1.5zM190 245h1.5v1.5h-1.5zM190 238h1.5v1.5h-1.5zM185 242h1.5v1.5h-1.5zM183 240h1.5v1.5h-1.5zM184 254h1.5v1.5h-1.5zM191 244h1.5v1.5h-1.5zM199 246h1.5v1.5h-1.5zM193 244h1.5v1.5h-1.5zM185 246h1.5v1.5h-1.5zM189 246h1.5v1.5h-1.5zM185 245h1.5v1.5h-1.5zM184 245h1.5v1.5h-1.5zM188 249h1.5v1.5h-1.5zM193 246h1.5v1.5h-1.5zM189 242h1.5v1.5h-1.5zM192 237h1.5v1.5h-1.5zM183 251h1.5v1.5h-1.5zM189 244h1.5v1.5h-1.5zM181 247h1.5v1.5h-1.5zM186 238h1.5v1.5h-1.5zM198 243h1.5v1.5h-1.5zM185 242h1.5v1.5h-1.5zM194 246h1.5v1.5h-1.5zM190 243h1.5v1.5h-1.5zM185 240h1.5v1.5h-1.5zM190 237h1.5v1.5h-1.5zM195 248h1.5v1.5h-1.5zM187 239h1.5v1.5h-1.5zM199 246h1.5v1.5h-1.5zM189 248h1.5v1.5h-1.5zM189 255h1.5v1.5h-1.5zM188 244h1.5v1.5h-1.5zM182 246h1.5v1.5h-1.5zM200 238h1.5v1.5h-1.5zM179 237h1.5v1.5h-1.5zM192 252h1.5v1.5h-1.5zM189 244h1.5v1.5h-1.5zM188 249h1.5v1.5h-1.5zM196 244h1.5v1.5h-1.5zM187 247h1.5v1.5h-1.5zM188 242h1.5v1.5h-1.5zM192 241h1.5v1.5h-1.5zM184 248h1.5v1.5h-1.5zM185 248h1.5v1.5h-1.5zM188 252h1.5v1.5h-1.5zM186 250h1.5v1.5h-1.5zM187 245h1.5v1.5h-1.5zM187 246h1.5v1.5h-1.5zM196 244h1.5v1.5h-1.5zM192 245h1.5v1.5h-1.5zM187 242h1.5v1.5h-1.5zM184 242h1.5v1.5h-1.5zM194 250h1.5v1.5h-1.5zM189 251h1.5v1.5h-1.5zM180 244h1.5v1.5h-1.5zM189 248h1.5v1.5h-1.5zM190 244h1.5v1.5h-1.5zM189 248h1.5v1.5h-1.5zM187 244h1.5v1.5h-1.5zM189 253h1.5v1.5h-1.5zM192 251h1.5v1.5h-1.5zM186 242h1.5v1.5h-1.5zM187 243h1.5v1.5h-1.5zM192 245h1.5v1.5h-1.5zM189 245h1.5v1.5h-1.5zM184 247h1.5v1.5h-1.5zM193 247h1.5v1.5h-1.5zM188 245h1.5v1.5h-1.5zM186 248h1.5v1.5h-1.5zM192 242h1.5v1.5h-1.5zM192 253h1.5v1.5h-1.5zM189 246h1.5v1.5h-1.5zM183 242h1.5v1.5h-1.5zM192 238h1.5v1.5h-1.5zM187 249h1.5v1.5h-1.5zM188 244h1.5v1.5h-1.5zM193 251h1.5v1.5h-1.5zM189 246h1.5v1.5h-1.5zM192 254h1.5v1.5h-1.5zM191 244h1.5v1.5h-1.5zM195 247h1.5v1.5h-1.5zM192 243h1.5v1.5h-1.5zM192 240h1.5v1.5h-1.5zM187 242h1.5v1.5h-1.5zM191 246h1.5v1.5h-1.5zM191 250h1.5v1.5h-1.5zM188 251h1.5v1.5h-1.5zM188 244h1.5v1.5h-1.5zM198 249h1.5v1.5h-1.5zM192 245h1.5v1.5h-1.5zM189 243h1.5v1.5h-1.5zM188 243h1.5v1.5h-1.5zM189 238h1.5v1.5h-1.5zM190 244h1.5v1.5h-1.5z"/>
<path fill="#969696" d="M100 209h1.5v1.5h-1.5zM104 208h1.5v1.5h-1.5zM97 213h1.5v1.5h-1.5zM102 211h1.5v1.5h-1.5zM101 210h1.5v1.5h-1.5zM98 208h1.5v1.5h-1.5zM99 211h1.5v1.5h-1.5zM98 214h1.5v1.5h-1.5zM103 213h1.5v1.5h-1.5zM99 207h1.5v1.5h-1.5zM93 211h1.5v1.5h-1.5zM100 215h1.5v1.5h-1.5zM102 215h1.5v1.5h-1.5zM105 212h1.5v1.5h-1.5zM95 205h1.5v1.5h-1.5zM96 211h1.5v1.5h-1.5zM96 210h1.5v1.5h-1.5zM101 216h1.5v1.5h-1.5zM101 213h1.5v1.5h-1.5zM105 212h1.5v1.5h-1.5zM98 212h1.5v1.5h-1.5zM95 209h1.5v1.5h-1.5zM99 205h1.5v1.5h-1.5zM105 212h1.5v1.5h-1.5zM94 214h1.5v1.5h-1.5zM98 216h1.5v1.5h-1.5zM103 213h1.5v1.5h-1.5zM95 214h1.5v1.5h-1.5zM100 205h1.5v1.5h-1.5zM93 209h1.5v1.5h-1.5zM104 215h1.5v1.5h-1.5zM103 207h1.5v1.5h-1.5zM103 207h1.5v1.5h-1.5zM94 212h1.5v1.5h-1.5zM93 214h1.5v1.5h-1.5zM103 213h1.5v1.5h-1.5zM100 215h1.5v1.5h-1.5zM104 210h1.5v1.5h-1.5zM96 217h1.5v1.5h-1.5zM99 210h1.5v1.5h-1.5zM96 212h1.5v1.5h-1.5zM104 214h1.5v1.5h-1.5zM101 209h1.5v1.5h-1.5zM106 210h1.5v1.5h-1.5zM95 210h1.5v1.5h-1.5zM101 211h1.5v1.5h-1.5zM107 211h1.5v1.5h-1.5zM94 213h1.5v1.5h-1.5zM105 206h1.5v1.5h-1.5zM101 212h1.5v1.5h-1.5z"/>
<path fill="#9a9a9a" d="M144 3h1.0v1.0h-1.0zM62 121h1.0v1.0h-1.0zM187 167h1.0v1.0h-1.0zM181 31h1.0v1.0h-1.0zM44 113h1.0v1.0h-1.0zM197 234h1.0v1.0h-1.0zM69 65h1.0v1.0h-1.0zM118 277h1.0v1.0h-1.0zM196 8h1.0v1.0h-1.0zM152 65h1.0v1.0h-1.0zM63 185h1.0v1.0h-1.0zM176 34h1.0v1.0h-1.0zM29 254h1.0v1.0h-1.0zM111 303h1.0v1.0h-1.0z"/>
<path fill="#8a8a8a" d="M33 264h1.2v1.2h-1.2zM43 259h1.2v1.2h-1.2zM32 264h1.2v1.2h-1.2zM30 264h1.2v1.2h-1.2zM37 260h1.2v1.2h-1.2zM32 265h1.2v1.2h-1.2zM44 260h1.2v1.2h-1.2zM40 262h1.2v1.2h-1.2zM43 260h1.2v1.2h-1.2zM40 263h1.2v1.2h-1.2zM43 258h1.2v1.2h-1.2zM44 261h1.2v1.2h-1.2zM36 265h1.2v1.2h-1.2zM47 258h1.2v1.2h-1.2z"/>
<path d="M15 192.8L38.7 181L54.4 171.3L72.4 158L95 139.8L109.2 130.6L123.4 121.6L131.5 117L161 99.5L196 84.5L226 71.8" fill="none" stroke="#d9251f" stroke-width="12.6" stroke-linecap="butt" stroke-linejoin="round"/>
<path d="M15 192.8L38.7 181L54.4 171.3L72.4 158" fill="none" stroke="#d9251f" stroke-width="13.6" stroke-linecap="butt" stroke-linejoin="round"/>
<g fill="#d9251f" stroke="#b51a17" stroke-width="0.35"><circle cx="15.1" cy="192.9" r="2.25"/><circle cx="28.8" cy="182.8" r="2.25"/><circle cx="163.1" cy="97.5" r="2.25"/><circle cx="182" cy="92.2" r="2.25"/><circle cx="201.7" cy="83.9" r="2.25"/><circle cx="190" cy="85.7" r="2.25"/><circle cx="185.9" cy="88.3" r="2.25"/><circle cx="154.4" cy="99.9" r="2.25"/><circle cx="103.8" cy="132.6" r="2.25"/><circle cx="95" cy="145.7" r="2.25"/><circle cx="17.7" cy="194.9" r="2.25"/><circle cx="73.2" cy="159.4" r="2.25"/><circle cx="157.7" cy="101.1" r="2.25"/><circle cx="52.6" cy="171.4" r="2.25"/><circle cx="22.9" cy="191.6" r="2.25"/><circle cx="146.3" cy="110.6" r="2.25"/><circle cx="126.7" cy="119.6" r="2.25"/><circle cx="124.8" cy="125.9" r="2.25"/><circle cx="124.5" cy="125.2" r="2.25"/><circle cx="48.1" cy="177.3" r="2.25"/><circle cx="156.4" cy="98.1" r="2.25"/><circle cx="194.8" cy="90.7" r="2.25"/><circle cx="93" cy="142.4" r="2.25"/><circle cx="110" cy="133.7" r="2.25"/><circle cx="159.5" cy="98.9" r="2.25"/><circle cx="55.7" cy="165.1" r="2.25"/><circle cx="202.7" cy="85.6" r="2.25"/><circle cx="97.8" cy="133.8" r="2.25"/><circle cx="223.1" cy="68.6" r="2.25"/><circle cx="140.5" cy="105.6" r="2.25"/><circle cx="137.5" cy="113.9" r="2.25"/><circle cx="130.3" cy="112.6" r="2.25"/><circle cx="214.8" cy="78.8" r="2.25"/><circle cx="123.6" cy="117.8" r="2.25"/><circle cx="16.9" cy="191" r="2.25"/><circle cx="70.1" cy="163.9" r="2.25"/><circle cx="224.3" cy="75.3" r="2.25"/><circle cx="224.6" cy="77.6" r="2.25"/><circle cx="213.3" cy="79.6" r="2.25"/><circle cx="87.9" cy="142.9" r="2.25"/><circle cx="184.9" cy="84" r="2.25"/><circle cx="69.3" cy="161.6" r="2.25"/><circle cx="202.4" cy="84.8" r="2.25"/><circle cx="63.1" cy="167" r="2.25"/><circle cx="119.6" cy="126.8" r="2.25"/><circle cx="166.6" cy="91.9" r="2.25"/><circle cx="51.4" cy="177" r="2.25"/><circle cx="37.3" cy="184.6" r="2.25"/><circle cx="62.8" cy="166.6" r="2.25"/><circle cx="152.9" cy="103.6" r="2.25"/><circle cx="59.6" cy="165.7" r="2.25"/><circle cx="124.4" cy="120.9" r="2.25"/><circle cx="173.4" cy="93.7" r="2.25"/><circle cx="143.8" cy="111.4" r="2.25"/><circle cx="180.4" cy="95.8" r="2.25"/><circle cx="84.6" cy="145.2" r="2.25"/><circle cx="179.8" cy="88.3" r="2.25"/><circle cx="220.8" cy="75.4" r="2.25"/><circle cx="64.2" cy="169.8" r="2.25"/><circle cx="155.1" cy="98.2" r="2.25"/><circle cx="52.4" cy="168.5" r="2.25"/><circle cx="155.5" cy="104.2" r="2.25"/><circle cx="181.3" cy="90.9" r="2.25"/><circle cx="149.3" cy="103" r="2.25"/><circle cx="68.2" cy="160.2" r="2.25"/><circle cx="197.3" cy="84" r="2.25"/><circle cx="180.3" cy="89.7" r="2.25"/><circle cx="158" cy="105.6" r="2.25"/><circle cx="172.3" cy="97.7" r="2.25"/><circle cx="78.3" cy="148.7" r="2.25"/><circle cx="42" cy="175.9" r="2.25"/><circle cx="18" cy="195.3" r="2.25"/><circle cx="32.4" cy="180.8" r="2.25"/><circle cx="172.2" cy="98.9" r="2.25"/><circle cx="129.7" cy="116.4" r="2.25"/><circle cx="16.9" cy="195.1" r="2.25"/><circle cx="135.2" cy="110.7" r="2.25"/><circle cx="113.6" cy="131.5" r="2.25"/><circle cx="20.5" cy="189.4" r="2.25"/><circle cx="99.4" cy="135" r="2.25"/><circle cx="29.8" cy="184.9" r="2.25"/><circle cx="177.3" cy="91.2" r="2.25"/><circle cx="74.2" cy="159.4" r="2.25"/><circle cx="51" cy="169.1" r="2.25"/><circle cx="87.5" cy="145.3" r="2.25"/><circle cx="144.1" cy="114" r="2.25"/><circle cx="42.2" cy="174.3" r="2.25"/><circle cx="64.2" cy="166.5" r="2.25"/><circle cx="140.6" cy="110.1" r="2.25"/><circle cx="172.6" cy="98.4" r="2.25"/><circle cx="168.2" cy="95" r="2.25"/><circle cx="17.7" cy="189.1" r="2.25"/><circle cx="144.6" cy="109.5" r="2.25"/><circle cx="55.7" cy="169.9" r="2.25"/><circle cx="223.4" cy="71.1" r="2.25"/><circle cx="147.8" cy="104.1" r="2.25"/><circle cx="139.6" cy="106.2" r="2.25"/><circle cx="141.9" cy="107.8" r="2.25"/><circle cx="94" cy="142.1" r="2.25"/><circle cx="51.6" cy="175.2" r="2.25"/><circle cx="28.9" cy="184.2" r="2.25"/><circle cx="211.2" cy="81.7" r="2.25"/><circle cx="80.1" cy="150.8" r="2.25"/><circle cx="107.6" cy="136.3" r="2.25"/><circle cx="53.9" cy="168.9" r="2.25"/><circle cx="103.6" cy="137.5" r="2.25"/><circle cx="160.5" cy="105" r="2.25"/><circle cx="142.6" cy="108.3" r="2.25"/><circle cx="51.1" cy="177.6" r="2.25"/><circle cx="19.6" cy="188.3" r="2.25"/><circle cx="131.3" cy="117" r="2.25"/><circle cx="91.4" cy="136.6" r="2.25"/><circle cx="97.1" cy="133.4" r="2.25"/><circle cx="90.1" cy="143.6" r="2.25"/><circle cx="47.9" cy="173" r="2.25"/><circle cx="109.3" cy="135" r="2.25"/><circle cx="165.6" cy="93.5" r="2.25"/><circle cx="201.5" cy="84.6" r="2.25"/><circle cx="61.5" cy="167.2" r="2.25"/><circle cx="101.3" cy="133.5" r="2.25"/><circle cx="95.3" cy="141.9" r="2.25"/><circle cx="21.7" cy="183.6" r="2.25"/><circle cx="181.1" cy="90.9" r="2.25"/><circle cx="173" cy="92.7" r="2.25"/><circle cx="97.1" cy="138.2" r="2.25"/><circle cx="170.6" cy="101.1" r="2.25"/><circle cx="84.6" cy="146.3" r="2.25"/><circle cx="91.5" cy="143" r="2.25"/><circle cx="33" cy="189.6" r="2.25"/><circle cx="69.5" cy="161.3" r="2.25"/><circle cx="84.8" cy="142.8" r="2.25"/><circle cx="154.4" cy="107.9" r="2.25"/><circle cx="131.6" cy="118.1" r="2.25"/><circle cx="184.9" cy="91.4" r="2.25"/><circle cx="78.1" cy="159.5" r="2.25"/><circle cx="225" cy="73.8" r="2.25"/><circle cx="179.9" cy="91.5" r="2.25"/><circle cx="94.3" cy="145.8" r="2.25"/><circle cx="36.3" cy="186.3" r="2.25"/><circle cx="15.7" cy="193.9" r="2.25"/><circle cx="93" cy="142.3" r="2.25"/><circle cx="74.5" cy="150.5" r="2.25"/><circle cx="225.4" cy="76.9" r="2.25"/><circle cx="83.5" cy="155.6" r="2.25"/><circle cx="86.3" cy="153.4" r="2.25"/><circle cx="216" cy="81.4" r="2.25"/><circle cx="135.9" cy="114" r="2.25"/><circle cx="161.4" cy="95.6" r="2.25"/><circle cx="110.8" cy="127.8" r="2.25"/><circle cx="167.8" cy="94.8" r="2.25"/><circle cx="98.9" cy="141.9" r="2.25"/><circle cx="142.6" cy="104.5" r="2.25"/><circle cx="110.1" cy="132.9" r="2.25"/><circle cx="159.4" cy="100.2" r="2.25"/><circle cx="70.9" cy="156.2" r="2.25"/><circle cx="138.5" cy="111.3" r="2.25"/><circle cx="79.1" cy="152.9" r="2.25"/><circle cx="58.1" cy="167.9" r="2.25"/><circle cx="161.1" cy="102.9" r="2.25"/><circle cx="45.5" cy="179.1" r="2.25"/><circle cx="96.7" cy="144.1" r="2.25"/><circle cx="122.2" cy="116.8" r="2.25"/><circle cx="160.8" cy="98.5" r="2.25"/><circle cx="153.3" cy="99.8" r="2.25"/><circle cx="25.9" cy="192.7" r="2.25"/><circle cx="119.6" cy="124.7" r="2.25"/><circle cx="60.3" cy="161.3" r="2.25"/><circle cx="106.8" cy="130.3" r="2.25"/><circle cx="85.3" cy="153.2" r="2.25"/><circle cx="72.9" cy="153.8" r="2.25"/><circle cx="160.8" cy="105.5" r="2.25"/><circle cx="60.5" cy="167.8" r="2.25"/><circle cx="137" cy="119.5" r="2.25"/><circle cx="49" cy="169.4" r="2.25"/><circle cx="91.8" cy="142.7" r="2.25"/><circle cx="88.7" cy="150" r="2.25"/><circle cx="191.3" cy="81.8" r="2.25"/><circle cx="51.1" cy="174.3" r="2.25"/><circle cx="86.3" cy="145.2" r="2.25"/><circle cx="217.8" cy="72" r="2.25"/><circle cx="72.3" cy="160.4" r="2.25"/><circle cx="206.6" cy="83.6" r="2.25"/><circle cx="90.4" cy="145.6" r="2.25"/><circle cx="187.6" cy="82.7" r="2.25"/><circle cx="193" cy="90.7" r="2.25"/><circle cx="41.3" cy="180.8" r="2.25"/><circle cx="211.7" cy="83.2" r="2.25"/><circle cx="91.7" cy="136" r="2.25"/><circle cx="38.3" cy="175.1" r="2.25"/><circle cx="140.3" cy="112.1" r="2.25"/><circle cx="38.9" cy="177.4" r="2.25"/><circle cx="70.1" cy="163.3" r="2.25"/><circle cx="202.4" cy="80.4" r="2.25"/><circle cx="140.9" cy="106.1" r="2.25"/><circle cx="36.1" cy="186.5" r="2.25"/><circle cx="64.9" cy="169.5" r="2.25"/><circle cx="100.1" cy="142.6" r="2.25"/><circle cx="55.2" cy="174.4" r="2.25"/><circle cx="95" cy="135.1" r="2.25"/><circle cx="83.5" cy="151.2" r="2.25"/><circle cx="119.5" cy="123.9" r="2.25"/><circle cx="59.5" cy="162.3" r="2.25"/><circle cx="188.9" cy="89.9" r="2.25"/><circle cx="77.8" cy="159.4" r="2.25"/><circle cx="137.3" cy="107.5" r="2.25"/><circle cx="17.9" cy="188.1" r="2.25"/><circle cx="78.5" cy="157.3" r="2.25"/><circle cx="43.7" cy="173.1" r="2.25"/><circle cx="100.2" cy="134.6" r="2.25"/><circle cx="178.5" cy="87.3" r="2.25"/><circle cx="76.6" cy="151.4" r="2.25"/><circle cx="43.3" cy="184.3" r="2.25"/><circle cx="222.6" cy="70.3" r="2.25"/><circle cx="102.3" cy="136.8" r="2.25"/><circle cx="84.4" cy="147" r="2.25"/><circle cx="208.9" cy="77.7" r="2.25"/><circle cx="112.9" cy="126.8" r="2.25"/><circle cx="52.5" cy="177.7" r="2.25"/><circle cx="195.1" cy="84" r="2.25"/><circle cx="209.4" cy="77.7" r="2.25"/><circle cx="180.6" cy="91.1" r="2.25"/><circle cx="23.5" cy="192.2" r="2.25"/><circle cx="134.8" cy="116.4" r="2.25"/><circle cx="163.9" cy="93.6" r="2.25"/><circle cx="159.4" cy="98.3" r="2.25"/><circle cx="79.2" cy="158.6" r="2.25"/><circle cx="121.7" cy="123" r="2.25"/><circle cx="36.4" cy="179.6" r="2.25"/><circle cx="20.8" cy="194.5" r="2.25"/><circle cx="80.7" cy="151.4" r="2.25"/><circle cx="21" cy="187.2" r="2.25"/><circle cx="107.7" cy="127.7" r="2.25"/><circle cx="222.9" cy="69.8" r="2.25"/><circle cx="160.9" cy="101.8" r="2.25"/><circle cx="199.4" cy="83.8" r="2.25"/><circle cx="65" cy="158.1" r="2.25"/><circle cx="221.6" cy="70.5" r="2.25"/><circle cx="148.3" cy="110.6" r="2.25"/><circle cx="208" cy="81.9" r="2.25"/><circle cx="79.9" cy="152.6" r="2.25"/><circle cx="157" cy="107.1" r="2.25"/><circle cx="41.9" cy="174" r="2.25"/><circle cx="129.7" cy="115.5" r="2.25"/><circle cx="144.7" cy="110.9" r="2.25"/><circle cx="168.6" cy="99.3" r="2.25"/><circle cx="145.6" cy="104.7" r="2.25"/><circle cx="31.2" cy="189.3" r="2.25"/><circle cx="87.2" cy="148.3" r="2.25"/><circle cx="53.8" cy="175.8" r="2.25"/><circle cx="53.5" cy="176.6" r="2.25"/><circle cx="144.5" cy="112.3" r="2.25"/><circle cx="86" cy="145" r="2.25"/><circle cx="53.6" cy="169.2" r="2.25"/><circle cx="32.7" cy="180.6" r="2.25"/><circle cx="44.4" cy="173.7" r="2.25"/><circle cx="102.1" cy="131.1" r="2.25"/><circle cx="51.1" cy="177.8" r="2.25"/><circle cx="142.8" cy="112.5" r="2.25"/><circle cx="195" cy="87.3" r="2.25"/><circle cx="95.6" cy="136.2" r="2.25"/><circle cx="184.3" cy="85.2" r="2.25"/><circle cx="24.5" cy="188.7" r="2.25"/><circle cx="111.2" cy="126.8" r="2.25"/><circle cx="163.5" cy="101.6" r="2.25"/><circle cx="19.1" cy="189.1" r="2.25"/><circle cx="178.6" cy="86.6" r="2.25"/><circle cx="67.4" cy="163.9" r="2.25"/><circle cx="108.9" cy="126.9" r="2.25"/><circle cx="26.6" cy="192.1" r="2.25"/><circle cx="131" cy="120.8" r="2.25"/><circle cx="181.1" cy="96.3" r="2.25"/><circle cx="162.6" cy="95.9" r="2.25"/><circle cx="114.1" cy="133.6" r="2.25"/><circle cx="151.4" cy="100" r="2.25"/><circle cx="160.9" cy="101.4" r="2.25"/><circle cx="171.1" cy="93.5" r="2.25"/><circle cx="65.5" cy="169.1" r="2.25"/><circle cx="32.2" cy="184.2" r="2.25"/><circle cx="49.5" cy="175.9" r="2.25"/><circle cx="125.3" cy="123.5" r="2.25"/><circle cx="123.2" cy="124.1" r="2.25"/><circle cx="131.4" cy="121.9" r="2.25"/><circle cx="133.1" cy="110.2" r="2.25"/><circle cx="153.5" cy="104.7" r="2.25"/><circle cx="23.3" cy="186.8" r="2.25"/><circle cx="129.9" cy="123.1" r="2.25"/><circle cx="100.5" cy="131.2" r="2.25"/><circle cx="45.3" cy="179.9" r="2.25"/><circle cx="111.1" cy="129.9" r="2.25"/><circle cx="186" cy="84.8" r="2.25"/><circle cx="47.5" cy="174.4" r="2.25"/><circle cx="108" cy="125.3" r="2.25"/><circle cx="184.5" cy="94.2" r="2.25"/><circle cx="182.7" cy="86.6" r="2.25"/><circle cx="34.3" cy="187.7" r="2.25"/><circle cx="163.3" cy="103.7" r="2.25"/><circle cx="49.2" cy="180.6" r="2.25"/><circle cx="55.3" cy="165.7" r="2.25"/><circle cx="96.5" cy="140.7" r="2.25"/><circle cx="131.1" cy="119.2" r="2.25"/><circle cx="130.2" cy="123.5" r="2.25"/><circle cx="200.4" cy="82.4" r="2.25"/><circle cx="79.2" cy="157.7" r="2.25"/><circle cx="153.8" cy="99" r="2.25"/><circle cx="131.7" cy="113.8" r="2.25"/><circle cx="115" cy="127.3" r="2.25"/><circle cx="47.9" cy="170.1" r="2.25"/><circle cx="82.2" cy="144.9" r="2.25"/><circle cx="181.5" cy="85.3" r="2.25"/><circle cx="189.1" cy="93.2" r="2.25"/><circle cx="148" cy="112.1" r="2.25"/><circle cx="55.3" cy="171.3" r="2.25"/><circle cx="223.7" cy="77.3" r="2.25"/><circle cx="101" cy="131.7" r="2.25"/><circle cx="214.6" cy="77.7" r="2.25"/><circle cx="87.9" cy="144.8" r="2.25"/><circle cx="220.9" cy="75.6" r="2.25"/><circle cx="202.8" cy="79.2" r="2.25"/><circle cx="186.4" cy="88.8" r="2.25"/><circle cx="156.3" cy="102.3" r="2.25"/><circle cx="176.6" cy="89.2" r="2.25"/><circle cx="34.3" cy="179.4" r="2.25"/><circle cx="74.2" cy="162.8" r="2.25"/><circle cx="108" cy="133.2" r="2.25"/><circle cx="39" cy="180.3" r="2.25"/><circle cx="30.3" cy="188.4" r="2.25"/><circle cx="215.3" cy="81.6" r="2.25"/><circle cx="17.6" cy="187.6" r="2.25"/><circle cx="156" cy="107.1" r="2.25"/><circle cx="67.6" cy="155.7" r="2.25"/><circle cx="198.9" cy="84.2" r="2.25"/><circle cx="16.3" cy="187" r="2.25"/><circle cx="160.8" cy="99.8" r="2.25"/><circle cx="191.3" cy="84.5" r="2.25"/><circle cx="206.3" cy="84.9" r="2.25"/><circle cx="70" cy="164.9" r="2.25"/><circle cx="78.7" cy="148.4" r="2.25"/><circle cx="65.9" cy="163.9" r="2.25"/><circle cx="160.2" cy="99.6" r="2.25"/><circle cx="156.1" cy="102.2" r="2.25"/><circle cx="40.3" cy="179.4" r="2.25"/><circle cx="132.6" cy="120.2" r="2.25"/><circle cx="105.4" cy="127.8" r="2.25"/><circle cx="116.1" cy="128.8" r="2.25"/><circle cx="108.7" cy="132.3" r="2.25"/><circle cx="42.8" cy="176.1" r="2.25"/><circle cx="18.6" cy="192.7" r="2.25"/><circle cx="80.5" cy="154.3" r="2.25"/><circle cx="64.4" cy="166.8" r="2.25"/><circle cx="161.9" cy="97.9" r="2.25"/><circle cx="119" cy="126.5" r="2.25"/><circle cx="34.4" cy="184.9" r="2.25"/><circle cx="186.4" cy="90" r="2.25"/><circle cx="43.1" cy="173.2" r="2.25"/><circle cx="71.1" cy="156" r="2.25"/><circle cx="107.2" cy="129.5" r="2.25"/><circle cx="84.5" cy="142.6" r="2.25"/><circle cx="218.8" cy="74.4" r="2.25"/><circle cx="223.3" cy="71.4" r="2.25"/><circle cx="95" cy="145.8" r="2.25"/><circle cx="53.2" cy="171.3" r="2.25"/><circle cx="188.2" cy="86.4" r="2.25"/><circle cx="131.9" cy="116.5" r="2.25"/><circle cx="178.6" cy="87" r="2.25"/><circle cx="94.8" cy="136.7" r="2.25"/><circle cx="157.8" cy="97.6" r="2.25"/><circle cx="133.2" cy="117.3" r="2.25"/><circle cx="213.6" cy="79.1" r="2.25"/><circle cx="24.9" cy="187.4" r="2.25"/><circle cx="124.5" cy="115.5" r="2.25"/><circle cx="52.7" cy="174" r="2.25"/><circle cx="104.6" cy="139.5" r="2.25"/><circle cx="151.8" cy="101.6" r="2.25"/><circle cx="46.8" cy="176.1" r="2.25"/><circle cx="91" cy="142" r="2.25"/><circle cx="74.4" cy="151.3" r="2.25"/><circle cx="136.7" cy="116.6" r="2.25"/><circle cx="41.6" cy="174.9" r="2.25"/><circle cx="203" cy="76.6" r="2.25"/><circle cx="172.5" cy="92.1" r="2.25"/><circle cx="117.2" cy="130.3" r="2.25"/><circle cx="105.6" cy="137.1" r="2.25"/><circle cx="75" cy="153.6" r="2.25"/><circle cx="92.7" cy="141.4" r="2.25"/><circle cx="37.9" cy="183.2" r="2.25"/><circle cx="27.5" cy="181.4" r="2.25"/><circle cx="100.6" cy="134.7" r="2.25"/><circle cx="184.7" cy="90.3" r="2.25"/><circle cx="187.5" cy="91.3" r="2.25"/><circle cx="192.1" cy="90.5" r="2.25"/><circle cx="203.4" cy="81.9" r="2.25"/><circle cx="168.3" cy="94.9" r="2.25"/><circle cx="79.2" cy="149.1" r="2.25"/><circle cx="152.5" cy="105.3" r="2.25"/><circle cx="205.7" cy="81.9" r="2.25"/><circle cx="140.2" cy="115.6" r="2.25"/><circle cx="67" cy="165.6" r="2.25"/><circle cx="179.2" cy="87.8" r="2.25"/><circle cx="221.1" cy="76.8" r="2.25"/><circle cx="70.7" cy="165.2" r="2.25"/><circle cx="27.5" cy="185" r="2.25"/><circle cx="162.5" cy="102.1" r="2.25"/><circle cx="207" cy="75.5" r="2.25"/><circle cx="45.3" cy="173.4" r="2.25"/><circle cx="143.2" cy="110.8" r="2.25"/><circle cx="136.4" cy="113.7" r="2.25"/><circle cx="154.9" cy="102.1" r="2.25"/><circle cx="160.9" cy="95.6" r="2.25"/><circle cx="155" cy="106.8" r="2.25"/><circle cx="190.5" cy="83.1" r="2.25"/><circle cx="105.5" cy="131" r="2.25"/><circle cx="144.5" cy="113.7" r="2.25"/><circle cx="189.2" cy="87.2" r="2.25"/><circle cx="72.7" cy="162.4" r="2.25"/><circle cx="196.4" cy="87.2" r="2.25"/><circle cx="68.4" cy="164.4" r="2.25"/><circle cx="216.1" cy="76" r="2.25"/><circle cx="101.8" cy="140.5" r="2.25"/><circle cx="200" cy="88.3" r="2.25"/><circle cx="168.6" cy="100.8" r="2.25"/><circle cx="50.3" cy="178.9" r="2.25"/><circle cx="151.8" cy="107.2" r="2.25"/><circle cx="142.7" cy="112.8" r="2.25"/><circle cx="84.9" cy="146.8" r="2.25"/><circle cx="140.9" cy="112" r="2.25"/><circle cx="159.9" cy="101.5" r="2.25"/><circle cx="204.2" cy="79.8" r="2.25"/><circle cx="42.8" cy="175.6" r="2.25"/><circle cx="134" cy="115" r="2.25"/><circle cx="207.2" cy="85.2" r="2.25"/><circle cx="41.3" cy="183.3" r="2.25"/><circle cx="80.1" cy="153.5" r="2.25"/><circle cx="77" cy="151.6" r="2.25"/><circle cx="70.7" cy="155.6" r="2.25"/><circle cx="119.5" cy="119.3" r="2.25"/><circle cx="142.3" cy="106.5" r="2.25"/><circle cx="172.4" cy="96.7" r="2.25"/><circle cx="86.5" cy="151.1" r="2.25"/><circle cx="214.8" cy="78.9" r="2.25"/><circle cx="207.7" cy="80.8" r="2.25"/><circle cx="141.9" cy="105.5" r="2.25"/><circle cx="135.3" cy="109.6" r="2.25"/><circle cx="147.7" cy="103.6" r="2.25"/><circle cx="131.4" cy="112.4" r="2.25"/><circle cx="129.6" cy="122.7" r="2.25"/><circle cx="84.9" cy="147.4" r="2.25"/><circle cx="148.8" cy="111.4" r="2.25"/><circle cx="82.4" cy="143.3" r="2.25"/><circle cx="34.6" cy="183.9" r="2.25"/><circle cx="217.1" cy="77.4" r="2.25"/><circle cx="180.4" cy="93.3" r="2.25"/><circle cx="58.7" cy="171.2" r="2.25"/><circle cx="205.3" cy="77.3" r="2.25"/><circle cx="140" cy="113.5" r="2.25"/><circle cx="123.4" cy="116.7" r="2.25"/><circle cx="178.6" cy="97" r="2.25"/><circle cx="220.1" cy="69.4" r="2.25"/><circle cx="25.3" cy="187.9" r="2.25"/><circle cx="86.3" cy="144" r="2.25"/><circle cx="27.6" cy="187.5" r="2.25"/><circle cx="188" cy="90.6" r="2.25"/><circle cx="66.5" cy="167.3" r="2.25"/><circle cx="134" cy="121.5" r="2.25"/><circle cx="103.3" cy="138.7" r="2.25"/><circle cx="151" cy="106.3" r="2.25"/><circle cx="33.5" cy="182.9" r="2.25"/><circle cx="112.9" cy="123.1" r="2.25"/><circle cx="216.8" cy="79" r="2.25"/><circle cx="220.4" cy="71.6" r="2.25"/><circle cx="43.4" cy="172.7" r="2.25"/><circle cx="176.9" cy="87.3" r="2.25"/><circle cx="74.6" cy="154.3" r="2.25"/><circle cx="23.6" cy="189.2" r="2.25"/><circle cx="204.4" cy="83.7" r="2.25"/><circle cx="156.7" cy="98.9" r="2.25"/><circle cx="113.4" cy="124.4" r="2.25"/><circle cx="174.5" cy="98.1" r="2.25"/><circle cx="225.1" cy="74.2" r="2.25"/><circle cx="154.8" cy="101.9" r="2.25"/><circle cx="94.9" cy="140.6" r="2.25"/><circle cx="224.1" cy="76.3" r="2.25"/><circle cx="58.2" cy="164.7" r="2.25"/><circle cx="91.4" cy="137.1" r="2.25"/><circle cx="89.5" cy="137.7" r="2.25"/><circle cx="134.7" cy="119.8" r="2.25"/><circle cx="104.5" cy="137.5" r="2.25"/><circle cx="197.6" cy="79.6" r="2.25"/><circle cx="71.5" cy="158" r="2.25"/><circle cx="45.1" cy="172.2" r="2.25"/><circle cx="189.8" cy="87.9" r="2.25"/><circle cx="222.2" cy="74" r="2.25"/><circle cx="190.1" cy="90.9" r="2.25"/><circle cx="183.2" cy="87.7" r="2.25"/><circle cx="187.2" cy="83.6" r="2.25"/><circle cx="79.1" cy="152.1" r="2.25"/><circle cx="89.1" cy="147" r="2.25"/><circle cx="114.7" cy="127.6" r="2.25"/><circle cx="137" cy="107.8" r="2.25"/><circle cx="112.8" cy="122.8" r="2.25"/><circle cx="158.2" cy="96.3" r="2.25"/><circle cx="178.5" cy="87.7" r="2.25"/><circle cx="119.8" cy="126.8" r="2.25"/><circle cx="166.6" cy="102.3" r="2.25"/><circle cx="95.6" cy="144.3" r="2.25"/><circle cx="46.9" cy="176.5" r="2.25"/><circle cx="216.1" cy="73.8" r="2.25"/><circle cx="58.5" cy="171.5" r="2.25"/><circle cx="31.8" cy="188.2" r="2.25"/><circle cx="204.3" cy="82.1" r="2.25"/><circle cx="140" cy="117.3" r="2.25"/><circle cx="113.7" cy="131.2" r="2.25"/><circle cx="22.3" cy="189.5" r="2.25"/><circle cx="126.4" cy="118.1" r="2.25"/><circle cx="127.8" cy="113.6" r="2.25"/><circle cx="205.2" cy="78.8" r="2.25"/><circle cx="53.5" cy="169" r="2.25"/><circle cx="219.8" cy="75.6" r="2.25"/><circle cx="53.3" cy="175.4" r="2.25"/><circle cx="117.3" cy="125.1" r="2.25"/><circle cx="193.7" cy="88.3" r="2.25"/><circle cx="188" cy="91" r="2.25"/><circle cx="207" cy="75.4" r="2.25"/><circle cx="56.8" cy="169.3" r="2.25"/><circle cx="179" cy="96" r="2.25"/><circle cx="124.5" cy="123.5" r="2.25"/><circle cx="175.1" cy="89.3" r="2.25"/><circle cx="201.7" cy="76.6" r="2.25"/><circle cx="55.2" cy="164.5" r="2.25"/><circle cx="57.6" cy="167.3" r="2.25"/><circle cx="167.1" cy="98.8" r="2.25"/><circle cx="106.5" cy="136.3" r="2.25"/><circle cx="210" cy="80.5" r="2.25"/><circle cx="57.8" cy="173.9" r="2.25"/><circle cx="198.3" cy="88" r="2.25"/><circle cx="196" cy="87.3" r="2.25"/><circle cx="122.9" cy="122.5" r="2.25"/><circle cx="114.5" cy="131.2" r="2.25"/><circle cx="67.4" cy="167" r="2.25"/><circle cx="163.9" cy="99.6" r="2.25"/><circle cx="104.7" cy="136.1" r="2.25"/><circle cx="40.1" cy="181.8" r="2.25"/><circle cx="44.7" cy="173" r="2.25"/><circle cx="30.5" cy="189.4" r="2.25"/><circle cx="36.4" cy="184.8" r="2.25"/><circle cx="109.9" cy="126.1" r="2.25"/><circle cx="103.1" cy="140.1" r="2.25"/><circle cx="61.6" cy="164.8" r="2.25"/><circle cx="224.8" cy="76.3" r="2.25"/><circle cx="109.5" cy="127.9" r="2.25"/><circle cx="115.4" cy="126.8" r="2.25"/><circle cx="208" cy="84.6" r="2.25"/><circle cx="93.2" cy="141" r="2.25"/><circle cx="75.3" cy="160.2" r="2.25"/><circle cx="25.8" cy="181.9" r="2.25"/><circle cx="168.3" cy="97.7" r="2.25"/><circle cx="30.8" cy="190.3" r="2.25"/><circle cx="186.5" cy="88.6" r="2.25"/><circle cx="223" cy="77.5" r="2.25"/><circle cx="81.3" cy="155.6" r="2.25"/><circle cx="179.1" cy="86.7" r="2.25"/><circle cx="213.2" cy="81.7" r="2.25"/><circle cx="34.3" cy="181.1" r="2.25"/><circle cx="198" cy="82.3" r="2.25"/><circle cx="195.3" cy="81.9" r="2.25"/><circle cx="222.3" cy="71" r="2.25"/><circle cx="35.3" cy="186.1" r="2.25"/><circle cx="144.9" cy="105" r="2.25"/><circle cx="165.2" cy="98.7" r="2.25"/><circle cx="162.7" cy="103" r="2.25"/><circle cx="216.7" cy="76.2" r="2.25"/><circle cx="32.4" cy="183.9" r="2.25"/><circle cx="141.4" cy="113.8" r="2.25"/><circle cx="155.8" cy="104.3" r="2.25"/><circle cx="79" cy="148.4" r="2.25"/><circle cx="160.7" cy="94.5" r="2.25"/><circle cx="125.8" cy="115.3" r="2.25"/><circle cx="125.5" cy="121.5" r="2.25"/><circle cx="63" cy="163.6" r="2.25"/><circle cx="99.7" cy="138.3" r="2.25"/><circle cx="163" cy="99.1" r="2.25"/><circle cx="86" cy="144.5" r="2.25"/><circle cx="117.9" cy="124.5" r="2.25"/><circle cx="216.8" cy="76.4" r="2.25"/><circle cx="201.5" cy="85.4" r="2.25"/><circle cx="31.5" cy="183.5" r="2.25"/><circle cx="153.6" cy="105.1" r="2.25"/><circle cx="35.8" cy="186.1" r="2.25"/><circle cx="201.7" cy="87.7" r="2.25"/><circle cx="127.9" cy="124.8" r="2.25"/><circle cx="196.1" cy="89.4" r="2.25"/><circle cx="147" cy="103" r="2.25"/><circle cx="90.3" cy="140.1" r="2.25"/><circle cx="154.1" cy="109.1" r="2.25"/><circle cx="37.7" cy="180.5" r="2.25"/><circle cx="85.8" cy="144.6" r="2.25"/><circle cx="161" cy="103.1" r="2.25"/><circle cx="215.3" cy="79.3" r="2.25"/><circle cx="219" cy="77" r="2.25"/><circle cx="145.3" cy="103.6" r="2.25"/><circle cx="72.8" cy="161.4" r="2.25"/><circle cx="220.7" cy="71" r="2.25"/><circle cx="189" cy="91.3" r="2.25"/><circle cx="54.6" cy="173.4" r="2.25"/><circle cx="189.4" cy="84.3" r="2.25"/><circle cx="91.6" cy="139" r="2.25"/><circle cx="71.1" cy="157.6" r="2.25"/><circle cx="157.1" cy="99.8" r="2.25"/><circle cx="211" cy="83.3" r="2.25"/><circle cx="183.5" cy="92" r="2.25"/><circle cx="62.4" cy="164.1" r="2.25"/><circle cx="168.8" cy="91.4" r="2.25"/><circle cx="58.3" cy="173.6" r="2.25"/><circle cx="85.8" cy="144.3" r="2.25"/><circle cx="41.4" cy="182.8" r="2.25"/><circle cx="107.4" cy="129.2" r="2.25"/><circle cx="169" cy="99.7" r="2.25"/><circle cx="188.6" cy="82.3" r="2.25"/><circle cx="129.8" cy="115.7" r="2.25"/><circle cx="82.9" cy="150.5" r="2.25"/><circle cx="156.5" cy="98.1" r="2.25"/><circle cx="137.9" cy="119.3" r="2.25"/><circle cx="75.3" cy="150.3" r="2.25"/><circle cx="198.6" cy="87.2" r="2.25"/><circle cx="37.3" cy="176.3" r="2.25"/><circle cx="104.7" cy="136.5" r="2.25"/><circle cx="116.7" cy="126" r="2.25"/><circle cx="116" cy="121.5" r="2.25"/><circle cx="83.5" cy="152.1" r="2.25"/><circle cx="164.6" cy="95.5" r="2.25"/><circle cx="77.9" cy="155.2" r="2.25"/><circle cx="182" cy="93.6" r="2.25"/><circle cx="163.2" cy="96.7" r="2.25"/><circle cx="90.4" cy="144.9" r="2.25"/><circle cx="137.1" cy="119.2" r="2.25"/><circle cx="74.9" cy="160" r="2.25"/><circle cx="169.3" cy="94.8" r="2.25"/><circle cx="48.5" cy="176.3" r="2.25"/><circle cx="75.9" cy="150" r="2.25"/><circle cx="203.8" cy="78.4" r="2.25"/><circle cx="181.3" cy="86.6" r="2.25"/><circle cx="169" cy="95.3" r="2.25"/><circle cx="75.4" cy="162.2" r="2.25"/><circle cx="63.5" cy="161.7" r="2.25"/><circle cx="143" cy="106.4" r="2.25"/><circle cx="130.5" cy="119.6" r="2.25"/><circle cx="198.6" cy="87.8" r="2.25"/><circle cx="38.6" cy="178" r="2.25"/><circle cx="133.7" cy="114.3" r="2.25"/><circle cx="166.7" cy="97.9" r="2.25"/><circle cx="187.3" cy="88.4" r="2.25"/><circle cx="119.1" cy="126.7" r="2.25"/><circle cx="190.7" cy="85.7" r="2.25"/><circle cx="127.3" cy="120.3" r="2.25"/><circle cx="158.2" cy="98.3" r="2.25"/><circle cx="110" cy="135.7" r="2.25"/><circle cx="74.1" cy="157.5" r="2.25"/><circle cx="84.4" cy="152.1" r="2.25"/><circle cx="114.8" cy="126.4" r="2.25"/><circle cx="164.9" cy="95.6" r="2.25"/><circle cx="90.4" cy="140.8" r="2.25"/><circle cx="191.7" cy="87.8" r="2.25"/><circle cx="208.9" cy="81.9" r="2.25"/><circle cx="147.4" cy="108.1" r="2.25"/><circle cx="90.3" cy="141" r="2.25"/><circle cx="42.5" cy="175.2" r="2.25"/><circle cx="169.5" cy="94.6" r="2.25"/><circle cx="41.4" cy="175.2" r="2.25"/><circle cx="187.7" cy="91.9" r="2.25"/><circle cx="117.7" cy="124.8" r="2.25"/><circle cx="43.3" cy="175.2" r="2.25"/><circle cx="182.3" cy="95.9" r="2.25"/><circle cx="146.4" cy="102.5" r="2.25"/><circle cx="167.7" cy="95.5" r="2.25"/><circle cx="130.6" cy="122.2" r="2.25"/><circle cx="102.1" cy="131.1" r="2.25"/><circle cx="93.2" cy="146.6" r="2.25"/><circle cx="117.7" cy="123.9" r="2.25"/><circle cx="152.2" cy="101.6" r="2.25"/><circle cx="51.3" cy="174.9" r="2.25"/><circle cx="112.2" cy="125.3" r="2.25"/><circle cx="208.5" cy="84.5" r="2.25"/><circle cx="125.1" cy="124.5" r="2.25"/><circle cx="172.9" cy="98.7" r="2.25"/><circle cx="31" cy="183.7" r="2.25"/><circle cx="148.3" cy="103.7" r="2.25"/><circle cx="97.8" cy="140.8" r="2.25"/><circle cx="225.1" cy="75.8" r="2.25"/><circle cx="118.9" cy="128.5" r="2.25"/><circle cx="75.9" cy="158.5" r="2.25"/><circle cx="136.2" cy="119.9" r="2.25"/><circle cx="80" cy="145.1" r="2.25"/><circle cx="55.6" cy="165.4" r="2.25"/><circle cx="152.3" cy="101.8" r="2.25"/><circle cx="33.4" cy="183" r="2.25"/><circle cx="84.1" cy="148.6" r="2.25"/><circle cx="163.5" cy="99.9" r="2.25"/><circle cx="212.3" cy="76.6" r="2.25"/><circle cx="81.3" cy="152.2" r="2.25"/><circle cx="73.7" cy="158.9" r="2.25"/><circle cx="115.6" cy="125.7" r="2.25"/><circle cx="26.2" cy="192.7" r="2.25"/><circle cx="212" cy="72.1" r="2.25"/><circle cx="22" cy="186.4" r="2.25"/><circle cx="59.8" cy="172.5" r="2.25"/><circle cx="161.3" cy="102" r="2.25"/><circle cx="173.5" cy="93.3" r="2.25"/><circle cx="69.8" cy="156.5" r="2.25"/><circle cx="163" cy="98.9" r="2.25"/><circle cx="102.4" cy="129.3" r="2.25"/><circle cx="165.4" cy="102.1" r="2.25"/><circle cx="91.9" cy="142.4" r="2.25"/><circle cx="122.4" cy="124" r="2.25"/><circle cx="217.3" cy="80.5" r="2.25"/><circle cx="170.5" cy="97.9" r="2.25"/><circle cx="94.8" cy="135.7" r="2.25"/><circle cx="161.8" cy="101.6" r="2.25"/><circle cx="141.2" cy="117.3" r="2.25"/><circle cx="90.6" cy="143.5" r="2.25"/><circle cx="28.8" cy="184.7" r="2.25"/><circle cx="151.9" cy="100.6" r="2.25"/><circle cx="111" cy="128.9" r="2.25"/><circle cx="26.9" cy="191.8" r="2.25"/><circle cx="46.7" cy="173.9" r="2.25"/><circle cx="86.9" cy="147.6" r="2.25"/><circle cx="73.1" cy="154.2" r="2.25"/><circle cx="106" cy="136.3" r="2.25"/><circle cx="78.9" cy="150.7" r="2.25"/><circle cx="122.2" cy="117.9" r="2.25"/><circle cx="132.9" cy="116.2" r="2.25"/><circle cx="137.9" cy="118.6" r="2.25"/><circle cx="129.6" cy="119.2" r="2.25"/><circle cx="27" cy="191.6" r="2.25"/><circle cx="48.5" cy="176.9" r="2.25"/><circle cx="150.6" cy="100.7" r="2.25"/><circle cx="78.4" cy="155.7" r="2.25"/><circle cx="171.3" cy="91.3" r="2.25"/><circle cx="131.6" cy="116.3" r="2.25"/><circle cx="153.5" cy="108.1" r="2.25"/><circle cx="49.4" cy="179" r="2.25"/><circle cx="84.6" cy="145.3" r="2.25"/><circle cx="149.7" cy="107.9" r="2.25"/><circle cx="136.2" cy="114.3" r="2.25"/><circle cx="84.4" cy="150.5" r="2.25"/><circle cx="74.3" cy="158.3" r="2.25"/><circle cx="73" cy="159.3" r="2.25"/><circle cx="59.6" cy="173.2" r="2.25"/><circle cx="149.9" cy="101.7" r="2.25"/><circle cx="62.2" cy="163" r="2.25"/><circle cx="111.7" cy="127.1" r="2.25"/><circle cx="221.4" cy="71.4" r="2.25"/><circle cx="168.2" cy="98.1" r="2.25"/><circle cx="19.1" cy="192.8" r="2.25"/><circle cx="201.2" cy="81.1" r="2.25"/><circle cx="156.3" cy="107.8" r="2.25"/><circle cx="190.1" cy="82.6" r="2.25"/><circle cx="33.2" cy="185.3" r="2.25"/><circle cx="46.2" cy="172.6" r="2.25"/><circle cx="177.4" cy="97.3" r="2.25"/><circle cx="198.5" cy="88.4" r="2.25"/><circle cx="80.2" cy="149.8" r="2.25"/><circle cx="100.1" cy="131" r="2.25"/><circle cx="92.7" cy="141.1" r="2.25"/><circle cx="60.5" cy="162.5" r="2.25"/><circle cx="161.4" cy="97.6" r="2.25"/><circle cx="158.6" cy="101.3" r="2.25"/><circle cx="120.7" cy="129.1" r="2.25"/><circle cx="82.9" cy="152" r="2.25"/><circle cx="130.4" cy="116.6" r="2.25"/><circle cx="144.4" cy="111" r="2.25"/><circle cx="98" cy="144" r="2.25"/><circle cx="219.8" cy="69.7" r="2.25"/><circle cx="208.8" cy="80.4" r="2.25"/><circle cx="68.8" cy="166.7" r="2.25"/><circle cx="184.5" cy="85.4" r="2.25"/><circle cx="139.8" cy="116.1" r="2.25"/><circle cx="205.8" cy="80.3" r="2.25"/><circle cx="138.1" cy="115.4" r="2.25"/><circle cx="97" cy="136.8" r="2.25"/><circle cx="79.3" cy="152.1" r="2.25"/><circle cx="86.1" cy="146" r="2.25"/><circle cx="105.5" cy="137" r="2.25"/><circle cx="81.1" cy="153.4" r="2.25"/><circle cx="207.9" cy="84.4" r="2.25"/><circle cx="206.5" cy="84.4" r="2.25"/><circle cx="172.9" cy="93.5" r="2.25"/><circle cx="69" cy="161.3" r="2.25"/><circle cx="173.5" cy="98.3" r="2.25"/><circle cx="170.3" cy="95.3" r="2.25"/><circle cx="53.1" cy="165.9" r="2.25"/><circle cx="125.3" cy="119.5" r="2.25"/><circle cx="50" cy="175.7" r="2.25"/><circle cx="204.8" cy="82.8" r="2.25"/><circle cx="135.1" cy="113.3" r="2.25"/><circle cx="159.6" cy="99.6" r="2.25"/><circle cx="110" cy="130.4" r="2.25"/><circle cx="185.9" cy="86.6" r="2.25"/><circle cx="57.5" cy="163.4" r="2.25"/><circle cx="163.3" cy="104.2" r="2.25"/><circle cx="42.7" cy="181.9" r="2.25"/><circle cx="73.9" cy="158.2" r="2.25"/><circle cx="75.4" cy="149.8" r="2.25"/><circle cx="55" cy="171.6" r="2.25"/><circle cx="61.3" cy="168.5" r="2.25"/><circle cx="160.7" cy="100.5" r="2.25"/><circle cx="174.7" cy="92.4" r="2.25"/><circle cx="50.9" cy="167.4" r="2.25"/><circle cx="154.4" cy="100.2" r="2.25"/><circle cx="58" cy="163.8" r="2.25"/><circle cx="60" cy="169.8" r="2.25"/><circle cx="72.7" cy="155.1" r="2.25"/><circle cx="216.8" cy="74.1" r="2.25"/><circle cx="39.9" cy="178" r="2.25"/><circle cx="87.3" cy="148.4" r="2.25"/><circle cx="135.8" cy="113.9" r="2.25"/><circle cx="144.8" cy="111.9" r="2.25"/><circle cx="161.9" cy="101.6" r="2.25"/><circle cx="175.8" cy="97.3" r="2.25"/><circle cx="57.6" cy="167.3" r="2.25"/><circle cx="89.7" cy="143.1" r="2.25"/><circle cx="125.6" cy="118" r="2.25"/><circle cx="45.8" cy="181" r="2.25"/><circle cx="95.7" cy="136.6" r="2.25"/><circle cx="154.3" cy="99.9" r="2.25"/><circle cx="23.9" cy="187.2" r="2.25"/><circle cx="123.6" cy="125.6" r="2.25"/><circle cx="51.2" cy="175.9" r="2.25"/><circle cx="110.6" cy="131.6" r="2.25"/><circle cx="161.9" cy="95.6" r="2.25"/><circle cx="154.9" cy="103.9" r="2.25"/><circle cx="180.3" cy="95.4" r="2.25"/><circle cx="49.3" cy="168.3" r="2.25"/><circle cx="36.4" cy="184.7" r="2.25"/><circle cx="93.7" cy="146" r="2.25"/><circle cx="170" cy="98.5" r="2.25"/><circle cx="162.9" cy="99.9" r="2.25"/><circle cx="194.1" cy="87.9" r="2.25"/><circle cx="151.2" cy="104.9" r="2.25"/><circle cx="78.9" cy="152.1" r="2.25"/><circle cx="182.7" cy="95.1" r="2.25"/><circle cx="97.1" cy="136.7" r="2.25"/><circle cx="180.6" cy="92.9" r="2.25"/><circle cx="162.9" cy="102.8" r="2.25"/><circle cx="160.8" cy="100.6" r="2.25"/><circle cx="17" cy="186.1" r="2.25"/><circle cx="116.5" cy="123.1" r="2.25"/><circle cx="71.7" cy="162.9" r="2.25"/><circle cx="129.1" cy="113.5" r="2.25"/><circle cx="177" cy="94.4" r="2.25"/><circle cx="164.3" cy="94.9" r="2.25"/><circle cx="200.3" cy="88.3" r="2.25"/><circle cx="227" cy="76.1" r="2.25"/><circle cx="200.6" cy="86.2" r="2.25"/><circle cx="17.2" cy="192.3" r="2.25"/><circle cx="106.8" cy="127.7" r="2.25"/><circle cx="52.9" cy="169.1" r="2.25"/><circle cx="107.6" cy="127.5" r="2.25"/><circle cx="54.5" cy="164.9" r="2.25"/><circle cx="135.1" cy="117" r="2.25"/><circle cx="80.8" cy="156.6" r="2.25"/><circle cx="41" cy="179.6" r="2.25"/><circle cx="88" cy="147.3" r="2.25"/><circle cx="156.5" cy="106.4" r="2.25"/><circle cx="143.4" cy="114.9" r="2.25"/><circle cx="99.9" cy="140.4" r="2.25"/><circle cx="43.3" cy="172.9" r="2.25"/><circle cx="95.3" cy="133.5" r="2.25"/><circle cx="141.5" cy="109.7" r="2.25"/><circle cx="120.6" cy="117.5" r="2.25"/><circle cx="131.7" cy="114.1" r="2.25"/><circle cx="127.4" cy="113.5" r="2.25"/><circle cx="84.4" cy="146.4" r="2.25"/><circle cx="63.4" cy="168.3" r="2.25"/><circle cx="62.3" cy="166.5" r="2.25"/><circle cx="156.7" cy="103.6" r="2.25"/><circle cx="106" cy="137.8" r="2.25"/><circle cx="26.8" cy="184.2" r="2.25"/><circle cx="104.7" cy="129.9" r="2.25"/><circle cx="195.9" cy="79.5" r="2.25"/><circle cx="134.1" cy="111.2" r="2.25"/><circle cx="105.6" cy="135" r="2.25"/><circle cx="57.9" cy="172.5" r="2.25"/><circle cx="178.4" cy="91.4" r="2.25"/><circle cx="140.9" cy="106.4" r="2.25"/><circle cx="222.8" cy="71.9" r="2.25"/><circle cx="209.1" cy="75.2" r="2.25"/><circle cx="150.8" cy="108.7" r="2.25"/><circle cx="59.8" cy="164.8" r="2.25"/><circle cx="73.7" cy="162.6" r="2.25"/><circle cx="74.9" cy="152.1" r="2.25"/><circle cx="124.3" cy="121.5" r="2.25"/><circle cx="169.6" cy="91.7" r="2.25"/><circle cx="76.8" cy="160" r="2.25"/><circle cx="80.7" cy="146.5" r="2.25"/><circle cx="20.7" cy="187.1" r="2.25"/><circle cx="159.5" cy="97.6" r="2.25"/><circle cx="151.6" cy="110.1" r="2.25"/><circle cx="128.4" cy="114.1" r="2.25"/><circle cx="220.4" cy="73.1" r="2.25"/><circle cx="137.3" cy="117.5" r="2.25"/><circle cx="112" cy="130.2" r="2.25"/><circle cx="192.7" cy="84.8" r="2.25"/><circle cx="28.6" cy="189.3" r="2.25"/><circle cx="224.9" cy="74.1" r="2.25"/><circle cx="85.2" cy="143.3" r="2.25"/><circle cx="177.5" cy="97.2" r="2.25"/><circle cx="35.1" cy="177.7" r="2.25"/><circle cx="63" cy="165.2" r="2.25"/><circle cx="53.4" cy="175.9" r="2.25"/><circle cx="151.7" cy="109.9" r="2.25"/><circle cx="151.9" cy="100.6" r="2.25"/><circle cx="212.5" cy="73.7" r="2.25"/><circle cx="220.3" cy="73.8" r="2.25"/><circle cx="96.7" cy="138.1" r="2.25"/><circle cx="219.7" cy="76" r="2.25"/><circle cx="118.3" cy="121.2" r="2.25"/><circle cx="16.6" cy="193.2" r="2.25"/><circle cx="199.4" cy="80.4" r="2.25"/><circle cx="114.2" cy="123.1" r="2.25"/><circle cx="62.9" cy="160.8" r="2.25"/><circle cx="108.8" cy="130.7" r="2.25"/><circle cx="77.7" cy="148.7" r="2.25"/><circle cx="29.5" cy="187.2" r="2.25"/><circle cx="214.1" cy="72.5" r="2.25"/><circle cx="90.2" cy="139.4" r="2.25"/><circle cx="107.5" cy="129.4" r="2.25"/><circle cx="155.2" cy="100.3" r="2.25"/><circle cx="103.8" cy="131.4" r="2.25"/><circle cx="93.7" cy="137.1" r="2.25"/><circle cx="23.7" cy="184.4" r="2.25"/><circle cx="53.9" cy="166.1" r="2.25"/><circle cx="132.5" cy="119.9" r="2.25"/><circle cx="186.3" cy="87.3" r="2.25"/><circle cx="219.3" cy="72.8" r="2.25"/><circle cx="203.2" cy="84" r="2.25"/><circle cx="128.7" cy="120" r="2.25"/><circle cx="77.2" cy="153.7" r="2.25"/><circle cx="200.5" cy="87.1" r="2.25"/><circle cx="218.2" cy="69.9" r="2.25"/><circle cx="204.3" cy="81.9" r="2.25"/><circle cx="176" cy="95" r="2.25"/><circle cx="62.3" cy="166.4" r="2.25"/><circle cx="221.4" cy="73.7" r="2.25"/><circle cx="76.6" cy="153" r="2.25"/><circle cx="220.3" cy="70.2" r="2.25"/><circle cx="60.1" cy="161.2" r="2.25"/><circle cx="28.9" cy="181.8" r="2.25"/><circle cx="29.2" cy="180.9" r="2.25"/><circle cx="113.4" cy="124.6" r="2.25"/><circle cx="144.5" cy="110.5" r="2.25"/><circle cx="78.2" cy="157.3" r="2.25"/><circle cx="139.8" cy="112.9" r="2.25"/><circle cx="90.1" cy="147.5" r="2.25"/><circle cx="192.1" cy="84.4" r="2.25"/><circle cx="147.5" cy="101.5" r="2.25"/><circle cx="221.4" cy="75.5" r="2.25"/><circle cx="203.6" cy="76.4" r="2.25"/><circle cx="80.5" cy="155.2" r="2.25"/><circle cx="101.5" cy="132.6" r="2.25"/><circle cx="214.2" cy="81.8" r="2.25"/><circle cx="55.8" cy="166" r="2.25"/><circle cx="177.9" cy="90.7" r="2.25"/><circle cx="85.2" cy="142.8" r="2.25"/><circle cx="153.8" cy="106.4" r="2.25"/><circle cx="217.7" cy="70.5" r="2.25"/><circle cx="200.9" cy="77.7" r="2.25"/><circle cx="177.8" cy="94.8" r="2.25"/><circle cx="67.4" cy="167.2" r="2.25"/><circle cx="147.3" cy="102" r="2.25"/><circle cx="35.5" cy="187.1" r="2.25"/><circle cx="151.6" cy="109.9" r="2.25"/><circle cx="160.1" cy="102.1" r="2.25"/><circle cx="115.5" cy="131.1" r="2.25"/><circle cx="170.4" cy="99.5" r="2.25"/><circle cx="21.3" cy="188.2" r="2.25"/><circle cx="105.3" cy="129.3" r="2.25"/><circle cx="81.4" cy="155.5" r="2.25"/><circle cx="95.5" cy="139.6" r="2.25"/><circle cx="97.9" cy="133.8" r="2.25"/><circle cx="15.9" cy="190" r="2.25"/><circle cx="218.1" cy="72.5" r="2.25"/><circle cx="25.1" cy="190.2" r="2.25"/><circle cx="171" cy="89.6" r="2.25"/><circle cx="159.6" cy="100.7" r="2.25"/><circle cx="78.1" cy="155.9" r="2.25"/><circle cx="195.1" cy="83" r="2.25"/><circle cx="61.5" cy="161.1" r="2.25"/><circle cx="165.8" cy="92" r="2.25"/><circle cx="106.1" cy="137.2" r="2.25"/><circle cx="23.4" cy="192.9" r="2.25"/><circle cx="204.3" cy="78.7" r="2.25"/><circle cx="103.4" cy="137.2" r="2.25"/><circle cx="127.6" cy="117.6" r="2.25"/><circle cx="125.3" cy="126.6" r="2.25"/><circle cx="226.3" cy="73.5" r="2.25"/><circle cx="86.5" cy="143.3" r="2.25"/><circle cx="154.8" cy="107" r="2.25"/><circle cx="103.4" cy="136.3" r="2.25"/><circle cx="166.3" cy="97.1" r="2.25"/><circle cx="182.6" cy="85.3" r="2.25"/><circle cx="96.1" cy="138.3" r="2.25"/></g>
<g fill="#d9251f" stroke="#b51a17" stroke-width="0.35"><circle cx="90.6" cy="135.5" r="2.25"/><circle cx="181.5" cy="97.9" r="2.25"/><circle cx="112.1" cy="136" r="2.25"/><circle cx="194.9" cy="92.5" r="2.25"/><circle cx="220.6" cy="66.4" r="2.25"/><circle cx="89.6" cy="152" r="2.25"/><circle cx="125.3" cy="128.3" r="2.25"/><circle cx="68.8" cy="168.8" r="2.25"/><circle cx="68.6" cy="168.2" r="2.25"/><circle cx="106.2" cy="141.8" r="2.25"/><circle cx="138.2" cy="104.9" r="2.25"/><circle cx="115.2" cy="119.8" r="2.25"/><circle cx="75.6" cy="163.4" r="2.25"/><circle cx="129.1" cy="110.6" r="2.25"/><circle cx="146.8" cy="114.8" r="2.25"/><circle cx="157.4" cy="94" r="2.25"/><circle cx="109.5" cy="122.2" r="2.25"/><circle cx="74.1" cy="164.1" r="2.25"/><circle cx="74.9" cy="147.9" r="2.25"/><circle cx="31.4" cy="177.6" r="2.25"/><circle cx="93.2" cy="149.6" r="2.25"/><circle cx="96.6" cy="146.7" r="2.25"/><circle cx="93.7" cy="132.9" r="2.25"/><circle cx="147.1" cy="100.9" r="2.25"/><circle cx="15.5" cy="184.1" r="2.25"/><circle cx="94.8" cy="131.8" r="2.25"/><circle cx="211.5" cy="71.2" r="2.25"/><circle cx="67.6" cy="170" r="2.25"/><circle cx="198.3" cy="90.1" r="2.25"/><circle cx="148.9" cy="98.5" r="2.25"/><circle cx="46.6" cy="183.6" r="2.25"/><circle cx="223.2" cy="66" r="2.25"/><circle cx="129.2" cy="110.3" r="2.25"/><circle cx="42.3" cy="171.2" r="2.25"/><circle cx="168.7" cy="102.9" r="2.25"/><circle cx="155.8" cy="95.1" r="2.25"/><circle cx="153.4" cy="111.9" r="2.25"/><circle cx="121.7" cy="129.7" r="2.25"/><circle cx="221.2" cy="66.4" r="2.25"/><circle cx="142.9" cy="103.1" r="2.25"/><circle cx="94.5" cy="132.1" r="2.25"/><circle cx="163.3" cy="91.4" r="2.25"/><circle cx="45" cy="184.3" r="2.25"/><circle cx="114.5" cy="120" r="2.25"/><circle cx="94.1" cy="148.4" r="2.25"/><circle cx="49.8" cy="166.4" r="2.25"/><circle cx="130.8" cy="110" r="2.25"/><circle cx="163.9" cy="105.4" r="2.25"/><circle cx="44.3" cy="170.1" r="2.25"/><circle cx="193.6" cy="92.3" r="2.25"/><circle cx="139.9" cy="120.7" r="2.25"/><circle cx="74.2" cy="164.1" r="2.25"/><circle cx="14.1" cy="186" r="2.25"/><circle cx="35.2" cy="175.2" r="2.25"/><circle cx="91.5" cy="151.8" r="2.25"/><circle cx="66.3" cy="154.4" r="2.25"/><circle cx="55.8" cy="162.8" r="2.25"/><circle cx="54.2" cy="163.8" r="2.25"/><circle cx="217.3" cy="82.2" r="2.25"/><circle cx="67.7" cy="169.5" r="2.25"/><circle cx="76.9" cy="162.5" r="2.25"/><circle cx="62.7" cy="157.1" r="2.25"/><circle cx="151.7" cy="97.6" r="2.25"/><circle cx="206.7" cy="73" r="2.25"/><circle cx="164.7" cy="90.5" r="2.25"/><circle cx="14.2" cy="185.6" r="2.25"/><circle cx="167.4" cy="103.3" r="2.25"/><circle cx="59.4" cy="159.8" r="2.25"/><circle cx="215.8" cy="83.2" r="2.25"/><circle cx="187" cy="94.9" r="2.25"/><circle cx="170.7" cy="88.3" r="2.25"/><circle cx="179.2" cy="99.3" r="2.25"/><circle cx="144.9" cy="116.3" r="2.25"/><circle cx="192.5" cy="79.3" r="2.25"/><circle cx="64.5" cy="171.5" r="2.25"/><circle cx="38" cy="188.6" r="2.25"/><circle cx="84.5" cy="139.6" r="2.25"/><circle cx="129.9" cy="125" r="2.25"/><circle cx="202.1" cy="88.4" r="2.25"/><circle cx="81.5" cy="141.8" r="2.25"/><circle cx="205.1" cy="88.2" r="2.25"/><circle cx="176.9" cy="99.3" r="2.25"/><circle cx="132.9" cy="109.3" r="2.25"/><circle cx="212.7" cy="70.7" r="2.25"/><circle cx="135.9" cy="106.8" r="2.25"/><circle cx="47.1" cy="168.4" r="2.25"/><circle cx="28.2" cy="179.6" r="2.25"/><circle cx="45" cy="184.5" r="2.25"/><circle cx="93.1" cy="133.4" r="2.25"/><circle cx="77.4" cy="146.2" r="2.25"/><circle cx="197.9" cy="77.1" r="2.25"/><circle cx="154.8" cy="95.3" r="2.25"/><circle cx="52.5" cy="179.8" r="2.25"/><circle cx="173.9" cy="101" r="2.25"/><circle cx="178.7" cy="98.8" r="2.25"/><circle cx="133" cy="123.6" r="2.25"/><circle cx="96.8" cy="131.1" r="2.25"/><circle cx="92.4" cy="149.5" r="2.25"/><circle cx="163.2" cy="106" r="2.25"/><circle cx="45" cy="168.7" r="2.25"/><circle cx="186.5" cy="80.9" r="2.25"/><circle cx="37.8" cy="190.3" r="2.25"/><circle cx="220" cy="67.4" r="2.25"/><circle cx="130.3" cy="110.4" r="2.25"/><circle cx="119.1" cy="132.1" r="2.25"/><circle cx="213.6" cy="70" r="2.25"/><circle cx="78.8" cy="145.1" r="2.25"/><circle cx="94" cy="133" r="2.25"/><circle cx="97.3" cy="145.6" r="2.25"/><circle cx="211.4" cy="84.4" r="2.25"/><circle cx="42.2" cy="171.2" r="2.25"/><circle cx="138.5" cy="119.9" r="2.25"/><circle cx="25.3" cy="180.6" r="2.25"/><circle cx="161.1" cy="92.5" r="2.25"/><circle cx="29.9" cy="192.4" r="2.25"/><circle cx="111.2" cy="136.6" r="2.25"/><circle cx="221.6" cy="66.5" r="2.25"/><circle cx="202.5" cy="89.4" r="2.25"/><circle cx="65.3" cy="155.4" r="2.25"/><circle cx="151.1" cy="113.5" r="2.25"/><circle cx="88.3" cy="136.4" r="2.25"/><circle cx="217.1" cy="82.3" r="2.25"/><circle cx="69.5" cy="152.4" r="2.25"/><circle cx="81.3" cy="160.3" r="2.25"/><circle cx="200.2" cy="89.4" r="2.25"/><circle cx="132" cy="109.8" r="2.25"/><circle cx="25.4" cy="180.3" r="2.25"/><circle cx="112.5" cy="136.2" r="2.25"/><circle cx="115.9" cy="135.3" r="2.25"/><circle cx="96.7" cy="146.9" r="2.25"/><circle cx="22.3" cy="182.3" r="2.25"/><circle cx="44.4" cy="170.4" r="2.25"/><circle cx="109.9" cy="122.4" r="2.25"/><circle cx="146.8" cy="100.7" r="2.25"/><circle cx="82" cy="141.2" r="2.25"/><circle cx="44" cy="184.7" r="2.25"/><circle cx="17.9" cy="183.2" r="2.25"/><circle cx="176.6" cy="84.7" r="2.25"/><circle cx="123.8" cy="129.6" r="2.25"/><circle cx="105.4" cy="140.9" r="2.25"/><circle cx="37.9" cy="174" r="2.25"/><circle cx="77.2" cy="162.6" r="2.25"/><circle cx="200.9" cy="76" r="2.25"/><circle cx="181.2" cy="83.7" r="2.25"/><circle cx="181.2" cy="84" r="2.25"/><circle cx="172.2" cy="88.1" r="2.25"/><circle cx="204.1" cy="73.5" r="2.25"/><circle cx="64.5" cy="155.8" r="2.25"/><circle cx="130.5" cy="124.7" r="2.25"/><circle cx="91.2" cy="151.5" r="2.25"/><circle cx="50.2" cy="181.6" r="2.25"/><circle cx="60.4" cy="175.1" r="2.25"/><circle cx="60.6" cy="157.6" r="2.25"/><circle cx="113.7" cy="135.7" r="2.25"/><circle cx="179.5" cy="98.4" r="2.25"/><circle cx="90.2" cy="135" r="2.25"/><circle cx="133.8" cy="123.5" r="2.25"/><circle cx="185.1" cy="95.7" r="2.25"/><circle cx="156.5" cy="94.5" r="2.25"/><circle cx="65.9" cy="154.8" r="2.25"/><circle cx="185.8" cy="95.7" r="2.25"/><circle cx="224.7" cy="79" r="2.25"/><circle cx="210" cy="71.7" r="2.25"/><circle cx="139.1" cy="119.5" r="2.25"/><circle cx="94.1" cy="148.3" r="2.25"/><circle cx="143.6" cy="101.9" r="2.25"/><circle cx="162.8" cy="91.5" r="2.25"/><circle cx="57" cy="178.3" r="2.25"/><circle cx="94.7" cy="132.9" r="2.25"/><circle cx="174.8" cy="100.8" r="2.25"/><circle cx="30.1" cy="192.9" r="2.25"/><circle cx="223.3" cy="65.9" r="2.25"/><circle cx="102.8" cy="127.7" r="2.25"/><circle cx="150" cy="99" r="2.25"/><circle cx="54.6" cy="162.3" r="2.25"/><circle cx="87.4" cy="154.5" r="2.25"/><circle cx="199.5" cy="89.5" r="2.25"/><circle cx="193.7" cy="77.6" r="2.25"/><circle cx="174.9" cy="101" r="2.25"/><circle cx="222.9" cy="80.1" r="2.25"/><circle cx="121.6" cy="129.9" r="2.25"/><circle cx="81.5" cy="158.5" r="2.25"/><circle cx="46.9" cy="184.8" r="2.25"/><circle cx="174" cy="101.9" r="2.25"/><circle cx="35.7" cy="189.4" r="2.25"/><circle cx="124.9" cy="128.3" r="2.25"/><circle cx="64.4" cy="171.4" r="2.25"/><circle cx="104.1" cy="141.2" r="2.25"/><circle cx="16.4" cy="184.9" r="2.25"/><circle cx="191.2" cy="80.1" r="2.25"/><circle cx="126.7" cy="112.5" r="2.25"/><circle cx="86.5" cy="154.4" r="2.25"/><circle cx="22.9" cy="181.2" r="2.25"/><circle cx="36.4" cy="189.2" r="2.25"/><circle cx="182.5" cy="97.2" r="2.25"/><circle cx="89.6" cy="153.6" r="2.25"/><circle cx="63.7" cy="156.9" r="2.25"/><circle cx="73.4" cy="165.8" r="2.25"/><circle cx="91.8" cy="151" r="2.25"/><circle cx="78.8" cy="161.9" r="2.25"/><circle cx="144.6" cy="116.7" r="2.25"/><circle cx="179" cy="85.2" r="2.25"/><circle cx="28.1" cy="179.6" r="2.25"/><circle cx="53.4" cy="163.5" r="2.25"/><circle cx="201.5" cy="90" r="2.25"/><circle cx="159.9" cy="92.9" r="2.25"/><circle cx="153.1" cy="111.1" r="2.25"/><circle cx="51.3" cy="166.2" r="2.25"/><circle cx="162.4" cy="91.7" r="2.25"/><circle cx="50.4" cy="181.4" r="2.25"/><circle cx="48.4" cy="182.1" r="2.25"/><circle cx="193.5" cy="93.1" r="2.25"/><circle cx="116.7" cy="117.4" r="2.25"/><circle cx="84.4" cy="140" r="2.25"/><circle cx="183.1" cy="97.2" r="2.25"/><circle cx="213.9" cy="69.8" r="2.25"/><circle cx="195.5" cy="91.2" r="2.25"/><circle cx="140.9" cy="104.2" r="2.25"/><circle cx="133.2" cy="108.8" r="2.25"/><circle cx="31.2" cy="191.4" r="2.25"/><circle cx="54.3" cy="163.8" r="2.25"/><circle cx="100.4" cy="128.5" r="2.25"/><circle cx="150.4" cy="113" r="2.25"/><circle cx="167.2" cy="89.4" r="2.25"/><circle cx="68.7" cy="153.2" r="2.25"/><circle cx="146" cy="116.6" r="2.25"/><circle cx="89.3" cy="152" r="2.25"/><circle cx="159.1" cy="93.3" r="2.25"/><circle cx="166.1" cy="89.8" r="2.25"/><circle cx="143.8" cy="116.9" r="2.25"/><circle cx="161.9" cy="106.6" r="2.25"/><circle cx="26" cy="194.4" r="2.25"/><circle cx="84.1" cy="157.1" r="2.25"/><circle cx="173.8" cy="87.1" r="2.25"/><circle cx="90.3" cy="135.8" r="2.25"/><circle cx="136.7" cy="121.6" r="2.25"/><circle cx="77" cy="162.4" r="2.25"/><circle cx="128.9" cy="126.8" r="2.25"/><circle cx="177" cy="84.8" r="2.25"/><circle cx="120.1" cy="131.1" r="2.25"/><circle cx="125.8" cy="128.3" r="2.25"/><circle cx="48.4" cy="167.6" r="2.25"/><circle cx="24.7" cy="194.8" r="2.25"/><circle cx="57.3" cy="177.2" r="2.25"/><circle cx="41.5" cy="171.8" r="2.25"/><circle cx="183.4" cy="83.3" r="2.25"/><circle cx="205.1" cy="73.7" r="2.25"/><circle cx="46.3" cy="168.8" r="2.25"/><circle cx="191" cy="79.9" r="2.25"/><circle cx="171.3" cy="102.2" r="2.25"/><circle cx="168.2" cy="103.2" r="2.25"/><circle cx="102.4" cy="142.3" r="2.25"/><circle cx="166" cy="90.3" r="2.25"/><circle cx="26.8" cy="193.8" r="2.25"/><circle cx="42.7" cy="170.8" r="2.25"/><circle cx="13.5" cy="185.5" r="2.25"/><circle cx="62.1" cy="173.2" r="2.25"/><circle cx="217.8" cy="68.7" r="2.25"/><circle cx="27.1" cy="179.3" r="2.25"/><circle cx="86.2" cy="156" r="2.25"/><circle cx="98.1" cy="145.2" r="2.25"/><circle cx="27.3" cy="193.7" r="2.25"/><circle cx="210.7" cy="84.8" r="2.25"/><circle cx="181.3" cy="83.8" r="2.25"/><circle cx="193.9" cy="92.6" r="2.25"/><circle cx="158.3" cy="109.1" r="2.25"/><circle cx="35.3" cy="189.4" r="2.25"/><circle cx="130" cy="109.6" r="2.25"/><circle cx="154.2" cy="96.1" r="2.25"/><circle cx="59" cy="176.2" r="2.25"/></g>
<g fill="#d9251f" stroke="#b51a17" stroke-width="0.35"><circle cx="35.3" cy="191.3" r="2.25"/><circle cx="47.9" cy="185.5" r="2.25"/><circle cx="13.9" cy="186" r="2.25"/><circle cx="59.2" cy="176.6" r="2.25"/><circle cx="48.5" cy="166.7" r="2.25"/><circle cx="59.7" cy="159.2" r="2.25"/><circle cx="23.9" cy="179.5" r="2.25"/><circle cx="37.1" cy="190.3" r="2.25"/><circle cx="72.4" cy="166.3" r="2.25"/><circle cx="50" cy="164.7" r="2.25"/><circle cx="71.8" cy="166.6" r="2.25"/><circle cx="74.7" cy="164.9" r="2.25"/><circle cx="36.6" cy="173.6" r="2.25"/><circle cx="54.3" cy="179.1" r="2.25"/><circle cx="51" cy="165.1" r="2.25"/><circle cx="55.6" cy="178.5" r="2.25"/><circle cx="62.7" cy="174.7" r="2.25"/><circle cx="68.1" cy="171.7" r="2.25"/><circle cx="35.5" cy="175.3" r="2.25"/><circle cx="63.4" cy="175.1" r="2.25"/><circle cx="48.2" cy="167.4" r="2.25"/><circle cx="21.7" cy="198.4" r="2.25"/><circle cx="49" cy="183" r="2.25"/><circle cx="37.6" cy="173.5" r="2.25"/><circle cx="19.8" cy="197.7" r="2.25"/><circle cx="60.1" cy="157.9" r="2.25"/><circle cx="43.1" cy="170.3" r="2.25"/><circle cx="55.7" cy="179.6" r="2.25"/><circle cx="31.2" cy="177.3" r="2.25"/><circle cx="18.4" cy="199.4" r="2.25"/><circle cx="48" cy="164.5" r="2.25"/><circle cx="29.5" cy="178.2" r="2.25"/><circle cx="45.8" cy="168.5" r="2.25"/><circle cx="70.6" cy="167.9" r="2.25"/><circle cx="50.1" cy="181.9" r="2.25"/><circle cx="20.3" cy="197.5" r="2.25"/><circle cx="41.9" cy="171" r="2.25"/><circle cx="60.9" cy="174.9" r="2.25"/><circle cx="69.9" cy="169.1" r="2.25"/><circle cx="52.4" cy="163.1" r="2.25"/><circle cx="19.8" cy="198.7" r="2.25"/><circle cx="24.8" cy="179.7" r="2.25"/><circle cx="25.3" cy="195.4" r="2.25"/><circle cx="63" cy="174.8" r="2.25"/><circle cx="16" cy="184.4" r="2.25"/><circle cx="21.7" cy="181.7" r="2.25"/><circle cx="49.8" cy="183" r="2.25"/><circle cx="55.1" cy="161.8" r="2.25"/><circle cx="73" cy="166.5" r="2.25"/><circle cx="42.3" cy="170.8" r="2.25"/><circle cx="58.3" cy="159.6" r="2.25"/><circle cx="56.2" cy="178.6" r="2.25"/><circle cx="31" cy="177" r="2.25"/><circle cx="45.2" cy="185.2" r="2.25"/><circle cx="22.6" cy="196.8" r="2.25"/><circle cx="55.5" cy="179.3" r="2.25"/><circle cx="55.7" cy="179.4" r="2.25"/><circle cx="31.6" cy="192.1" r="2.25"/><circle cx="51.2" cy="165.1" r="2.25"/><circle cx="34.4" cy="173.8" r="2.25"/></g>
<g fill="#f2a36a" stroke="#dd874a" stroke-width="0.35"><circle cx="211.8" cy="79.4" r="2.25"/><circle cx="79.3" cy="155.8" r="2.25"/></g>
<g fill="#d9251f" stroke="#b51a17" stroke-width="0.35"><circle cx="131" cy="88" r="2.25"/><circle cx="121" cy="103" r="2.25"/><circle cx="126.5" cy="140" r="2.25"/><circle cx="106" cy="121" r="2.25"/><circle cx="73" cy="143" r="2.25"/><circle cx="84" cy="136" r="2.25"/><circle cx="163" cy="84" r="2.25"/><circle cx="175.7" cy="79.3" r="2.25"/><circle cx="197.4" cy="71.7" r="2.25"/><circle cx="98" cy="151" r="2.25"/><circle cx="140" cy="124" r="2.25"/><circle cx="60" cy="146" r="2.25"/><circle cx="40" cy="182" r="2.25"/></g>
<g fill="#f2a36a" stroke="#dd874a" stroke-width="0.35"><circle cx="171.9" cy="94.4" r="2.25"/><circle cx="210.6" cy="70.8" r="2.25"/><circle cx="205" cy="85" r="2.25"/><circle cx="176.9" cy="132.5" r="2.25"/></g>
<g fill="#ee6a3a" stroke="#cc4a22" stroke-width="0.35"><circle cx="124" cy="107.8" r="1.9"/><circle cx="91.3" cy="135.8" r="1.9"/></g>
<g fill="#b8ccba" stroke="#9db3a3" stroke-width="0.35"><circle cx="121" cy="109.5" r="1.9"/></g>
<g fill="#f8c994" stroke="#e8ad72" stroke-width="0.35"><circle cx="183" cy="141.8" r="1.9"/><circle cx="179" cy="145.3" r="1.9"/><circle cx="184.6" cy="160.7" r="1.9"/><circle cx="188.5" cy="173.6" r="1.9"/></g>
<g fill="#86a8d2" stroke="#6a8fc0" stroke-width="0.35"><circle cx="204" cy="91.6" r="2.25"/><circle cx="190" cy="152.4" r="2.25"/></g>
<g fill="#d9251f" stroke="#b51a17" stroke-width="0.35"><circle cx="138.8" cy="10.1" r="2.25"/><circle cx="141.8" cy="12" r="2.25"/><circle cx="141" cy="1.7" r="2.25"/><circle cx="143" cy="8.5" r="2.25"/><circle cx="140.3" cy="13.8" r="2.25"/><circle cx="134.6" cy="7.6" r="2.25"/><circle cx="141.7" cy="13.3" r="2.25"/><circle cx="142.8" cy="6.9" r="2.25"/><circle cx="140.8" cy="20.6" r="2.25"/><circle cx="134.9" cy="18.8" r="2.25"/><circle cx="144" cy="4.8" r="2.25"/><circle cx="143.3" cy="12.5" r="2.25"/><circle cx="138.7" cy="10.5" r="2.25"/><circle cx="137.7" cy="9.9" r="2.25"/><circle cx="142" cy="1" r="2.25"/><circle cx="141.7" cy="9.6" r="2.25"/><circle cx="143.4" cy="9.5" r="2.25"/><circle cx="138.7" cy="8.4" r="2.25"/><circle cx="142.7" cy="14.5" r="2.25"/><circle cx="138.5" cy="2.1" r="2.25"/><circle cx="140.2" cy="6.4" r="2.25"/><circle cx="139.2" cy="15.8" r="2.25"/><circle cx="142.3" cy="7.7" r="2.25"/><circle cx="140.7" cy="8.6" r="2.25"/><circle cx="140.2" cy="-0.6" r="2.25"/><circle cx="146.4" cy="13.8" r="2.25"/><circle cx="140.6" cy="4" r="2.25"/><circle cx="142.2" cy="19.6" r="2.25"/><circle cx="142.5" cy="13.9" r="2.25"/><circle cx="141.4" cy="10.3" r="2.25"/><circle cx="139.5" cy="18.1" r="2.25"/><circle cx="137.1" cy="6.9" r="2.25"/><circle cx="138.4" cy="13.6" r="2.25"/><circle cx="141.8" cy="16.4" r="2.25"/><circle cx="137.7" cy="1.7" r="2.25"/><circle cx="138.9" cy="6.6" r="2.25"/><circle cx="146.2" cy="4.5" r="2.25"/><circle cx="140.4" cy="7.9" r="2.25"/><circle cx="141.8" cy="9.8" r="2.25"/><circle cx="138.1" cy="5" r="2.25"/><circle cx="142.5" cy="11" r="2.25"/><circle cx="135.1" cy="11.9" r="2.25"/><circle cx="142" cy="-0.6" r="2.25"/><circle cx="141.5" cy="7.6" r="2.25"/><circle cx="144.5" cy="4.4" r="2.25"/><circle cx="142.6" cy="7.9" r="2.25"/><circle cx="143.7" cy="9.7" r="2.25"/><circle cx="144.7" cy="2.5" r="2.25"/><circle cx="141.5" cy="1.2" r="2.25"/><circle cx="143.1" cy="5.1" r="2.25"/><circle cx="143.6" cy="10.5" r="2.25"/><circle cx="136.4" cy="10.5" r="2.25"/><circle cx="141" cy="4.4" r="2.25"/><circle cx="141" cy="11.1" r="2.25"/><circle cx="139.7" cy="10.7" r="2.25"/><circle cx="138.1" cy="5.9" r="2.25"/><circle cx="141.8" cy="9.2" r="2.25"/><circle cx="139.2" cy="9.8" r="2.25"/><circle cx="141.3" cy="10.1" r="2.25"/><circle cx="138.2" cy="10.4" r="2.25"/><circle cx="136.9" cy="13.4" r="2.25"/><circle cx="141.9" cy="15.9" r="2.25"/><circle cx="140.9" cy="15.5" r="2.25"/><circle cx="139.1" cy="7.6" r="2.25"/><circle cx="141.7" cy="6.4" r="2.25"/><circle cx="142.7" cy="7.7" r="2.25"/><circle cx="142.3" cy="12.3" r="2.25"/><circle cx="141.5" cy="10.5" r="2.25"/><circle cx="139.4" cy="11.8" r="2.25"/><circle cx="139.1" cy="10.2" r="2.25"/></g>
<g fill="#f2a36a" stroke="#dd874a" stroke-width="0.35"><circle cx="134" cy="13.4" r="2.25"/><circle cx="138" cy="19" r="2.25"/><circle cx="143.7" cy="11.5" r="2.25"/><circle cx="133" cy="5.7" r="2.25"/><circle cx="144" cy="7" r="2.25"/></g>
<g fill="#b8ccba" stroke="#9db3a3" stroke-width="0.35"><circle cx="122.3" cy="17" r="2.25"/><circle cx="132.6" cy="20" r="2.25"/><circle cx="159" cy="12.4" r="2.25"/></g>
<g fill="#3a6cb5" stroke="#2a569c" stroke-width="0.35"><circle cx="125" cy="22" r="2.0"/></g>
<g fill="#d5dfea" stroke="#b5c5da" stroke-width="0.3"><circle cx="147" cy="33" r="0.9"/><circle cx="149" cy="36" r="0.9"/><circle cx="151.5" cy="45" r="0.9"/><circle cx="152.5" cy="48" r="0.9"/><circle cx="154" cy="56" r="0.9"/><circle cx="154.6" cy="64" r="0.9"/><circle cx="154.5" cy="74" r="0.9"/></g>
<g fill="#d9251f" stroke="#b51a17" stroke-width="0.35"><circle cx="145.2" cy="27.2" r="2.25"/><circle cx="150" cy="39.1" r="2.25"/><circle cx="153.8" cy="51" r="2.25"/><circle cx="153.3" cy="60.8" r="2.25"/></g>
<g fill="#f2a36a" stroke="#dd874a" stroke-width="0.35"><circle cx="154.5" cy="68.3" r="2.25"/><circle cx="154.5" cy="80.3" r="2.25"/></g>
<path d="M74 300.5L88.7 294.8L117.4 285.3L146 278.3L174.8 274.7L194.9 273.5" fill="none" stroke="#d9251f" stroke-width="6" stroke-linecap="round" stroke-linejoin="round"/>
<g stroke-width=".35"><circle class="r" cx="83.6" cy="297.2" r="2.25"/><circle class="o" cx="169.6" cy="273.4" r="2.25"/><circle class="r" cx="114.7" cy="283.4" r="2.25"/><circle class="r" cx="81.9" cy="294.4" r="2.25"/><circle class="o" cx="131.5" cy="280.9" r="2.25"/><circle class="r" cx="116.9" cy="285.6" r="2.25"/><circle class="o" cx="198.6" cy="273.7" r="2.25"/><circle class="r" cx="105.7" cy="291.1" r="2.25"/><circle class="r" cx="138.6" cy="277" r="2.25"/><circle class="r" cx="158.5" cy="274.7" r="2.25"/><circle class="r" cx="114.2" cy="284.5" r="2.25"/><circle class="o" cx="164.5" cy="276.7" r="2.25"/><circle class="r" cx="95.6" cy="293.8" r="2.25"/><circle class="r" cx="214.2" cy="276.4" r="2.25"/><circle class="r" cx="97.9" cy="295.9" r="2.25"/><circle class="r" cx="207.3" cy="271.9" r="2.25"/><circle class="r" cx="194" cy="269.4" r="2.25"/><circle class="r" cx="216" cy="278.4" r="2.25"/><circle class="o" cx="118.5" cy="282.9" r="2.25"/><circle class="r" cx="127" cy="287.7" r="2.25"/><circle class="p" cx="109.4" cy="289.4" r="2.25"/><circle class="r" cx="201" cy="273.7" r="2.25"/><circle class="r" cx="218.6" cy="277.1" r="2.25"/><circle class="r" cx="190.6" cy="271.9" r="2.25"/><circle class="r" cx="205.2" cy="275.5" r="2.25"/><circle class="o" cx="117.9" cy="285.2" r="2.25"/><circle class="r" cx="208.9" cy="277.4" r="2.25"/><circle class="r" cx="86.1" cy="295.9" r="2.25"/><circle class="r" cx="194.8" cy="271.5" r="2.25"/><circle class="r" cx="128.7" cy="278.3" r="2.25"/><circle class="p" cx="200.7" cy="277" r="2.25"/><circle class="r" cx="89.7" cy="296.7" r="2.25"/><circle class="r" cx="202.5" cy="277.4" r="2.25"/><circle class="r" cx="148.7" cy="277.9" r="2.25"/><circle class="r" cx="85.8" cy="298.2" r="2.25"/><circle class="r" cx="115.7" cy="283.9" r="2.25"/><circle class="r" cx="109.1" cy="287.6" r="2.25"/><circle class="r" cx="147.5" cy="274.8" r="2.25"/><circle class="r" cx="85.2" cy="291.3" r="2.25"/><circle class="r" cx="162.8" cy="272.6" r="2.25"/><circle class="o" cx="97.6" cy="291" r="2.25"/><circle class="r" cx="74.7" cy="302.1" r="2.25"/><circle class="r" cx="114.9" cy="282.1" r="2.25"/><circle class="r" cx="187.6" cy="274.2" r="2.25"/><circle class="r" cx="188.5" cy="270.4" r="2.25"/><circle class="r" cx="78.8" cy="297.1" r="2.25"/><circle class="r" cx="150.3" cy="278.7" r="2.25"/><circle class="r" cx="210.6" cy="273.5" r="2.25"/><circle class="r" cx="184.8" cy="272.2" r="2.25"/><circle class="r" cx="101.9" cy="289.2" r="2.25"/><circle class="r" cx="140.8" cy="282.9" r="2.25"/><circle class="o" cx="212.4" cy="275.2" r="2.25"/><circle class="r" cx="80.6" cy="300.1" r="2.25"/><circle class="r" cx="161.3" cy="273.3" r="2.25"/><circle class="r" cx="196.4" cy="274.1" r="2.25"/><circle class="r" cx="87.2" cy="291" r="2.25"/><circle class="r" cx="217.9" cy="277.3" r="2.25"/><circle class="p" cx="175" cy="274.3" r="2.25"/><circle class="r" cx="129.9" cy="281.8" r="2.25"/><circle class="r" cx="175.3" cy="274.9" r="2.25"/><circle class="o" cx="210" cy="274.2" r="2.25"/><circle class="r" cx="178.3" cy="274" r="2.25"/><circle class="r" cx="150.3" cy="273.1" r="2.25"/><circle class="r" cx="169.1" cy="275.2" r="2.25"/><circle class="r" cx="165.2" cy="275.1" r="2.25"/><circle class="o" cx="177.1" cy="272.1" r="2.25"/><circle class="r" cx="173.7" cy="271.2" r="2.25"/><circle class="r" cx="194.9" cy="275.6" r="2.25"/><circle class="r" cx="211.4" cy="279.1" r="2.25"/><circle class="r" cx="213.3" cy="275.8" r="2.25"/><circle class="r" cx="101" cy="287.1" r="2.25"/><circle class="r" cx="127.6" cy="287.1" r="2.25"/><circle class="r" cx="167.6" cy="277.1" r="2.25"/><circle class="r" cx="96" cy="291.1" r="2.25"/><circle class="r" cx="122.1" cy="285.7" r="2.25"/><circle class="r" cx="203.1" cy="276.8" r="2.25"/><circle class="r" cx="140.2" cy="279.1" r="2.25"/><circle class="r" cx="136.4" cy="280.1" r="2.25"/><circle class="p" cx="205.2" cy="270.3" r="2.25"/><circle class="r" cx="76.7" cy="303.9" r="2.25"/><circle class="r" cx="110.4" cy="289.4" r="2.25"/><circle class="r" cx="174.6" cy="273.6" r="2.25"/><circle class="r" cx="196.4" cy="270.6" r="2.25"/><circle class="p" cx="205" cy="274.6" r="2.25"/><circle class="r" cx="216.5" cy="276.4" r="2.25"/><circle class="r" cx="94.5" cy="290" r="2.25"/><circle class="r" cx="146.3" cy="278.9" r="2.25"/><circle class="r" cx="125.6" cy="284" r="2.25"/><circle class="r" cx="154.1" cy="279.2" r="2.25"/><circle class="r" cx="182.9" cy="272.3" r="2.25"/><circle class="r" cx="160.1" cy="278.5" r="2.25"/><circle class="r" cx="107.2" cy="291.1" r="2.25"/><circle class="o" cx="198.5" cy="274.5" r="2.25"/><circle class="r" cx="199" cy="272.3" r="2.25"/><circle class="r" cx="131.2" cy="280.3" r="2.25"/><circle class="r" cx="209" cy="275.7" r="2.25"/><circle class="r" cx="208.2" cy="278.8" r="2.25"/><circle class="r" cx="132.2" cy="281" r="2.25"/><circle class="r" cx="175.1" cy="276.9" r="2.25"/><circle class="r" cx="118.1" cy="284.9" r="2.25"/><circle class="o" cx="198.5" cy="278.9" r="2.25"/><circle class="o" cx="195.8" cy="273.6" r="2.25"/><circle class="r" cx="133" cy="285.8" r="2.25"/><circle class="r" cx="137.6" cy="275.7" r="2.25"/><circle class="r" cx="127" cy="282.8" r="2.25"/><circle class="o" cx="76.5" cy="296.1" r="2.25"/><circle class="r" cx="212" cy="276.4" r="2.25"/><circle class="r" cx="177.9" cy="270" r="2.25"/><circle class="r" cx="95.3" cy="294" r="2.25"/><circle class="r" cx="151.7" cy="277.5" r="2.25"/><circle class="r" cx="141.1" cy="279.4" r="2.25"/><circle class="r" cx="217.1" cy="277.9" r="2.25"/><circle class="o" cx="165.1" cy="281" r="2.25"/><circle class="r" cx="160.8" cy="272.7" r="2.25"/><circle class="r" cx="212.5" cy="279.6" r="2.25"/><circle class="r" cx="127.5" cy="282.7" r="2.25"/><circle class="r" cx="217.5" cy="278.3" r="2.25"/><circle class="r" cx="77.6" cy="295.8" r="2.25"/><circle class="r" cx="172.5" cy="273.9" r="2.25"/><circle class="r" cx="84.8" cy="297.2" r="2.25"/><circle class="o" cx="196.8" cy="275.9" r="2.25"/><circle class="r" cx="128" cy="281.8" r="2.25"/><circle class="r" cx="91.5" cy="292.6" r="2.25"/><circle class="r" cx="201.5" cy="275.8" r="2.25"/><circle class="r" cx="201.6" cy="277.8" r="2.25"/><circle class="p" cx="217.8" cy="282.2" r="2.25"/><circle class="o" cx="214.5" cy="280.7" r="2.25"/><circle class="r" cx="138.1" cy="280.6" r="2.25"/><circle class="o" cx="94" cy="290.3" r="2.25"/><circle class="r" cx="96.1" cy="295.2" r="2.25"/><circle class="r" cx="116.9" cy="286" r="2.25"/><circle class="p" cx="104.5" cy="289.3" r="2.25"/><circle class="r" cx="181.2" cy="273.6" r="2.25"/><circle class="r" cx="90.8" cy="294.2" r="2.25"/><circle class="r" cx="205.2" cy="275" r="2.25"/><circle class="r" cx="160.9" cy="280.6" r="2.25"/><circle class="r" cx="206.8" cy="274.1" r="2.25"/><circle class="r" cx="158.7" cy="278" r="2.25"/><circle class="r" cx="150.6" cy="281.1" r="2.25"/><circle class="r" cx="75.5" cy="302.2" r="2.25"/><circle class="o" cx="206.4" cy="275.8" r="2.25"/><circle class="r" cx="175" cy="277.2" r="2.25"/><circle class="r" cx="84.4" cy="296.6" r="2.25"/><circle class="r" cx="178.8" cy="275.9" r="2.25"/><circle class="r" cx="199.7" cy="273" r="2.25"/><circle class="r" cx="201" cy="282" r="2.25"/><circle class="r" cx="165.1" cy="276.6" r="2.25"/><circle class="r" cx="145.7" cy="277.5" r="2.25"/><circle class="r" cx="159.2" cy="273.4" r="2.25"/><circle class="r" cx="200.8" cy="276" r="2.25"/><circle class="r" cx="147.8" cy="282.4" r="2.25"/><circle class="r" cx="204.8" cy="279.3" r="2.25"/><circle class="r" cx="189" cy="274.1" r="2.25"/><circle class="r" cx="150" cy="276" r="2.25"/><circle class="r" cx="207.2" cy="272" r="2.25"/><circle class="o" cx="160.2" cy="277.7" r="2.25"/><circle class="r" cx="216.3" cy="279" r="2.25"/><circle class="r" cx="195.3" cy="276.3" r="2.25"/><circle class="r" cx="111.9" cy="285.4" r="2.25"/><circle class="r" cx="143.1" cy="281.4" r="2.25"/><circle class="o" cx="218.2" cy="278" r="2.25"/><circle class="r" cx="214.8" cy="277.4" r="2.25"/><circle class="r" cx="87.1" cy="296.9" r="2.25"/><circle class="r" cx="154.7" cy="280" r="2.25"/><circle class="r" cx="215.5" cy="273" r="2.25"/><circle class="r" cx="209.6" cy="278.9" r="2.25"/><circle class="o" cx="141" cy="281.5" r="2.25"/><circle class="r" cx="206.4" cy="277.3" r="2.25"/><circle class="r" cx="131.8" cy="283.6" r="2.25"/><circle class="o" cx="144.1" cy="283.2" r="2.25"/><circle class="r" cx="147.2" cy="279.4" r="2.25"/><circle class="r" cx="129.4" cy="279.9" r="2.25"/><circle class="o" cx="135.5" cy="279.4" r="2.25"/><circle class="r" cx="155.4" cy="279.8" r="2.25"/><circle class="r" cx="194.5" cy="277.1" r="2.25"/><circle class="r" cx="83.9" cy="298" r="2.25"/><circle class="r" cx="218.9" cy="276.1" r="2.25"/><circle class="r" cx="109.5" cy="287.1" r="2.25"/><circle class="r" cx="98.3" cy="287.1" r="2.25"/><circle class="o" cx="141" cy="277.3" r="2.25"/><circle class="r" cx="84.7" cy="296.4" r="2.25"/><circle class="r" cx="208.6" cy="275.8" r="2.25"/><circle class="r" cx="78.7" cy="295.3" r="2.25"/><circle class="r" cx="100.9" cy="286.8" r="2.25"/><circle class="r" cx="162.9" cy="273.5" r="2.25"/><circle class="r" cx="162.1" cy="274.5" r="2.25"/><circle class="r" cx="125.3" cy="284.9" r="2.25"/><circle class="o" cx="142.9" cy="282.2" r="2.25"/><circle class="r" cx="129" cy="283.7" r="2.25"/><circle class="r" cx="84.8" cy="298.8" r="2.25"/><circle class="r" cx="162.2" cy="277.2" r="2.25"/><circle class="r" cx="216.7" cy="280.6" r="2.25"/><circle class="o" cx="81.2" cy="294.9" r="2.25"/><circle class="r" cx="180.4" cy="270" r="2.25"/><circle class="r" cx="135.3" cy="283.4" r="2.25"/><circle class="r" cx="215.6" cy="281" r="2.25"/><circle class="r" cx="82.7" cy="300.1" r="2.25"/><circle class="r" cx="176.9" cy="278.5" r="2.25"/><circle class="o" cx="140.6" cy="283.3" r="2.25"/><circle class="r" cx="200.2" cy="278.7" r="2.25"/><circle class="r" cx="120.9" cy="287.7" r="2.25"/><circle class="r" cx="207.9" cy="273.8" r="2.25"/><circle class="r" cx="168.8" cy="274.8" r="2.25"/><circle class="r" cx="81.1" cy="300.4" r="2.25"/><circle class="r" cx="198.5" cy="274.8" r="2.25"/><circle class="o" cx="118.7" cy="289.6" r="2.25"/><circle class="r" cx="184.4" cy="276.2" r="2.25"/><circle class="p" cx="201.3" cy="272.9" r="2.25"/><circle class="r" cx="202.4" cy="271.2" r="2.25"/><circle class="r" cx="207.4" cy="272.4" r="2.25"/><circle class="r" cx="187" cy="273.7" r="2.25"/><circle class="p" cx="161.2" cy="276.8" r="2.25"/><circle class="r" cx="100.5" cy="291.5" r="2.25"/><circle class="r" cx="104.9" cy="287.8" r="2.25"/><circle class="r" cx="217.7" cy="276.7" r="2.25"/><circle class="r" cx="116.6" cy="284.8" r="2.25"/><circle class="r" cx="219.2" cy="278.4" r="2.25"/><circle class="r" cx="122" cy="283.9" r="2.25"/><circle class="r" cx="84.5" cy="293.1" r="2.25"/><circle class="r" cx="156" cy="276.1" r="2.25"/><circle class="r" cx="196.8" cy="277.6" r="2.25"/><circle class="r" cx="214.1" cy="275.3" r="2.25"/><circle class="r" cx="90.3" cy="291.2" r="2.25"/><circle class="r" cx="199.1" cy="275.1" r="2.25"/><circle class="r" cx="147.5" cy="275.7" r="2.25"/><circle class="r" cx="128.6" cy="285" r="2.25"/><circle class="r" cx="195.1" cy="274" r="2.25"/><circle class="r" cx="135.7" cy="284.3" r="2.25"/><circle class="r" cx="202.7" cy="274.9" r="2.25"/><circle class="r" cx="102.8" cy="290.4" r="2.25"/><circle class="r" cx="101.1" cy="289.8" r="2.25"/><circle class="o" cx="205.2" cy="278.3" r="2.25"/><circle class="r" cx="129.2" cy="286.2" r="2.25"/><circle class="r" cx="91.3" cy="291.3" r="2.25"/><circle class="r" cx="218" cy="276" r="2.25"/><circle class="r" cx="215.9" cy="279.4" r="2.25"/><circle class="r" cx="196.8" cy="278.5" r="2.25"/><circle class="p" cx="190" cy="273.6" r="2.25"/><circle class="r" cx="117.6" cy="286.2" r="2.25"/><circle class="r" cx="102" cy="294.9" r="2.25"/><circle class="o" cx="174.6" cy="276.7" r="2.25"/><circle class="r" cx="99.4" cy="293" r="2.25"/><circle class="r" cx="203.7" cy="276.1" r="2.25"/><circle class="o" cx="74.3" cy="298.8" r="2.25"/><circle class="r" cx="86.9" cy="295.7" r="2.25"/><circle class="r" cx="169.6" cy="271.9" r="2.25"/><circle class="r" cx="163.2" cy="275.8" r="2.25"/><circle class="r" cx="78.9" cy="297.4" r="2.25"/><circle class="r" cx="115.5" cy="286" r="2.25"/><circle class="o" cx="140.1" cy="277.4" r="2.25"/><circle class="r" cx="211.2" cy="280.1" r="2.25"/><circle class="r" cx="141.7" cy="281.5" r="2.25"/><circle class="r" cx="74.7" cy="300.1" r="2.25"/><circle class="r" cx="199.3" cy="274.4" r="2.25"/><circle class="r" cx="176.8" cy="270.7" r="2.25"/><circle class="r" cx="181.8" cy="274.2" r="2.25"/><circle class="r" cx="97" cy="292.8" r="2.25"/><circle class="r" cx="198.5" cy="276.2" r="2.25"/><circle class="o" cx="177.5" cy="273.2" r="2.25"/><circle class="o" cx="205.5" cy="272.3" r="2.25"/><circle class="p" cx="116.6" cy="286.1" r="2.25"/><circle class="r" cx="213.5" cy="280.1" r="2.25"/><circle class="r" cx="167.4" cy="273" r="2.25"/><circle class="r" cx="198.5" cy="277.1" r="2.25"/><circle class="r" cx="124.6" cy="284" r="2.25"/><circle class="r" cx="125.3" cy="279.3" r="2.25"/><circle class="r" cx="125.4" cy="282.7" r="2.25"/><circle class="r" cx="206.1" cy="272.5" r="2.25"/><circle class="r" cx="190.2" cy="274.8" r="2.25"/><circle class="r" cx="79.5" cy="301.5" r="2.25"/><circle class="r" cx="204.1" cy="270.7" r="2.25"/><circle class="r" cx="186.5" cy="270.8" r="2.25"/><circle class="r" cx="149.2" cy="277.7" r="2.25"/><circle class="r" cx="87.2" cy="294.2" r="2.25"/><circle class="r" cx="175.8" cy="270.3" r="2.25"/><circle class="o" cx="84.2" cy="298.3" r="2.25"/><circle class="r" cx="204.4" cy="271" r="2.25"/><circle class="r" cx="108" cy="293.1" r="2.25"/><circle class="r" cx="189.8" cy="276.4" r="2.25"/><circle class="r" cx="93.9" cy="293.7" r="2.25"/><circle class="r" cx="194.3" cy="269.4" r="2.25"/><circle class="r" cx="210" cy="273.3" r="2.25"/><circle class="p" cx="126.3" cy="281.5" r="2.25"/><circle class="r" cx="119.8" cy="283.7" r="2.25"/><circle class="r" cx="159.2" cy="278.4" r="2.25"/><circle class="r" cx="203.5" cy="276.3" r="2.25"/><circle class="r" cx="163" cy="274.6" r="2.25"/><circle class="r" cx="201.7" cy="275.1" r="2.25"/><circle class="r" cx="151" cy="277.6" r="2.25"/><circle class="r" cx="165" cy="280" r="2.25"/><circle class="r" cx="81.7" cy="299.5" r="2.25"/><circle class="r" cx="139" cy="280.5" r="2.25"/><circle class="r" cx="146" cy="279.7" r="2.25"/><circle class="r" cx="200.3" cy="271.8" r="2.25"/><circle class="r" cx="186.5" cy="269.6" r="2.25"/><circle class="r" cx="97" cy="291.1" r="2.25"/><circle class="r" cx="165.9" cy="275.6" r="2.25"/><circle class="r" cx="201.1" cy="272.8" r="2.25"/><circle class="r" cx="92.5" cy="295" r="2.25"/><circle class="r" cx="72.9" cy="296.1" r="2.25"/><circle class="r" cx="106.7" cy="289.6" r="2.25"/><circle class="r" cx="144.1" cy="274.3" r="2.25"/><circle class="r" cx="163.8" cy="276.4" r="2.25"/><circle class="r" cx="196.3" cy="275.3" r="2.25"/><circle class="r" cx="210.7" cy="275.8" r="2.25"/><circle class="r" cx="136.3" cy="283" r="2.25"/><circle class="r" cx="159.5" cy="274.9" r="2.25"/><circle class="r" cx="219.2" cy="277.5" r="2.25"/><circle class="p" cx="140.4" cy="284.6" r="2.25"/><circle class="p" cx="215.8" cy="288.6" r="2.25"/><circle class="r" cx="187.2" cy="273.4" r="2.25"/><circle class="r" cx="106.1" cy="289.2" r="2.25"/><circle class="r" cx="95" cy="296.6" r="2.25"/><circle class="r" cx="105.4" cy="288" r="2.25"/><circle class="r" cx="149.2" cy="273.8" r="2.25"/><circle class="r" cx="124.9" cy="283.2" r="2.25"/><circle class="r" cx="194.2" cy="274.6" r="2.25"/><circle class="r" cx="77.1" cy="299.3" r="2.25"/><circle class="r" cx="84.6" cy="293.8" r="2.25"/><circle class="p" cx="179.9" cy="270.9" r="2.25"/><circle class="r" cx="213.7" cy="273.1" r="2.25"/><circle class="r" cx="76.2" cy="302.7" r="2.25"/><circle class="r" cx="217.3" cy="277.3" r="2.25"/><circle class="r" cx="87.8" cy="290.9" r="2.25"/><circle class="r" cx="207.8" cy="278.4" r="2.25"/><circle class="r" cx="170.4" cy="272.6" r="2.25"/><circle class="r" cx="211.7" cy="281.3" r="2.25"/><circle class="p" cx="169.7" cy="272.7" r="2.25"/><circle class="r" cx="176.4" cy="274.7" r="2.25"/><circle class="r" cx="87.8" cy="297.4" r="2.25"/><circle class="p" cx="206.9" cy="282.5" r="2.25"/><circle class="r" cx="196.3" cy="272.5" r="2.25"/><circle class="r" cx="215" cy="274.9" r="2.25"/><circle class="r" cx="193" cy="271.4" r="2.25"/><circle class="r" cx="205.7" cy="274.3" r="2.25"/><circle class="r" cx="167" cy="279.3" r="2.25"/><circle class="r" cx="85.4" cy="296.4" r="2.25"/><circle class="r" cx="197.1" cy="272.4" r="2.25"/><circle class="r" cx="191.6" cy="274.3" r="2.25"/><circle class="o" cx="151.5" cy="275" r="2.25"/><circle class="r" cx="145.5" cy="276.3" r="2.25"/><circle class="r" cx="207.8" cy="279.8" r="2.25"/><circle class="r" cx="90.4" cy="294.7" r="2.25"/><circle class="r" cx="136.4" cy="280.5" r="2.25"/><circle class="r" cx="146" cy="278.8" r="2.25"/><circle class="r" cx="160.4" cy="277.1" r="2.25"/><circle class="r" cx="148.9" cy="275.1" r="2.25"/><circle class="r" cx="103.1" cy="293.3" r="2.25"/><circle class="p" cx="183.9" cy="278.6" r="2.25"/><circle class="r" cx="178.2" cy="275.8" r="2.25"/><circle class="o" cx="121.8" cy="284.9" r="2.25"/><circle class="r" cx="120.7" cy="282.9" r="2.25"/><circle class="r" cx="111.7" cy="289.3" r="2.25"/><circle class="r" cx="112.7" cy="285.5" r="2.25"/><circle class="r" cx="131.9" cy="279.7" r="2.25"/><circle class="r" cx="140.6" cy="278.6" r="2.25"/><circle class="r" cx="75.3" cy="301.7" r="2.25"/><circle class="r" cx="217.8" cy="281.5" r="2.25"/><circle class="r" cx="130.3" cy="280.5" r="2.25"/><circle class="r" cx="80.1" cy="299" r="2.25"/><circle class="r" cx="83.7" cy="302.1" r="2.25"/><circle class="r" cx="170.8" cy="273.7" r="2.25"/><circle class="p" cx="142" cy="280.7" r="2.25"/><circle class="r" cx="209.9" cy="276.6" r="2.25"/><circle class="r" cx="144.8" cy="276.6" r="2.25"/><circle class="r" cx="87.1" cy="294.5" r="2.25"/><circle class="r" cx="139.4" cy="277.5" r="2.25"/><circle class="r" cx="152.4" cy="278.4" r="2.25"/><circle class="r" cx="107.9" cy="291" r="2.25"/><circle class="o" cx="212.2" cy="278.6" r="2.25"/><circle class="r" cx="210.4" cy="276.2" r="2.25"/><circle class="r" cx="159.2" cy="279" r="2.25"/><circle class="r" cx="196.8" cy="273.5" r="2.25"/><circle class="r" cx="90.7" cy="291.3" r="2.25"/><circle class="r" cx="148" cy="275.9" r="2.25"/><circle class="r" cx="78.2" cy="301.8" r="2.25"/><circle class="r" cx="192.2" cy="269.2" r="2.25"/><circle class="o" cx="172.8" cy="273.3" r="2.25"/><circle class="r" cx="200.4" cy="275.8" r="2.25"/><circle class="r" cx="97.5" cy="293.7" r="2.25"/><circle class="p" cx="208" cy="275.4" r="2.25"/><circle class="p" cx="190.5" cy="274.8" r="2.25"/><circle class="r" cx="104.3" cy="291.5" r="2.25"/><circle class="r" cx="77" cy="296.4" r="2.25"/><circle class="r" cx="201.7" cy="272.2" r="2.25"/><circle class="o" cx="205.9" cy="271.6" r="2.25"/><circle class="r" cx="113.6" cy="287.6" r="2.25"/><circle class="r" cx="164.3" cy="275.5" r="2.25"/><circle class="r" cx="95.9" cy="293.3" r="2.25"/><circle class="r" cx="137.7" cy="281.9" r="2.25"/><circle class="r" cx="202.2" cy="278.2" r="2.25"/><circle class="r" cx="212" cy="277.3" r="2.25"/><circle class="r" cx="129.4" cy="278.5" r="2.25"/><circle class="p" cx="91" cy="294.5" r="2.25"/><circle class="r" cx="109.3" cy="285.9" r="2.25"/><circle class="r" cx="104.2" cy="284.9" r="2.25"/><circle class="o" cx="192.3" cy="274.9" r="2.25"/><circle class="r" cx="120.4" cy="283.6" r="2.25"/><circle class="r" cx="89.3" cy="297.7" r="2.25"/><circle class="r" cx="200.9" cy="274.2" r="2.25"/><circle class="r" cx="192.2" cy="271.9" r="2.25"/><circle class="r" cx="88.5" cy="291.8" r="2.25"/><circle class="r" cx="180" cy="272.8" r="2.25"/><circle class="r" cx="126.2" cy="281.2" r="2.25"/><circle class="r" cx="171.1" cy="278.5" r="2.25"/><circle class="r" cx="154.9" cy="280.8" r="2.25"/><circle class="r" cx="194.2" cy="273.5" r="2.25"/><circle class="r" cx="194.8" cy="272.4" r="2.25"/><circle class="r" cx="150" cy="274.8" r="2.25"/><circle class="r" cx="158.6" cy="274.2" r="2.25"/><circle class="r" cx="161.3" cy="277.1" r="2.25"/><circle class="r" cx="214.3" cy="280.2" r="2.25"/><circle class="r" cx="145.8" cy="276.4" r="2.25"/><circle class="r" cx="173.3" cy="275.2" r="2.25"/><circle class="r" cx="139.9" cy="282.7" r="2.25"/><circle class="r" cx="125.7" cy="284.6" r="2.25"/><circle class="r" cx="171.6" cy="276.8" r="2.25"/><circle class="r" cx="158" cy="279" r="2.25"/><circle class="r" cx="117.2" cy="283.6" r="2.25"/><circle class="r" cx="89.2" cy="294.2" r="2.25"/><circle class="r" cx="198.5" cy="275.5" r="2.25"/><circle class="r" cx="132.9" cy="278.9" r="2.25"/><circle class="r" cx="195.3" cy="278.7" r="2.25"/><circle class="r" cx="85.7" cy="291.5" r="2.25"/><circle class="r" cx="195.2" cy="272.7" r="2.25"/><circle class="r" cx="132.3" cy="276.7" r="2.25"/><circle class="r" cx="175.9" cy="271.9" r="2.25"/><circle class="r" cx="136.3" cy="276.1" r="2.25"/><circle class="r" cx="200.4" cy="274.4" r="2.25"/><circle class="r" cx="123.9" cy="286.5" r="2.25"/><circle class="r" cx="128.8" cy="281.2" r="2.25"/><circle class="r" cx="126.7" cy="281" r="2.25"/><circle class="r" cx="168.2" cy="272.6" r="2.25"/><circle class="r" cx="165.4" cy="276.3" r="2.25"/><circle class="r" cx="163.9" cy="273.5" r="2.25"/><circle class="o" cx="202.6" cy="268.6" r="2.25"/><circle class="r" cx="189.2" cy="276.3" r="2.25"/><circle class="r" cx="199.1" cy="272.8" r="2.25"/><circle class="r" cx="111.7" cy="286.7" r="2.25"/><circle class="r" cx="102.4" cy="292.6" r="2.25"/><circle class="o" cx="74.6" cy="301.4" r="2.25"/><circle class="o" cx="74.2" cy="299.3" r="2.25"/><circle class="o" cx="176.2" cy="271.5" r="2.25"/><circle class="r" cx="112.4" cy="286.7" r="2.25"/><circle class="p" cx="115.5" cy="284.3" r="2.25"/><circle class="r" cx="116" cy="290.4" r="2.25"/><circle class="r" cx="90.4" cy="289.1" r="2.25"/><circle class="p" cx="203.1" cy="273.4" r="2.25"/><circle class="r" cx="105.5" cy="286.7" r="2.25"/><circle class="r" cx="204.8" cy="274.8" r="2.25"/><circle class="r" cx="74" cy="296.5" r="2.25"/><circle class="r" cx="136.1" cy="281.6" r="2.25"/><circle class="r" cx="190.8" cy="277.5" r="2.25"/><circle class="r" cx="155.5" cy="277" r="2.25"/><circle class="r" cx="201.5" cy="279.4" r="2.25"/><circle class="r" cx="128.1" cy="281.3" r="2.25"/><circle class="r" cx="120.9" cy="287.4" r="2.25"/><circle class="r" cx="79.2" cy="301.2" r="2.25"/><circle class="r" cx="84.3" cy="296.1" r="2.25"/><circle class="r" cx="218.7" cy="280.2" r="2.25"/><circle class="r" cx="99.6" cy="293" r="2.25"/><circle class="r" cx="209.7" cy="277.6" r="2.25"/><circle class="r" cx="121" cy="285.5" r="2.25"/><circle class="r" cx="188.8" cy="278.5" r="2.25"/><circle class="r" cx="125.1" cy="282.3" r="2.25"/><circle class="r" cx="180" cy="272.1" r="2.25"/><circle class="r" cx="151.3" cy="278.1" r="2.25"/><circle class="r" cx="113.6" cy="285.4" r="2.25"/><circle class="r" cx="161.3" cy="275.7" r="2.25"/><circle class="o" cx="107.8" cy="283.1" r="2.25"/><circle class="r" cx="192.6" cy="271.2" r="2.25"/><circle class="r" cx="211" cy="277.7" r="2.25"/><circle class="r" cx="199.9" cy="271.9" r="2.25"/><circle class="r" cx="88.2" cy="292.2" r="2.25"/><circle class="r" cx="123.9" cy="282.4" r="2.25"/><circle class="r" cx="118.9" cy="283.7" r="2.25"/><circle class="r" cx="182.4" cy="274.3" r="2.25"/><circle class="r" cx="81.7" cy="298.8" r="2.25"/><circle class="r" cx="101" cy="288.2" r="2.25"/><circle class="r" cx="93.5" cy="289.1" r="2.25"/><circle class="p" cx="109.7" cy="287.8" r="2.25"/><circle class="r" cx="137.1" cy="281" r="2.25"/><circle class="r" cx="156.5" cy="274" r="2.25"/><circle class="r" cx="128" cy="280.3" r="2.25"/><circle class="r" cx="183.3" cy="272.5" r="2.25"/><circle class="r" cx="75" cy="300.8" r="2.25"/></g>
<g stroke-width=".35"><circle class="r" cx="73.7" cy="301" r="2.25"/><circle class="r" cx="74.9" cy="301.8" r="2.25"/><circle class="r" cx="71.1" cy="311.7" r="2.25"/><circle class="o" cx="66.3" cy="296.3" r="2.25"/><circle class="r" cx="72.5" cy="302" r="2.25"/><circle class="r" cx="75.1" cy="296.8" r="2.25"/><circle class="r" cx="70.4" cy="305.5" r="2.25"/><circle class="o" cx="77.2" cy="300.8" r="2.25"/><circle class="r" cx="75" cy="299.8" r="2.25"/><circle class="r" cx="74.2" cy="296.7" r="2.25"/><circle class="r" cx="74.4" cy="293.3" r="2.25"/><circle class="r" cx="74.1" cy="303.7" r="2.25"/><circle class="r" cx="72.8" cy="301.5" r="2.25"/><circle class="r" cx="71.7" cy="301.9" r="2.25"/><circle class="r" cx="74.5" cy="299" r="2.25"/><circle class="o" cx="71" cy="296.2" r="2.25"/><circle class="r" cx="75" cy="296.1" r="2.25"/><circle class="r" cx="70" cy="304.2" r="2.25"/><circle class="r" cx="78.5" cy="300.3" r="2.25"/><circle class="o" cx="71" cy="297.3" r="2.25"/><circle class="r" cx="75.6" cy="303.2" r="2.25"/><circle class="r" cx="72.5" cy="293.4" r="2.25"/><circle class="r" cx="73.3" cy="304.2" r="2.25"/><circle class="r" cx="75.4" cy="300.8" r="2.25"/><circle class="r" cx="73.5" cy="298.9" r="2.25"/><circle class="o" cx="67.8" cy="306.1" r="2.25"/><circle class="r" cx="70.7" cy="308.1" r="2.25"/><circle class="r" cx="74.9" cy="309.3" r="2.25"/><circle class="p" cx="75.3" cy="303" r="2.25"/><circle class="r" cx="69.9" cy="301.8" r="2.25"/><circle class="r" cx="68.4" cy="303" r="2.25"/><circle class="o" cx="76" cy="291.6" r="2.25"/><circle class="p" cx="70.1" cy="294.5" r="2.25"/><circle class="r" cx="68.4" cy="304.8" r="2.25"/><circle class="r" cx="69.8" cy="298.7" r="2.25"/><circle class="r" cx="70.4" cy="297.6" r="2.25"/><circle class="p" cx="70.1" cy="299.7" r="2.25"/><circle class="r" cx="74.3" cy="304.3" r="2.25"/><circle class="r" cx="75.1" cy="301.5" r="2.25"/><circle class="r" cx="70.3" cy="298.2" r="2.25"/><circle class="r" cx="74.5" cy="302.6" r="2.25"/><circle class="r" cx="73.5" cy="306" r="2.25"/><circle class="r" cx="73.8" cy="300.5" r="2.25"/><circle class="r" cx="72.7" cy="304.5" r="2.25"/><circle class="p" cx="70.2" cy="297.1" r="2.25"/><circle class="r" cx="73.4" cy="306.9" r="2.25"/><circle class="r" cx="78.9" cy="299.4" r="2.25"/><circle class="r" cx="72.6" cy="303.5" r="2.25"/><circle class="o" cx="71.4" cy="305.2" r="2.25"/><circle class="r" cx="75.4" cy="294.5" r="2.25"/><circle class="r" cx="75.6" cy="297.1" r="2.25"/><circle class="r" cx="71.2" cy="304.3" r="2.25"/><circle class="o" cx="70.7" cy="303.3" r="2.25"/><circle class="r" cx="69.1" cy="311.1" r="2.25"/><circle class="o" cx="67" cy="303" r="2.25"/><circle class="r" cx="72.9" cy="298.9" r="2.25"/><circle class="r" cx="70.3" cy="305.8" r="2.25"/><circle class="p" cx="70.6" cy="299.4" r="2.25"/><circle class="r" cx="73" cy="309.9" r="2.25"/><circle class="r" cx="71.2" cy="299.5" r="2.25"/></g>
<g fill="#3a6cb5" stroke="#2a569c" stroke-width="0.35"><circle cx="188.6" cy="14.3" r="2.25"/><circle cx="187.7" cy="18" r="2.25"/><circle cx="186.7" cy="21" r="2.25"/><circle cx="184.8" cy="24" r="2.25"/><circle cx="183" cy="25.8" r="2.25"/><circle cx="181" cy="28.7" r="2.25"/><circle cx="191.5" cy="30.6" r="2.25"/><circle cx="180" cy="34.4" r="2.25"/><circle cx="186" cy="16" r="2.25"/><circle cx="185.5" cy="27" r="2.25"/><circle cx="188" cy="12" r="2.25"/></g>
<g fill="#86a8d2" stroke="#6a8fc0" stroke-width="0.35"><circle cx="190" cy="24" r="2.25"/></g>
<g fill="#3a6cb5" stroke="#2a569c" stroke-width="0.35"><circle cx="212.6" cy="8.6" r="2.25"/><circle cx="210.7" cy="12.4" r="2.25"/><circle cx="208.8" cy="15.3" r="2.25"/><circle cx="205.9" cy="18.2" r="2.25"/><circle cx="211" cy="10.5" r="2.25"/></g>
<g fill="#b8ccba" stroke="#9db3a3" stroke-width="0.35"><circle cx="218.3" cy="8.6" r="2.25"/><circle cx="206" cy="17" r="2.25"/></g>
<g fill="#86a8d2" stroke="#6a8fc0" stroke-width="0.35"><circle cx="221.2" cy="8.6" r="2.25"/></g>
<g stroke-width=".35"><circle class="g" cx="83.9" cy="194.1" r="2.25"/><circle class="g" cx="88.3" cy="191.3" r="2.25"/><circle class="g" cx="89" cy="187.2" r="2.25"/><circle class="l" cx="92.2" cy="197.1" r="2.25"/><circle class="g" cx="80.7" cy="197.1" r="2.25"/><circle class="g" cx="79.9" cy="192.1" r="2.25"/><circle class="l" cx="96.5" cy="202.7" r="2.25"/><circle class="l" cx="89.7" cy="205.1" r="2.25"/><circle class="l" cx="83.8" cy="195" r="2.25"/><circle class="g" cx="88.8" cy="189.3" r="2.25"/><circle class="g" cx="80.3" cy="193.8" r="2.25"/><circle class="g" cx="93.5" cy="196.6" r="2.25"/><circle class="g" cx="100.3" cy="206.8" r="2.25"/><circle class="l" cx="90.4" cy="190.9" r="2.25"/><circle class="g" cx="81.9" cy="187.1" r="2.25"/><circle class="g" cx="88.4" cy="191.7" r="2.25"/><circle class="g" cx="90.9" cy="197.2" r="2.25"/><circle class="l" cx="85.6" cy="204" r="2.25"/><circle class="g" cx="97.3" cy="202.7" r="2.25"/><circle class="b" cx="94.2" cy="205.5" r="2.25"/><circle class="b" cx="86.6" cy="199.6" r="2.25"/><circle class="b" cx="93.8" cy="206.5" r="2.25"/><circle class="b" cx="84.1" cy="197.6" r="2.25"/><circle class="b" cx="91.6" cy="205" r="2.25"/><circle class="b" cx="87.8" cy="198.3" r="2.25"/><circle class="b" cx="85.3" cy="189.6" r="2.25"/><circle class="b" cx="86.2" cy="200.4" r="2.25"/><circle class="b" cx="94.4" cy="208.8" r="2.25"/><circle class="b" cx="82" cy="200.8" r="2.25"/><circle class="b" cx="88.2" cy="200.5" r="2.25"/><circle class="b" cx="82.5" cy="186.9" r="2.25"/><circle class="b" cx="89.2" cy="203.3" r="2.25"/><circle class="b" cx="92.7" cy="201.9" r="2.25"/><circle class="b" cx="87.8" cy="196.8" r="2.25"/><circle class="b" cx="89.8" cy="201.6" r="2.25"/><circle class="b" cx="86.8" cy="199.3" r="2.25"/><circle class="b" cx="87.9" cy="193" r="2.25"/><circle class="b" cx="86.2" cy="193.7" r="2.25"/><circle class="b" cx="89" cy="197.9" r="2.25"/><circle class="m" cx="89.2" cy="195.5" r="2.25"/><circle class="b" cx="89.1" cy="204.3" r="2.25"/><circle class="b" cx="89.5" cy="196.7" r="2.25"/><circle class="m" cx="88.5" cy="202.1" r="2.25"/><circle class="b" cx="87.5" cy="195.3" r="2.25"/><circle class="b" cx="84" cy="189.1" r="2.25"/><circle class="b" cx="89.9" cy="198.1" r="2.25"/><circle class="b" cx="90.7" cy="200.4" r="2.25"/><circle class="b" cx="93.2" cy="206.9" r="2.25"/><circle class="b" cx="85.3" cy="189.6" r="2.25"/><circle class="b" cx="88.6" cy="197.9" r="2.25"/><circle class="b" cx="87.7" cy="201.4" r="2.25"/><circle class="b" cx="88.6" cy="195" r="2.25"/><circle class="b" cx="88" cy="196" r="2.25"/><circle class="b" cx="83.4" cy="190.5" r="2.25"/><circle class="m" cx="88.4" cy="197.1" r="2.25"/><circle class="b" cx="92" cy="202.5" r="2.25"/><circle class="b" cx="91.7" cy="207.7" r="2.25"/><circle class="b" cx="96.3" cy="205.4" r="2.25"/><circle class="b" cx="86" cy="187.9" r="2.25"/><circle class="b" cx="86.2" cy="202.4" r="2.25"/><circle class="b" cx="87" cy="195.8" r="2.25"/><circle class="b" cx="86.5" cy="198" r="2.25"/><circle class="b" cx="92.4" cy="200.5" r="2.25"/><circle class="b" cx="88.4" cy="198.5" r="2.25"/><circle class="b" cx="86" cy="198.7" r="2.25"/><circle class="b" cx="87.8" cy="193.5" r="2.25"/><circle class="b" cx="94.1" cy="201.3" r="2.25"/><circle class="b" cx="89.6" cy="200.7" r="2.25"/><circle class="b" cx="97.3" cy="205.4" r="2.25"/><circle class="b" cx="86.2" cy="196.8" r="2.25"/><circle class="m" cx="83.6" cy="198.8" r="2.25"/><circle class="b" cx="86.7" cy="200.5" r="2.25"/><circle class="b" cx="92.3" cy="201.3" r="2.25"/><circle class="b" cx="86.9" cy="203.1" r="2.25"/><circle class="b" cx="87.7" cy="198.2" r="2.25"/><circle class="b" cx="86" cy="200.3" r="2.25"/><circle class="m" cx="82.5" cy="191.9" r="2.25"/><circle class="b" cx="85.4" cy="191.3" r="2.25"/><circle class="b" cx="93.6" cy="199" r="2.25"/><circle class="b" cx="89.2" cy="198.9" r="2.25"/><circle class="m" cx="93.2" cy="204.5" r="2.25"/><circle class="b" cx="84.5" cy="190.7" r="2.25"/><circle class="b" cx="82.7" cy="188.7" r="2.25"/><circle class="b" cx="86" cy="200.8" r="2.25"/><circle class="b" cx="89.1" cy="198" r="2.25"/><circle class="b" cx="91.9" cy="207.8" r="2.25"/><circle class="m" cx="82.9" cy="189.3" r="2.25"/><circle class="b" cx="93.7" cy="207.4" r="2.25"/><circle class="b" cx="93" cy="207.1" r="2.25"/><circle class="b" cx="93.1" cy="201.4" r="2.25"/><circle class="b" cx="85" cy="202.9" r="2.25"/><circle class="b" cx="81.7" cy="190.4" r="2.25"/><circle class="b" cx="86.8" cy="187.1" r="2.25"/><circle class="b" cx="97.2" cy="204.8" r="2.25"/><circle class="b" cx="86.3" cy="201.9" r="2.25"/><circle class="m" cx="94.4" cy="203.6" r="2.25"/><circle class="b" cx="83.4" cy="201.4" r="2.25"/><circle class="b" cx="87.2" cy="198.2" r="2.25"/><circle class="m" cx="90.3" cy="196.8" r="2.25"/><circle class="b" cx="82.3" cy="200" r="2.25"/><circle class="b" cx="96.8" cy="205.4" r="2.25"/><circle class="b" cx="94.1" cy="205.3" r="2.25"/><circle class="b" cx="88.6" cy="195" r="2.25"/><circle class="b" cx="84.6" cy="191.2" r="2.25"/><circle class="b" cx="82.9" cy="197.8" r="2.25"/><circle class="b" cx="93" cy="202.5" r="2.25"/><circle class="b" cx="82.5" cy="192.7" r="2.25"/><circle class="b" cx="85.8" cy="201.5" r="2.25"/><circle class="b" cx="90.8" cy="201" r="2.25"/><circle class="b" cx="90.8" cy="203.5" r="2.25"/><circle class="b" cx="88.5" cy="198.3" r="2.25"/><circle class="b" cx="87.1" cy="202.5" r="2.25"/><circle class="b" cx="93" cy="205.2" r="2.25"/><circle class="b" cx="87.2" cy="191.4" r="2.25"/><circle class="b" cx="83.8" cy="189.8" r="2.25"/><circle class="g" cx="88.6" cy="197.9" r="2.25"/><circle class="g" cx="89" cy="197.9" r="2.25"/><circle class="g" cx="90.8" cy="203.5" r="2.25"/></g>
<g stroke-width=".35"><circle class="g" cx="113.8" cy="180.3" r="2.25"/><circle class="g" cx="105.2" cy="171.5" r="2.25"/><circle class="g" cx="114.5" cy="172.2" r="2.25"/><circle class="g" cx="103.3" cy="184.5" r="2.25"/><circle class="g" cx="109.2" cy="178.7" r="2.25"/><circle class="g" cx="100.3" cy="179.7" r="2.25"/><circle class="g" cx="117.3" cy="177.8" r="2.25"/><circle class="g" cx="115.4" cy="180.5" r="2.25"/><circle class="l" cx="118.3" cy="177.5" r="2.25"/><circle class="g" cx="116.2" cy="181.1" r="2.25"/><circle class="g" cx="104.8" cy="186.4" r="2.25"/><circle class="g" cx="107.2" cy="171" r="2.25"/><circle class="g" cx="105.8" cy="185.1" r="2.25"/><circle class="g" cx="109.9" cy="169.8" r="2.25"/><circle class="l" cx="116" cy="185.4" r="2.25"/><circle class="l" cx="104.4" cy="170.9" r="2.25"/><circle class="l" cx="102" cy="170.9" r="2.25"/><circle class="l" cx="117.7" cy="177.5" r="2.25"/><circle class="g" cx="109" cy="178" r="2.25"/><circle class="l" cx="107" cy="185.1" r="2.25"/><circle class="l" cx="114.2" cy="172.8" r="2.25"/><circle class="m" cx="110.4" cy="181.3" r="2.25"/><circle class="m" cx="104.3" cy="180" r="2.25"/><circle class="b" cx="111.7" cy="183.3" r="2.25"/><circle class="b" cx="104.7" cy="175.3" r="2.25"/><circle class="b" cx="113.9" cy="182.8" r="2.25"/><circle class="b" cx="108.9" cy="181.5" r="2.25"/><circle class="b" cx="109.8" cy="175.3" r="2.25"/><circle class="b" cx="113.3" cy="174" r="2.25"/><circle class="b" cx="105.6" cy="175.6" r="2.25"/><circle class="b" cx="105.9" cy="182.3" r="2.25"/><circle class="b" cx="107.6" cy="177.2" r="2.25"/><circle class="b" cx="108.7" cy="173.8" r="2.25"/><circle class="b" cx="111.7" cy="179.1" r="2.25"/><circle class="b" cx="105.4" cy="176.7" r="2.25"/><circle class="b" cx="110.4" cy="185.3" r="2.25"/><circle class="b" cx="105.1" cy="182.3" r="2.25"/><circle class="b" cx="110.2" cy="180.2" r="2.25"/><circle class="b" cx="110.9" cy="177.6" r="2.25"/><circle class="b" cx="109.2" cy="181.6" r="2.25"/><circle class="b" cx="111.9" cy="176" r="2.25"/><circle class="b" cx="112.9" cy="174.7" r="2.25"/><circle class="b" cx="106.7" cy="172.2" r="2.25"/><circle class="b" cx="108.8" cy="172" r="2.25"/><circle class="b" cx="110.7" cy="181.9" r="2.25"/><circle class="b" cx="109.8" cy="180" r="2.25"/><circle class="b" cx="107.3" cy="179.8" r="2.25"/><circle class="b" cx="110.1" cy="179.5" r="2.25"/><circle class="b" cx="105.1" cy="182.8" r="2.25"/><circle class="b" cx="106.4" cy="178.6" r="2.25"/><circle class="b" cx="103.7" cy="179.5" r="2.25"/><circle class="b" cx="109.5" cy="181" r="2.25"/><circle class="b" cx="105.9" cy="180.6" r="2.25"/><circle class="b" cx="106.2" cy="173.2" r="2.25"/><circle class="b" cx="111.2" cy="176.1" r="2.25"/><circle class="b" cx="111.4" cy="182.8" r="2.25"/><circle class="b" cx="111.2" cy="182.5" r="2.25"/><circle class="b" cx="105.4" cy="183" r="2.25"/><circle class="b" cx="107" cy="176.5" r="2.25"/><circle class="b" cx="112" cy="181.8" r="2.25"/><circle class="b" cx="105.3" cy="174.2" r="2.25"/><circle class="b" cx="110.4" cy="175.8" r="2.25"/><circle class="b" cx="103" cy="182.1" r="2.25"/><circle class="b" cx="113.1" cy="182" r="2.25"/><circle class="b" cx="113.2" cy="179.3" r="2.25"/><circle class="b" cx="111.4" cy="176.7" r="2.25"/><circle class="b" cx="110.7" cy="177.6" r="2.25"/><circle class="b" cx="107.8" cy="178.1" r="2.25"/><circle class="m" cx="114" cy="174.2" r="2.25"/><circle class="b" cx="109.9" cy="181.3" r="2.25"/><circle class="b" cx="110.2" cy="184.8" r="2.25"/><circle class="b" cx="105.1" cy="180.9" r="2.25"/><circle class="b" cx="113.9" cy="183.7" r="2.25"/><circle class="b" cx="109.1" cy="175.9" r="2.25"/><circle class="b" cx="106.9" cy="178.5" r="2.25"/><circle class="b" cx="107" cy="177.2" r="2.25"/><circle class="b" cx="106.4" cy="175.2" r="2.25"/><circle class="m" cx="107.1" cy="182.4" r="2.25"/><circle class="m" cx="103.6" cy="183.2" r="2.25"/><circle class="b" cx="112.7" cy="174.8" r="2.25"/><circle class="b" cx="111.4" cy="183" r="2.25"/><circle class="b" cx="112.2" cy="179.2" r="2.25"/><circle class="b" cx="107.8" cy="180.4" r="2.25"/><circle class="b" cx="105.6" cy="180.5" r="2.25"/><circle class="b" cx="108.8" cy="180" r="2.25"/><circle class="m" cx="110" cy="180.1" r="2.25"/><circle class="b" cx="111.7" cy="175.1" r="2.25"/><circle class="b" cx="113" cy="176.1" r="2.25"/><circle class="b" cx="113.8" cy="174.6" r="2.25"/><circle class="b" cx="112.5" cy="175.9" r="2.25"/><circle class="b" cx="111.8" cy="183.6" r="2.25"/><circle class="b" cx="115.7" cy="176.8" r="2.25"/><circle class="b" cx="105.9" cy="174.6" r="2.25"/><circle class="b" cx="115.4" cy="175.2" r="2.25"/><circle class="m" cx="112.3" cy="175.2" r="2.25"/><circle class="b" cx="105.8" cy="176.1" r="2.25"/><circle class="g" cx="106.7" cy="172.2" r="2.25"/><circle class="g" cx="108.8" cy="172" r="2.25"/></g>
<g stroke-width=".35"><circle class="l" cx="166" cy="199.9" r="2.25"/><circle class="l" cx="180.3" cy="211.4" r="2.25"/><circle class="g" cx="181.4" cy="209.9" r="2.25"/><circle class="g" cx="170" cy="194.1" r="2.25"/><circle class="g" cx="166.2" cy="197.7" r="2.25"/><circle class="g" cx="165.9" cy="204.4" r="2.25"/><circle class="g" cx="168.4" cy="213.4" r="2.25"/><circle class="l" cx="167.3" cy="211.8" r="2.25"/><circle class="g" cx="169" cy="212.1" r="2.25"/><circle class="g" cx="178.5" cy="207.4" r="2.25"/><circle class="l" cx="164.1" cy="205" r="2.25"/><circle class="g" cx="166.9" cy="203.4" r="2.25"/><circle class="g" cx="171" cy="211.1" r="2.25"/><circle class="g" cx="168.3" cy="213.4" r="2.25"/><circle class="l" cx="172.9" cy="196.8" r="2.25"/><circle class="g" cx="171.3" cy="212.2" r="2.25"/><circle class="g" cx="174.6" cy="200.5" r="2.25"/><circle class="l" cx="170.2" cy="212.9" r="2.25"/><circle class="g" cx="172.6" cy="197" r="2.25"/><circle class="b" cx="177.5" cy="209.5" r="2.25"/><circle class="b" cx="175.2" cy="211.8" r="2.25"/><circle class="b" cx="175.3" cy="206" r="2.25"/><circle class="b" cx="171" cy="207.5" r="2.25"/><circle class="b" cx="169" cy="200.2" r="2.25"/><circle class="b" cx="167.3" cy="205.9" r="2.25"/><circle class="b" cx="169.7" cy="202.9" r="2.25"/><circle class="b" cx="172.3" cy="203" r="2.25"/><circle class="b" cx="170.2" cy="203.2" r="2.25"/><circle class="b" cx="170.7" cy="209.2" r="2.25"/><circle class="m" cx="166.4" cy="207.9" r="2.25"/><circle class="b" cx="170" cy="209.4" r="2.25"/><circle class="b" cx="171.2" cy="206.8" r="2.25"/><circle class="b" cx="167.7" cy="207.7" r="2.25"/><circle class="b" cx="177" cy="211.8" r="2.25"/><circle class="m" cx="169.4" cy="207" r="2.25"/><circle class="b" cx="172.8" cy="212.9" r="2.25"/><circle class="b" cx="175.3" cy="210.6" r="2.25"/><circle class="b" cx="172.2" cy="212.6" r="2.25"/><circle class="b" cx="172.6" cy="212.7" r="2.25"/><circle class="b" cx="172.9" cy="203.6" r="2.25"/><circle class="b" cx="171.8" cy="203.6" r="2.25"/><circle class="b" cx="171.4" cy="202" r="2.25"/><circle class="m" cx="169.6" cy="209.3" r="2.25"/><circle class="b" cx="168.3" cy="201.1" r="2.25"/><circle class="b" cx="173.8" cy="211" r="2.25"/><circle class="m" cx="172.7" cy="207.4" r="2.25"/><circle class="b" cx="175.1" cy="208.4" r="2.25"/><circle class="b" cx="172.4" cy="212.2" r="2.25"/><circle class="b" cx="167.2" cy="209.3" r="2.25"/><circle class="b" cx="170.3" cy="203.2" r="2.25"/><circle class="b" cx="173.5" cy="201.6" r="2.25"/><circle class="b" cx="170.9" cy="199.5" r="2.25"/><circle class="b" cx="168.3" cy="201.7" r="2.25"/><circle class="b" cx="169.6" cy="208" r="2.25"/><circle class="b" cx="169.5" cy="198.1" r="2.25"/><circle class="b" cx="171.4" cy="204.8" r="2.25"/><circle class="b" cx="166.1" cy="207.6" r="2.25"/><circle class="b" cx="167.7" cy="206.6" r="2.25"/><circle class="b" cx="172.7" cy="204.5" r="2.25"/><circle class="b" cx="173.5" cy="205.5" r="2.25"/><circle class="b" cx="174" cy="209.1" r="2.25"/><circle class="m" cx="167.1" cy="202.1" r="2.25"/><circle class="b" cx="171" cy="201.6" r="2.25"/><circle class="b" cx="170.7" cy="199.8" r="2.25"/><circle class="b" cx="170.7" cy="198.5" r="2.25"/><circle class="b" cx="170.3" cy="203.2" r="2.25"/><circle class="b" cx="173.1" cy="211.8" r="2.25"/><circle class="b" cx="174.8" cy="203.3" r="2.25"/><circle class="b" cx="171.2" cy="205.9" r="2.25"/><circle class="b" cx="173.4" cy="211.3" r="2.25"/><circle class="b" cx="175.8" cy="204.5" r="2.25"/><circle class="b" cx="174.8" cy="211.3" r="2.25"/><circle class="b" cx="168.9" cy="204.9" r="2.25"/><circle class="b" cx="167.8" cy="211.2" r="2.25"/><circle class="b" cx="173.5" cy="211.2" r="2.25"/><circle class="b" cx="175" cy="211.7" r="2.25"/><circle class="m" cx="171.6" cy="201.7" r="2.25"/><circle class="m" cx="167.5" cy="207.2" r="2.25"/><circle class="b" cx="170.1" cy="201.9" r="2.25"/><circle class="b" cx="174.3" cy="204.6" r="2.25"/><circle class="b" cx="170.3" cy="208.6" r="2.25"/><circle class="b" cx="174.4" cy="205" r="2.25"/><circle class="b" cx="170.5" cy="205.5" r="2.25"/><circle class="b" cx="170.8" cy="207" r="2.25"/><circle class="b" cx="172.3" cy="202.6" r="2.25"/><circle class="b" cx="173.3" cy="207.3" r="2.25"/><circle class="b" cx="166.7" cy="207.6" r="2.25"/><circle class="b" cx="170" cy="205" r="2.25"/><circle class="b" cx="172.7" cy="203.1" r="2.25"/><circle class="b" cx="170.9" cy="201" r="2.25"/><circle class="b" cx="170" cy="202.3" r="2.25"/><circle class="b" cx="169.2" cy="201.7" r="2.25"/><circle class="b" cx="168.1" cy="201.6" r="2.25"/><circle class="b" cx="177.8" cy="209.3" r="2.25"/><circle class="b" cx="170.9" cy="201.7" r="2.25"/><circle class="b" cx="168.7" cy="204.8" r="2.25"/><circle class="b" cx="167.8" cy="204.1" r="2.25"/><circle class="b" cx="172.9" cy="198.2" r="2.25"/><circle class="b" cx="165.6" cy="208.1" r="2.25"/><circle class="b" cx="173.8" cy="204.6" r="2.25"/><circle class="b" cx="177.2" cy="208.9" r="2.25"/><circle class="b" cx="169.6" cy="207.8" r="2.25"/><circle class="b" cx="170.1" cy="203.1" r="2.25"/><circle class="b" cx="171.6" cy="204.1" r="2.25"/><circle class="b" cx="172.3" cy="205.7" r="2.25"/><circle class="b" cx="171.8" cy="201.9" r="2.25"/><circle class="b" cx="168.3" cy="199.8" r="2.25"/><circle class="m" cx="176.7" cy="211.6" r="2.25"/><circle class="b" cx="167.6" cy="209.4" r="2.25"/><circle class="b" cx="173" cy="201.4" r="2.25"/><circle class="m" cx="172" cy="201.8" r="2.25"/><circle class="b" cx="175.5" cy="212.1" r="2.25"/><circle class="g" cx="169.5" cy="198.1" r="2.25"/><circle class="g" cx="175.3" cy="206" r="2.25"/><circle class="g" cx="170.1" cy="203.1" r="2.25"/></g>
<g stroke-width=".35"><circle class="g" cx="152.8" cy="236.4" r="2.25"/><circle class="l" cx="154.3" cy="251.9" r="2.25"/><circle class="l" cx="150.3" cy="241.3" r="2.25"/><circle class="g" cx="158.2" cy="251.1" r="2.25"/><circle class="g" cx="153.3" cy="236.2" r="2.25"/><circle class="l" cx="164.1" cy="250.4" r="2.25"/><circle class="g" cx="154.3" cy="249.7" r="2.25"/><circle class="g" cx="156.5" cy="233.6" r="2.25"/><circle class="l" cx="167.8" cy="242.8" r="2.25"/><circle class="g" cx="157.4" cy="232.6" r="2.25"/><circle class="g" cx="158.3" cy="251.9" r="2.25"/><circle class="l" cx="169.4" cy="248.4" r="2.25"/><circle class="g" cx="169.4" cy="247.7" r="2.25"/><circle class="g" cx="176" cy="236.7" r="2.25"/><circle class="g" cx="151.1" cy="237.2" r="2.25"/><circle class="l" cx="173.2" cy="235.2" r="2.25"/><circle class="g" cx="153.3" cy="234.6" r="2.25"/><circle class="g" cx="150.7" cy="237.9" r="2.25"/><circle class="g" cx="169" cy="245.5" r="2.25"/><circle class="l" cx="168.8" cy="232.9" r="2.25"/><circle class="g" cx="175" cy="236.8" r="2.25"/><circle class="l" cx="170.6" cy="244.6" r="2.25"/><circle class="g" cx="154.4" cy="251.9" r="2.25"/><circle class="g" cx="155.3" cy="250.3" r="2.25"/><circle class="l" cx="159" cy="241.8" r="2.25"/><circle class="g" cx="175.4" cy="242" r="2.25"/><circle class="g" cx="168.5" cy="243.3" r="2.25"/><circle class="m" cx="157.1" cy="233.6" r="2.25"/><circle class="b" cx="164.4" cy="238.7" r="2.25"/><circle class="b" cx="157.5" cy="246.4" r="2.25"/><circle class="b" cx="172.8" cy="241.4" r="2.25"/><circle class="b" cx="163.4" cy="244" r="2.25"/><circle class="b" cx="162.6" cy="237.9" r="2.25"/><circle class="b" cx="160.4" cy="235.7" r="2.25"/><circle class="b" cx="157.7" cy="240.5" r="2.25"/><circle class="b" cx="165.4" cy="236.8" r="2.25"/><circle class="b" cx="174" cy="237.9" r="2.25"/><circle class="b" cx="158.3" cy="241.4" r="2.25"/><circle class="b" cx="166.4" cy="238.3" r="2.25"/><circle class="b" cx="159.9" cy="248.4" r="2.25"/><circle class="b" cx="173.7" cy="237.3" r="2.25"/><circle class="b" cx="159.6" cy="245.3" r="2.25"/><circle class="b" cx="162.5" cy="244.6" r="2.25"/><circle class="b" cx="160.7" cy="236.8" r="2.25"/><circle class="b" cx="160.4" cy="245.9" r="2.25"/><circle class="b" cx="158.4" cy="244.8" r="2.25"/><circle class="b" cx="157.5" cy="240.8" r="2.25"/><circle class="b" cx="160.1" cy="238.8" r="2.25"/><circle class="b" cx="163" cy="241.6" r="2.25"/><circle class="b" cx="163.9" cy="239.8" r="2.25"/><circle class="b" cx="157.2" cy="245" r="2.25"/><circle class="b" cx="155.2" cy="244.1" r="2.25"/><circle class="b" cx="165.4" cy="243.4" r="2.25"/><circle class="b" cx="165.1" cy="243.2" r="2.25"/><circle class="b" cx="156.2" cy="245.6" r="2.25"/><circle class="b" cx="158.2" cy="235" r="2.25"/><circle class="b" cx="156.2" cy="245.6" r="2.25"/><circle class="b" cx="154.8" cy="244.2" r="2.25"/><circle class="b" cx="155.9" cy="242.7" r="2.25"/><circle class="b" cx="162.2" cy="246.3" r="2.25"/><circle class="b" cx="161.6" cy="241" r="2.25"/><circle class="b" cx="157.6" cy="246.4" r="2.25"/><circle class="b" cx="158.7" cy="236.1" r="2.25"/><circle class="b" cx="157.4" cy="236.3" r="2.25"/><circle class="b" cx="160.1" cy="239.9" r="2.25"/><circle class="b" cx="159" cy="233.7" r="2.25"/><circle class="b" cx="160.5" cy="247.8" r="2.25"/><circle class="m" cx="161.5" cy="244.6" r="2.25"/><circle class="b" cx="171.2" cy="239.6" r="2.25"/><circle class="m" cx="157.6" cy="249" r="2.25"/><circle class="b" cx="156.5" cy="237.2" r="2.25"/><circle class="b" cx="156.8" cy="243.8" r="2.25"/><circle class="b" cx="156.7" cy="233.9" r="2.25"/><circle class="b" cx="157.7" cy="245.8" r="2.25"/><circle class="b" cx="166.1" cy="246.1" r="2.25"/><circle class="b" cx="159.7" cy="247" r="2.25"/><circle class="b" cx="159.8" cy="236.2" r="2.25"/><circle class="b" cx="157.7" cy="245.7" r="2.25"/><circle class="b" cx="163.5" cy="247" r="2.25"/><circle class="b" cx="170.7" cy="239.8" r="2.25"/><circle class="b" cx="171.1" cy="237.7" r="2.25"/><circle class="b" cx="157" cy="244.7" r="2.25"/><circle class="b" cx="159.2" cy="234.7" r="2.25"/><circle class="b" cx="154.1" cy="244.9" r="2.25"/><circle class="b" cx="157.4" cy="237.7" r="2.25"/><circle class="b" cx="169.7" cy="240.2" r="2.25"/><circle class="b" cx="153.8" cy="246.4" r="2.25"/><circle class="m" cx="171.5" cy="239.5" r="2.25"/><circle class="b" cx="155.5" cy="245.3" r="2.25"/><circle class="b" cx="165.9" cy="238.4" r="2.25"/><circle class="b" cx="167.3" cy="239.9" r="2.25"/><circle class="b" cx="162.9" cy="236.9" r="2.25"/><circle class="m" cx="155.7" cy="241.5" r="2.25"/><circle class="b" cx="168.8" cy="237.3" r="2.25"/><circle class="b" cx="164.1" cy="242.8" r="2.25"/><circle class="b" cx="160.5" cy="234.8" r="2.25"/><circle class="b" cx="170.7" cy="237.9" r="2.25"/><circle class="b" cx="162.7" cy="244.7" r="2.25"/><circle class="m" cx="165" cy="236.3" r="2.25"/><circle class="b" cx="153.2" cy="240.1" r="2.25"/><circle class="b" cx="157.7" cy="234.5" r="2.25"/><circle class="b" cx="172.1" cy="241.1" r="2.25"/><circle class="b" cx="163.1" cy="241.3" r="2.25"/><circle class="b" cx="159.7" cy="246.9" r="2.25"/><circle class="b" cx="154.7" cy="245.5" r="2.25"/><circle class="b" cx="154.9" cy="240.8" r="2.25"/><circle class="b" cx="161.8" cy="248" r="2.25"/><circle class="b" cx="161.4" cy="238.3" r="2.25"/><circle class="b" cx="157.5" cy="240.1" r="2.25"/><circle class="b" cx="174" cy="239.3" r="2.25"/><circle class="b" cx="155.5" cy="236.8" r="2.25"/><circle class="m" cx="171.9" cy="237.1" r="2.25"/><circle class="b" cx="165.3" cy="236.4" r="2.25"/><circle class="b" cx="156.3" cy="243" r="2.25"/><circle class="b" cx="164.1" cy="243.4" r="2.25"/><circle class="m" cx="158.7" cy="233.8" r="2.25"/><circle class="b" cx="171.6" cy="240.2" r="2.25"/><circle class="b" cx="171.1" cy="238.9" r="2.25"/><circle class="b" cx="159.4" cy="246.3" r="2.25"/><circle class="b" cx="159.4" cy="232.5" r="2.25"/><circle class="b" cx="171.3" cy="236.4" r="2.25"/><circle class="b" cx="164.5" cy="237.1" r="2.25"/><circle class="b" cx="162.8" cy="239.8" r="2.25"/><circle class="b" cx="168.4" cy="234.9" r="2.25"/><circle class="m" cx="166.8" cy="238.1" r="2.25"/><circle class="b" cx="166.2" cy="238.9" r="2.25"/><circle class="b" cx="169.3" cy="238.2" r="2.25"/><circle class="b" cx="166.8" cy="236.8" r="2.25"/><circle class="b" cx="153.7" cy="240.3" r="2.25"/><circle class="b" cx="153.7" cy="243.5" r="2.25"/><circle class="b" cx="163" cy="244.9" r="2.25"/><circle class="m" cx="159.3" cy="245" r="2.25"/><circle class="b" cx="157.1" cy="249.9" r="2.25"/><circle class="b" cx="168.3" cy="235.6" r="2.25"/><circle class="b" cx="170.8" cy="241.6" r="2.25"/><circle class="b" cx="159.6" cy="245.9" r="2.25"/><circle class="b" cx="156.4" cy="242.5" r="2.25"/><circle class="b" cx="154.6" cy="240.1" r="2.25"/><circle class="b" cx="172.7" cy="237.3" r="2.25"/><circle class="b" cx="170.5" cy="239.2" r="2.25"/><circle class="b" cx="159.9" cy="233.5" r="2.25"/><circle class="b" cx="152.5" cy="240.1" r="2.25"/><circle class="b" cx="163.2" cy="240.5" r="2.25"/><circle class="b" cx="164.2" cy="238.8" r="2.25"/><circle class="b" cx="166.9" cy="241.1" r="2.25"/><circle class="b" cx="170.3" cy="236.1" r="2.25"/><circle class="b" cx="159" cy="234.7" r="2.25"/><circle class="m" cx="167.1" cy="238.4" r="2.25"/><circle class="b" cx="153.4" cy="236.5" r="2.25"/><circle class="m" cx="157.3" cy="241.4" r="2.25"/><circle class="g" cx="157.5" cy="240.8" r="2.25"/><circle class="g" cx="154.7" cy="245.5" r="2.25"/><circle class="g" cx="158.4" cy="244.8" r="2.25"/><circle class="g" cx="164.2" cy="238.8" r="2.25"/></g>
<g stroke-width=".35"><circle class="g" cx="117.7" cy="251.9" r="2.25"/><circle class="g" cx="107.2" cy="246.8" r="2.25"/><circle class="l" cx="116.4" cy="236.7" r="2.25"/><circle class="g" cx="108.8" cy="239.8" r="2.25"/><circle class="g" cx="117.7" cy="252.7" r="2.25"/><circle class="g" cx="106.7" cy="244.6" r="2.25"/><circle class="l" cx="116" cy="236.2" r="2.25"/><circle class="l" cx="120.7" cy="238.3" r="2.25"/><circle class="g" cx="115.5" cy="236.1" r="2.25"/><circle class="b" cx="115.9" cy="245" r="2.25"/><circle class="b" cx="114.8" cy="241.2" r="2.25"/><circle class="m" cx="107.4" cy="244.6" r="2.25"/><circle class="b" cx="117.3" cy="242.7" r="2.25"/><circle class="b" cx="110" cy="243.1" r="2.25"/><circle class="b" cx="112.8" cy="246" r="2.25"/><circle class="m" cx="118.2" cy="243.9" r="2.25"/><circle class="b" cx="118.5" cy="244.4" r="2.25"/><circle class="b" cx="117.1" cy="241.7" r="2.25"/><circle class="b" cx="114" cy="239.9" r="2.25"/><circle class="b" cx="113" cy="246.8" r="2.25"/><circle class="b" cx="112.7" cy="245.2" r="2.25"/><circle class="b" cx="116.9" cy="241.1" r="2.25"/><circle class="b" cx="116.2" cy="239.2" r="2.25"/><circle class="b" cx="117" cy="243.1" r="2.25"/><circle class="b" cx="117.5" cy="247.4" r="2.25"/><circle class="b" cx="116.9" cy="239.2" r="2.25"/><circle class="b" cx="113.3" cy="240.1" r="2.25"/><circle class="b" cx="112.5" cy="247.4" r="2.25"/><circle class="b" cx="116.6" cy="245.2" r="2.25"/><circle class="b" cx="112.3" cy="245.3" r="2.25"/><circle class="b" cx="115.2" cy="241.3" r="2.25"/><circle class="m" cx="109.4" cy="243" r="2.25"/><circle class="b" cx="108.5" cy="243.9" r="2.25"/><circle class="b" cx="111.2" cy="246.9" r="2.25"/><circle class="b" cx="114.2" cy="249" r="2.25"/><circle class="b" cx="119.1" cy="244.1" r="2.25"/><circle class="b" cx="108.7" cy="240.7" r="2.25"/><circle class="b" cx="116" cy="246.3" r="2.25"/><circle class="b" cx="116.2" cy="243.9" r="2.25"/><circle class="b" cx="114.8" cy="246.9" r="2.25"/><circle class="b" cx="116.9" cy="246.1" r="2.25"/><circle class="b" cx="114.9" cy="245.3" r="2.25"/><circle class="b" cx="115" cy="246.9" r="2.25"/><circle class="b" cx="107.6" cy="245.3" r="2.25"/><circle class="b" cx="114.4" cy="243.8" r="2.25"/><circle class="b" cx="115.5" cy="242.5" r="2.25"/><circle class="b" cx="110.7" cy="245" r="2.25"/><circle class="b" cx="116.7" cy="247.9" r="2.25"/><circle class="m" cx="114.2" cy="246.4" r="2.25"/><circle class="b" cx="114.4" cy="241.5" r="2.25"/><circle class="b" cx="119.5" cy="240.8" r="2.25"/><circle class="b" cx="112.9" cy="240.1" r="2.25"/><circle class="b" cx="117.5" cy="246.4" r="2.25"/><circle class="b" cx="112.3" cy="247.4" r="2.25"/><circle class="b" cx="114.3" cy="243.5" r="2.25"/><circle class="b" cx="120.4" cy="239.7" r="2.25"/><circle class="b" cx="111.6" cy="242.8" r="2.25"/><circle class="b" cx="113.2" cy="245" r="2.25"/><circle class="b" cx="114.7" cy="241.8" r="2.25"/><circle class="b" cx="114.1" cy="242.9" r="2.25"/><circle class="m" cx="114" cy="248.8" r="2.25"/><circle class="b" cx="114.6" cy="246.2" r="2.25"/><circle class="b" cx="118.4" cy="238.5" r="2.25"/><circle class="g" cx="114.3" cy="243.5" r="2.25"/></g>
<g stroke-width=".35"><circle class="b" cx="135.1" cy="215.5" r="2.25"/><circle class="b" cx="140.4" cy="218.7" r="2.25"/><circle class="b" cx="133.8" cy="215.8" r="2.25"/><circle class="b" cx="134.9" cy="215.9" r="2.25"/><circle class="b" cx="135.7" cy="217.7" r="2.25"/><circle class="b" cx="135.5" cy="218.8" r="2.25"/><circle class="b" cx="136.8" cy="217.6" r="2.25"/><circle class="b" cx="138.8" cy="217.8" r="2.25"/><circle class="b" cx="131.9" cy="214.6" r="2.25"/><circle class="b" cx="134.6" cy="216.6" r="2.25"/><circle class="b" cx="133.8" cy="213.1" r="2.25"/><circle class="b" cx="134.9" cy="218.5" r="2.25"/><circle class="b" cx="129.7" cy="216.8" r="2.25"/><circle class="b" cx="140.4" cy="213.5" r="2.25"/></g>
<g stroke-width=".35"><circle class="g" cx="210.8" cy="268.8" r="2.25"/><circle class="g" cx="219.6" cy="266.6" r="2.25"/><circle class="g" cx="206.7" cy="266.1" r="2.25"/><circle class="g" cx="203.2" cy="258.1" r="2.25"/><circle class="l" cx="210.5" cy="248.2" r="2.25"/><circle class="l" cx="205.7" cy="252" r="2.25"/><circle class="g" cx="214.7" cy="251.4" r="2.25"/><circle class="m" cx="209.3" cy="254.7" r="2.25"/><circle class="b" cx="220.5" cy="262.6" r="2.25"/><circle class="b" cx="217" cy="263.8" r="2.25"/><circle class="b" cx="216.4" cy="258.4" r="2.25"/><circle class="m" cx="210.3" cy="252.1" r="2.25"/><circle class="b" cx="213.4" cy="261.1" r="2.25"/><circle class="b" cx="211.2" cy="255.2" r="2.25"/><circle class="b" cx="214.9" cy="256.1" r="2.25"/><circle class="b" cx="211.6" cy="256.7" r="2.25"/><circle class="b" cx="220.4" cy="262.2" r="2.25"/><circle class="b" cx="210.9" cy="251.2" r="2.25"/><circle class="b" cx="213.4" cy="255.4" r="2.25"/><circle class="b" cx="209.3" cy="255.5" r="2.25"/><circle class="b" cx="213.1" cy="260.8" r="2.25"/><circle class="b" cx="211.3" cy="249.3" r="2.25"/><circle class="b" cx="215.9" cy="261.5" r="2.25"/><circle class="b" cx="212.8" cy="256.9" r="2.25"/><circle class="b" cx="215.9" cy="259.7" r="2.25"/><circle class="b" cx="211.8" cy="259.4" r="2.25"/><circle class="b" cx="218.3" cy="262.2" r="2.25"/><circle class="b" cx="207.9" cy="254.9" r="2.25"/><circle class="m" cx="212" cy="263.3" r="2.25"/><circle class="b" cx="216.1" cy="262.9" r="2.25"/><circle class="b" cx="209.2" cy="251.1" r="2.25"/><circle class="m" cx="209.7" cy="254.5" r="2.25"/><circle class="m" cx="216.3" cy="257.3" r="2.25"/><circle class="b" cx="210.7" cy="258.5" r="2.25"/><circle class="b" cx="216.9" cy="254.2" r="2.25"/><circle class="b" cx="210.8" cy="259" r="2.25"/><circle class="b" cx="217.6" cy="263.2" r="2.25"/><circle class="b" cx="215.6" cy="260.3" r="2.25"/><circle class="b" cx="210.5" cy="250.5" r="2.25"/><circle class="b" cx="214.9" cy="255.3" r="2.25"/><circle class="b" cx="209.1" cy="260.9" r="2.25"/><circle class="b" cx="213.9" cy="253.1" r="2.25"/><circle class="b" cx="220.1" cy="260.5" r="2.25"/><circle class="b" cx="209.8" cy="259.9" r="2.25"/><circle class="b" cx="220.6" cy="262.2" r="2.25"/><circle class="b" cx="210.7" cy="255.2" r="2.25"/><circle class="b" cx="215.7" cy="257.4" r="2.25"/><circle class="b" cx="210.6" cy="257.1" r="2.25"/><circle class="b" cx="213.6" cy="261.9" r="2.25"/><circle class="b" cx="220.3" cy="259.3" r="2.25"/><circle class="b" cx="207.8" cy="259.8" r="2.25"/><circle class="b" cx="209.8" cy="255.9" r="2.25"/><circle class="b" cx="210.9" cy="265.5" r="2.25"/><circle class="m" cx="214.9" cy="262.6" r="2.25"/><circle class="b" cx="211.4" cy="265" r="2.25"/><circle class="b" cx="208" cy="259.7" r="2.25"/><circle class="b" cx="205.1" cy="255.6" r="2.25"/><circle class="b" cx="210.1" cy="259.6" r="2.25"/><circle class="b" cx="214.5" cy="256.7" r="2.25"/><circle class="b" cx="206.9" cy="259.5" r="2.25"/><circle class="b" cx="210.3" cy="256.2" r="2.25"/><circle class="b" cx="211" cy="257.3" r="2.25"/><circle class="b" cx="211" cy="259.5" r="2.25"/><circle class="m" cx="207.1" cy="258.4" r="2.25"/><circle class="b" cx="212.3" cy="255.6" r="2.25"/><circle class="b" cx="212.5" cy="263.2" r="2.25"/><circle class="b" cx="216.9" cy="255.9" r="2.25"/><circle class="b" cx="213.3" cy="256.8" r="2.25"/><circle class="b" cx="210.2" cy="264.6" r="2.25"/><circle class="b" cx="212.7" cy="264.5" r="2.25"/><circle class="b" cx="215.7" cy="256.3" r="2.25"/><circle class="b" cx="218.3" cy="259.9" r="2.25"/><circle class="m" cx="208" cy="256.2" r="2.25"/><circle class="b" cx="210.3" cy="262.5" r="2.25"/><circle class="b" cx="212.3" cy="257.2" r="2.25"/><circle class="b" cx="210.4" cy="254.9" r="2.25"/><circle class="b" cx="216.5" cy="264.9" r="2.25"/><circle class="b" cx="219" cy="260.9" r="2.25"/><circle class="b" cx="216.2" cy="261" r="2.25"/><circle class="b" cx="210.6" cy="252.5" r="2.25"/><circle class="b" cx="218.2" cy="256.3" r="2.25"/><circle class="b" cx="217.4" cy="255.4" r="2.25"/><circle class="b" cx="207.3" cy="255.6" r="2.25"/><circle class="b" cx="215.1" cy="257.3" r="2.25"/><circle class="b" cx="218.5" cy="255.2" r="2.25"/><circle class="b" cx="209.1" cy="251.6" r="2.25"/><circle class="b" cx="207.7" cy="261.3" r="2.25"/><circle class="b" cx="212.7" cy="261.6" r="2.25"/><circle class="b" cx="210.7" cy="255.8" r="2.25"/><circle class="b" cx="221.2" cy="262.9" r="2.25"/><circle class="b" cx="215.5" cy="265.8" r="2.25"/><circle class="b" cx="212.7" cy="257.2" r="2.25"/><circle class="b" cx="207.3" cy="260" r="2.25"/><circle class="b" cx="211.2" cy="260.9" r="2.25"/><circle class="b" cx="211.6" cy="248.6" r="2.25"/><circle class="g" cx="211.6" cy="248.6" r="2.25"/><circle class="g" cx="210.7" cy="255.8" r="2.25"/></g>
<g fill="#b8ccba" stroke="#9db3a3" stroke-width="0.35"><circle cx="199" cy="246" r="2.0"/><circle cx="201" cy="251" r="2.0"/><circle cx="200" cy="256" r="2.0"/><circle cx="203" cy="243" r="2.0"/></g>
<g stroke-width=".35"><circle class="b" cx="187.6" cy="244.9" r="2.25"/><circle class="b" cx="186" cy="247.1" r="2.25"/><circle class="b" cx="192.2" cy="249.1" r="2.25"/><circle class="b" cx="188.5" cy="246.4" r="2.25"/><circle class="b" cx="187.5" cy="246.1" r="2.25"/><circle class="b" cx="193.4" cy="247" r="2.25"/><circle class="b" cx="191.4" cy="245.9" r="2.25"/><circle class="b" cx="189.6" cy="247.9" r="2.25"/><circle class="b" cx="188.9" cy="248.9" r="2.25"/><circle class="b" cx="187.6" cy="246.6" r="2.25"/></g>
<g fill="#3a6cb5" stroke="#2a569c" stroke-width="0.35"><circle cx="202" cy="178" r="2.25"/><circle cx="203.5" cy="183.7" r="2.25"/><circle cx="209.2" cy="195" r="2.25"/><circle cx="217.8" cy="196.6" r="2.25"/><circle cx="210.6" cy="212" r="2.25"/><circle cx="215" cy="222" r="2.25"/><circle cx="208" cy="205" r="2.25"/><circle cx="213" cy="230" r="2.25"/><circle cx="219" cy="236" r="2.25"/></g>
<g fill="#86a8d2" stroke="#6a8fc0" stroke-width="0.35"><circle cx="205" cy="189" r="2.25"/><circle cx="214" cy="203" r="2.25"/><circle cx="218" cy="226" r="2.25"/></g>
<g stroke-width=".35"><circle class="g" cx="216.7" cy="225.7" r="2.25"/><circle class="b" cx="211" cy="203.6" r="2.25"/><circle class="b" cx="207.4" cy="221.2" r="2.25"/><circle class="b" cx="215.8" cy="224.1" r="2.25"/><circle class="b" cx="209" cy="226.6" r="2.25"/><circle class="b" cx="214.2" cy="231.3" r="2.25"/><circle class="b" cx="213" cy="221.6" r="2.25"/><circle class="l" cx="216.3" cy="218.9" r="2.25"/><circle class="b" cx="212.2" cy="223" r="2.25"/><circle class="l" cx="217.4" cy="211.4" r="2.25"/><circle class="b" cx="212.3" cy="215.6" r="2.25"/><circle class="g" cx="212.5" cy="207.8" r="2.25"/><circle class="l" cx="211.9" cy="215.2" r="2.25"/><circle class="b" cx="209.9" cy="220.7" r="2.25"/><circle class="b" cx="211.5" cy="212.5" r="2.25"/><circle class="b" cx="211.1" cy="210" r="2.25"/><circle class="b" cx="214" cy="207.1" r="2.25"/><circle class="b" cx="213.7" cy="209" r="2.25"/><circle class="b" cx="216.9" cy="225.2" r="2.25"/><circle class="b" cx="211.3" cy="214.8" r="2.25"/><circle class="b" cx="211" cy="222.5" r="2.25"/></g>
<g fill="#3a6cb5" stroke="#2a569c" stroke-width="0.35"><circle cx="124.6" cy="207.5" r="2.1"/><circle cx="154.7" cy="255.7" r="2.1"/><circle cx="173.3" cy="263.7" r="2.1"/><circle cx="183.4" cy="245" r="2.1"/><circle cx="28.6" cy="268.6" r="2.1"/><circle cx="30.1" cy="277" r="2.1"/><circle cx="87.7" cy="134.3" r="2.1"/><circle cx="151" cy="272" r="2.1"/></g>
<g fill="#86a8d2" stroke="#6a8fc0" stroke-width="0.35"><circle cx="28.6" cy="286.4" r="2.1"/><circle cx="171" cy="262" r="2.1"/></g>
<g stroke-width=".35"><circle class="b" cx="176.9" cy="101.2" r="2.0"/><circle class="b" cx="182.2" cy="99.6" r="2.0"/><circle class="b" cx="176.5" cy="101.5" r="2.0"/><circle class="b" cx="176.2" cy="99.9" r="2.0"/><circle class="b" cx="178.9" cy="100.8" r="2.0"/><circle class="b" cx="178.3" cy="101" r="2.0"/><circle class="b" cx="179.7" cy="101.9" r="2.0"/><circle class="b" cx="179.6" cy="100.6" r="2.0"/></g>
<g stroke-width=".35"><circle class="b" cx="181.5" cy="116.7" r="2.0"/><circle class="b" cx="180" cy="117" r="2.0"/><circle class="b" cx="175.2" cy="116.5" r="2.0"/><circle class="b" cx="177.6" cy="116.6" r="2.0"/><circle class="b" cx="180" cy="117" r="2.0"/><circle class="b" cx="177" cy="116" r="2.0"/><circle class="b" cx="180.7" cy="117.6" r="2.0"/><circle class="b" cx="179.3" cy="115.3" r="2.0"/><circle class="b" cx="178" cy="115.2" r="2.0"/></g>
<g stroke-width=".35"><circle class="b" cx="192.5" cy="147.1" r="2.1"/><circle class="b" cx="195.1" cy="144.8" r="2.1"/><circle class="b" cx="194.8" cy="145.2" r="2.1"/><circle class="b" cx="191.6" cy="146.8" r="2.1"/><circle class="b" cx="193.8" cy="145.6" r="2.1"/></g>
<g fill="#ee6a3a" stroke="#cc4a22" stroke-width="0.35"><circle cx="154.7" cy="193.7" r="2.0"/><circle cx="113" cy="219.5" r="2.0"/><circle cx="114.5" cy="235.3" r="2.0"/></g>
<g fill="#f2a36a" stroke="#dd874a" stroke-width="0.35"><circle cx="157.5" cy="193.7" r="1.9"/><circle cx="202" cy="224.4" r="1.9"/><circle cx="206.3" cy="236.7" r="1.9"/><circle cx="210.6" cy="245" r="1.9"/><circle cx="133" cy="234" r="1.9"/><circle cx="124" cy="102" r="1.9"/></g>
<g fill="#e8c9b0" stroke="#dd874a" stroke-width="0.7"><circle cx="128" cy="223.8" r="1.7"/></g>
<g fill="#f2a36a" stroke="#dd874a" stroke-width="0.35"><circle cx="67.3" cy="179.5" r="2.25"/></g>
<g fill="#f2a36a" stroke="#dd874a" stroke-width="0.35"><circle cx="65.5" cy="172.8" r="1.5"/></g>
<rect x="76.7" y="273.1" width="7.6" height="7.5" fill="#e3e2dc"/>
<rect x="37.5" y="42.3" width="93.5" height="13" fill="none" stroke="#0c0c0c" stroke-width="2.1" stroke-dasharray="7.5 5" transform="rotate(-32.2 84.2 48.8)"/>
<rect x="58.5" y="124.6" width="102" height="16" fill="none" stroke="#0c0c0c" stroke-width="2.1" stroke-dasharray="7.5 5" transform="rotate(-32 109.5 132.6)"/>
<rect x="71" y="199.8" width="111.4" height="13.6" fill="none" stroke="#0c0c0c" stroke-width="2.1" stroke-dasharray="7.5 5" transform="rotate(-22 126.7 206.6)"/>
<rect x="79.6" y="273.3" width="114" height="17" fill="none" stroke="#0c0c0c" stroke-width="2.1" stroke-dasharray="7.5 5" transform="rotate(-10.9 136.6 281.8)"/>
<g font-family="Liberation Sans, sans-serif" font-size="4.8" fill="#6a6a78" stroke="#6a6a78" stroke-width=".12"><text x="204" y="21.7">Universit</text><text x="204" y="27.6">of Bristol</text><text x="17.3" y="293.8" fill="#6c6c6c">Methodist</text><text x="18" y="299.6" fill="#6c6c6c">ch</text></g>
<text transform="translate(44.5,20.8) rotate(-25)" font-family="Liberation Sans, sans-serif" font-size="5" fill="#5c5c5c" textLength="23" lengthAdjust="spacingAndGlyphs">Belgrave Pl</text>
<path fill="#666" d="M37 20h1.2v1.2h-1.2zM29 25h1.2v1.2h-1.2zM24 26h1.2v1.2h-1.2zM29 28h1.2v1.2h-1.2zM20 29h1.2v1.2h-1.2zM66 4h1.2v1.2h-1.2z"/>
</g>
<g stroke="#3a3a3a" stroke-width="0.7" fill="#1a1a1a">
<line x1="132.2" y1="30.2" x2="226" y2="30.2"/>
<path d="M130.2 30.2l3.4 -1.5v3z" stroke="none"/>
<line x1="157" y1="102.5" x2="225" y2="102.5"/>
<path d="M155 102.5l3.4 -1.5v3z" stroke="none"/>
<line x1="182.5" y1="182.3" x2="225" y2="182.3"/>
<path d="M180.5 182.3l3.4 -1.5v3z" stroke="none"/>
<line x1="198" y1="267.6" x2="225" y2="267.6"/>
<path d="M196 267.6l3.4 -1.5v3z" stroke="none"/>
</g>
<g font-family="Liberation Serif, serif" font-size="8.8" fill="#111">
<text x="229" y="33.9" textLength="82" lengthAdjust="spacingAndGlyphs">(i) Belgrave Road (BR)</text>
<text x="227.5" y="104.9" textLength="111.5" lengthAdjust="spacingAndGlyphs">(ii) Tyndall's Parks Road (TPR)</text>
<text x="230" y="185.8" textLength="78" lengthAdjust="spacingAndGlyphs">(iii) Priory Road (PR)</text>
<text x="227" y="270.9" textLength="72" lengthAdjust="spacingAndGlyphs">(iv) Elton road (ER)</text>
</g>
<text x="0.9" y="9.5" font-family="Liberation Sans, sans-serif" font-size="10.6" fill="#111" stroke="#111" stroke-width=".3" textLength="11" lengthAdjust="spacingAndGlyphs">(a)</text>
<text x="351" y="13" font-family="Liberation Serif, serif" font-size="10.5" fill="#111">(b)</text>
<text x="351" y="167" font-family="Liberation Serif, serif" font-weight="bold" font-size="10" fill="#111">(c)</text>
<g stroke="#d9d9d9" stroke-width="0.6">
<line x1="408.7" y1="126.9" x2="566" y2="126.9"/>
<line x1="408.7" y1="115.4" x2="566" y2="115.4"/>
<line x1="408.7" y1="103.9" x2="566" y2="103.9"/>
<line x1="408.7" y1="92.4" x2="566" y2="92.4"/>
<line x1="408.7" y1="80.9" x2="566" y2="80.9"/>
<line x1="408.7" y1="69.4" x2="566" y2="69.4"/>
<line x1="408.7" y1="57.9" x2="566" y2="57.9"/>
<line x1="408.7" y1="46.4" x2="566" y2="46.4"/>
<line x1="408.7" y1="34.9" x2="566" y2="34.9"/>
<line x1="408.7" y1="23.4" x2="566" y2="23.4"/>
</g>
<g font-family="Liberation Serif, serif" font-size="6.4" fill="#595959" text-anchor="end">
<text x="404.5" y="129.1">0</text>
<text x="404.5" y="117.6">0.02</text>
<text x="404.5" y="106.1">0.04</text>
<text x="404.5" y="94.6">0.06</text>
<text x="404.5" y="83.1">0.08</text>
<text x="404.5" y="71.6">0.1</text>
<text x="404.5" y="60.1">0.12</text>
<text x="404.5" y="48.6">0.14</text>
<text x="404.5" y="37.1">0.16</text>
<text x="404.5" y="25.6">0.18</text>
</g>
<rect x="418.5" y="103.9" width="8.9" height="23" fill="#adadad"/>
<rect x="430.3" y="119.3" width="8.7" height="7.6" fill="#5e5e5e"/>
<rect x="457.8" y="37.8" width="8.9" height="89.1" fill="#adadad"/>
<rect x="469.6" y="85.2" width="8.7" height="41.7" fill="#5e5e5e"/>
<rect x="497.1" y="106.5" width="8.9" height="20.4" fill="#adadad"/>
<rect x="508.9" y="120.9" width="8.7" height="6" fill="#5e5e5e"/>
<rect x="536.4" y="78" width="8.9" height="48.9" fill="#adadad"/>
<rect x="548.2" y="113.4" width="8.7" height="13.5" fill="#5e5e5e"/>
<g font-family="Liberation Serif, serif" font-size="7.8" fill="#595959" text-anchor="middle">
<text x="429" y="138.9">BR</text>
<text x="468.3" y="138.9">TPR</text>
<text x="507.6" y="138.9">PR</text>
<text x="546.9" y="138.9">ER</text>
</g>
<text x="488.3" y="149.9" font-family="Liberation Serif, serif" font-weight="bold" font-size="8.8" fill="#111" text-anchor="middle">Road</text>
<text transform="translate(387.3,111.5) rotate(-90)" font-family="Liberation Serif, serif" font-weight="bold" font-size="8.9" fill="#111" textLength="72" lengthAdjust="spacing">Dose rate  (µSv/hr)</text>
<text x="483.7" y="12.5" font-family="Liberation Serif, serif" font-weight="bold" font-size="9.5" fill="#404040" text-anchor="middle" textLength="116.5" lengthAdjust="spacing">Dose rate variation  by road</text>
<line x1="425.2" y1="13.8" x2="541.8" y2="13.8" stroke="#404040" stroke-width=".6"/>
<rect x="506.1" y="27.3" width="2.9" height="2.9" fill="#adadad"/><rect x="506.1" y="39.1" width="2.9" height="2.9" fill="#4a4a4a"/>
<g font-family="Liberation Serif, serif" font-size="6.8" fill="#333"><text x="510.7" y="31.3">Mean</text><text x="510.7" y="42.5" textLength="52" lengthAdjust="spacingAndGlyphs">Standard deviation</text></g>
<path d="M405 295.6V181.7H567.8V295.6" fill="#fff" stroke="#666" stroke-width="0.8"/>
<line x1="405.4" y1="295.5" x2="567.5" y2="295.5" stroke="#8fa9cc" stroke-width=".7"/>
<path d="M405.4 295.3L405.6 295.3L405.8 295.3L405.9 295.3L406.1 295.3L406.3 295.3L406.5 295.3L406.7 295.3L406.8 295.3L407 294.8L407.2 281.5L407.4 272.9L407.6 263L407.7 260.8L407.9 244.9L408.1 238.3L408.3 235.3L408.5 232.3L408.6 213.8L408.8 224.6L409 198.5L409.2 209L409.4 208.2L409.5 191.6L409.7 200.2L409.9 203.3L410.1 204.5L410.3 193.5L410.4 201.3L410.6 195.6L410.8 218.2L411 207.2L411.2 205.5L411.3 210.1L411.5 222.9L411.7 213.7L411.9 223.3L412.1 234L412.2 222.3L412.4 234.9L412.6 227.7L412.8 235.1L413 234.4L413.1 236.2L413.3 238.5L413.5 246.1L413.7 234.4L413.9 244.3L414 243.8L414.2 242L414.4 242.6L414.6 247.8L414.8 248.6L414.9 253.3L415.1 247.1L415.3 249.8L415.5 249.9L415.7 252.1L415.8 255.8L416 261.5L416.2 257.9L416.4 259.3L416.6 261.6L416.7 260.7L416.9 261.1L417.1 267L417.3 266.3L417.5 261.4L417.6 262.8L417.8 267.7L418 265.7L418.2 271.2L418.4 266.5L418.5 271.4L418.7 270.8L418.9 272.3L419.1 272.9L419.3 270L419.4 273L419.6 275.3L419.8 273.6L420 275.4L420.2 274.1L420.3 273.7L420.5 277.8L420.7 277.1L420.9 277.4L421.1 275.4L421.2 277.8L421.4 275.8L421.6 278.7L421.8 278.4L422 279L422.2 280.7L422.3 276.9L422.5 280L422.7 280.2L422.9 279.2L423.1 281.7L423.2 279.6L423.4 279.6L423.6 281.3L423.8 280L424 281.2L424.1 282.7L424.3 283.3L424.5 283.1L424.7 284.1L424.9 283.8L425 283.7L425.2 282.8L425.4 284.8L425.6 282.5L425.8 284.9L425.9 283.8L426.1 283.5L426.3 283.3L426.5 283.9L426.7 284.2L426.8 284.1L427 280.3L427.2 279.8L427.4 279.6L427.6 282.1L427.7 281.4L427.9 282.5L428.1 286.1L428.3 287.3L428.5 287.3L428.6 286.1L428.8 287.4L429 286.8L429.2 287.5L429.4 288.5L429.5 286.9L429.7 287L429.9 288.2L430.1 287.8L430.3 288.1L430.4 288.7L430.6 289.3L430.8 287.7L431 289.4L431.2 289L431.3 289.2L431.5 288.8L431.7 288.5L431.9 289.5L432.1 289.7L432.2 290.2L432.4 288.8L432.6 289.3L432.8 290L433 288.7L433.1 289.3L433.3 290.1L433.5 289.1L433.7 289.5L433.9 290.3L434 290.4L434.2 290.8L434.4 289.6L434.6 290L434.8 289.8L434.9 290.7L435.1 290.4L435.3 290.2L435.5 290.7L435.7 290.5L435.8 291.3L436 291.3L436.2 291L436.4 291.2L436.6 290.9L436.7 290.7L436.9 291.4L437.1 291L437.3 290.9L437.5 290.6L437.6 291L437.8 291.6L438 291L438.2 291.2L438.4 291.3L438.5 291.3L438.7 290.9L438.9 291.1L439.1 291.6L439.3 291.9L439.4 291.4L439.6 292.2L439.8 291.1L440 291.7L440.2 291.5L440.3 292L440.5 292.4L440.7 291.8L440.9 292.2L441.1 292.3L441.2 292.5L441.4 291.9L441.6 292.1L441.8 292.6L442 292.1L442.1 292.1L442.3 291.9L442.5 292.4L442.7 292.5L442.9 292.3L443 291.8L443.2 292.4L443.4 293L443.6 292.2L443.8 292.5L443.9 292.4L444.1 292.2L444.3 292.5L444.5 292.4L444.7 292.1L444.8 292.3L445 293L445.2 292.8L445.4 292.8L445.6 292.5L445.7 292.8L445.9 292.8L446.1 292.7L446.3 292.6L446.5 292.7L446.6 292.8L446.8 292.5L447 292.7L447.2 292.7L447.4 292.8L447.5 292.9L447.7 293.3L447.9 292.9L448.1 293L448.3 293.1L448.4 293.4L448.6 293.1L448.8 293.5L449 293.5L449.2 293L449.3 293.2L449.5 293.3L449.7 293.3L449.9 293.2L450.1 292.9L450.2 293L450.4 293.1L450.6 293.1L450.8 293.5L451 293.3L451.1 293.4L451.3 293.1L451.5 293L451.7 293.5L451.9 293.5L452 293.5L452.2 293.7L452.4 293.5L452.6 293.6L452.8 293.3L452.9 293.4L453.1 293.8L453.3 293.9L453.5 293.3L453.7 293.4L453.8 293.4L454 293.5L454.2 293.2L454.4 293.9L454.6 293.6L454.8 294L454.9 293.7L455.1 293.5L455.3 293.5L455.5 293.4L455.7 293.5L455.8 293.6L456 293.7L456.2 293.5L456.4 293.3L456.6 293.3L456.7 293.3L456.9 293.5L457.1 292.8L457.3 293.2L457.5 292.7L457.6 293L457.8 292.5L458 292.7L458.2 292.9L458.4 292.5L458.5 292.9L458.7 292.9L458.9 293.6L459.1 293.5L459.3 293.6L459.4 293.8L459.6 293.7L459.8 293.9L460 293.7L460.2 294L460.3 294L460.5 293.9L460.7 294L460.9 293.8L461.1 293.8L461.2 293.9L461.4 294.1L461.6 293.9L461.8 294.2L462 294.3L462.1 294L462.3 293.9L462.5 294.2L462.7 294.3L462.9 294.1L463 294L463.2 294.1L463.4 294.2L463.6 294.3L463.8 294.4L463.9 294.5L464.1 293.9L464.3 294.5L464.5 294L464.7 294L464.8 294L465 294.2L465.2 294.4L465.4 294.3L465.6 294.5L465.7 294.2L465.9 294.4L466.1 294.3L466.3 294L466.5 294.5L466.6 294L466.8 294.4L467 294L467.2 294L467.4 294.3L467.5 294.3L467.7 294L467.9 294L468.1 293.8L468.3 293.1L468.4 293.8L468.6 293.3L468.8 293.5L469 293.6L469.2 292.9L469.3 293L469.5 293.4L469.7 293.3L469.9 293.9L470.1 293.8L470.2 294.2L470.4 294.2L470.6 294.6L470.8 294.4L471 294.2L471.1 294.3L471.3 294.2L471.5 294.3L471.7 294.2L471.9 294.2L472 294.2L472.2 294.8L472.4 294.4L472.6 294.2L472.8 294.5L472.9 294.7L473.1 294.4L473.3 294.7L473.5 294.8L473.7 294.7L473.8 294.6L474.6 294.6L475.3 294.4L476 294.3L476.7 294.6L477.4 294.6L478.2 294.7L478.9 294.3L479.6 294.9L480.3 294.7L481 294.5L481.8 294.5L482.5 294.4L483.2 294.8L483.9 294.8L484.6 295L485.4 294.7L486.1 294.6L486.8 294.9L487.5 294.9L488.3 294.6L489 294.8L489.7 294.5" fill="none" stroke="#f0202a" stroke-width="0.9" stroke-linejoin="round"/>
<path d="M405.4 295.3L405.6 295.3L405.8 295.3L405.9 295.3L406.1 295.3L406.3 295.3L406.5 295.3L406.7 295.3L406.8 295.3L407 294.9L407.2 288.3L407.4 280.9L407.6 276.3L407.7 271.6L407.9 267.3L408.1 263.8L408.3 257.3L408.5 251.4L408.6 251.6L408.8 251.8L409 243.8L409.2 240.9L409.4 235.7L409.5 235.9L409.7 236.5L409.9 235.7L410.1 235.9L410.3 235L410.4 238.4L410.6 239.8L410.8 245.5L411 241.2L411.2 244.6L411.3 248.8L411.5 249.8L411.7 251L411.9 253.5L412.1 250.3L412.2 254.1L412.4 254.2L412.6 259.2L412.8 256.8L413 256.3L413.1 257.4L413.3 258L413.5 262.1L413.7 262L413.9 265.2L414 264.5L414.2 265L414.4 264.5L414.6 265L414.8 266.8L414.9 268L415.1 270.7L415.3 272.1L415.5 269.1L415.7 272.6L415.8 272.3L416 274.8L416.2 274.6L416.4 275.4L416.6 276.3L416.7 276.9L416.9 274.3L417.1 277.1L417.3 277L417.5 275.3L417.6 279.1L417.8 277.3L418 279.6L418.2 280.2L418.4 278.2L418.5 278.1L418.7 278.7L418.9 280.4L419.1 280.2L419.3 282.1L419.4 280.4L419.6 281.5L419.8 282.1L420 281.2L420.2 282.4L420.3 284L420.5 284.2L420.7 284.7L420.9 284.6L421.1 283.8L421.2 283.1L421.4 285.1L421.6 285.2L421.8 284.6L422 284.9L422.2 285.5L422.3 286.7L422.5 286.1L422.7 285.7L422.9 287.1L423.1 287L423.2 286.6L423.4 287L423.6 287.3L423.8 286.3L424 287.4L424.1 287.5L424.3 287.7L424.5 288.4L424.7 287.5L424.9 287.9L425 288.1L425.2 287.7L425.4 289L425.6 289.2L425.8 288.2L425.9 289.5L426.1 289L426.3 289.2L426.5 289.3L426.7 288.3L426.8 288.2L427 287.6L427.2 286.8L427.4 286.2L427.6 287.8L427.7 288.3L427.9 288.2L428.1 289.3L428.3 289.5L428.5 289.9L428.6 290.5L428.8 290.2L429 290.5L429.2 290.1L429.4 290.2L429.5 291L429.7 290.9L429.9 290.9L430.1 290.6L430.3 290.9L430.4 291L430.6 291.5L430.8 291.7L431 290.8L431.2 291.4L431.3 291.7L431.5 291.3L431.7 291.6L431.9 291.8L432.1 291.2L432.2 292L432.4 291.7L432.6 291.5L432.8 291.7L433 291.5L433.1 292L433.3 292.2L433.5 291.8L433.7 292.3L433.9 292.2L434 291.9L434.2 292.1L434.4 292L434.6 292.1L434.8 292L434.9 292.5L435.1 292.4L435.3 292.1L435.5 292.7L435.7 292.3L435.8 292.3L436 292.7L436.2 292.5L436.4 292.3L436.6 292.7L436.7 292.7L436.9 292.6L437.1 292.8L437.3 292.9L437.5 292.9L437.6 292.8L437.8 292.8L438 293.3L438.2 292.8L438.4 292.8L438.5 292.9L438.7 293.2L438.9 293.2L439.1 293.1L439.3 293.1L439.4 293L439.6 293L439.8 293.2L440 293.4L440.2 293.3L440.3 293.4L440.5 293.1L440.7 293.3L440.9 293.2L441.1 293.3L441.2 293.3L441.4 293.4L441.6 293.3L441.8 293.2L442 293.4L442.1 293.5L442.3 293.5L442.5 293.3L442.7 293.4L442.9 293.7L443 293.6L443.2 293.4L443.4 293.6L443.6 293.7L443.8 293.8L443.9 293.8L444.1 293.7L444.3 293.4L444.5 293.6L444.7 293.6L444.8 293.9L445 293.7L445.2 293.8L445.4 293.8L445.6 293.6L445.7 293.7L445.9 293.7L446.1 293.7L446.3 293.6L446.5 293.7L446.6 293.6L446.8 293.6L447 293.9L447.2 293.9L447.4 294L447.5 293.9L447.7 293.8L447.9 293.8L448.1 294.2L448.3 294L448.4 293.7L448.6 293.9L448.8 294.1L449 294L449.2 294L449.3 294.2L449.5 294.1L449.7 294.2L449.9 294.1L450.1 294.2L450.2 294.2L450.4 294.1L450.6 294L450.8 294.3L451 294.1L451.1 294.2L451.3 294L451.5 294.1L451.7 294.2L451.9 294.1L452 294.1L452.2 294.1L452.4 294.2L452.6 294L452.8 294L452.9 294.3L453.1 294.4L453.3 294.1L453.5 294.2L453.7 294.1L453.8 294.4L454 294.4L454.2 294.4L454.4 294.5L454.6 294.4L454.8 294.2L454.9 294.2L455.1 294.4L455.3 294.5L455.5 294.5L455.7 294.2L455.8 294.3L456 294.2L456.2 294.4L456.4 294.5L456.6 294.4L456.7 294.4L456.9 294.1L457.1 293.8L457.3 293.9L457.5 293.9L457.6 293.7L457.8 293.8L458 293.8L458.2 293.8L458.4 293.7L458.5 293.8L458.7 294.1L458.9 293.9L459.1 294.2L459.3 294.2L459.4 294.4L459.6 294.6L459.8 294.4L460 294.4L460.2 294.5L460.3 294.5L460.5 294.4L460.7 294.7L460.9 294.7L461.1 294.5L461.2 294.4L461.4 294.4L461.6 294.6L461.8 294.5L462 294.6L462.1 294.5L462.3 294.6L462.5 294.6L462.7 294.7L462.9 294.7L463 294.7L463.2 294.6L463.4 294.6L463.6 294.7L463.8 294.5L463.9 294.6L464.1 294.7L464.3 294.7L464.5 294.7L464.7 294.7L464.8 294.7L465 294.6L465.2 294.7L465.4 294.6L465.6 294.6L465.7 294.8L465.9 294.7L466.1 294.6L466.3 294.8L466.5 294.8L466.6 294.7L466.8 294.7L467 294.8L467.2 294.8L467.4 294.6L467.5 294.8L467.7 294.3L467.9 294.4L468.1 294.1L468.3 294.4L468.4 293.9L468.6 294L468.8 293.9L469 293.9L469.2 294.2L469.3 294.1L469.5 294.2L469.7 294.3L469.9 294.4L470.1 294.6L470.2 294.7L470.4 294.5L470.6 294.6L470.8 294.9L471 294.8L471.1 294.9L471.3 294.8L471.5 294.7L471.7 294.7L471.9 295L472 294.9L472.2 294.9L472.4 294.8L472.6 294.6L472.8 294.8L472.9 294.8L473.1 295L473.3 294.8L473.5 294.7L473.7 294.9L473.8 294.8L474.6 294.8L475.3 294.7L476 294.7L476.7 294.8L477.4 295L478.2 294.8L478.9 294.9L479.6 294.8L480.3 295.1L481 294.9L481.8 295L482.5 295L483.2 294.9L483.9 294.8L484.6 295L485.4 295.1L486.1 294.9L486.8 295L487.5 295.1L488.3 295.1L489 295.1L489.7 295" fill="none" stroke="#22aeee" stroke-width="0.9" stroke-linejoin="round"/>
<path d="M405.4 295.3L405.6 295.3L405.8 295.3L405.9 295.3L406.1 295.3L406.3 295.3L406.5 295.3L406.7 295.3L406.8 295.3L407 295.3L407.2 292.6L407.4 291L407.6 287.6L407.7 286.1L407.9 285L408.1 284.6L408.3 282.9L408.5 279L408.6 277.6L408.8 278.5L409 274.8L409.2 272.6L409.4 272.7L409.5 272.1L409.7 273L409.9 270.7L410.1 273.8L410.3 272.3L410.4 273.1L410.6 275.8L410.8 275.9L411 278.7L411.2 276L411.3 280.2L411.5 279.5L411.7 279.1L411.9 277.3L412.1 280.3L412.2 279.8L412.4 281.3L412.6 281.9L412.8 280.1L413 283.6L413.1 281.4L413.3 283.6L413.5 284.1L413.7 284.9L413.9 282.4L414 283.2L414.2 285.8L414.4 283.2L414.6 285.1L414.8 284.8L414.9 286.1L415.1 285.9L415.3 286.2L415.5 286.7L415.7 287.6L415.8 286.1L416 287.5L416.2 286.1L416.4 288.1L416.6 288.6L416.7 287.5L416.9 288.9L417.1 288.6L417.3 289.1L417.5 288L417.6 287.8L417.8 289.3L418 289.8L418.2 289.5L418.4 288.8L418.5 290.3L418.7 290.1L418.9 290.1L419.1 290.5L419.3 289.4L419.4 289.4L419.6 289.7L419.8 289.9L420 290.6L420.2 290.9L420.3 290.1L420.5 291L420.7 290.5L420.9 290.6L421.1 290.9L421.2 291.4L421.4 290.9L421.6 290.8L421.8 291.4L422 291.2L422.2 291.2L422.3 292.2L422.5 291.7L422.7 291.6L422.9 292.3L423.1 291.7L423.2 291.8L423.4 291.8L423.6 291.9L423.8 292L424 292.2L424.1 292.1L424.3 292.5L424.5 292.9L424.7 292.5L424.9 292.3L425 293L425.2 292.5L425.4 293.1L425.6 292.7L425.8 292.9L425.9 292.7L426.1 293.1L426.3 292.7L426.5 293.1L426.7 292.4L426.8 292.5L427 292.1L427.2 291.8L427.4 292.2L427.6 292.3L427.7 292.7L427.9 293.1L428.1 293.1L428.3 293.2L428.5 293.3L428.6 293.5L428.8 293.5L429 293.6L429.2 293.6L429.4 293.6L429.5 293.4L429.7 293.6L429.9 293.7L430.1 293.7L430.3 293.8L430.4 293.6L430.6 293.8L430.8 293.7L431 293.8L431.2 294.1L431.3 293.8L431.5 293.8L431.7 293.9L431.9 293.9L432.1 293.9L432.2 294.1L432.4 294.1L432.6 294.2L432.8 293.8L433 293.9L433.1 294L433.3 294L433.5 294L433.7 294L433.9 294.2L434 294.1L434.2 294.1L434.4 294.2L434.6 294.2L434.8 294.1L434.9 294.3L435.1 294.3L435.3 294L435.5 294.3L435.7 294.2L435.8 294.4L436 294.4L436.2 294.2L436.4 294.3L436.6 294.3L436.7 294.4L436.9 294.2L437.1 294.4L437.3 294.5L437.5 294.4L437.6 294.3L437.8 294.5L438 294.4L438.2 294.5L438.4 294.4L438.5 294.4L438.7 294.5L438.9 294.6L439.1 294.6L439.3 294.5L439.4 294.5L439.6 294.4L439.8 294.4L440 294.4L440.2 294.5L440.3 294.5L440.5 294.6L440.7 294.5L440.9 294.7L441.1 294.5L441.2 294.6L441.4 294.5L441.6 294.6L441.8 294.6L442 294.6L442.1 294.7L442.3 294.5L442.5 294.7L442.7 294.6L442.9 294.6L443 294.5L443.2 294.5L443.4 294.6L443.6 294.6L443.8 294.7L443.9 294.6L444.1 294.6L444.3 294.7L444.5 294.7L444.7 294.6L444.8 294.7L445 294.7L445.2 294.6L445.4 294.6L445.6 294.7L445.7 294.7L445.9 294.7L446.1 294.8L446.3 294.7L446.5 294.8L446.6 294.9L446.8 294.7L447 294.8L447.2 294.7L447.4 294.8L447.5 294.7L447.7 294.8L447.9 294.8L448.1 294.9L448.3 294.8L448.4 294.7L448.6 294.9L448.8 294.9L449 294.8L449.2 294.7L449.3 294.8L449.5 294.8L449.7 294.9L449.9 294.8L450.1 294.8L450.2 294.8L450.4 294.8L450.6 294.9L450.8 294.9L451 294.9L451.1 294.8L451.3 294.9L451.5 294.9L451.7 295L451.9 294.9L452 294.8L452.2 294.9L452.4 294.9L452.6 294.9L452.8 294.9L452.9 294.9L453.1 294.9L453.3 294.8L453.5 294.9L453.7 294.9L453.8 294.9L454 295L454.2 295L454.4 294.9L454.6 294.9L454.8 294.9L454.9 294.9L455.1 294.9L455.3 295L455.5 294.9L455.7 294.9L455.8 295L456 295L456.2 294.9L456.4 294.9L456.6 294.9L456.7 295L456.9 294.9L457.1 294.9L457.3 294.8L457.5 294.7L457.6 294.7L457.8 294.7L458 294.8L458.2 294.7L458.4 294.6L458.5 294.8L458.7 294.8L458.9 294.9L459.1 294.9L459.3 294.9L459.4 295L459.6 294.9L459.8 295L460 295L460.2 295L460.3 295L460.5 295L460.7 295L460.9 295.1L461.1 295L461.2 295.1L461.4 295.1L461.6 295.1L461.8 295.1L462 295L462.1 295L462.3 295L462.5 295L462.7 295.1L462.9 295.1L463 295.1L463.2 295L463.4 295.1L463.6 295L463.8 295L463.9 295.1L464.1 295L464.3 295L464.5 295.1L464.7 295L464.8 295.1L465 295L465.2 295L465.4 295.1L465.6 295.1L465.7 295L465.9 295.1L466.1 295.1L466.3 295.1L466.5 295L466.6 295.1L466.8 295L467 295.1L467.2 295.1L467.4 295.1L467.5 295L467.7 295L467.9 295L468.1 295L468.3 295L468.4 294.9L468.6 294.9L468.8 294.8L469 294.8L469.2 294.8L469.3 294.9L469.5 294.9L469.7 295L469.9 294.9L470.1 295L470.2 295.1L470.4 295L470.6 295.1L470.8 295.1L471 295.1L471.1 295L471.3 295.1L471.5 295.1L471.7 295.1L471.9 295.1L472 295.1L472.2 295.1L472.4 295.1L472.6 295.1L472.8 295.2L472.9 295.2L473.1 295.1L473.3 295.1L473.5 295.2L473.7 295.1L473.8 295.2L474.6 295.1L475.3 295.2L476 295.2L476.7 295.2L477.4 295.1L478.2 295.1L478.9 295.2L479.6 295.1L480.3 295.2L481 295.1L481.8 295.1L482.5 295.1L483.2 295.2L483.9 295.2L484.6 295.2L485.4 295.2L486.1 295.1L486.8 295.2L487.5 295.1L488.3 295.1L489 295.1L489.7 295.1" fill="none" stroke="#22c030" stroke-width="0.9" stroke-linejoin="round"/>
<path d="M405.4 295.3L405.6 295.3L405.8 295.3L405.9 295.3L406.1 295.3L406.3 295.3L406.5 295.3L406.7 295.3L406.8 295.3L407 295.2L407.2 292L407.4 289.5L407.6 288.1L407.7 285.9L407.9 282.3L408.1 280.6L408.3 279.4L408.5 277.5L408.6 276.2L408.8 274L409 271.9L409.2 272.5L409.4 268L409.5 267.1L409.7 267.9L409.9 270.4L410.1 270.8L410.3 269.6L410.4 273.8L410.6 270.6L410.8 272.9L411 274L411.2 275.2L411.3 274.8L411.5 275L411.7 274.9L411.9 276.3L412.1 276.1L412.2 276.5L412.4 277.8L412.6 277.8L412.8 280.1L413 278.6L413.1 281.4L413.3 281L413.5 281.6L413.7 280.5L413.9 281.6L414 281.7L414.2 281.5L414.4 282.8L414.6 283.8L414.8 283.4L414.9 284.6L415.1 284L415.3 285.4L415.5 285.1L415.7 284.3L415.8 285.4L416 285.3L416.2 285.7L416.4 285.3L416.6 286.4L416.7 287L416.9 286L417.1 287L417.3 287.3L417.5 288.1L417.6 287.5L417.8 287.6L418 287.8L418.2 287.8L418.4 289.1L418.5 288.2L418.7 289L418.9 288.8L419.1 289.2L419.3 289.3L419.4 289.6L419.6 289.2L419.8 289.5L420 290L420.2 289.6L420.3 290.3L420.5 290L420.7 290.4L420.9 290L421.1 290.2L421.2 290.7L421.4 290.3L421.6 291.1L421.8 290.9L422 290.6L422.2 291.4L422.3 290.9L422.5 291L422.7 291.6L422.9 291.2L423.1 291.6L423.2 291.6L423.4 291.4L423.6 292L423.8 291.5L424 291.8L424.1 291.7L424.3 291.8L424.5 292L424.7 292.3L424.9 292.4L425 292.2L425.2 292.2L425.4 292.1L425.6 292.1L425.8 292.2L425.9 292.7L426.1 292.8L426.3 292.4L426.5 292.4L426.7 292.3L426.8 292.1L427 291.7L427.2 291.7L427.4 291.5L427.6 291.9L427.7 291.8L427.9 292.3L428.1 292.6L428.3 293.2L428.5 293.2L428.6 293.2L428.8 293.2L429 293.5L429.2 293.5L429.4 293.1L429.5 293.5L429.7 293.5L429.9 293.4L430.1 293.4L430.3 293.6L430.4 293.6L430.6 293.5L430.8 293.7L431 293.6L431.2 293.5L431.3 293.5L431.5 293.7L431.7 293.7L431.9 293.7L432.1 293.8L432.2 293.7L432.4 293.9L432.6 293.8L432.8 293.7L433 293.7L433.1 293.9L433.3 293.9L433.5 293.8L433.7 293.8L433.9 293.9L434 294L434.2 294.2L434.4 294L434.6 294.2L434.8 294L434.9 294.1L435.1 294.1L435.3 294L435.5 294L435.7 294.1L435.8 294.1L436 294.1L436.2 294L436.4 294.3L436.6 294.1L436.7 294.3L436.9 294.2L437.1 294.2L437.3 294.3L437.5 294.3L437.6 294.3L437.8 294.2L438 294.3L438.2 294.2L438.4 294.3L438.5 294.3L438.7 294.3L438.9 294.4L439.1 294.3L439.3 294.3L439.4 294.5L439.6 294.4L439.8 294.5L440 294.3L440.2 294.4L440.3 294.4L440.5 294.4L440.7 294.6L440.9 294.5L441.1 294.5L441.2 294.4L441.4 294.4L441.6 294.5L441.8 294.4L442 294.4L442.1 294.5L442.3 294.5L442.5 294.4L442.7 294.6L442.9 294.5L443 294.4L443.2 294.5L443.4 294.6L443.6 294.6L443.8 294.5L443.9 294.6L444.1 294.6L444.3 294.6L444.5 294.6L444.7 294.7L444.8 294.6L445 294.7L445.2 294.6L445.4 294.7L445.6 294.6L445.7 294.7L445.9 294.7L446.1 294.6L446.3 294.7L446.5 294.6L446.6 294.6L446.8 294.7L447 294.6L447.2 294.7L447.4 294.6L447.5 294.8L447.7 294.7L447.9 294.7L448.1 294.8L448.3 294.7L448.4 294.7L448.6 294.8L448.8 294.8L449 294.7L449.2 294.7L449.3 294.7L449.5 294.8L449.7 294.8L449.9 294.7L450.1 294.8L450.2 294.8L450.4 294.8L450.6 294.8L450.8 294.8L451 294.8L451.1 294.8L451.3 294.8L451.5 294.9L451.7 294.9L451.9 294.8L452 294.9L452.2 294.8L452.4 294.8L452.6 294.9L452.8 294.9L452.9 294.8L453.1 294.9L453.3 294.9L453.5 294.8L453.7 294.8L453.8 294.8L454 294.8L454.2 294.9L454.4 294.8L454.6 294.8L454.8 294.9L454.9 294.9L455.1 294.9L455.3 294.9L455.5 294.9L455.7 294.9L455.8 294.8L456 294.9L456.2 294.8L456.4 294.9L456.6 294.9L456.7 294.8L456.9 294.8L457.1 294.8L457.3 294.7L457.5 294.6L457.6 294.6L457.8 294.5L458 294.6L458.2 294.6L458.4 294.8L458.5 294.8L458.7 294.8L458.9 294.8L459.1 294.8L459.3 294.9L459.4 294.9L459.6 294.9L459.8 294.9L460 295L460.2 295L460.3 295L460.5 295L460.7 295L460.9 295L461.1 295L461.2 295.1L461.4 295L461.6 295.1L461.8 295L462 295.1L462.1 295L462.3 294.9L462.5 295.1L462.7 295.1L462.9 295L463 295.1L463.2 295L463.4 295L463.6 295L463.8 295.1L463.9 295L464.1 295.1L464.3 294.9L464.5 295.1L464.7 295.1L464.8 295.1L465 295L465.2 295.1L465.4 295L465.6 295L465.7 295.1L465.9 295L466.1 295.1L466.3 295L466.5 295.1L466.6 295L466.8 295.1L467 295L467.2 295L467.4 295L467.5 295L467.7 294.9L467.9 295L468.1 294.9L468.3 294.8L468.4 294.9L468.6 294.8L468.8 294.7L469 294.8L469.2 294.7L469.3 294.7L469.5 294.8L469.7 294.8L469.9 294.9L470.1 295L470.2 295L470.4 295.1L470.6 295L470.8 295.1L471 295.1L471.1 295.1L471.3 295L471.5 295.1L471.7 295L471.9 295L472 295.1L472.2 295.2L472.4 295.1L472.6 295L472.8 295L472.9 295.1L473.1 295L473.3 295.1L473.5 295L473.7 295.1L473.8 295.2L474.6 295.1L475.3 295.1L476 295.1L476.7 295.2L477.4 295.1L478.2 295.1L478.9 295.1L479.6 295.1L480.3 295.2L481 295.2L481.8 295.2L482.5 295.2L483.2 295.1L483.9 295.1L484.6 295.1L485.4 295.2L486.1 295.1L486.8 295.2L487.5 295.2L488.3 295.1L489 295.1L489.7 295.2" fill="none" stroke="#16289a" stroke-width="0.9" stroke-linejoin="round"/>
<path d="M554.8 295.3V264.5" stroke="#e8788a" stroke-width=".6"/><path d="M555.3 295.3V259.4" stroke="#3a8fd2" stroke-width=".7"/>
<g stroke="#333" stroke-width="0.6">
<line x1="402.4" y1="295.3" x2="405" y2="295.3"/>
<line x1="402.4" y1="284" x2="405" y2="284"/>
<line x1="402.4" y1="272.7" x2="405" y2="272.7"/>
<line x1="402.4" y1="261.4" x2="405" y2="261.4"/>
<line x1="402.4" y1="250.1" x2="405" y2="250.1"/>
<line x1="402.4" y1="238.8" x2="405" y2="238.8"/>
<line x1="402.4" y1="227.5" x2="405" y2="227.5"/>
<line x1="402.4" y1="216.2" x2="405" y2="216.2"/>
<line x1="402.4" y1="204.9" x2="405" y2="204.9"/>
<line x1="402.4" y1="193.6" x2="405" y2="193.6"/>
<line x1="402.4" y1="182.3" x2="405" y2="182.3"/>
</g>
<g font-family="Liberation Sans, sans-serif" font-size="6.1" fill="#1a1a1a" stroke="#1a1a1a" stroke-width=".18">
<g text-anchor="end">
<text x="401.6" y="297.5">0</text>
<text x="401.6" y="286.2">100</text>
<text x="401.6" y="274.9">200</text>
<text x="401.6" y="263.6">300</text>
<text x="401.6" y="252.3">400</text>
<text x="401.6" y="241">500</text>
<text x="401.6" y="229.7">600</text>
<text x="401.6" y="218.4">700</text>
<text x="401.6" y="207.1">800</text>
<text x="401.6" y="195.8">900</text>
<text x="401.6" y="184.5">1000</text>
</g><g text-anchor="middle">
<text x="405.4" y="304.9">0</text>
<text x="423.4" y="304.9">500</text>
<text x="441.4" y="304.9">1000</text>
<text x="459.4" y="304.9">1500</text>
<text x="477.4" y="304.9">2000</text>
<text x="495.5" y="304.9">2500</text>
<text x="513.5" y="304.9">3000</text>
<text x="531.5" y="304.9">3500</text>
<text x="549.5" y="304.9">4000</text>
<text x="567.5" y="304.9">4500</text>
</g>
<text x="484.5" y="313.6" text-anchor="middle" font-size="6.3">Energy (kev)</text>
<text transform="translate(384.3,239) rotate(-90)" text-anchor="middle" font-size="6.3">Counts</text>
</g>
<rect x="444" y="163.4" width="121.3" height="15.3" rx="2.5" fill="#fff" stroke="#a8a8a8" stroke-width="0.9"/>
<g font-family="Liberation Sans, sans-serif" font-size="6.4" fill="#222" font-weight="bold">
<text x="450.8" y="173.7" textLength="6.6" lengthAdjust="spacingAndGlyphs" fill="#666">BR</text>
<rect x="465.4" y="166.1" width="10.3" height="9.8" fill="#fff" stroke="#8a8f9a" stroke-width="0.8"/>
<path d="M466.6 173.4l3.1-6.2l2.1 6.1l2.6-6.5" fill="none" stroke="#3f7fd8" stroke-width="0.75" stroke-linejoin="round"/>
<text x="478.8" y="173.7" textLength="10.9" lengthAdjust="spacingAndGlyphs" fill="#222">TPR</text>
<rect x="493.3" y="166.1" width="10.3" height="9.8" fill="#fff" stroke="#8a8f9a" stroke-width="0.8"/>
<path d="M494.5 173.4l3.1-6.2l2.1 6.1l2.6-6.5" fill="none" stroke="#ee3a44" stroke-width="0.75" stroke-linejoin="round"/>
<text x="506" y="173.7" textLength="7.4" lengthAdjust="spacingAndGlyphs" fill="#222">PR</text>
<rect x="521.4" y="166.1" width="10.3" height="9.8" fill="#fff" stroke="#8a8f9a" stroke-width="0.8"/>
<path d="M522.6 173.4l3.1-6.2l2.1 6.1l2.6-6.5" fill="none" stroke="#3ad03a" stroke-width="0.75" stroke-linejoin="round"/>
<text x="534.8" y="173.7" textLength="6.8" lengthAdjust="spacingAndGlyphs" fill="#222">ER</text>
<rect x="549.6" y="166.1" width="10.3" height="9.8" fill="#fff" stroke="#8a8f9a" stroke-width="0.8"/>
<path d="M550.8 173.4l3.1-6.2l2.1 6.1l2.6-6.5" fill="none" stroke="#3ebcf0" stroke-width="0.75" stroke-linejoin="round"/>
</g>
</svg>
</body></html>
